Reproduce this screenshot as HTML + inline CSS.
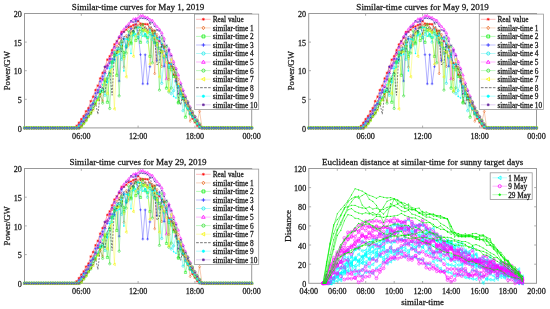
<!DOCTYPE html><html><head><meta charset="utf-8"><title>figure</title><style>html,body{margin:0;padding:0;background:#fff}svg{display:block}text{font-family:'Liberation Serif', 'Times New Roman', serif;fill:#1a1a1a;stroke:#1a1a1a;stroke-width:0.26px}</style></head><body>
<svg width="550" height="309" viewBox="0 0 550 309" font-size="8.1">
<rect width="550" height="309" fill="#fff"/>
<rect x="24.5" y="13.5" width="227.2" height="114.4" fill="none" stroke="#999" stroke-width="1"/>
<path d="M81.3 127.9v-2.3M81.3 13.5v2.3M138.1 127.9v-2.3M138.1 13.5v2.3M194.9 127.9v-2.3M194.9 13.5v2.3M24.5 99.3h2.3M251.7 99.3h-2.3M24.5 70.7h2.3M251.7 70.7h-2.3M24.5 42.1h2.3M251.7 42.1h-2.3" stroke="#999" stroke-width="0.8" fill="none"/>
<path d="M24.5 127.9 26.9 127.9 29.2 127.9 31.6 127.9 34 127.9 36.3 127.9 38.7 127.9 41.1 127.9 43.4 127.9 45.8 127.9 48.2 127.9 50.5 127.9 52.9 127.9 55.3 127.9 57.6 127.9 60 127.9 62.4 127.9 64.7 127.9 67.1 127.9 69.5 127.9 71.8 127.9 74.2 127.9 76.6 126 78.9 122.8 81.3 119.2 83.7 116.1 86 111.3 88.4 108.2 90.8 101.2 93.1 96.8 95.5 90.1 97.9 85.6 100.2 78.4 102.6 72.9 105 67 107.3 59.7 109.7 56.3 112.1 50.2 114.4 44.4 116.8 41.3 119.2 37.9 121.5 31.9 123.9 31.6 126.3 29.7 128.6 27.2 131 26.5 133.4 25.1 135.7 24.4 138.1 21.1 140.5 23.6 142.8 24 145.2 24.2 147.6 24.3 149.9 28.5 152.3 31.3 154.7 30.7 157 38.1 159.4 41 161.8 44 164.1 47 166.5 56.1 168.9 63.2 171.2 66.5 173.6 74.7 176 81.3 178.3 87 180.7 93.9 183.1 99.4 185.4 105.2 187.8 109.4 190.2 113.8 192.5 118.6 194.9 122.3 197.3 125.7 199.6 127.9 202 127.9 204.4 127.9 206.7 127.9 209.1 127.9 211.5 127.9 213.8 127.9 216.2 127.9 218.6 127.9 220.9 127.9 223.3 127.9 225.7 127.9 228 127.9 230.4 127.9 232.8 127.9 235.1 127.9 237.5 127.9 239.9 127.9 242.2 127.9 244.6 127.9 247 127.9 249.3 127.9 251.7 127.9" fill="none" stroke="#ff0000" stroke-width="0.35"/>
<path d="M23.1 127.9h2.7M24.5 126.6v2.7M23.6 127l1.9 1.9M23.6 128.8l1.9 -1.9M25.5 127.9h2.7M26.9 126.6v2.7M25.9 127l1.9 1.9M25.9 128.8l1.9 -1.9M27.9 127.9h2.7M29.2 126.6v2.7M28.3 127l1.9 1.9M28.3 128.8l1.9 -1.9M30.2 127.9h2.7M31.6 126.6v2.7M30.7 127l1.9 1.9M30.7 128.8l1.9 -1.9M32.6 127.9h2.7M34 126.6v2.7M33 127l1.9 1.9M33 128.8l1.9 -1.9M35 127.9h2.7M36.3 126.6v2.7M35.4 127l1.9 1.9M35.4 128.8l1.9 -1.9M37.4 127.9h2.7M38.7 126.6v2.7M37.8 127l1.9 1.9M37.8 128.8l1.9 -1.9M39.7 127.9h2.7M41.1 126.6v2.7M40.1 127l1.9 1.9M40.1 128.8l1.9 -1.9M42.1 127.9h2.7M43.4 126.6v2.7M42.5 127l1.9 1.9M42.5 128.8l1.9 -1.9M44.4 127.9h2.7M45.8 126.6v2.7M44.9 127l1.9 1.9M44.9 128.8l1.9 -1.9M46.8 127.9h2.7M48.2 126.6v2.7M47.2 127l1.9 1.9M47.2 128.8l1.9 -1.9M49.2 127.9h2.7M50.5 126.6v2.7M49.6 127l1.9 1.9M49.6 128.8l1.9 -1.9M51.5 127.9h2.7M52.9 126.6v2.7M52 127l1.9 1.9M52 128.8l1.9 -1.9M53.9 127.9h2.7M55.3 126.6v2.7M54.3 127l1.9 1.9M54.3 128.8l1.9 -1.9M56.3 127.9h2.7M57.6 126.6v2.7M56.7 127l1.9 1.9M56.7 128.8l1.9 -1.9M58.6 127.9h2.7M60 126.6v2.7M59.1 127l1.9 1.9M59.1 128.8l1.9 -1.9M61 127.9h2.7M62.4 126.6v2.7M61.4 127l1.9 1.9M61.4 128.8l1.9 -1.9M63.4 127.9h2.7M64.7 126.6v2.7M63.8 127l1.9 1.9M63.8 128.8l1.9 -1.9M65.8 127.9h2.7M67.1 126.6v2.7M66.2 127l1.9 1.9M66.2 128.8l1.9 -1.9M68.1 127.9h2.7M69.5 126.6v2.7M68.5 127l1.9 1.9M68.5 128.8l1.9 -1.9M70.5 127.9h2.7M71.8 126.6v2.7M70.9 127l1.9 1.9M70.9 128.8l1.9 -1.9M72.9 127.9h2.7M74.2 126.6v2.7M73.3 127l1.9 1.9M73.3 128.8l1.9 -1.9M75.2 126h2.7M76.6 124.6v2.7M75.6 125l1.9 1.9M75.6 126.9l1.9 -1.9M77.6 122.8h2.7M78.9 121.4v2.7M78 121.8l1.9 1.9M78 123.7l1.9 -1.9M80 119.2h2.7M81.3 117.8v2.7M80.4 118.2l1.9 1.9M80.4 120.1l1.9 -1.9M82.3 116.1h2.7M83.7 114.7v2.7M82.7 115.1l1.9 1.9M82.7 117l1.9 -1.9M84.7 111.3h2.7M86 110v2.7M85.1 110.4l1.9 1.9M85.1 112.3l1.9 -1.9M87.1 108.2h2.7M88.4 106.8v2.7M87.5 107.2l1.9 1.9M87.5 109.1l1.9 -1.9M89.4 101.2h2.7M90.8 99.9v2.7M89.8 100.3l1.9 1.9M89.8 102.2l1.9 -1.9M91.8 96.8h2.7M93.1 95.4v2.7M92.2 95.8l1.9 1.9M92.2 97.7l1.9 -1.9M94.2 90.1h2.7M95.5 88.7v2.7M94.6 89.1l1.9 1.9M94.6 91l1.9 -1.9M96.5 85.6h2.7M97.9 84.3v2.7M96.9 84.7l1.9 1.9M96.9 86.6l1.9 -1.9M98.9 78.4h2.7M100.2 77.1v2.7M99.3 77.5l1.9 1.9M99.3 79.4l1.9 -1.9M101.2 72.9h2.7M102.6 71.5v2.7M101.7 71.9l1.9 1.9M101.7 73.8l1.9 -1.9M103.6 67h2.7M105 65.6v2.7M104 66l1.9 1.9M104 67.9l1.9 -1.9M106 59.7h2.7M107.3 58.4v2.7M106.4 58.8l1.9 1.9M106.4 60.7l1.9 -1.9M108.4 56.3h2.7M109.7 54.9v2.7M108.8 55.3l1.9 1.9M108.8 57.2l1.9 -1.9M110.7 50.2h2.7M112.1 48.9v2.7M111.1 49.3l1.9 1.9M111.1 51.2l1.9 -1.9M113.1 44.4h2.7M114.4 43.1v2.7M113.5 43.5l1.9 1.9M113.5 45.4l1.9 -1.9M115.5 41.3h2.7M116.8 39.9v2.7M115.9 40.3l1.9 1.9M115.9 42.2l1.9 -1.9M117.8 37.9h2.7M119.2 36.6v2.7M118.2 37l1.9 1.9M118.2 38.9l1.9 -1.9M120.2 31.9h2.7M121.5 30.6v2.7M120.6 31l1.9 1.9M120.6 32.8l1.9 -1.9M122.6 31.6h2.7M123.9 30.3v2.7M123 30.7l1.9 1.9M123 32.6l1.9 -1.9M124.9 29.7h2.7M126.3 28.3v2.7M125.3 28.7l1.9 1.9M125.3 30.6l1.9 -1.9M127.3 27.2h2.7M128.6 25.9v2.7M127.7 26.3l1.9 1.9M127.7 28.2l1.9 -1.9M129.7 26.5h2.7M131 25.1v2.7M130.1 25.5l1.9 1.9M130.1 27.4l1.9 -1.9M132 25.1h2.7M133.4 23.7v2.7M132.4 24.1l1.9 1.9M132.4 26l1.9 -1.9M134.4 24.4h2.7M135.7 23.1v2.7M134.8 23.5l1.9 1.9M134.8 25.4l1.9 -1.9M136.8 21.1h2.7M138.1 19.8v2.7M137.2 20.2l1.9 1.9M137.2 22.1l1.9 -1.9M139.1 23.6h2.7M140.5 22.2v2.7M139.5 22.6l1.9 1.9M139.5 24.5l1.9 -1.9M141.5 24h2.7M142.8 22.7v2.7M141.9 23.1l1.9 1.9M141.9 25l1.9 -1.9M143.8 24.2h2.7M145.2 22.8v2.7M144.3 23.2l1.9 1.9M144.3 25.1l1.9 -1.9M146.2 24.3h2.7M147.6 22.9v2.7M146.6 23.3l1.9 1.9M146.6 25.2l1.9 -1.9M148.6 28.5h2.7M149.9 27.2v2.7M149 27.6l1.9 1.9M149 29.5l1.9 -1.9M151 31.3h2.7M152.3 30v2.7M151.4 30.4l1.9 1.9M151.4 32.3l1.9 -1.9M153.3 30.7h2.7M154.7 29.3v2.7M153.7 29.7l1.9 1.9M153.7 31.6l1.9 -1.9M155.7 38.1h2.7M157 36.8v2.7M156.1 37.2l1.9 1.9M156.1 39.1l1.9 -1.9M158.1 41h2.7M159.4 39.7v2.7M158.5 40.1l1.9 1.9M158.5 42l1.9 -1.9M160.4 44h2.7M161.8 42.7v2.7M160.8 43.1l1.9 1.9M160.8 45l1.9 -1.9M162.8 47h2.7M164.1 45.6v2.7M163.2 46l1.9 1.9M163.2 47.9l1.9 -1.9M165.2 56.1h2.7M166.5 54.7v2.7M165.6 55.1l1.9 1.9M165.6 57l1.9 -1.9M167.5 63.2h2.7M168.9 61.8v2.7M167.9 62.2l1.9 1.9M167.9 64.1l1.9 -1.9M169.9 66.5h2.7M171.2 65.1v2.7M170.3 65.5l1.9 1.9M170.3 67.4l1.9 -1.9M172.2 74.7h2.7M173.6 73.3v2.7M172.7 73.7l1.9 1.9M172.7 75.6l1.9 -1.9M174.6 81.3h2.7M176 79.9v2.7M175 80.3l1.9 1.9M175 82.2l1.9 -1.9M177 87h2.7M178.3 85.7v2.7M177.4 86.1l1.9 1.9M177.4 88l1.9 -1.9M179.3 93.9h2.7M180.7 92.6v2.7M179.8 93l1.9 1.9M179.8 94.9l1.9 -1.9M181.7 99.4h2.7M183.1 98v2.7M182.1 98.4l1.9 1.9M182.1 100.3l1.9 -1.9M184.1 105.2h2.7M185.4 103.9v2.7M184.5 104.3l1.9 1.9M184.5 106.2l1.9 -1.9M186.5 109.4h2.7M187.8 108v2.7M186.9 108.4l1.9 1.9M186.9 110.3l1.9 -1.9M188.8 113.8h2.7M190.2 112.4v2.7M189.2 112.8l1.9 1.9M189.2 114.7l1.9 -1.9M191.2 118.6h2.7M192.5 117.3v2.7M191.6 117.7l1.9 1.9M191.6 119.6l1.9 -1.9M193.6 122.3h2.7M194.9 121v2.7M194 121.4l1.9 1.9M194 123.3l1.9 -1.9M195.9 125.7h2.7M197.3 124.4v2.7M196.3 124.8l1.9 1.9M196.3 126.7l1.9 -1.9M198.3 127.9h2.7M199.6 126.6v2.7M198.7 127l1.9 1.9M198.7 128.8l1.9 -1.9M200.7 127.9h2.7M202 126.6v2.7M201.1 127l1.9 1.9M201.1 128.8l1.9 -1.9M203 127.9h2.7M204.4 126.6v2.7M203.4 127l1.9 1.9M203.4 128.8l1.9 -1.9M205.4 127.9h2.7M206.7 126.6v2.7M205.8 127l1.9 1.9M205.8 128.8l1.9 -1.9M207.8 127.9h2.7M209.1 126.6v2.7M208.2 127l1.9 1.9M208.2 128.8l1.9 -1.9M210.1 127.9h2.7M211.5 126.6v2.7M210.5 127l1.9 1.9M210.5 128.8l1.9 -1.9M212.5 127.9h2.7M213.8 126.6v2.7M212.9 127l1.9 1.9M212.9 128.8l1.9 -1.9M214.8 127.9h2.7M216.2 126.6v2.7M215.3 127l1.9 1.9M215.3 128.8l1.9 -1.9M217.2 127.9h2.7M218.6 126.6v2.7M217.6 127l1.9 1.9M217.6 128.8l1.9 -1.9M219.6 127.9h2.7M220.9 126.6v2.7M220 127l1.9 1.9M220 128.8l1.9 -1.9M222 127.9h2.7M223.3 126.6v2.7M222.4 127l1.9 1.9M222.4 128.8l1.9 -1.9M224.3 127.9h2.7M225.7 126.6v2.7M224.7 127l1.9 1.9M224.7 128.8l1.9 -1.9M226.7 127.9h2.7M228 126.6v2.7M227.1 127l1.9 1.9M227.1 128.8l1.9 -1.9M229.1 127.9h2.7M230.4 126.6v2.7M229.5 127l1.9 1.9M229.5 128.8l1.9 -1.9M231.4 127.9h2.7M232.8 126.6v2.7M231.8 127l1.9 1.9M231.8 128.8l1.9 -1.9M233.8 127.9h2.7M235.1 126.6v2.7M234.2 127l1.9 1.9M234.2 128.8l1.9 -1.9M236.2 127.9h2.7M237.5 126.6v2.7M236.6 127l1.9 1.9M236.6 128.8l1.9 -1.9M238.5 127.9h2.7M239.9 126.6v2.7M238.9 127l1.9 1.9M238.9 128.8l1.9 -1.9M240.9 127.9h2.7M242.2 126.6v2.7M241.3 127l1.9 1.9M241.3 128.8l1.9 -1.9M243.2 127.9h2.7M244.6 126.6v2.7M243.7 127l1.9 1.9M243.7 128.8l1.9 -1.9M245.6 127.9h2.7M247 126.6v2.7M246 127l1.9 1.9M246 128.8l1.9 -1.9M248 127.9h2.7M249.3 126.6v2.7M248.4 127l1.9 1.9M248.4 128.8l1.9 -1.9M250.3 127.9h2.7M251.7 126.6v2.7M250.8 127l1.9 1.9M250.8 128.8l1.9 -1.9" fill="none" stroke="#ff0000" stroke-width="0.5"/>
<path d="M24.5 127.9 26.9 127.9 29.2 127.9 31.6 127.9 34 127.9 36.3 127.9 38.7 127.9 41.1 127.9 43.4 127.9 45.8 127.9 48.2 127.9 50.5 127.9 52.9 127.9 55.3 127.9 57.6 127.9 60 127.9 62.4 127.9 64.7 127.9 67.1 127.9 69.5 127.9 71.8 127.9 74.2 127.9 76.6 127.9 78.9 125.3 81.3 122.3 83.7 119 86 114.4 88.4 110.9 90.8 106.8 93.1 101.5 95.5 96.8 97.9 91.1 100.2 95.3 102.6 100.9 105 71.3 107.3 65.6 109.7 60.8 112.1 54.4 114.4 51.1 116.8 46.2 119.2 43.2 121.5 38.5 123.9 67.1 126.3 35.6 128.6 45 131 30.2 133.4 27.9 135.7 26.7 138.1 24.9 140.5 24.5 142.8 24.9 145.2 27.7 147.6 31.1 149.9 28 152.3 29.5 154.7 73.6 157 34.5 159.4 52.5 161.8 66.4 164.1 45.7 166.5 51.5 168.9 79.4 171.2 63.3 173.6 67.6 176 76 178.3 79.3 180.7 90.9 183.1 94.8 185.4 101 187.8 105.5 190.2 121 192.5 114.3 194.9 118.6 197.3 121.9 199.6 111.3 202 127.9 204.4 127.9 206.7 127.9 209.1 127.9 211.5 127.9 213.8 127.9 216.2 127.9 218.6 127.9 220.9 127.9 223.3 127.9 225.7 127.9 228 127.9 230.4 127.9 232.8 127.9 235.1 127.9 237.5 127.9 239.9 127.9 242.2 127.9 244.6 127.9 247 127.9 249.3 127.9 251.7 127.9" fill="none" stroke="#e8641e" stroke-width="0.35"/>
<path d="M24.5 126.6l1 1.4l-1 1.4l-1 -1.4zM26.9 126.6l1 1.4l-1 1.4l-1 -1.4zM29.2 126.6l1 1.4l-1 1.4l-1 -1.4zM31.6 126.6l1 1.4l-1 1.4l-1 -1.4zM34 126.6l1 1.4l-1 1.4l-1 -1.4zM36.3 126.6l1 1.4l-1 1.4l-1 -1.4zM38.7 126.6l1 1.4l-1 1.4l-1 -1.4zM41.1 126.6l1 1.4l-1 1.4l-1 -1.4zM43.4 126.6l1 1.4l-1 1.4l-1 -1.4zM45.8 126.6l1 1.4l-1 1.4l-1 -1.4zM48.2 126.6l1 1.4l-1 1.4l-1 -1.4zM50.5 126.6l1 1.4l-1 1.4l-1 -1.4zM52.9 126.6l1 1.4l-1 1.4l-1 -1.4zM55.3 126.6l1 1.4l-1 1.4l-1 -1.4zM57.6 126.6l1 1.4l-1 1.4l-1 -1.4zM60 126.6l1 1.4l-1 1.4l-1 -1.4zM62.4 126.6l1 1.4l-1 1.4l-1 -1.4zM64.7 126.6l1 1.4l-1 1.4l-1 -1.4zM67.1 126.6l1 1.4l-1 1.4l-1 -1.4zM69.5 126.6l1 1.4l-1 1.4l-1 -1.4zM71.8 126.6l1 1.4l-1 1.4l-1 -1.4zM74.2 126.6l1 1.4l-1 1.4l-1 -1.4zM76.6 126.6l1 1.4l-1 1.4l-1 -1.4zM78.9 123.9l1 1.4l-1 1.4l-1 -1.4zM81.3 120.9l1 1.4l-1 1.4l-1 -1.4zM83.7 117.6l1 1.4l-1 1.4l-1 -1.4zM86 113.1l1 1.4l-1 1.4l-1 -1.4zM88.4 109.6l1 1.4l-1 1.4l-1 -1.4zM90.8 105.4l1 1.4l-1 1.4l-1 -1.4zM93.1 100.1l1 1.4l-1 1.4l-1 -1.4zM95.5 95.4l1 1.4l-1 1.4l-1 -1.4zM97.9 89.7l1 1.4l-1 1.4l-1 -1.4zM100.2 93.9l1 1.4l-1 1.4l-1 -1.4zM102.6 99.6l1 1.4l-1 1.4l-1 -1.4zM105 70l1 1.4l-1 1.4l-1 -1.4zM107.3 64.2l1 1.4l-1 1.4l-1 -1.4zM109.7 59.4l1 1.4l-1 1.4l-1 -1.4zM112.1 53l1 1.4l-1 1.4l-1 -1.4zM114.4 49.8l1 1.4l-1 1.4l-1 -1.4zM116.8 44.8l1 1.4l-1 1.4l-1 -1.4zM119.2 41.8l1 1.4l-1 1.4l-1 -1.4zM121.5 37.1l1 1.4l-1 1.4l-1 -1.4zM123.9 65.7l1 1.4l-1 1.4l-1 -1.4zM126.3 34.3l1 1.4l-1 1.4l-1 -1.4zM128.6 43.6l1 1.4l-1 1.4l-1 -1.4zM131 28.9l1 1.4l-1 1.4l-1 -1.4zM133.4 26.5l1 1.4l-1 1.4l-1 -1.4zM135.7 25.3l1 1.4l-1 1.4l-1 -1.4zM138.1 23.6l1 1.4l-1 1.4l-1 -1.4zM140.5 23.1l1 1.4l-1 1.4l-1 -1.4zM142.8 23.6l1 1.4l-1 1.4l-1 -1.4zM145.2 26.4l1 1.4l-1 1.4l-1 -1.4zM147.6 29.8l1 1.4l-1 1.4l-1 -1.4zM149.9 26.7l1 1.4l-1 1.4l-1 -1.4zM152.3 28.2l1 1.4l-1 1.4l-1 -1.4zM154.7 72.2l1 1.4l-1 1.4l-1 -1.4zM157 33.1l1 1.4l-1 1.4l-1 -1.4zM159.4 51.1l1 1.4l-1 1.4l-1 -1.4zM161.8 65.1l1 1.4l-1 1.4l-1 -1.4zM164.1 44.4l1 1.4l-1 1.4l-1 -1.4zM166.5 50.2l1 1.4l-1 1.4l-1 -1.4zM168.9 78l1 1.4l-1 1.4l-1 -1.4zM171.2 62l1 1.4l-1 1.4l-1 -1.4zM173.6 66.2l1 1.4l-1 1.4l-1 -1.4zM176 74.6l1 1.4l-1 1.4l-1 -1.4zM178.3 77.9l1 1.4l-1 1.4l-1 -1.4zM180.7 89.5l1 1.4l-1 1.4l-1 -1.4zM183.1 93.5l1 1.4l-1 1.4l-1 -1.4zM185.4 99.7l1 1.4l-1 1.4l-1 -1.4zM187.8 104.2l1 1.4l-1 1.4l-1 -1.4zM190.2 119.7l1 1.4l-1 1.4l-1 -1.4zM192.5 112.9l1 1.4l-1 1.4l-1 -1.4zM194.9 117.2l1 1.4l-1 1.4l-1 -1.4zM197.3 120.6l1 1.4l-1 1.4l-1 -1.4zM199.6 110l1 1.4l-1 1.4l-1 -1.4zM202 126.6l1 1.4l-1 1.4l-1 -1.4zM204.4 126.6l1 1.4l-1 1.4l-1 -1.4zM206.7 126.6l1 1.4l-1 1.4l-1 -1.4zM209.1 126.6l1 1.4l-1 1.4l-1 -1.4zM211.5 126.6l1 1.4l-1 1.4l-1 -1.4zM213.8 126.6l1 1.4l-1 1.4l-1 -1.4zM216.2 126.6l1 1.4l-1 1.4l-1 -1.4zM218.6 126.6l1 1.4l-1 1.4l-1 -1.4zM220.9 126.6l1 1.4l-1 1.4l-1 -1.4zM223.3 126.6l1 1.4l-1 1.4l-1 -1.4zM225.7 126.6l1 1.4l-1 1.4l-1 -1.4zM228 126.6l1 1.4l-1 1.4l-1 -1.4zM230.4 126.6l1 1.4l-1 1.4l-1 -1.4zM232.8 126.6l1 1.4l-1 1.4l-1 -1.4zM235.1 126.6l1 1.4l-1 1.4l-1 -1.4zM237.5 126.6l1 1.4l-1 1.4l-1 -1.4zM239.9 126.6l1 1.4l-1 1.4l-1 -1.4zM242.2 126.6l1 1.4l-1 1.4l-1 -1.4zM244.6 126.6l1 1.4l-1 1.4l-1 -1.4zM247 126.6l1 1.4l-1 1.4l-1 -1.4zM249.3 126.6l1 1.4l-1 1.4l-1 -1.4zM251.7 126.6l1 1.4l-1 1.4l-1 -1.4z" fill="none" stroke="#e8641e" stroke-width="0.5"/>
<path d="M24.5 127.9 26.9 127.9 29.2 127.9 31.6 127.9 34 127.9 36.3 127.9 38.7 127.9 41.1 127.9 43.4 127.9 45.8 127.9 48.2 127.9 50.5 127.9 52.9 127.9 55.3 127.9 57.6 127.9 60 127.9 62.4 127.9 64.7 127.9 67.1 127.9 69.5 127.9 71.8 127.9 74.2 127.9 76.6 127.9 78.9 127.9 81.3 125.6 83.7 122.7 86 119.3 88.4 115 90.8 111.8 93.1 104.4 95.5 101.2 97.9 99.3 100.2 90.8 102.6 91.4 105 80 107.3 102.2 109.7 74.1 112.1 62.7 114.4 53.8 116.8 75.2 119.2 50.4 121.5 41.6 123.9 56.4 126.3 46.2 128.6 39.2 131 43.7 133.4 32 135.7 40.5 138.1 37.7 140.5 42.3 142.8 30 145.2 35.7 147.6 37.4 149.9 56.4 152.3 34.7 154.7 42.2 157 43.6 159.4 48.3 161.8 51.8 164.1 56.8 166.5 88.1 168.9 67.3 171.2 69.7 173.6 76.4 176 76.9 178.3 102.9 180.7 93.4 183.1 97.2 185.4 117 187.8 107.8 190.2 113.6 192.5 115.6 194.9 120.6 197.3 123.6 199.6 126.6 202 127.9 204.4 127.9 206.7 127.9 209.1 127.9 211.5 127.9 213.8 127.9 216.2 127.9 218.6 127.9 220.9 127.9 223.3 127.9 225.7 127.9 228 127.9 230.4 127.9 232.8 127.9 235.1 127.9 237.5 127.9 239.9 127.9 242.2 127.9 244.6 127.9 247 127.9 249.3 127.9 251.7 127.9" fill="none" stroke="#00ee00" stroke-width="0.35"/>
<path d="M23.4 126.8h2.2v2.2h-2.2zM25.8 126.8h2.2v2.2h-2.2zM28.2 126.8h2.2v2.2h-2.2zM30.5 126.8h2.2v2.2h-2.2zM32.9 126.8h2.2v2.2h-2.2zM35.3 126.8h2.2v2.2h-2.2zM37.6 126.8h2.2v2.2h-2.2zM40 126.8h2.2v2.2h-2.2zM42.4 126.8h2.2v2.2h-2.2zM44.7 126.8h2.2v2.2h-2.2zM47.1 126.8h2.2v2.2h-2.2zM49.5 126.8h2.2v2.2h-2.2zM51.8 126.8h2.2v2.2h-2.2zM54.2 126.8h2.2v2.2h-2.2zM56.6 126.8h2.2v2.2h-2.2zM58.9 126.8h2.2v2.2h-2.2zM61.3 126.8h2.2v2.2h-2.2zM63.7 126.8h2.2v2.2h-2.2zM66 126.8h2.2v2.2h-2.2zM68.4 126.8h2.2v2.2h-2.2zM70.8 126.8h2.2v2.2h-2.2zM73.1 126.8h2.2v2.2h-2.2zM75.5 126.8h2.2v2.2h-2.2zM77.9 126.8h2.2v2.2h-2.2zM80.2 124.5h2.2v2.2h-2.2zM82.6 121.6h2.2v2.2h-2.2zM85 118.2h2.2v2.2h-2.2zM87.3 113.9h2.2v2.2h-2.2zM89.7 110.7h2.2v2.2h-2.2zM92.1 103.4h2.2v2.2h-2.2zM94.4 100.1h2.2v2.2h-2.2zM96.8 98.2h2.2v2.2h-2.2zM99.2 89.8h2.2v2.2h-2.2zM101.5 90.3h2.2v2.2h-2.2zM103.9 78.9h2.2v2.2h-2.2zM106.3 101.1h2.2v2.2h-2.2zM108.6 73h2.2v2.2h-2.2zM111 61.6h2.2v2.2h-2.2zM113.4 52.8h2.2v2.2h-2.2zM115.7 74.1h2.2v2.2h-2.2zM118.1 49.3h2.2v2.2h-2.2zM120.5 40.6h2.2v2.2h-2.2zM122.8 55.3h2.2v2.2h-2.2zM125.2 45.1h2.2v2.2h-2.2zM127.6 38.1h2.2v2.2h-2.2zM129.9 42.6h2.2v2.2h-2.2zM132.3 30.9h2.2v2.2h-2.2zM134.7 39.4h2.2v2.2h-2.2zM137 36.6h2.2v2.2h-2.2zM139.4 41.2h2.2v2.2h-2.2zM141.8 28.9h2.2v2.2h-2.2zM144.1 34.6h2.2v2.2h-2.2zM146.5 36.3h2.2v2.2h-2.2zM148.9 55.3h2.2v2.2h-2.2zM151.2 33.7h2.2v2.2h-2.2zM153.6 41.1h2.2v2.2h-2.2zM156 42.5h2.2v2.2h-2.2zM158.3 47.2h2.2v2.2h-2.2zM160.7 50.7h2.2v2.2h-2.2zM163.1 55.7h2.2v2.2h-2.2zM165.4 87h2.2v2.2h-2.2zM167.8 66.2h2.2v2.2h-2.2zM170.2 68.6h2.2v2.2h-2.2zM172.5 75.3h2.2v2.2h-2.2zM174.9 75.8h2.2v2.2h-2.2zM177.3 101.8h2.2v2.2h-2.2zM179.6 92.3h2.2v2.2h-2.2zM182 96.1h2.2v2.2h-2.2zM184.4 116h2.2v2.2h-2.2zM186.7 106.8h2.2v2.2h-2.2zM189.1 112.6h2.2v2.2h-2.2zM191.5 114.5h2.2v2.2h-2.2zM193.8 119.5h2.2v2.2h-2.2zM196.2 122.5h2.2v2.2h-2.2zM198.6 125.5h2.2v2.2h-2.2zM200.9 126.8h2.2v2.2h-2.2zM203.3 126.8h2.2v2.2h-2.2zM205.7 126.8h2.2v2.2h-2.2zM208 126.8h2.2v2.2h-2.2zM210.4 126.8h2.2v2.2h-2.2zM212.8 126.8h2.2v2.2h-2.2zM215.1 126.8h2.2v2.2h-2.2zM217.5 126.8h2.2v2.2h-2.2zM219.9 126.8h2.2v2.2h-2.2zM222.2 126.8h2.2v2.2h-2.2zM224.6 126.8h2.2v2.2h-2.2zM227 126.8h2.2v2.2h-2.2zM229.3 126.8h2.2v2.2h-2.2zM231.7 126.8h2.2v2.2h-2.2zM234.1 126.8h2.2v2.2h-2.2zM236.4 126.8h2.2v2.2h-2.2zM238.8 126.8h2.2v2.2h-2.2zM241.2 126.8h2.2v2.2h-2.2zM243.5 126.8h2.2v2.2h-2.2zM245.9 126.8h2.2v2.2h-2.2zM248.3 126.8h2.2v2.2h-2.2zM250.6 126.8h2.2v2.2h-2.2z" fill="none" stroke="#00ee00" stroke-width="0.5"/>
<path d="M24.5 127.9 26.9 127.9 29.2 127.9 31.6 127.9 34 127.9 36.3 127.9 38.7 127.9 41.1 127.9 43.4 127.9 45.8 127.9 48.2 127.9 50.5 127.9 52.9 127.9 55.3 127.9 57.6 127.9 60 127.9 62.4 127.9 64.7 127.9 67.1 127.9 69.5 127.9 71.8 127.9 74.2 127.9 76.6 127.9 78.9 124.8 81.3 121.9 83.7 117.9 86 114.8 88.4 110.1 90.8 105.3 93.1 103 95.5 93.3 97.9 89.8 100.2 81.4 102.6 76.4 105 66.6 107.3 68.3 109.7 63.1 112.1 58.8 114.4 59.4 116.8 50.7 119.2 81.1 121.5 34.1 123.9 38.7 126.3 47.8 128.6 35 131 28.4 133.4 31.8 135.7 19.6 138.1 34.3 140.5 54.7 142.8 83.9 145.2 54.7 147.6 83.9 149.9 66.7 152.3 35 154.7 33.4 157 60.4 159.4 37 161.8 46.4 164.1 66.3 166.5 54.8 168.9 50.9 171.2 64.5 173.6 68.9 176 80.5 178.3 86.3 180.7 90.4 183.1 97.7 185.4 102.5 187.8 105.1 190.2 112 192.5 115 194.9 120.4 197.3 123.2 199.6 126.6 202 127.9 204.4 127.9 206.7 127.9 209.1 127.9 211.5 127.9 213.8 127.9 216.2 127.9 218.6 127.9 220.9 127.9 223.3 127.9 225.7 127.9 228 127.9 230.4 127.9 232.8 127.9 235.1 127.9 237.5 127.9 239.9 127.9 242.2 127.9 244.6 127.9 247 127.9 249.3 127.9 251.7 127.9" fill="none" stroke="#2222ff" stroke-width="0.35"/>
<path d="M23.1 127.9h2.7M24.5 126.6v2.7M25.5 127.9h2.7M26.9 126.6v2.7M27.9 127.9h2.7M29.2 126.6v2.7M30.2 127.9h2.7M31.6 126.6v2.7M32.6 127.9h2.7M34 126.6v2.7M35 127.9h2.7M36.3 126.6v2.7M37.4 127.9h2.7M38.7 126.6v2.7M39.7 127.9h2.7M41.1 126.6v2.7M42.1 127.9h2.7M43.4 126.6v2.7M44.4 127.9h2.7M45.8 126.6v2.7M46.8 127.9h2.7M48.2 126.6v2.7M49.2 127.9h2.7M50.5 126.6v2.7M51.5 127.9h2.7M52.9 126.6v2.7M53.9 127.9h2.7M55.3 126.6v2.7M56.3 127.9h2.7M57.6 126.6v2.7M58.6 127.9h2.7M60 126.6v2.7M61 127.9h2.7M62.4 126.6v2.7M63.4 127.9h2.7M64.7 126.6v2.7M65.8 127.9h2.7M67.1 126.6v2.7M68.1 127.9h2.7M69.5 126.6v2.7M70.5 127.9h2.7M71.8 126.6v2.7M72.9 127.9h2.7M74.2 126.6v2.7M75.2 127.9h2.7M76.6 126.6v2.7M77.6 124.8h2.7M78.9 123.4v2.7M80 121.9h2.7M81.3 120.6v2.7M82.3 117.9h2.7M83.7 116.6v2.7M84.7 114.8h2.7M86 113.4v2.7M87.1 110.1h2.7M88.4 108.8v2.7M89.4 105.3h2.7M90.8 104v2.7M91.8 103h2.7M93.1 101.6v2.7M94.2 93.3h2.7M95.5 91.9v2.7M96.5 89.8h2.7M97.9 88.5v2.7M98.9 81.4h2.7M100.2 80.1v2.7M101.2 76.4h2.7M102.6 75.1v2.7M103.6 66.6h2.7M105 65.3v2.7M106 68.3h2.7M107.3 66.9v2.7M108.4 63.1h2.7M109.7 61.8v2.7M110.7 58.8h2.7M112.1 57.5v2.7M113.1 59.4h2.7M114.4 58v2.7M115.5 50.7h2.7M116.8 49.4v2.7M117.8 81.1h2.7M119.2 79.7v2.7M120.2 34.1h2.7M121.5 32.8v2.7M122.6 38.7h2.7M123.9 37.4v2.7M124.9 47.8h2.7M126.3 46.5v2.7M127.3 35h2.7M128.6 33.7v2.7M129.7 28.4h2.7M131 27v2.7M132 31.8h2.7M133.4 30.5v2.7M134.4 19.6h2.7M135.7 18.2v2.7M136.8 34.3h2.7M138.1 32.9v2.7M139.1 54.7h2.7M140.5 53.3v2.7M141.5 83.9h2.7M142.8 82.5v2.7M143.8 54.7h2.7M145.2 53.3v2.7M146.2 83.9h2.7M147.6 82.5v2.7M148.6 66.7h2.7M149.9 65.3v2.7M151 35h2.7M152.3 33.6v2.7M153.3 33.4h2.7M154.7 32v2.7M155.7 60.4h2.7M157 59.1v2.7M158.1 37h2.7M159.4 35.6v2.7M160.4 46.4h2.7M161.8 45v2.7M162.8 66.3h2.7M164.1 64.9v2.7M165.2 54.8h2.7M166.5 53.5v2.7M167.5 50.9h2.7M168.9 49.5v2.7M169.9 64.5h2.7M171.2 63.2v2.7M172.2 68.9h2.7M173.6 67.5v2.7M174.6 80.5h2.7M176 79.1v2.7M177 86.3h2.7M178.3 84.9v2.7M179.3 90.4h2.7M180.7 89v2.7M181.7 97.7h2.7M183.1 96.3v2.7M184.1 102.5h2.7M185.4 101.1v2.7M186.5 105.1h2.7M187.8 103.7v2.7M188.8 112h2.7M190.2 110.6v2.7M191.2 115h2.7M192.5 113.6v2.7M193.6 120.4h2.7M194.9 119.1v2.7M195.9 123.2h2.7M197.3 121.9v2.7M198.3 126.6h2.7M199.6 125.3v2.7M200.7 127.9h2.7M202 126.6v2.7M203 127.9h2.7M204.4 126.6v2.7M205.4 127.9h2.7M206.7 126.6v2.7M207.8 127.9h2.7M209.1 126.6v2.7M210.1 127.9h2.7M211.5 126.6v2.7M212.5 127.9h2.7M213.8 126.6v2.7M214.8 127.9h2.7M216.2 126.6v2.7M217.2 127.9h2.7M218.6 126.6v2.7M219.6 127.9h2.7M220.9 126.6v2.7M222 127.9h2.7M223.3 126.6v2.7M224.3 127.9h2.7M225.7 126.6v2.7M226.7 127.9h2.7M228 126.6v2.7M229.1 127.9h2.7M230.4 126.6v2.7M231.4 127.9h2.7M232.8 126.6v2.7M233.8 127.9h2.7M235.1 126.6v2.7M236.2 127.9h2.7M237.5 126.6v2.7M238.5 127.9h2.7M239.9 126.6v2.7M240.9 127.9h2.7M242.2 126.6v2.7M243.2 127.9h2.7M244.6 126.6v2.7M245.6 127.9h2.7M247 126.6v2.7M248 127.9h2.7M249.3 126.6v2.7M250.3 127.9h2.7M251.7 126.6v2.7" fill="none" stroke="#2222ff" stroke-width="0.5"/>
<path d="M24.5 127.9 26.9 127.9 29.2 127.9 31.6 127.9 34 127.9 36.3 127.9 38.7 127.9 41.1 127.9 43.4 127.9 45.8 127.9 48.2 127.9 50.5 127.9 52.9 127.9 55.3 127.9 57.6 127.9 60 127.9 62.4 127.9 64.7 127.9 67.1 127.9 69.5 127.9 71.8 127.9 74.2 127.9 76.6 127.9 78.9 127.9 81.3 124.6 83.7 121.9 86 118.6 88.4 114.8 90.8 109.6 93.1 103.7 95.5 104 97.9 97.5 100.2 91.5 102.6 89.4 105 95.3 107.3 81.5 109.7 67.3 112.1 62.1 114.4 60.7 116.8 48.7 119.2 48.5 121.5 59.3 123.9 39 126.3 46.6 128.6 39.5 131 36 133.4 33.5 135.7 35.8 138.1 37 140.5 34.4 142.8 29.5 145.2 35 147.6 42.2 149.9 33.4 152.3 39.4 154.7 43.1 157 46.4 159.4 53.6 161.8 83.3 164.1 57.8 166.5 53.1 168.9 67 171.2 93.7 173.6 90.7 176 81.8 178.3 87.5 180.7 95.4 183.1 110.7 185.4 105.9 187.8 108.3 190.2 113.9 192.5 116.3 194.9 120.8 197.3 123.9 199.6 127.2 202 127.9 204.4 127.9 206.7 127.9 209.1 127.9 211.5 127.9 213.8 127.9 216.2 127.9 218.6 127.9 220.9 127.9 223.3 127.9 225.7 127.9 228 127.9 230.4 127.9 232.8 127.9 235.1 127.9 237.5 127.9 239.9 127.9 242.2 127.9 244.6 127.9 247 127.9 249.3 127.9 251.7 127.9" fill="none" stroke="#00e5e5" stroke-width="0.35"/>
<path d="M23.4 127.9a1.1 1.1 0 1 0 2.3 0a1.1 1.1 0 1 0 -2.3 0M25.7 127.9a1.1 1.1 0 1 0 2.3 0a1.1 1.1 0 1 0 -2.3 0M28.1 127.9a1.1 1.1 0 1 0 2.3 0a1.1 1.1 0 1 0 -2.3 0M30.5 127.9a1.1 1.1 0 1 0 2.3 0a1.1 1.1 0 1 0 -2.3 0M32.8 127.9a1.1 1.1 0 1 0 2.3 0a1.1 1.1 0 1 0 -2.3 0M35.2 127.9a1.1 1.1 0 1 0 2.3 0a1.1 1.1 0 1 0 -2.3 0M37.6 127.9a1.1 1.1 0 1 0 2.3 0a1.1 1.1 0 1 0 -2.3 0M39.9 127.9a1.1 1.1 0 1 0 2.3 0a1.1 1.1 0 1 0 -2.3 0M42.3 127.9a1.1 1.1 0 1 0 2.3 0a1.1 1.1 0 1 0 -2.3 0M44.7 127.9a1.1 1.1 0 1 0 2.3 0a1.1 1.1 0 1 0 -2.3 0M47 127.9a1.1 1.1 0 1 0 2.3 0a1.1 1.1 0 1 0 -2.3 0M49.4 127.9a1.1 1.1 0 1 0 2.3 0a1.1 1.1 0 1 0 -2.3 0M51.8 127.9a1.1 1.1 0 1 0 2.3 0a1.1 1.1 0 1 0 -2.3 0M54.1 127.9a1.1 1.1 0 1 0 2.3 0a1.1 1.1 0 1 0 -2.3 0M56.5 127.9a1.1 1.1 0 1 0 2.3 0a1.1 1.1 0 1 0 -2.3 0M58.9 127.9a1.1 1.1 0 1 0 2.3 0a1.1 1.1 0 1 0 -2.3 0M61.2 127.9a1.1 1.1 0 1 0 2.3 0a1.1 1.1 0 1 0 -2.3 0M63.6 127.9a1.1 1.1 0 1 0 2.3 0a1.1 1.1 0 1 0 -2.3 0M66 127.9a1.1 1.1 0 1 0 2.3 0a1.1 1.1 0 1 0 -2.3 0M68.3 127.9a1.1 1.1 0 1 0 2.3 0a1.1 1.1 0 1 0 -2.3 0M70.7 127.9a1.1 1.1 0 1 0 2.3 0a1.1 1.1 0 1 0 -2.3 0M73.1 127.9a1.1 1.1 0 1 0 2.3 0a1.1 1.1 0 1 0 -2.3 0M75.4 127.9a1.1 1.1 0 1 0 2.3 0a1.1 1.1 0 1 0 -2.3 0M77.8 127.9a1.1 1.1 0 1 0 2.3 0a1.1 1.1 0 1 0 -2.3 0M80.2 124.6a1.1 1.1 0 1 0 2.3 0a1.1 1.1 0 1 0 -2.3 0M82.5 121.9a1.1 1.1 0 1 0 2.3 0a1.1 1.1 0 1 0 -2.3 0M84.9 118.6a1.1 1.1 0 1 0 2.3 0a1.1 1.1 0 1 0 -2.3 0M87.3 114.8a1.1 1.1 0 1 0 2.3 0a1.1 1.1 0 1 0 -2.3 0M89.6 109.6a1.1 1.1 0 1 0 2.3 0a1.1 1.1 0 1 0 -2.3 0M92 103.7a1.1 1.1 0 1 0 2.3 0a1.1 1.1 0 1 0 -2.3 0M94.4 104a1.1 1.1 0 1 0 2.3 0a1.1 1.1 0 1 0 -2.3 0M96.7 97.5a1.1 1.1 0 1 0 2.3 0a1.1 1.1 0 1 0 -2.3 0M99.1 91.5a1.1 1.1 0 1 0 2.3 0a1.1 1.1 0 1 0 -2.3 0M101.5 89.4a1.1 1.1 0 1 0 2.3 0a1.1 1.1 0 1 0 -2.3 0M103.8 95.3a1.1 1.1 0 1 0 2.3 0a1.1 1.1 0 1 0 -2.3 0M106.2 81.5a1.1 1.1 0 1 0 2.3 0a1.1 1.1 0 1 0 -2.3 0M108.6 67.3a1.1 1.1 0 1 0 2.3 0a1.1 1.1 0 1 0 -2.3 0M110.9 62.1a1.1 1.1 0 1 0 2.3 0a1.1 1.1 0 1 0 -2.3 0M113.3 60.7a1.1 1.1 0 1 0 2.3 0a1.1 1.1 0 1 0 -2.3 0M115.7 48.7a1.1 1.1 0 1 0 2.3 0a1.1 1.1 0 1 0 -2.3 0M118 48.5a1.1 1.1 0 1 0 2.3 0a1.1 1.1 0 1 0 -2.3 0M120.4 59.3a1.1 1.1 0 1 0 2.3 0a1.1 1.1 0 1 0 -2.3 0M122.8 39a1.1 1.1 0 1 0 2.3 0a1.1 1.1 0 1 0 -2.3 0M125.1 46.6a1.1 1.1 0 1 0 2.3 0a1.1 1.1 0 1 0 -2.3 0M127.5 39.5a1.1 1.1 0 1 0 2.3 0a1.1 1.1 0 1 0 -2.3 0M129.9 36a1.1 1.1 0 1 0 2.3 0a1.1 1.1 0 1 0 -2.3 0M132.2 33.5a1.1 1.1 0 1 0 2.3 0a1.1 1.1 0 1 0 -2.3 0M134.6 35.8a1.1 1.1 0 1 0 2.3 0a1.1 1.1 0 1 0 -2.3 0M137 37a1.1 1.1 0 1 0 2.3 0a1.1 1.1 0 1 0 -2.3 0M139.3 34.4a1.1 1.1 0 1 0 2.3 0a1.1 1.1 0 1 0 -2.3 0M141.7 29.5a1.1 1.1 0 1 0 2.3 0a1.1 1.1 0 1 0 -2.3 0M144.1 35a1.1 1.1 0 1 0 2.3 0a1.1 1.1 0 1 0 -2.3 0M146.4 42.2a1.1 1.1 0 1 0 2.3 0a1.1 1.1 0 1 0 -2.3 0M148.8 33.4a1.1 1.1 0 1 0 2.3 0a1.1 1.1 0 1 0 -2.3 0M151.2 39.4a1.1 1.1 0 1 0 2.3 0a1.1 1.1 0 1 0 -2.3 0M153.5 43.1a1.1 1.1 0 1 0 2.3 0a1.1 1.1 0 1 0 -2.3 0M155.9 46.4a1.1 1.1 0 1 0 2.3 0a1.1 1.1 0 1 0 -2.3 0M158.3 53.6a1.1 1.1 0 1 0 2.3 0a1.1 1.1 0 1 0 -2.3 0M160.6 83.3a1.1 1.1 0 1 0 2.3 0a1.1 1.1 0 1 0 -2.3 0M163 57.8a1.1 1.1 0 1 0 2.3 0a1.1 1.1 0 1 0 -2.3 0M165.4 53.1a1.1 1.1 0 1 0 2.3 0a1.1 1.1 0 1 0 -2.3 0M167.7 67a1.1 1.1 0 1 0 2.3 0a1.1 1.1 0 1 0 -2.3 0M170.1 93.7a1.1 1.1 0 1 0 2.3 0a1.1 1.1 0 1 0 -2.3 0M172.5 90.7a1.1 1.1 0 1 0 2.3 0a1.1 1.1 0 1 0 -2.3 0M174.8 81.8a1.1 1.1 0 1 0 2.3 0a1.1 1.1 0 1 0 -2.3 0M177.2 87.5a1.1 1.1 0 1 0 2.3 0a1.1 1.1 0 1 0 -2.3 0M179.6 95.4a1.1 1.1 0 1 0 2.3 0a1.1 1.1 0 1 0 -2.3 0M181.9 110.7a1.1 1.1 0 1 0 2.3 0a1.1 1.1 0 1 0 -2.3 0M184.3 105.9a1.1 1.1 0 1 0 2.3 0a1.1 1.1 0 1 0 -2.3 0M186.7 108.3a1.1 1.1 0 1 0 2.3 0a1.1 1.1 0 1 0 -2.3 0M189 113.9a1.1 1.1 0 1 0 2.3 0a1.1 1.1 0 1 0 -2.3 0M191.4 116.3a1.1 1.1 0 1 0 2.3 0a1.1 1.1 0 1 0 -2.3 0M193.8 120.8a1.1 1.1 0 1 0 2.3 0a1.1 1.1 0 1 0 -2.3 0M196.1 123.9a1.1 1.1 0 1 0 2.3 0a1.1 1.1 0 1 0 -2.3 0M198.5 127.2a1.1 1.1 0 1 0 2.3 0a1.1 1.1 0 1 0 -2.3 0M200.9 127.9a1.1 1.1 0 1 0 2.3 0a1.1 1.1 0 1 0 -2.3 0M203.2 127.9a1.1 1.1 0 1 0 2.3 0a1.1 1.1 0 1 0 -2.3 0M205.6 127.9a1.1 1.1 0 1 0 2.3 0a1.1 1.1 0 1 0 -2.3 0M208 127.9a1.1 1.1 0 1 0 2.3 0a1.1 1.1 0 1 0 -2.3 0M210.3 127.9a1.1 1.1 0 1 0 2.3 0a1.1 1.1 0 1 0 -2.3 0M212.7 127.9a1.1 1.1 0 1 0 2.3 0a1.1 1.1 0 1 0 -2.3 0M215.1 127.9a1.1 1.1 0 1 0 2.3 0a1.1 1.1 0 1 0 -2.3 0M217.4 127.9a1.1 1.1 0 1 0 2.3 0a1.1 1.1 0 1 0 -2.3 0M219.8 127.9a1.1 1.1 0 1 0 2.3 0a1.1 1.1 0 1 0 -2.3 0M222.2 127.9a1.1 1.1 0 1 0 2.3 0a1.1 1.1 0 1 0 -2.3 0M224.5 127.9a1.1 1.1 0 1 0 2.3 0a1.1 1.1 0 1 0 -2.3 0M226.9 127.9a1.1 1.1 0 1 0 2.3 0a1.1 1.1 0 1 0 -2.3 0M229.3 127.9a1.1 1.1 0 1 0 2.3 0a1.1 1.1 0 1 0 -2.3 0M231.6 127.9a1.1 1.1 0 1 0 2.3 0a1.1 1.1 0 1 0 -2.3 0M234 127.9a1.1 1.1 0 1 0 2.3 0a1.1 1.1 0 1 0 -2.3 0M236.4 127.9a1.1 1.1 0 1 0 2.3 0a1.1 1.1 0 1 0 -2.3 0M238.7 127.9a1.1 1.1 0 1 0 2.3 0a1.1 1.1 0 1 0 -2.3 0M241.1 127.9a1.1 1.1 0 1 0 2.3 0a1.1 1.1 0 1 0 -2.3 0M243.5 127.9a1.1 1.1 0 1 0 2.3 0a1.1 1.1 0 1 0 -2.3 0M245.8 127.9a1.1 1.1 0 1 0 2.3 0a1.1 1.1 0 1 0 -2.3 0M248.2 127.9a1.1 1.1 0 1 0 2.3 0a1.1 1.1 0 1 0 -2.3 0M250.6 127.9a1.1 1.1 0 1 0 2.3 0a1.1 1.1 0 1 0 -2.3 0" fill="none" stroke="#00e5e5" stroke-width="0.5"/>
<path d="M24.5 127.9 26.9 127.9 29.2 127.9 31.6 127.9 34 127.9 36.3 127.9 38.7 127.9 41.1 127.9 43.4 127.9 45.8 127.9 48.2 127.9 50.5 127.9 52.9 127.9 55.3 127.9 57.6 127.9 60 127.9 62.4 127.9 64.7 127.9 67.1 127.9 69.5 127.9 71.8 127.9 74.2 127.9 76.6 127.9 78.9 127.9 81.3 125.1 83.7 121.4 86 117.9 88.4 113.4 90.8 108.9 93.1 103.4 95.5 98.4 97.9 92 100.2 86.6 102.6 79.5 105 72.6 107.3 65.1 109.7 58.8 112.1 53.1 114.4 47.4 116.8 42.7 119.2 36.5 121.5 32.7 123.9 29.1 126.3 26.2 128.6 23.9 131 21.6 133.4 19.1 135.7 18.6 138.1 17.9 140.5 15.6 142.8 15.5 145.2 17.1 147.6 17.6 149.9 19.4 152.3 20.3 154.7 23.8 157 26.5 159.4 29.3 161.8 32.7 164.1 38.3 166.5 78.7 168.9 48.9 171.2 54.7 173.6 61.5 176 68.2 178.3 74.9 180.7 83 183.1 89.9 185.4 95.9 187.8 101.3 190.2 106.9 192.5 112 194.9 116.2 197.3 120.5 199.6 124.1 202 127.9 204.4 127.9 206.7 127.9 209.1 127.9 211.5 127.9 213.8 127.9 216.2 127.9 218.6 127.9 220.9 127.9 223.3 127.9 225.7 127.9 228 127.9 230.4 127.9 232.8 127.9 235.1 127.9 237.5 127.9 239.9 127.9 242.2 127.9 244.6 127.9 247 127.9 249.3 127.9 251.7 127.9" fill="none" stroke="#ff00ff" stroke-width="0.35"/>
<path d="M24.5 126.6l1.4 2.3h-2.7zM26.9 126.6l1.4 2.3h-2.7zM29.2 126.6l1.4 2.3h-2.7zM31.6 126.6l1.4 2.3h-2.7zM34 126.6l1.4 2.3h-2.7zM36.3 126.6l1.4 2.3h-2.7zM38.7 126.6l1.4 2.3h-2.7zM41.1 126.6l1.4 2.3h-2.7zM43.4 126.6l1.4 2.3h-2.7zM45.8 126.6l1.4 2.3h-2.7zM48.2 126.6l1.4 2.3h-2.7zM50.5 126.6l1.4 2.3h-2.7zM52.9 126.6l1.4 2.3h-2.7zM55.3 126.6l1.4 2.3h-2.7zM57.6 126.6l1.4 2.3h-2.7zM60 126.6l1.4 2.3h-2.7zM62.4 126.6l1.4 2.3h-2.7zM64.7 126.6l1.4 2.3h-2.7zM67.1 126.6l1.4 2.3h-2.7zM69.5 126.6l1.4 2.3h-2.7zM71.8 126.6l1.4 2.3h-2.7zM74.2 126.6l1.4 2.3h-2.7zM76.6 126.6l1.4 2.3h-2.7zM78.9 126.6l1.4 2.3h-2.7zM81.3 123.8l1.4 2.3h-2.7zM83.7 120.1l1.4 2.3h-2.7zM86 116.6l1.4 2.3h-2.7zM88.4 112l1.4 2.3h-2.7zM90.8 107.5l1.4 2.3h-2.7zM93.1 102l1.4 2.3h-2.7zM95.5 97l1.4 2.3h-2.7zM97.9 90.6l1.4 2.3h-2.7zM100.2 85.2l1.4 2.3h-2.7zM102.6 78.2l1.4 2.3h-2.7zM105 71.3l1.4 2.3h-2.7zM107.3 63.7l1.4 2.3h-2.7zM109.7 57.4l1.4 2.3h-2.7zM112.1 51.7l1.4 2.3h-2.7zM114.4 46l1.4 2.3h-2.7zM116.8 41.3l1.4 2.3h-2.7zM119.2 35.2l1.4 2.3h-2.7zM121.5 31.3l1.4 2.3h-2.7zM123.9 27.7l1.4 2.3h-2.7zM126.3 24.9l1.4 2.3h-2.7zM128.6 22.5l1.4 2.3h-2.7zM131 20.3l1.4 2.3h-2.7zM133.4 17.7l1.4 2.3h-2.7zM135.7 17.2l1.4 2.3h-2.7zM138.1 16.6l1.4 2.3h-2.7zM140.5 14.3l1.4 2.3h-2.7zM142.8 14.2l1.4 2.3h-2.7zM145.2 15.7l1.4 2.3h-2.7zM147.6 16.2l1.4 2.3h-2.7zM149.9 18.1l1.4 2.3h-2.7zM152.3 19l1.4 2.3h-2.7zM154.7 22.4l1.4 2.3h-2.7zM157 25.1l1.4 2.3h-2.7zM159.4 27.9l1.4 2.3h-2.7zM161.8 31.4l1.4 2.3h-2.7zM164.1 36.9l1.4 2.3h-2.7zM166.5 77.4l1.4 2.3h-2.7zM168.9 47.5l1.4 2.3h-2.7zM171.2 53.3l1.4 2.3h-2.7zM173.6 60.1l1.4 2.3h-2.7zM176 66.9l1.4 2.3h-2.7zM178.3 73.5l1.4 2.3h-2.7zM180.7 81.6l1.4 2.3h-2.7zM183.1 88.5l1.4 2.3h-2.7zM185.4 94.6l1.4 2.3h-2.7zM187.8 100l1.4 2.3h-2.7zM190.2 105.5l1.4 2.3h-2.7zM192.5 110.6l1.4 2.3h-2.7zM194.9 114.9l1.4 2.3h-2.7zM197.3 119.2l1.4 2.3h-2.7zM199.6 122.8l1.4 2.3h-2.7zM202 126.6l1.4 2.3h-2.7zM204.4 126.6l1.4 2.3h-2.7zM206.7 126.6l1.4 2.3h-2.7zM209.1 126.6l1.4 2.3h-2.7zM211.5 126.6l1.4 2.3h-2.7zM213.8 126.6l1.4 2.3h-2.7zM216.2 126.6l1.4 2.3h-2.7zM218.6 126.6l1.4 2.3h-2.7zM220.9 126.6l1.4 2.3h-2.7zM223.3 126.6l1.4 2.3h-2.7zM225.7 126.6l1.4 2.3h-2.7zM228 126.6l1.4 2.3h-2.7zM230.4 126.6l1.4 2.3h-2.7zM232.8 126.6l1.4 2.3h-2.7zM235.1 126.6l1.4 2.3h-2.7zM237.5 126.6l1.4 2.3h-2.7zM239.9 126.6l1.4 2.3h-2.7zM242.2 126.6l1.4 2.3h-2.7zM244.6 126.6l1.4 2.3h-2.7zM247 126.6l1.4 2.3h-2.7zM249.3 126.6l1.4 2.3h-2.7zM251.7 126.6l1.4 2.3h-2.7z" fill="none" stroke="#ff00ff" stroke-width="0.5"/>
<path d="M24.5 127.9 26.9 127.9 29.2 127.9 31.6 127.9 34 127.9 36.3 127.9 38.7 127.9 41.1 127.9 43.4 127.9 45.8 127.9 48.2 127.9 50.5 127.9 52.9 127.9 55.3 127.9 57.6 127.9 60 127.9 62.4 127.9 64.7 127.9 67.1 127.9 69.5 127.9 71.8 127.9 74.2 127.9 76.6 127.9 78.9 127.9 81.3 126.7 83.7 123.8 86 120.7 88.4 116.6 90.8 113.8 93.1 108.3 95.5 103.5 97.9 98.8 100.2 92.9 102.6 103.1 105 80.9 107.3 78.2 109.7 108.5 112.1 61.7 114.4 55.8 116.8 52.3 119.2 95.9 121.5 46.4 123.9 52.5 126.3 53 128.6 30.9 131 42.7 133.4 31.6 135.7 27.8 138.1 27.2 140.5 31.4 142.8 24.5 145.2 30.4 147.6 32.7 149.9 31.5 152.3 62.8 154.7 31.6 157 38.1 159.4 90.1 161.8 38.1 164.1 47.1 166.5 46.2 168.9 91.9 171.2 87.9 173.6 67.9 176 72.9 178.3 102.2 180.7 86.5 183.1 98.6 185.4 98 187.8 102 190.2 108 192.5 111.6 194.9 116.5 197.3 120.2 199.6 123.8 202 127.3 204.4 127.9 206.7 127.9 209.1 127.9 211.5 127.9 213.8 127.9 216.2 127.9 218.6 127.9 220.9 127.9 223.3 127.9 225.7 127.9 228 127.9 230.4 127.9 232.8 127.9 235.1 127.9 237.5 127.9 239.9 127.9 242.2 127.9 244.6 127.9 247 127.9 249.3 127.9 251.7 127.9" fill="none" stroke="#22dd22" stroke-width="0.35"/>
<path d="M23.4 127.9a1.1 1.1 0 1 0 2.3 0a1.1 1.1 0 1 0 -2.3 0M25.7 127.9a1.1 1.1 0 1 0 2.3 0a1.1 1.1 0 1 0 -2.3 0M28.1 127.9a1.1 1.1 0 1 0 2.3 0a1.1 1.1 0 1 0 -2.3 0M30.5 127.9a1.1 1.1 0 1 0 2.3 0a1.1 1.1 0 1 0 -2.3 0M32.8 127.9a1.1 1.1 0 1 0 2.3 0a1.1 1.1 0 1 0 -2.3 0M35.2 127.9a1.1 1.1 0 1 0 2.3 0a1.1 1.1 0 1 0 -2.3 0M37.6 127.9a1.1 1.1 0 1 0 2.3 0a1.1 1.1 0 1 0 -2.3 0M39.9 127.9a1.1 1.1 0 1 0 2.3 0a1.1 1.1 0 1 0 -2.3 0M42.3 127.9a1.1 1.1 0 1 0 2.3 0a1.1 1.1 0 1 0 -2.3 0M44.7 127.9a1.1 1.1 0 1 0 2.3 0a1.1 1.1 0 1 0 -2.3 0M47 127.9a1.1 1.1 0 1 0 2.3 0a1.1 1.1 0 1 0 -2.3 0M49.4 127.9a1.1 1.1 0 1 0 2.3 0a1.1 1.1 0 1 0 -2.3 0M51.8 127.9a1.1 1.1 0 1 0 2.3 0a1.1 1.1 0 1 0 -2.3 0M54.1 127.9a1.1 1.1 0 1 0 2.3 0a1.1 1.1 0 1 0 -2.3 0M56.5 127.9a1.1 1.1 0 1 0 2.3 0a1.1 1.1 0 1 0 -2.3 0M58.9 127.9a1.1 1.1 0 1 0 2.3 0a1.1 1.1 0 1 0 -2.3 0M61.2 127.9a1.1 1.1 0 1 0 2.3 0a1.1 1.1 0 1 0 -2.3 0M63.6 127.9a1.1 1.1 0 1 0 2.3 0a1.1 1.1 0 1 0 -2.3 0M66 127.9a1.1 1.1 0 1 0 2.3 0a1.1 1.1 0 1 0 -2.3 0M68.3 127.9a1.1 1.1 0 1 0 2.3 0a1.1 1.1 0 1 0 -2.3 0M70.7 127.9a1.1 1.1 0 1 0 2.3 0a1.1 1.1 0 1 0 -2.3 0M73.1 127.9a1.1 1.1 0 1 0 2.3 0a1.1 1.1 0 1 0 -2.3 0M75.4 127.9a1.1 1.1 0 1 0 2.3 0a1.1 1.1 0 1 0 -2.3 0M77.8 127.9a1.1 1.1 0 1 0 2.3 0a1.1 1.1 0 1 0 -2.3 0M80.2 126.7a1.1 1.1 0 1 0 2.3 0a1.1 1.1 0 1 0 -2.3 0M82.5 123.8a1.1 1.1 0 1 0 2.3 0a1.1 1.1 0 1 0 -2.3 0M84.9 120.7a1.1 1.1 0 1 0 2.3 0a1.1 1.1 0 1 0 -2.3 0M87.3 116.6a1.1 1.1 0 1 0 2.3 0a1.1 1.1 0 1 0 -2.3 0M89.6 113.8a1.1 1.1 0 1 0 2.3 0a1.1 1.1 0 1 0 -2.3 0M92 108.3a1.1 1.1 0 1 0 2.3 0a1.1 1.1 0 1 0 -2.3 0M94.4 103.5a1.1 1.1 0 1 0 2.3 0a1.1 1.1 0 1 0 -2.3 0M96.7 98.8a1.1 1.1 0 1 0 2.3 0a1.1 1.1 0 1 0 -2.3 0M99.1 92.9a1.1 1.1 0 1 0 2.3 0a1.1 1.1 0 1 0 -2.3 0M101.5 103.1a1.1 1.1 0 1 0 2.3 0a1.1 1.1 0 1 0 -2.3 0M103.8 80.9a1.1 1.1 0 1 0 2.3 0a1.1 1.1 0 1 0 -2.3 0M106.2 78.2a1.1 1.1 0 1 0 2.3 0a1.1 1.1 0 1 0 -2.3 0M108.6 108.5a1.1 1.1 0 1 0 2.3 0a1.1 1.1 0 1 0 -2.3 0M110.9 61.7a1.1 1.1 0 1 0 2.3 0a1.1 1.1 0 1 0 -2.3 0M113.3 55.8a1.1 1.1 0 1 0 2.3 0a1.1 1.1 0 1 0 -2.3 0M115.7 52.3a1.1 1.1 0 1 0 2.3 0a1.1 1.1 0 1 0 -2.3 0M118 95.9a1.1 1.1 0 1 0 2.3 0a1.1 1.1 0 1 0 -2.3 0M120.4 46.4a1.1 1.1 0 1 0 2.3 0a1.1 1.1 0 1 0 -2.3 0M122.8 52.5a1.1 1.1 0 1 0 2.3 0a1.1 1.1 0 1 0 -2.3 0M125.1 53a1.1 1.1 0 1 0 2.3 0a1.1 1.1 0 1 0 -2.3 0M127.5 30.9a1.1 1.1 0 1 0 2.3 0a1.1 1.1 0 1 0 -2.3 0M129.9 42.7a1.1 1.1 0 1 0 2.3 0a1.1 1.1 0 1 0 -2.3 0M132.2 31.6a1.1 1.1 0 1 0 2.3 0a1.1 1.1 0 1 0 -2.3 0M134.6 27.8a1.1 1.1 0 1 0 2.3 0a1.1 1.1 0 1 0 -2.3 0M137 27.2a1.1 1.1 0 1 0 2.3 0a1.1 1.1 0 1 0 -2.3 0M139.3 31.4a1.1 1.1 0 1 0 2.3 0a1.1 1.1 0 1 0 -2.3 0M141.7 24.5a1.1 1.1 0 1 0 2.3 0a1.1 1.1 0 1 0 -2.3 0M144.1 30.4a1.1 1.1 0 1 0 2.3 0a1.1 1.1 0 1 0 -2.3 0M146.4 32.7a1.1 1.1 0 1 0 2.3 0a1.1 1.1 0 1 0 -2.3 0M148.8 31.5a1.1 1.1 0 1 0 2.3 0a1.1 1.1 0 1 0 -2.3 0M151.2 62.8a1.1 1.1 0 1 0 2.3 0a1.1 1.1 0 1 0 -2.3 0M153.5 31.6a1.1 1.1 0 1 0 2.3 0a1.1 1.1 0 1 0 -2.3 0M155.9 38.1a1.1 1.1 0 1 0 2.3 0a1.1 1.1 0 1 0 -2.3 0M158.3 90.1a1.1 1.1 0 1 0 2.3 0a1.1 1.1 0 1 0 -2.3 0M160.6 38.1a1.1 1.1 0 1 0 2.3 0a1.1 1.1 0 1 0 -2.3 0M163 47.1a1.1 1.1 0 1 0 2.3 0a1.1 1.1 0 1 0 -2.3 0M165.4 46.2a1.1 1.1 0 1 0 2.3 0a1.1 1.1 0 1 0 -2.3 0M167.7 91.9a1.1 1.1 0 1 0 2.3 0a1.1 1.1 0 1 0 -2.3 0M170.1 87.9a1.1 1.1 0 1 0 2.3 0a1.1 1.1 0 1 0 -2.3 0M172.5 67.9a1.1 1.1 0 1 0 2.3 0a1.1 1.1 0 1 0 -2.3 0M174.8 72.9a1.1 1.1 0 1 0 2.3 0a1.1 1.1 0 1 0 -2.3 0M177.2 102.2a1.1 1.1 0 1 0 2.3 0a1.1 1.1 0 1 0 -2.3 0M179.6 86.5a1.1 1.1 0 1 0 2.3 0a1.1 1.1 0 1 0 -2.3 0M181.9 98.6a1.1 1.1 0 1 0 2.3 0a1.1 1.1 0 1 0 -2.3 0M184.3 98a1.1 1.1 0 1 0 2.3 0a1.1 1.1 0 1 0 -2.3 0M186.7 102a1.1 1.1 0 1 0 2.3 0a1.1 1.1 0 1 0 -2.3 0M189 108a1.1 1.1 0 1 0 2.3 0a1.1 1.1 0 1 0 -2.3 0M191.4 111.6a1.1 1.1 0 1 0 2.3 0a1.1 1.1 0 1 0 -2.3 0M193.8 116.5a1.1 1.1 0 1 0 2.3 0a1.1 1.1 0 1 0 -2.3 0M196.1 120.2a1.1 1.1 0 1 0 2.3 0a1.1 1.1 0 1 0 -2.3 0M198.5 123.8a1.1 1.1 0 1 0 2.3 0a1.1 1.1 0 1 0 -2.3 0M200.9 127.3a1.1 1.1 0 1 0 2.3 0a1.1 1.1 0 1 0 -2.3 0M203.2 127.9a1.1 1.1 0 1 0 2.3 0a1.1 1.1 0 1 0 -2.3 0M205.6 127.9a1.1 1.1 0 1 0 2.3 0a1.1 1.1 0 1 0 -2.3 0M208 127.9a1.1 1.1 0 1 0 2.3 0a1.1 1.1 0 1 0 -2.3 0M210.3 127.9a1.1 1.1 0 1 0 2.3 0a1.1 1.1 0 1 0 -2.3 0M212.7 127.9a1.1 1.1 0 1 0 2.3 0a1.1 1.1 0 1 0 -2.3 0M215.1 127.9a1.1 1.1 0 1 0 2.3 0a1.1 1.1 0 1 0 -2.3 0M217.4 127.9a1.1 1.1 0 1 0 2.3 0a1.1 1.1 0 1 0 -2.3 0M219.8 127.9a1.1 1.1 0 1 0 2.3 0a1.1 1.1 0 1 0 -2.3 0M222.2 127.9a1.1 1.1 0 1 0 2.3 0a1.1 1.1 0 1 0 -2.3 0M224.5 127.9a1.1 1.1 0 1 0 2.3 0a1.1 1.1 0 1 0 -2.3 0M226.9 127.9a1.1 1.1 0 1 0 2.3 0a1.1 1.1 0 1 0 -2.3 0M229.3 127.9a1.1 1.1 0 1 0 2.3 0a1.1 1.1 0 1 0 -2.3 0M231.6 127.9a1.1 1.1 0 1 0 2.3 0a1.1 1.1 0 1 0 -2.3 0M234 127.9a1.1 1.1 0 1 0 2.3 0a1.1 1.1 0 1 0 -2.3 0M236.4 127.9a1.1 1.1 0 1 0 2.3 0a1.1 1.1 0 1 0 -2.3 0M238.7 127.9a1.1 1.1 0 1 0 2.3 0a1.1 1.1 0 1 0 -2.3 0M241.1 127.9a1.1 1.1 0 1 0 2.3 0a1.1 1.1 0 1 0 -2.3 0M243.5 127.9a1.1 1.1 0 1 0 2.3 0a1.1 1.1 0 1 0 -2.3 0M245.8 127.9a1.1 1.1 0 1 0 2.3 0a1.1 1.1 0 1 0 -2.3 0M248.2 127.9a1.1 1.1 0 1 0 2.3 0a1.1 1.1 0 1 0 -2.3 0M250.6 127.9a1.1 1.1 0 1 0 2.3 0a1.1 1.1 0 1 0 -2.3 0" fill="none" stroke="#22dd22" stroke-width="0.5"/>
<path d="M24.5 127.9 26.9 127.9 29.2 127.9 31.6 127.9 34 127.9 36.3 127.9 38.7 127.9 41.1 127.9 43.4 127.9 45.8 127.9 48.2 127.9 50.5 127.9 52.9 127.9 55.3 127.9 57.6 127.9 60 127.9 62.4 127.9 64.7 127.9 67.1 127.9 69.5 127.9 71.8 127.9 74.2 127.9 76.6 127.9 78.9 127.9 81.3 126.6 83.7 123.4 86 120.3 88.4 116.1 90.8 112.9 93.1 110.1 95.5 104 97.9 100 100.2 93.8 102.6 84.8 105 79.1 107.3 93.6 109.7 71.4 112.1 67 114.4 109 116.8 51.9 119.2 52 121.5 46.5 123.9 58.5 126.3 76.9 128.6 40.8 131 33.1 133.4 56.4 135.7 35.5 138.1 33.9 140.5 27.2 142.8 30 145.2 30.4 147.6 32.5 149.9 64.2 152.3 32.9 154.7 38.1 157 45.2 159.4 77 161.8 51.8 164.1 55.9 166.5 62.5 168.9 90.7 171.2 59.2 173.6 69.7 176 77.1 178.3 84.5 180.7 89.4 183.1 95.8 185.4 101.5 187.8 105.6 190.2 110.4 192.5 113.8 194.9 120.5 197.3 122.9 199.6 126 202 127.9 204.4 127.9 206.7 127.9 209.1 127.9 211.5 127.9 213.8 127.9 216.2 127.9 218.6 127.9 220.9 127.9 223.3 127.9 225.7 127.9 228 127.9 230.4 127.9 232.8 127.9 235.1 127.9 237.5 127.9 239.9 127.9 242.2 127.9 244.6 127.9 247 127.9 249.3 127.9 251.7 127.9" fill="none" stroke="#f5f500" stroke-width="0.35"/>
<path d="M23.1 127.9l2.3 -1.4v2.7zM25.5 127.9l2.3 -1.4v2.7zM27.9 127.9l2.3 -1.4v2.7zM30.2 127.9l2.3 -1.4v2.7zM32.6 127.9l2.3 -1.4v2.7zM35 127.9l2.3 -1.4v2.7zM37.4 127.9l2.3 -1.4v2.7zM39.7 127.9l2.3 -1.4v2.7zM42.1 127.9l2.3 -1.4v2.7zM44.4 127.9l2.3 -1.4v2.7zM46.8 127.9l2.3 -1.4v2.7zM49.2 127.9l2.3 -1.4v2.7zM51.5 127.9l2.3 -1.4v2.7zM53.9 127.9l2.3 -1.4v2.7zM56.3 127.9l2.3 -1.4v2.7zM58.6 127.9l2.3 -1.4v2.7zM61 127.9l2.3 -1.4v2.7zM63.4 127.9l2.3 -1.4v2.7zM65.8 127.9l2.3 -1.4v2.7zM68.1 127.9l2.3 -1.4v2.7zM70.5 127.9l2.3 -1.4v2.7zM72.9 127.9l2.3 -1.4v2.7zM75.2 127.9l2.3 -1.4v2.7zM77.6 127.9l2.3 -1.4v2.7zM80 126.6l2.3 -1.4v2.7zM82.3 123.4l2.3 -1.4v2.7zM84.7 120.3l2.3 -1.4v2.7zM87.1 116.1l2.3 -1.4v2.7zM89.4 112.9l2.3 -1.4v2.7zM91.8 110.1l2.3 -1.4v2.7zM94.2 104l2.3 -1.4v2.7zM96.5 100l2.3 -1.4v2.7zM98.9 93.8l2.3 -1.4v2.7zM101.2 84.8l2.3 -1.4v2.7zM103.6 79.1l2.3 -1.4v2.7zM106 93.6l2.3 -1.4v2.7zM108.4 71.4l2.3 -1.4v2.7zM110.7 67l2.3 -1.4v2.7zM113.1 109l2.3 -1.4v2.7zM115.5 51.9l2.3 -1.4v2.7zM117.8 52l2.3 -1.4v2.7zM120.2 46.5l2.3 -1.4v2.7zM122.6 58.5l2.3 -1.4v2.7zM124.9 76.9l2.3 -1.4v2.7zM127.3 40.8l2.3 -1.4v2.7zM129.7 33.1l2.3 -1.4v2.7zM132 56.4l2.3 -1.4v2.7zM134.4 35.5l2.3 -1.4v2.7zM136.8 33.9l2.3 -1.4v2.7zM139.1 27.2l2.3 -1.4v2.7zM141.5 30l2.3 -1.4v2.7zM143.8 30.4l2.3 -1.4v2.7zM146.2 32.5l2.3 -1.4v2.7zM148.6 64.2l2.3 -1.4v2.7zM151 32.9l2.3 -1.4v2.7zM153.3 38.1l2.3 -1.4v2.7zM155.7 45.2l2.3 -1.4v2.7zM158.1 77l2.3 -1.4v2.7zM160.4 51.8l2.3 -1.4v2.7zM162.8 55.9l2.3 -1.4v2.7zM165.2 62.5l2.3 -1.4v2.7zM167.5 90.7l2.3 -1.4v2.7zM169.9 59.2l2.3 -1.4v2.7zM172.2 69.7l2.3 -1.4v2.7zM174.6 77.1l2.3 -1.4v2.7zM177 84.5l2.3 -1.4v2.7zM179.3 89.4l2.3 -1.4v2.7zM181.7 95.8l2.3 -1.4v2.7zM184.1 101.5l2.3 -1.4v2.7zM186.5 105.6l2.3 -1.4v2.7zM188.8 110.4l2.3 -1.4v2.7zM191.2 113.8l2.3 -1.4v2.7zM193.6 120.5l2.3 -1.4v2.7zM195.9 122.9l2.3 -1.4v2.7zM198.3 126l2.3 -1.4v2.7zM200.7 127.9l2.3 -1.4v2.7zM203 127.9l2.3 -1.4v2.7zM205.4 127.9l2.3 -1.4v2.7zM207.8 127.9l2.3 -1.4v2.7zM210.1 127.9l2.3 -1.4v2.7zM212.5 127.9l2.3 -1.4v2.7zM214.8 127.9l2.3 -1.4v2.7zM217.2 127.9l2.3 -1.4v2.7zM219.6 127.9l2.3 -1.4v2.7zM222 127.9l2.3 -1.4v2.7zM224.3 127.9l2.3 -1.4v2.7zM226.7 127.9l2.3 -1.4v2.7zM229.1 127.9l2.3 -1.4v2.7zM231.4 127.9l2.3 -1.4v2.7zM233.8 127.9l2.3 -1.4v2.7zM236.2 127.9l2.3 -1.4v2.7zM238.5 127.9l2.3 -1.4v2.7zM240.9 127.9l2.3 -1.4v2.7zM243.2 127.9l2.3 -1.4v2.7zM245.6 127.9l2.3 -1.4v2.7zM248 127.9l2.3 -1.4v2.7zM250.3 127.9l2.3 -1.4v2.7z" fill="none" stroke="#f5f500" stroke-width="0.5"/>
<path d="M24.5 127.9 26.9 127.9 29.2 127.9 31.6 127.9 34 127.9 36.3 127.9 38.7 127.9 41.1 127.9 43.4 127.9 45.8 127.9 48.2 127.9 50.5 127.9 52.9 127.9 55.3 127.9 57.6 127.9 60 127.9 62.4 127.9 64.7 127.9 67.1 127.9 69.5 127.9 71.8 127.9 74.2 127.9 76.6 127.9 78.9 127.9 81.3 126.7 83.7 123.2 86 120.2 88.4 116.2 90.8 114.2 93.1 109.5 95.5 103.3 97.9 114.2 100.2 94.2 102.6 86.9 105 93.1 107.3 76.4 109.7 71.4 112.1 95.3 114.4 53.2 116.8 53.8 119.2 43.2 121.5 51.7 123.9 36.4 126.3 37.2 128.6 37.3 131 32 133.4 30.6 135.7 26.2 138.1 33.4 140.5 24.8 142.8 29 145.2 26.6 147.6 30.3 149.9 22.1 152.3 30.6 154.7 39.4 157 65 159.4 62.3 161.8 43 164.1 50.2 166.5 56.1 168.9 64.7 171.2 63.9 173.6 69.6 176 75.1 178.3 96.5 180.7 105 183.1 93.8 185.4 105.5 187.8 103.2 190.2 109.6 192.5 116.9 194.9 119.4 197.3 123.1 199.6 126.1 202 127.9 204.4 127.9 206.7 127.9 209.1 127.9 211.5 127.9 213.8 127.9 216.2 127.9 218.6 127.9 220.9 127.9 223.3 127.9 225.7 127.9 228 127.9 230.4 127.9 232.8 127.9 235.1 127.9 237.5 127.9 239.9 127.9 242.2 127.9 244.6 127.9 247 127.9 249.3 127.9 251.7 127.9" fill="none" stroke="#222222" stroke-width="0.55" stroke-dasharray="2,1.2"/>
<path d="M24.5 127.9 26.9 127.9 29.2 127.9 31.6 127.9 34 127.9 36.3 127.9 38.7 127.9 41.1 127.9 43.4 127.9 45.8 127.9 48.2 127.9 50.5 127.9 52.9 127.9 55.3 127.9 57.6 127.9 60 127.9 62.4 127.9 64.7 127.9 67.1 127.9 69.5 127.9 71.8 127.9 74.2 127.9 76.6 127.9 78.9 126.1 81.3 123.3 83.7 119.3 86 116.6 88.4 113.6 90.8 108.4 93.1 102.9 95.5 97.1 97.9 92.3 100.2 92.2 102.6 84.7 105 73.5 107.3 82.6 109.7 68.4 112.1 67.1 114.4 51.8 116.8 55.4 119.2 54.3 121.5 44.2 123.9 70.9 126.3 39.1 128.6 40 131 53.5 133.4 35.4 135.7 34.1 138.1 27.2 140.5 27.5 142.8 36.3 145.2 33.5 147.6 37.6 149.9 29 152.3 36.6 154.7 35.5 157 38.4 159.4 39.5 161.8 43.5 164.1 49.8 166.5 56.6 168.9 64.7 171.2 64 173.6 96.4 176 98 178.3 85.9 180.7 93 183.1 98.5 185.4 104.9 187.8 108.8 190.2 112.7 192.5 117.4 194.9 119.4 197.3 123.2 199.6 126.5 202 127.9 204.4 127.9 206.7 127.9 209.1 127.9 211.5 127.9 213.8 127.9 216.2 127.9 218.6 127.9 220.9 127.9 223.3 127.9 225.7 127.9 228 127.9 230.4 127.9 232.8 127.9 235.1 127.9 237.5 127.9 239.9 127.9 242.2 127.9 244.6 127.9 247 127.9 249.3 127.9 251.7 127.9" fill="none" stroke="#00ffff" stroke-width="0.35"/>
<path d="M23.7 127.9a0.8 0.8 0 1 0 1.6 0a0.8 0.8 0 1 0 -1.6 0M26.1 127.9a0.8 0.8 0 1 0 1.6 0a0.8 0.8 0 1 0 -1.6 0M28.4 127.9a0.8 0.8 0 1 0 1.6 0a0.8 0.8 0 1 0 -1.6 0M30.8 127.9a0.8 0.8 0 1 0 1.6 0a0.8 0.8 0 1 0 -1.6 0M33.2 127.9a0.8 0.8 0 1 0 1.6 0a0.8 0.8 0 1 0 -1.6 0M35.5 127.9a0.8 0.8 0 1 0 1.6 0a0.8 0.8 0 1 0 -1.6 0M37.9 127.9a0.8 0.8 0 1 0 1.6 0a0.8 0.8 0 1 0 -1.6 0M40.3 127.9a0.8 0.8 0 1 0 1.6 0a0.8 0.8 0 1 0 -1.6 0M42.6 127.9a0.8 0.8 0 1 0 1.6 0a0.8 0.8 0 1 0 -1.6 0M45 127.9a0.8 0.8 0 1 0 1.6 0a0.8 0.8 0 1 0 -1.6 0M47.4 127.9a0.8 0.8 0 1 0 1.6 0a0.8 0.8 0 1 0 -1.6 0M49.7 127.9a0.8 0.8 0 1 0 1.6 0a0.8 0.8 0 1 0 -1.6 0M52.1 127.9a0.8 0.8 0 1 0 1.6 0a0.8 0.8 0 1 0 -1.6 0M54.5 127.9a0.8 0.8 0 1 0 1.6 0a0.8 0.8 0 1 0 -1.6 0M56.8 127.9a0.8 0.8 0 1 0 1.6 0a0.8 0.8 0 1 0 -1.6 0M59.2 127.9a0.8 0.8 0 1 0 1.6 0a0.8 0.8 0 1 0 -1.6 0M61.6 127.9a0.8 0.8 0 1 0 1.6 0a0.8 0.8 0 1 0 -1.6 0M63.9 127.9a0.8 0.8 0 1 0 1.6 0a0.8 0.8 0 1 0 -1.6 0M66.3 127.9a0.8 0.8 0 1 0 1.6 0a0.8 0.8 0 1 0 -1.6 0M68.7 127.9a0.8 0.8 0 1 0 1.6 0a0.8 0.8 0 1 0 -1.6 0M71 127.9a0.8 0.8 0 1 0 1.6 0a0.8 0.8 0 1 0 -1.6 0M73.4 127.9a0.8 0.8 0 1 0 1.6 0a0.8 0.8 0 1 0 -1.6 0M75.8 127.9a0.8 0.8 0 1 0 1.6 0a0.8 0.8 0 1 0 -1.6 0M78.1 126.1a0.8 0.8 0 1 0 1.6 0a0.8 0.8 0 1 0 -1.6 0M80.5 123.3a0.8 0.8 0 1 0 1.6 0a0.8 0.8 0 1 0 -1.6 0M82.9 119.3a0.8 0.8 0 1 0 1.6 0a0.8 0.8 0 1 0 -1.6 0M85.2 116.6a0.8 0.8 0 1 0 1.6 0a0.8 0.8 0 1 0 -1.6 0M87.6 113.6a0.8 0.8 0 1 0 1.6 0a0.8 0.8 0 1 0 -1.6 0M90 108.4a0.8 0.8 0 1 0 1.6 0a0.8 0.8 0 1 0 -1.6 0M92.3 102.9a0.8 0.8 0 1 0 1.6 0a0.8 0.8 0 1 0 -1.6 0M94.7 97.1a0.8 0.8 0 1 0 1.6 0a0.8 0.8 0 1 0 -1.6 0M97.1 92.3a0.8 0.8 0 1 0 1.6 0a0.8 0.8 0 1 0 -1.6 0M99.4 92.2a0.8 0.8 0 1 0 1.6 0a0.8 0.8 0 1 0 -1.6 0M101.8 84.7a0.8 0.8 0 1 0 1.6 0a0.8 0.8 0 1 0 -1.6 0M104.2 73.5a0.8 0.8 0 1 0 1.6 0a0.8 0.8 0 1 0 -1.6 0M106.5 82.6a0.8 0.8 0 1 0 1.6 0a0.8 0.8 0 1 0 -1.6 0M108.9 68.4a0.8 0.8 0 1 0 1.6 0a0.8 0.8 0 1 0 -1.6 0M111.3 67.1a0.8 0.8 0 1 0 1.6 0a0.8 0.8 0 1 0 -1.6 0M113.6 51.8a0.8 0.8 0 1 0 1.6 0a0.8 0.8 0 1 0 -1.6 0M116 55.4a0.8 0.8 0 1 0 1.6 0a0.8 0.8 0 1 0 -1.6 0M118.4 54.3a0.8 0.8 0 1 0 1.6 0a0.8 0.8 0 1 0 -1.6 0M120.7 44.2a0.8 0.8 0 1 0 1.6 0a0.8 0.8 0 1 0 -1.6 0M123.1 70.9a0.8 0.8 0 1 0 1.6 0a0.8 0.8 0 1 0 -1.6 0M125.5 39.1a0.8 0.8 0 1 0 1.6 0a0.8 0.8 0 1 0 -1.6 0M127.8 40a0.8 0.8 0 1 0 1.6 0a0.8 0.8 0 1 0 -1.6 0M130.2 53.5a0.8 0.8 0 1 0 1.6 0a0.8 0.8 0 1 0 -1.6 0M132.6 35.4a0.8 0.8 0 1 0 1.6 0a0.8 0.8 0 1 0 -1.6 0M134.9 34.1a0.8 0.8 0 1 0 1.6 0a0.8 0.8 0 1 0 -1.6 0M137.3 27.2a0.8 0.8 0 1 0 1.6 0a0.8 0.8 0 1 0 -1.6 0M139.7 27.5a0.8 0.8 0 1 0 1.6 0a0.8 0.8 0 1 0 -1.6 0M142 36.3a0.8 0.8 0 1 0 1.6 0a0.8 0.8 0 1 0 -1.6 0M144.4 33.5a0.8 0.8 0 1 0 1.6 0a0.8 0.8 0 1 0 -1.6 0M146.8 37.6a0.8 0.8 0 1 0 1.6 0a0.8 0.8 0 1 0 -1.6 0M149.1 29a0.8 0.8 0 1 0 1.6 0a0.8 0.8 0 1 0 -1.6 0M151.5 36.6a0.8 0.8 0 1 0 1.6 0a0.8 0.8 0 1 0 -1.6 0M153.9 35.5a0.8 0.8 0 1 0 1.6 0a0.8 0.8 0 1 0 -1.6 0M156.2 38.4a0.8 0.8 0 1 0 1.6 0a0.8 0.8 0 1 0 -1.6 0M158.6 39.5a0.8 0.8 0 1 0 1.6 0a0.8 0.8 0 1 0 -1.6 0M161 43.5a0.8 0.8 0 1 0 1.6 0a0.8 0.8 0 1 0 -1.6 0M163.3 49.8a0.8 0.8 0 1 0 1.6 0a0.8 0.8 0 1 0 -1.6 0M165.7 56.6a0.8 0.8 0 1 0 1.6 0a0.8 0.8 0 1 0 -1.6 0M168.1 64.7a0.8 0.8 0 1 0 1.6 0a0.8 0.8 0 1 0 -1.6 0M170.4 64a0.8 0.8 0 1 0 1.6 0a0.8 0.8 0 1 0 -1.6 0M172.8 96.4a0.8 0.8 0 1 0 1.6 0a0.8 0.8 0 1 0 -1.6 0M175.2 98a0.8 0.8 0 1 0 1.6 0a0.8 0.8 0 1 0 -1.6 0M177.5 85.9a0.8 0.8 0 1 0 1.6 0a0.8 0.8 0 1 0 -1.6 0M179.9 93a0.8 0.8 0 1 0 1.6 0a0.8 0.8 0 1 0 -1.6 0M182.3 98.5a0.8 0.8 0 1 0 1.6 0a0.8 0.8 0 1 0 -1.6 0M184.6 104.9a0.8 0.8 0 1 0 1.6 0a0.8 0.8 0 1 0 -1.6 0M187 108.8a0.8 0.8 0 1 0 1.6 0a0.8 0.8 0 1 0 -1.6 0M189.4 112.7a0.8 0.8 0 1 0 1.6 0a0.8 0.8 0 1 0 -1.6 0M191.7 117.4a0.8 0.8 0 1 0 1.6 0a0.8 0.8 0 1 0 -1.6 0M194.1 119.4a0.8 0.8 0 1 0 1.6 0a0.8 0.8 0 1 0 -1.6 0M196.5 123.2a0.8 0.8 0 1 0 1.6 0a0.8 0.8 0 1 0 -1.6 0M198.8 126.5a0.8 0.8 0 1 0 1.6 0a0.8 0.8 0 1 0 -1.6 0M201.2 127.9a0.8 0.8 0 1 0 1.6 0a0.8 0.8 0 1 0 -1.6 0M203.6 127.9a0.8 0.8 0 1 0 1.6 0a0.8 0.8 0 1 0 -1.6 0M205.9 127.9a0.8 0.8 0 1 0 1.6 0a0.8 0.8 0 1 0 -1.6 0M208.3 127.9a0.8 0.8 0 1 0 1.6 0a0.8 0.8 0 1 0 -1.6 0M210.7 127.9a0.8 0.8 0 1 0 1.6 0a0.8 0.8 0 1 0 -1.6 0M213 127.9a0.8 0.8 0 1 0 1.6 0a0.8 0.8 0 1 0 -1.6 0M215.4 127.9a0.8 0.8 0 1 0 1.6 0a0.8 0.8 0 1 0 -1.6 0M217.8 127.9a0.8 0.8 0 1 0 1.6 0a0.8 0.8 0 1 0 -1.6 0M220.1 127.9a0.8 0.8 0 1 0 1.6 0a0.8 0.8 0 1 0 -1.6 0M222.5 127.9a0.8 0.8 0 1 0 1.6 0a0.8 0.8 0 1 0 -1.6 0M224.9 127.9a0.8 0.8 0 1 0 1.6 0a0.8 0.8 0 1 0 -1.6 0M227.2 127.9a0.8 0.8 0 1 0 1.6 0a0.8 0.8 0 1 0 -1.6 0M229.6 127.9a0.8 0.8 0 1 0 1.6 0a0.8 0.8 0 1 0 -1.6 0M232 127.9a0.8 0.8 0 1 0 1.6 0a0.8 0.8 0 1 0 -1.6 0M234.3 127.9a0.8 0.8 0 1 0 1.6 0a0.8 0.8 0 1 0 -1.6 0M236.7 127.9a0.8 0.8 0 1 0 1.6 0a0.8 0.8 0 1 0 -1.6 0M239.1 127.9a0.8 0.8 0 1 0 1.6 0a0.8 0.8 0 1 0 -1.6 0M241.4 127.9a0.8 0.8 0 1 0 1.6 0a0.8 0.8 0 1 0 -1.6 0M243.8 127.9a0.8 0.8 0 1 0 1.6 0a0.8 0.8 0 1 0 -1.6 0M246.2 127.9a0.8 0.8 0 1 0 1.6 0a0.8 0.8 0 1 0 -1.6 0M248.5 127.9a0.8 0.8 0 1 0 1.6 0a0.8 0.8 0 1 0 -1.6 0M250.9 127.9a0.8 0.8 0 1 0 1.6 0a0.8 0.8 0 1 0 -1.6 0" fill="#00ffff"/>
<path d="M24.5 127.9 26.9 127.9 29.2 127.9 31.6 127.9 34 127.9 36.3 127.9 38.7 127.9 41.1 127.9 43.4 127.9 45.8 127.9 48.2 127.9 50.5 127.9 52.9 127.9 55.3 127.9 57.6 127.9 60 127.9 62.4 127.9 64.7 127.9 67.1 127.9 69.5 127.9 71.8 127.9 74.2 127.9 76.6 127.9 78.9 127.9 81.3 121 83.7 121.6 86 117.4 88.4 113.8 90.8 109.6 93.1 103.9 95.5 97.7 97.9 92.7 100.2 87.2 102.6 79.3 105 72.6 107.3 65.8 109.7 58.8 112.1 52.6 114.4 46.8 116.8 41.3 119.2 37.4 121.5 34.2 123.9 32 126.3 27.1 128.6 25.9 131 20.8 133.4 22 135.7 21.2 138.1 20.5 140.5 18 142.8 18.2 145.2 18.6 147.6 19.6 149.9 22.2 152.3 22.6 154.7 26.3 157 30 159.4 31 161.8 35.6 164.1 41.2 166.5 45.5 168.9 50 171.2 55.7 173.6 64.4 176 69.7 178.3 93.6 180.7 84.5 183.1 91.3 185.4 97.4 187.8 102.9 190.2 108.9 192.5 112.9 194.9 117.3 197.3 121.4 199.6 125 202 127.9 204.4 127.9 206.7 127.9 209.1 127.9 211.5 127.9 213.8 127.9 216.2 127.9 218.6 127.9 220.9 127.9 223.3 127.9 225.7 127.9 228 127.9 230.4 127.9 232.8 127.9 235.1 127.9 237.5 127.9 239.9 127.9 242.2 127.9 244.6 127.9 247 127.9 249.3 127.9 251.7 127.9" fill="none" stroke="#9050d0" stroke-width="0.35"/>
<path d="M23.8 127.2l1.5 1.5M23.8 128.6l1.5 -1.5M26.1 127.2l1.5 1.5M26.1 128.6l1.5 -1.5M28.5 127.2l1.5 1.5M28.5 128.6l1.5 -1.5M30.9 127.2l1.5 1.5M30.9 128.6l1.5 -1.5M33.2 127.2l1.5 1.5M33.2 128.6l1.5 -1.5M35.6 127.2l1.5 1.5M35.6 128.6l1.5 -1.5M38 127.2l1.5 1.5M38 128.6l1.5 -1.5M40.3 127.2l1.5 1.5M40.3 128.6l1.5 -1.5M42.7 127.2l1.5 1.5M42.7 128.6l1.5 -1.5M45.1 127.2l1.5 1.5M45.1 128.6l1.5 -1.5M47.4 127.2l1.5 1.5M47.4 128.6l1.5 -1.5M49.8 127.2l1.5 1.5M49.8 128.6l1.5 -1.5M52.2 127.2l1.5 1.5M52.2 128.6l1.5 -1.5M54.5 127.2l1.5 1.5M54.5 128.6l1.5 -1.5M56.9 127.2l1.5 1.5M56.9 128.6l1.5 -1.5M59.3 127.2l1.5 1.5M59.3 128.6l1.5 -1.5M61.6 127.2l1.5 1.5M61.6 128.6l1.5 -1.5M64 127.2l1.5 1.5M64 128.6l1.5 -1.5M66.4 127.2l1.5 1.5M66.4 128.6l1.5 -1.5M68.7 127.2l1.5 1.5M68.7 128.6l1.5 -1.5M71.1 127.2l1.5 1.5M71.1 128.6l1.5 -1.5M73.5 127.2l1.5 1.5M73.5 128.6l1.5 -1.5M75.8 127.2l1.5 1.5M75.8 128.6l1.5 -1.5M78.2 127.2l1.5 1.5M78.2 128.6l1.5 -1.5M80.6 120.3l1.5 1.5M80.6 121.8l1.5 -1.5M82.9 120.8l1.5 1.5M82.9 122.3l1.5 -1.5M85.3 116.7l1.5 1.5M85.3 118.2l1.5 -1.5M87.7 113l1.5 1.5M87.7 114.5l1.5 -1.5M90 108.9l1.5 1.5M90 110.4l1.5 -1.5M92.4 103.1l1.5 1.5M92.4 104.6l1.5 -1.5M94.8 96.9l1.5 1.5M94.8 98.4l1.5 -1.5M97.1 91.9l1.5 1.5M97.1 93.4l1.5 -1.5M99.5 86.5l1.5 1.5M99.5 87.9l1.5 -1.5M101.9 78.5l1.5 1.5M101.9 80l1.5 -1.5M104.2 71.9l1.5 1.5M104.2 73.4l1.5 -1.5M106.6 65.1l1.5 1.5M106.6 66.6l1.5 -1.5M109 58.1l1.5 1.5M109 59.6l1.5 -1.5M111.3 51.8l1.5 1.5M111.3 53.3l1.5 -1.5M113.7 46.1l1.5 1.5M113.7 47.6l1.5 -1.5M116.1 40.6l1.5 1.5M116.1 42.1l1.5 -1.5M118.4 36.6l1.5 1.5M118.4 38.1l1.5 -1.5M120.8 33.5l1.5 1.5M120.8 34.9l1.5 -1.5M123.2 31.3l1.5 1.5M123.2 32.8l1.5 -1.5M125.5 26.3l1.5 1.5M125.5 27.8l1.5 -1.5M127.9 25.1l1.5 1.5M127.9 26.6l1.5 -1.5M130.3 20.1l1.5 1.5M130.3 21.5l1.5 -1.5M132.6 21.3l1.5 1.5M132.6 22.8l1.5 -1.5M135 20.4l1.5 1.5M135 21.9l1.5 -1.5M137.4 19.8l1.5 1.5M137.4 21.3l1.5 -1.5M139.7 17.3l1.5 1.5M139.7 18.8l1.5 -1.5M142.1 17.5l1.5 1.5M142.1 19l1.5 -1.5M144.5 17.8l1.5 1.5M144.5 19.3l1.5 -1.5M146.8 18.9l1.5 1.5M146.8 20.3l1.5 -1.5M149.2 21.5l1.5 1.5M149.2 23l1.5 -1.5M151.6 21.9l1.5 1.5M151.6 23.4l1.5 -1.5M153.9 25.5l1.5 1.5M153.9 27l1.5 -1.5M156.3 29.3l1.5 1.5M156.3 30.7l1.5 -1.5M158.7 30.2l1.5 1.5M158.7 31.7l1.5 -1.5M161 34.9l1.5 1.5M161 36.3l1.5 -1.5M163.4 40.4l1.5 1.5M163.4 41.9l1.5 -1.5M165.8 44.7l1.5 1.5M165.8 46.2l1.5 -1.5M168.1 49.3l1.5 1.5M168.1 50.8l1.5 -1.5M170.5 55l1.5 1.5M170.5 56.5l1.5 -1.5M172.9 63.7l1.5 1.5M172.9 65.1l1.5 -1.5M175.2 69l1.5 1.5M175.2 70.4l1.5 -1.5M177.6 92.8l1.5 1.5M177.6 94.3l1.5 -1.5M180 83.8l1.5 1.5M180 85.3l1.5 -1.5M182.3 90.5l1.5 1.5M182.3 92l1.5 -1.5M184.7 96.7l1.5 1.5M184.7 98.2l1.5 -1.5M187.1 102.2l1.5 1.5M187.1 103.7l1.5 -1.5M189.4 108.1l1.5 1.5M189.4 109.6l1.5 -1.5M191.8 112.1l1.5 1.5M191.8 113.6l1.5 -1.5M194.2 116.5l1.5 1.5M194.2 118l1.5 -1.5M196.5 120.7l1.5 1.5M196.5 122.1l1.5 -1.5M198.9 124.2l1.5 1.5M198.9 125.7l1.5 -1.5M201.3 127.2l1.5 1.5M201.3 128.6l1.5 -1.5M203.6 127.2l1.5 1.5M203.6 128.6l1.5 -1.5M206 127.2l1.5 1.5M206 128.6l1.5 -1.5M208.4 127.2l1.5 1.5M208.4 128.6l1.5 -1.5M210.7 127.2l1.5 1.5M210.7 128.6l1.5 -1.5M213.1 127.2l1.5 1.5M213.1 128.6l1.5 -1.5M215.5 127.2l1.5 1.5M215.5 128.6l1.5 -1.5M217.8 127.2l1.5 1.5M217.8 128.6l1.5 -1.5M220.2 127.2l1.5 1.5M220.2 128.6l1.5 -1.5M222.6 127.2l1.5 1.5M222.6 128.6l1.5 -1.5M224.9 127.2l1.5 1.5M224.9 128.6l1.5 -1.5M227.3 127.2l1.5 1.5M227.3 128.6l1.5 -1.5M229.7 127.2l1.5 1.5M229.7 128.6l1.5 -1.5M232 127.2l1.5 1.5M232 128.6l1.5 -1.5M234.4 127.2l1.5 1.5M234.4 128.6l1.5 -1.5M236.8 127.2l1.5 1.5M236.8 128.6l1.5 -1.5M239.1 127.2l1.5 1.5M239.1 128.6l1.5 -1.5M241.5 127.2l1.5 1.5M241.5 128.6l1.5 -1.5M243.9 127.2l1.5 1.5M243.9 128.6l1.5 -1.5M246.2 127.2l1.5 1.5M246.2 128.6l1.5 -1.5M248.6 127.2l1.5 1.5M248.6 128.6l1.5 -1.5M251 127.2l1.5 1.5M251 128.6l1.5 -1.5" fill="none" stroke="#5a30b0" stroke-width="0.75"/>
<text x="81.3" y="138.9" text-anchor="middle">06:00</text>
<text x="138.1" y="138.9" text-anchor="middle">12:00</text>
<text x="194.9" y="138.9" text-anchor="middle">18:00</text>
<text x="251.7" y="138.9" text-anchor="middle">00:00</text>
<text x="21.9" y="131.5" text-anchor="end">0</text>
<text x="21.9" y="102.9" text-anchor="end">5</text>
<text x="21.9" y="74.3" text-anchor="end">10</text>
<text x="21.9" y="45.7" text-anchor="end">15</text>
<text x="21.9" y="17.1" text-anchor="end">20</text>
<text x="138.1" y="10.2" text-anchor="middle" font-size="9.05">Similar-time curves for May 1, 2019</text>
<text transform="translate(10 70.7) rotate(-90)" text-anchor="middle" font-size="8.7">Power/GW</text>
<rect x="194.5" y="14.1" width="64.2" height="95.4" fill="#fff" stroke="#999" stroke-width="0.8"/>
<line x1="196.1" y1="19.3" x2="210.7" y2="19.3" stroke="#ff0000" stroke-width="0.4" stroke-opacity="0.7"/>
<path d="M201.9 19.3h3M203.4 17.8v3M202.3 18.2l2.1 2.1M202.3 20.4l2.1 -2.1" fill="#ff0000" stroke="#ff0000" stroke-width="0.6"/>
<text x="212.7" y="22.2" font-size="7.3">Real value</text>
<line x1="196.1" y1="27.9" x2="210.7" y2="27.9" stroke="#e8641e" stroke-width="0.4" stroke-opacity="0.7"/>
<path d="M203.4 26.1l1.4 1.8l-1.4 1.8l-1.4 -1.8z" fill="none" stroke="#e8641e" stroke-width="0.75"/>
<text x="212.7" y="30.7" font-size="7.3">similar-time 1</text>
<line x1="196.1" y1="36.4" x2="210.7" y2="36.4" stroke="#00ee00" stroke-width="0.4" stroke-opacity="0.7"/>
<path d="M202 35h2.9v2.9h-2.9z" fill="none" stroke="#00ee00" stroke-width="0.75"/>
<text x="212.7" y="39.3" font-size="7.3">similar-time 2</text>
<line x1="196.1" y1="45" x2="210.7" y2="45" stroke="#2222ff" stroke-width="0.4" stroke-opacity="0.7"/>
<path d="M201.6 45h3.6M203.4 43.2v3.6" fill="none" stroke="#2222ff" stroke-width="0.75"/>
<text x="212.7" y="47.8" font-size="7.3">similar-time 3</text>
<line x1="196.1" y1="53.5" x2="210.7" y2="53.5" stroke="#00e5e5" stroke-width="0.4" stroke-opacity="0.7"/>
<path d="M201.9 53.5a1.5 1.5 0 1 0 3.1 0a1.5 1.5 0 1 0 -3.1 0" fill="none" stroke="#00e5e5" stroke-width="0.75"/>
<text x="212.7" y="56.4" font-size="7.3">similar-time 4</text>
<line x1="196.1" y1="62" x2="210.7" y2="62" stroke="#ff00ff" stroke-width="0.4" stroke-opacity="0.7"/>
<path d="M203.4 60.2l1.8 3.1h-3.6z" fill="none" stroke="#ff00ff" stroke-width="0.75"/>
<text x="212.7" y="64.9" font-size="7.3">similar-time 5</text>
<line x1="196.1" y1="70.6" x2="210.7" y2="70.6" stroke="#22dd22" stroke-width="0.4" stroke-opacity="0.7"/>
<path d="M201.9 70.6a1.5 1.5 0 1 0 3.1 0a1.5 1.5 0 1 0 -3.1 0" fill="none" stroke="#22dd22" stroke-width="0.75"/>
<text x="212.7" y="73.5" font-size="7.3">similar-time 6</text>
<line x1="196.1" y1="79.2" x2="210.7" y2="79.2" stroke="#f5f500" stroke-width="0.4" stroke-opacity="0.7"/>
<path d="M201.6 79.2l3.1 -1.8v3.6z" fill="none" stroke="#f5f500" stroke-width="0.75"/>
<text x="212.7" y="82" font-size="7.3">similar-time 7</text>
<line x1="196.1" y1="87.7" x2="210.7" y2="87.7" stroke="#666" stroke-width="0.9" stroke-dasharray="2.7,1.3"/>
<text x="212.7" y="90.5" font-size="7.3">similar-time 8</text>
<line x1="196.1" y1="96.2" x2="210.7" y2="96.2" stroke="#00ffff" stroke-width="0.4" stroke-opacity="0.7"/>
<path d="M202.2 96.2a1.2 1.2 0 1 0 2.4 0a1.2 1.2 0 1 0 -2.4 0" fill="#00ffff" stroke="#00ffff" stroke-width="0.6"/>
<text x="212.7" y="99.1" font-size="7.3">similar-time 9</text>
<line x1="196.1" y1="104.8" x2="210.7" y2="104.8" stroke="#9050d0" stroke-width="0.4" stroke-opacity="0.7"/>
<path d="M202.5 103.9h1.8v1.8h-1.8z" fill="#6a2ca0" stroke="#6a2ca0" stroke-width="0.6"/>
<text x="212.7" y="107.6" font-size="7.3">similar-time 10</text>
<rect x="308.7" y="13.5" width="227.8" height="114.4" fill="none" stroke="#999" stroke-width="1"/>
<path d="M365.6 127.9v-2.3M365.6 13.5v2.3M422.6 127.9v-2.3M422.6 13.5v2.3M479.6 127.9v-2.3M479.6 13.5v2.3M308.7 99.3h2.3M536.5 99.3h-2.3M308.7 70.7h2.3M536.5 70.7h-2.3M308.7 42.1h2.3M536.5 42.1h-2.3" stroke="#999" stroke-width="0.8" fill="none"/>
<path d="M308.7 127.9 311.1 127.9 313.4 127.9 315.8 127.9 318.2 127.9 320.6 127.9 322.9 127.9 325.3 127.9 327.7 127.9 330.1 127.9 332.4 127.9 334.8 127.9 337.2 127.9 339.5 127.9 341.9 127.9 344.3 127.9 346.7 127.9 349 127.9 351.4 127.9 353.8 127.9 356.2 127.9 358.5 127.9 360.9 126 363.3 122.8 365.6 119.2 368 116.1 370.4 111.3 372.8 108.2 375.1 101.2 377.5 96.8 379.9 90.1 382.3 85.6 384.6 78.4 387 72.9 389.4 67 391.8 59.7 394.1 56.3 396.5 50.2 398.9 44.4 401.2 41.3 403.6 37.9 406 31.9 408.4 31.6 410.7 29.7 413.1 27.2 415.5 26.5 417.9 25.1 420.2 24.4 422.6 21.1 425 23.6 427.3 24 429.7 24.2 432.1 24.3 434.5 28.5 436.8 31.3 439.2 30.7 441.6 38.1 444 41 446.3 44 448.7 47 451.1 56.1 453.4 63.2 455.8 66.5 458.2 74.7 460.6 81.3 462.9 87 465.3 93.9 467.7 99.4 470.1 105.2 472.4 109.4 474.8 113.8 477.2 118.6 479.6 122.3 481.9 125.7 484.3 127.9 486.7 127.9 489 127.9 491.4 127.9 493.8 127.9 496.2 127.9 498.5 127.9 500.9 127.9 503.3 127.9 505.7 127.9 508 127.9 510.4 127.9 512.8 127.9 515.1 127.9 517.5 127.9 519.9 127.9 522.3 127.9 524.6 127.9 527 127.9 529.4 127.9 531.8 127.9 534.1 127.9 536.5 127.9" fill="none" stroke="#ff0000" stroke-width="0.35"/>
<path d="M307.3 127.9h2.7M308.7 126.6v2.7M307.8 127l1.9 1.9M307.8 128.8l1.9 -1.9M309.7 127.9h2.7M311.1 126.6v2.7M310.1 127l1.9 1.9M310.1 128.8l1.9 -1.9M312.1 127.9h2.7M313.4 126.6v2.7M312.5 127l1.9 1.9M312.5 128.8l1.9 -1.9M314.5 127.9h2.7M315.8 126.6v2.7M314.9 127l1.9 1.9M314.9 128.8l1.9 -1.9M316.8 127.9h2.7M318.2 126.6v2.7M317.2 127l1.9 1.9M317.2 128.8l1.9 -1.9M319.2 127.9h2.7M320.6 126.6v2.7M319.6 127l1.9 1.9M319.6 128.8l1.9 -1.9M321.6 127.9h2.7M322.9 126.6v2.7M322 127l1.9 1.9M322 128.8l1.9 -1.9M324 127.9h2.7M325.3 126.6v2.7M324.4 127l1.9 1.9M324.4 128.8l1.9 -1.9M326.3 127.9h2.7M327.7 126.6v2.7M326.7 127l1.9 1.9M326.7 128.8l1.9 -1.9M328.7 127.9h2.7M330.1 126.6v2.7M329.1 127l1.9 1.9M329.1 128.8l1.9 -1.9M331.1 127.9h2.7M332.4 126.6v2.7M331.5 127l1.9 1.9M331.5 128.8l1.9 -1.9M333.5 127.9h2.7M334.8 126.6v2.7M333.9 127l1.9 1.9M333.9 128.8l1.9 -1.9M335.8 127.9h2.7M337.2 126.6v2.7M336.2 127l1.9 1.9M336.2 128.8l1.9 -1.9M338.2 127.9h2.7M339.5 126.6v2.7M338.6 127l1.9 1.9M338.6 128.8l1.9 -1.9M340.6 127.9h2.7M341.9 126.6v2.7M341 127l1.9 1.9M341 128.8l1.9 -1.9M342.9 127.9h2.7M344.3 126.6v2.7M343.3 127l1.9 1.9M343.3 128.8l1.9 -1.9M345.3 127.9h2.7M346.7 126.6v2.7M345.7 127l1.9 1.9M345.7 128.8l1.9 -1.9M347.7 127.9h2.7M349 126.6v2.7M348.1 127l1.9 1.9M348.1 128.8l1.9 -1.9M350.1 127.9h2.7M351.4 126.6v2.7M350.5 127l1.9 1.9M350.5 128.8l1.9 -1.9M352.4 127.9h2.7M353.8 126.6v2.7M352.8 127l1.9 1.9M352.8 128.8l1.9 -1.9M354.8 127.9h2.7M356.2 126.6v2.7M355.2 127l1.9 1.9M355.2 128.8l1.9 -1.9M357.2 127.9h2.7M358.5 126.6v2.7M357.6 127l1.9 1.9M357.6 128.8l1.9 -1.9M359.6 126h2.7M360.9 124.6v2.7M360 125l1.9 1.9M360 126.9l1.9 -1.9M361.9 122.8h2.7M363.3 121.4v2.7M362.3 121.8l1.9 1.9M362.3 123.7l1.9 -1.9M364.3 119.2h2.7M365.6 117.8v2.7M364.7 118.2l1.9 1.9M364.7 120.1l1.9 -1.9M366.7 116.1h2.7M368 114.7v2.7M367.1 115.1l1.9 1.9M367.1 117l1.9 -1.9M369 111.3h2.7M370.4 110v2.7M369.5 110.4l1.9 1.9M369.5 112.3l1.9 -1.9M371.4 108.2h2.7M372.8 106.8v2.7M371.8 107.2l1.9 1.9M371.8 109.1l1.9 -1.9M373.8 101.2h2.7M375.1 99.9v2.7M374.2 100.3l1.9 1.9M374.2 102.2l1.9 -1.9M376.2 96.8h2.7M377.5 95.4v2.7M376.6 95.8l1.9 1.9M376.6 97.7l1.9 -1.9M378.5 90.1h2.7M379.9 88.7v2.7M378.9 89.1l1.9 1.9M378.9 91l1.9 -1.9M380.9 85.6h2.7M382.3 84.3v2.7M381.3 84.7l1.9 1.9M381.3 86.6l1.9 -1.9M383.3 78.4h2.7M384.6 77.1v2.7M383.7 77.5l1.9 1.9M383.7 79.4l1.9 -1.9M385.7 72.9h2.7M387 71.5v2.7M386.1 71.9l1.9 1.9M386.1 73.8l1.9 -1.9M388 67h2.7M389.4 65.6v2.7M388.4 66l1.9 1.9M388.4 67.9l1.9 -1.9M390.4 59.7h2.7M391.8 58.4v2.7M390.8 58.8l1.9 1.9M390.8 60.7l1.9 -1.9M392.8 56.3h2.7M394.1 54.9v2.7M393.2 55.3l1.9 1.9M393.2 57.2l1.9 -1.9M395.1 50.2h2.7M396.5 48.9v2.7M395.6 49.3l1.9 1.9M395.6 51.2l1.9 -1.9M397.5 44.4h2.7M398.9 43.1v2.7M397.9 43.5l1.9 1.9M397.9 45.4l1.9 -1.9M399.9 41.3h2.7M401.2 39.9v2.7M400.3 40.3l1.9 1.9M400.3 42.2l1.9 -1.9M402.3 37.9h2.7M403.6 36.6v2.7M402.7 37l1.9 1.9M402.7 38.9l1.9 -1.9M404.6 31.9h2.7M406 30.6v2.7M405 31l1.9 1.9M405 32.8l1.9 -1.9M407 31.6h2.7M408.4 30.3v2.7M407.4 30.7l1.9 1.9M407.4 32.6l1.9 -1.9M409.4 29.7h2.7M410.7 28.3v2.7M409.8 28.7l1.9 1.9M409.8 30.6l1.9 -1.9M411.8 27.2h2.7M413.1 25.9v2.7M412.2 26.3l1.9 1.9M412.2 28.2l1.9 -1.9M414.1 26.5h2.7M415.5 25.1v2.7M414.5 25.5l1.9 1.9M414.5 27.4l1.9 -1.9M416.5 25.1h2.7M417.9 23.7v2.7M416.9 24.1l1.9 1.9M416.9 26l1.9 -1.9M418.9 24.4h2.7M420.2 23.1v2.7M419.3 23.5l1.9 1.9M419.3 25.4l1.9 -1.9M421.2 21.1h2.7M422.6 19.8v2.7M421.7 20.2l1.9 1.9M421.7 22.1l1.9 -1.9M423.6 23.6h2.7M425 22.2v2.7M424 22.6l1.9 1.9M424 24.5l1.9 -1.9M426 24h2.7M427.3 22.7v2.7M426.4 23.1l1.9 1.9M426.4 25l1.9 -1.9M428.4 24.2h2.7M429.7 22.8v2.7M428.8 23.2l1.9 1.9M428.8 25.1l1.9 -1.9M430.7 24.3h2.7M432.1 22.9v2.7M431.1 23.3l1.9 1.9M431.1 25.2l1.9 -1.9M433.1 28.5h2.7M434.5 27.2v2.7M433.5 27.6l1.9 1.9M433.5 29.5l1.9 -1.9M435.5 31.3h2.7M436.8 30v2.7M435.9 30.4l1.9 1.9M435.9 32.3l1.9 -1.9M437.9 30.7h2.7M439.2 29.3v2.7M438.3 29.7l1.9 1.9M438.3 31.6l1.9 -1.9M440.2 38.1h2.7M441.6 36.8v2.7M440.6 37.2l1.9 1.9M440.6 39.1l1.9 -1.9M442.6 41h2.7M444 39.7v2.7M443 40.1l1.9 1.9M443 42l1.9 -1.9M445 44h2.7M446.3 42.7v2.7M445.4 43.1l1.9 1.9M445.4 45l1.9 -1.9M447.4 47h2.7M448.7 45.6v2.7M447.8 46l1.9 1.9M447.8 47.9l1.9 -1.9M449.7 56.1h2.7M451.1 54.7v2.7M450.1 55.1l1.9 1.9M450.1 57l1.9 -1.9M452.1 63.2h2.7M453.4 61.8v2.7M452.5 62.2l1.9 1.9M452.5 64.1l1.9 -1.9M454.5 66.5h2.7M455.8 65.1v2.7M454.9 65.5l1.9 1.9M454.9 67.4l1.9 -1.9M456.8 74.7h2.7M458.2 73.3v2.7M457.2 73.7l1.9 1.9M457.2 75.6l1.9 -1.9M459.2 81.3h2.7M460.6 79.9v2.7M459.6 80.3l1.9 1.9M459.6 82.2l1.9 -1.9M461.6 87h2.7M462.9 85.7v2.7M462 86.1l1.9 1.9M462 88l1.9 -1.9M464 93.9h2.7M465.3 92.6v2.7M464.4 93l1.9 1.9M464.4 94.9l1.9 -1.9M466.3 99.4h2.7M467.7 98v2.7M466.7 98.4l1.9 1.9M466.7 100.3l1.9 -1.9M468.7 105.2h2.7M470.1 103.9v2.7M469.1 104.3l1.9 1.9M469.1 106.2l1.9 -1.9M471.1 109.4h2.7M472.4 108v2.7M471.5 108.4l1.9 1.9M471.5 110.3l1.9 -1.9M473.5 113.8h2.7M474.8 112.4v2.7M473.9 112.8l1.9 1.9M473.9 114.7l1.9 -1.9M475.8 118.6h2.7M477.2 117.3v2.7M476.2 117.7l1.9 1.9M476.2 119.6l1.9 -1.9M478.2 122.3h2.7M479.6 121v2.7M478.6 121.4l1.9 1.9M478.6 123.3l1.9 -1.9M480.6 125.7h2.7M481.9 124.4v2.7M481 124.8l1.9 1.9M481 126.7l1.9 -1.9M482.9 127.9h2.7M484.3 126.6v2.7M483.4 127l1.9 1.9M483.4 128.8l1.9 -1.9M485.3 127.9h2.7M486.7 126.6v2.7M485.7 127l1.9 1.9M485.7 128.8l1.9 -1.9M487.7 127.9h2.7M489 126.6v2.7M488.1 127l1.9 1.9M488.1 128.8l1.9 -1.9M490.1 127.9h2.7M491.4 126.6v2.7M490.5 127l1.9 1.9M490.5 128.8l1.9 -1.9M492.4 127.9h2.7M493.8 126.6v2.7M492.8 127l1.9 1.9M492.8 128.8l1.9 -1.9M494.8 127.9h2.7M496.2 126.6v2.7M495.2 127l1.9 1.9M495.2 128.8l1.9 -1.9M497.2 127.9h2.7M498.5 126.6v2.7M497.6 127l1.9 1.9M497.6 128.8l1.9 -1.9M499.6 127.9h2.7M500.9 126.6v2.7M500 127l1.9 1.9M500 128.8l1.9 -1.9M501.9 127.9h2.7M503.3 126.6v2.7M502.3 127l1.9 1.9M502.3 128.8l1.9 -1.9M504.3 127.9h2.7M505.7 126.6v2.7M504.7 127l1.9 1.9M504.7 128.8l1.9 -1.9M506.7 127.9h2.7M508 126.6v2.7M507.1 127l1.9 1.9M507.1 128.8l1.9 -1.9M509 127.9h2.7M510.4 126.6v2.7M509.5 127l1.9 1.9M509.5 128.8l1.9 -1.9M511.4 127.9h2.7M512.8 126.6v2.7M511.8 127l1.9 1.9M511.8 128.8l1.9 -1.9M513.8 127.9h2.7M515.1 126.6v2.7M514.2 127l1.9 1.9M514.2 128.8l1.9 -1.9M516.2 127.9h2.7M517.5 126.6v2.7M516.6 127l1.9 1.9M516.6 128.8l1.9 -1.9M518.5 127.9h2.7M519.9 126.6v2.7M518.9 127l1.9 1.9M518.9 128.8l1.9 -1.9M520.9 127.9h2.7M522.3 126.6v2.7M521.3 127l1.9 1.9M521.3 128.8l1.9 -1.9M523.3 127.9h2.7M524.6 126.6v2.7M523.7 127l1.9 1.9M523.7 128.8l1.9 -1.9M525.7 127.9h2.7M527 126.6v2.7M526.1 127l1.9 1.9M526.1 128.8l1.9 -1.9M528 127.9h2.7M529.4 126.6v2.7M528.4 127l1.9 1.9M528.4 128.8l1.9 -1.9M530.4 127.9h2.7M531.8 126.6v2.7M530.8 127l1.9 1.9M530.8 128.8l1.9 -1.9M532.8 127.9h2.7M534.1 126.6v2.7M533.2 127l1.9 1.9M533.2 128.8l1.9 -1.9M535.1 127.9h2.7M536.5 126.6v2.7M535.6 127l1.9 1.9M535.6 128.8l1.9 -1.9" fill="none" stroke="#ff0000" stroke-width="0.5"/>
<path d="M308.7 127.9 311.1 127.9 313.4 127.9 315.8 127.9 318.2 127.9 320.6 127.9 322.9 127.9 325.3 127.9 327.7 127.9 330.1 127.9 332.4 127.9 334.8 127.9 337.2 127.9 339.5 127.9 341.9 127.9 344.3 127.9 346.7 127.9 349 127.9 351.4 127.9 353.8 127.9 356.2 127.9 358.5 127.9 360.9 127.9 363.3 125.3 365.6 122.3 368 119 370.4 114.4 372.8 110.9 375.1 106.8 377.5 101.5 379.9 96.8 382.3 91.1 384.6 95.3 387 100.9 389.4 71.3 391.8 65.6 394.1 60.8 396.5 54.4 398.9 51.1 401.2 46.2 403.6 43.2 406 38.5 408.4 67.1 410.7 35.6 413.1 45 415.5 30.2 417.9 27.9 420.2 26.7 422.6 24.9 425 24.5 427.3 24.9 429.7 27.7 432.1 31.1 434.5 28 436.8 29.5 439.2 73.6 441.6 34.5 444 52.5 446.3 66.4 448.7 45.7 451.1 51.5 453.4 79.4 455.8 63.3 458.2 67.6 460.6 76 462.9 79.3 465.3 90.9 467.7 94.8 470.1 101 472.4 105.5 474.8 121 477.2 114.3 479.6 118.6 481.9 121.9 484.3 111.3 486.7 127.9 489 127.9 491.4 127.9 493.8 127.9 496.2 127.9 498.5 127.9 500.9 127.9 503.3 127.9 505.7 127.9 508 127.9 510.4 127.9 512.8 127.9 515.1 127.9 517.5 127.9 519.9 127.9 522.3 127.9 524.6 127.9 527 127.9 529.4 127.9 531.8 127.9 534.1 127.9 536.5 127.9" fill="none" stroke="#e8641e" stroke-width="0.35"/>
<path d="M308.7 126.6l1 1.4l-1 1.4l-1 -1.4zM311.1 126.6l1 1.4l-1 1.4l-1 -1.4zM313.4 126.6l1 1.4l-1 1.4l-1 -1.4zM315.8 126.6l1 1.4l-1 1.4l-1 -1.4zM318.2 126.6l1 1.4l-1 1.4l-1 -1.4zM320.6 126.6l1 1.4l-1 1.4l-1 -1.4zM322.9 126.6l1 1.4l-1 1.4l-1 -1.4zM325.3 126.6l1 1.4l-1 1.4l-1 -1.4zM327.7 126.6l1 1.4l-1 1.4l-1 -1.4zM330.1 126.6l1 1.4l-1 1.4l-1 -1.4zM332.4 126.6l1 1.4l-1 1.4l-1 -1.4zM334.8 126.6l1 1.4l-1 1.4l-1 -1.4zM337.2 126.6l1 1.4l-1 1.4l-1 -1.4zM339.5 126.6l1 1.4l-1 1.4l-1 -1.4zM341.9 126.6l1 1.4l-1 1.4l-1 -1.4zM344.3 126.6l1 1.4l-1 1.4l-1 -1.4zM346.7 126.6l1 1.4l-1 1.4l-1 -1.4zM349 126.6l1 1.4l-1 1.4l-1 -1.4zM351.4 126.6l1 1.4l-1 1.4l-1 -1.4zM353.8 126.6l1 1.4l-1 1.4l-1 -1.4zM356.2 126.6l1 1.4l-1 1.4l-1 -1.4zM358.5 126.6l1 1.4l-1 1.4l-1 -1.4zM360.9 126.6l1 1.4l-1 1.4l-1 -1.4zM363.3 123.9l1 1.4l-1 1.4l-1 -1.4zM365.6 120.9l1 1.4l-1 1.4l-1 -1.4zM368 117.6l1 1.4l-1 1.4l-1 -1.4zM370.4 113.1l1 1.4l-1 1.4l-1 -1.4zM372.8 109.6l1 1.4l-1 1.4l-1 -1.4zM375.1 105.4l1 1.4l-1 1.4l-1 -1.4zM377.5 100.1l1 1.4l-1 1.4l-1 -1.4zM379.9 95.4l1 1.4l-1 1.4l-1 -1.4zM382.3 89.7l1 1.4l-1 1.4l-1 -1.4zM384.6 93.9l1 1.4l-1 1.4l-1 -1.4zM387 99.6l1 1.4l-1 1.4l-1 -1.4zM389.4 70l1 1.4l-1 1.4l-1 -1.4zM391.8 64.2l1 1.4l-1 1.4l-1 -1.4zM394.1 59.4l1 1.4l-1 1.4l-1 -1.4zM396.5 53l1 1.4l-1 1.4l-1 -1.4zM398.9 49.8l1 1.4l-1 1.4l-1 -1.4zM401.2 44.8l1 1.4l-1 1.4l-1 -1.4zM403.6 41.8l1 1.4l-1 1.4l-1 -1.4zM406 37.1l1 1.4l-1 1.4l-1 -1.4zM408.4 65.7l1 1.4l-1 1.4l-1 -1.4zM410.7 34.3l1 1.4l-1 1.4l-1 -1.4zM413.1 43.6l1 1.4l-1 1.4l-1 -1.4zM415.5 28.9l1 1.4l-1 1.4l-1 -1.4zM417.9 26.5l1 1.4l-1 1.4l-1 -1.4zM420.2 25.3l1 1.4l-1 1.4l-1 -1.4zM422.6 23.6l1 1.4l-1 1.4l-1 -1.4zM425 23.1l1 1.4l-1 1.4l-1 -1.4zM427.3 23.6l1 1.4l-1 1.4l-1 -1.4zM429.7 26.4l1 1.4l-1 1.4l-1 -1.4zM432.1 29.8l1 1.4l-1 1.4l-1 -1.4zM434.5 26.7l1 1.4l-1 1.4l-1 -1.4zM436.8 28.2l1 1.4l-1 1.4l-1 -1.4zM439.2 72.2l1 1.4l-1 1.4l-1 -1.4zM441.6 33.1l1 1.4l-1 1.4l-1 -1.4zM444 51.1l1 1.4l-1 1.4l-1 -1.4zM446.3 65.1l1 1.4l-1 1.4l-1 -1.4zM448.7 44.4l1 1.4l-1 1.4l-1 -1.4zM451.1 50.2l1 1.4l-1 1.4l-1 -1.4zM453.4 78l1 1.4l-1 1.4l-1 -1.4zM455.8 62l1 1.4l-1 1.4l-1 -1.4zM458.2 66.2l1 1.4l-1 1.4l-1 -1.4zM460.6 74.6l1 1.4l-1 1.4l-1 -1.4zM462.9 77.9l1 1.4l-1 1.4l-1 -1.4zM465.3 89.5l1 1.4l-1 1.4l-1 -1.4zM467.7 93.5l1 1.4l-1 1.4l-1 -1.4zM470.1 99.7l1 1.4l-1 1.4l-1 -1.4zM472.4 104.2l1 1.4l-1 1.4l-1 -1.4zM474.8 119.7l1 1.4l-1 1.4l-1 -1.4zM477.2 112.9l1 1.4l-1 1.4l-1 -1.4zM479.6 117.2l1 1.4l-1 1.4l-1 -1.4zM481.9 120.6l1 1.4l-1 1.4l-1 -1.4zM484.3 110l1 1.4l-1 1.4l-1 -1.4zM486.7 126.6l1 1.4l-1 1.4l-1 -1.4zM489 126.6l1 1.4l-1 1.4l-1 -1.4zM491.4 126.6l1 1.4l-1 1.4l-1 -1.4zM493.8 126.6l1 1.4l-1 1.4l-1 -1.4zM496.2 126.6l1 1.4l-1 1.4l-1 -1.4zM498.5 126.6l1 1.4l-1 1.4l-1 -1.4zM500.9 126.6l1 1.4l-1 1.4l-1 -1.4zM503.3 126.6l1 1.4l-1 1.4l-1 -1.4zM505.7 126.6l1 1.4l-1 1.4l-1 -1.4zM508 126.6l1 1.4l-1 1.4l-1 -1.4zM510.4 126.6l1 1.4l-1 1.4l-1 -1.4zM512.8 126.6l1 1.4l-1 1.4l-1 -1.4zM515.1 126.6l1 1.4l-1 1.4l-1 -1.4zM517.5 126.6l1 1.4l-1 1.4l-1 -1.4zM519.9 126.6l1 1.4l-1 1.4l-1 -1.4zM522.3 126.6l1 1.4l-1 1.4l-1 -1.4zM524.6 126.6l1 1.4l-1 1.4l-1 -1.4zM527 126.6l1 1.4l-1 1.4l-1 -1.4zM529.4 126.6l1 1.4l-1 1.4l-1 -1.4zM531.8 126.6l1 1.4l-1 1.4l-1 -1.4zM534.1 126.6l1 1.4l-1 1.4l-1 -1.4zM536.5 126.6l1 1.4l-1 1.4l-1 -1.4z" fill="none" stroke="#e8641e" stroke-width="0.5"/>
<path d="M308.7 127.9 311.1 127.9 313.4 127.9 315.8 127.9 318.2 127.9 320.6 127.9 322.9 127.9 325.3 127.9 327.7 127.9 330.1 127.9 332.4 127.9 334.8 127.9 337.2 127.9 339.5 127.9 341.9 127.9 344.3 127.9 346.7 127.9 349 127.9 351.4 127.9 353.8 127.9 356.2 127.9 358.5 127.9 360.9 127.9 363.3 127.9 365.6 125.6 368 122.7 370.4 119.3 372.8 115 375.1 111.8 377.5 104.4 379.9 101.2 382.3 99.3 384.6 90.8 387 91.4 389.4 80 391.8 102.2 394.1 74.1 396.5 62.7 398.9 53.8 401.2 75.2 403.6 50.4 406 41.6 408.4 56.4 410.7 46.2 413.1 39.2 415.5 43.7 417.9 32 420.2 40.5 422.6 37.7 425 42.3 427.3 30 429.7 35.7 432.1 37.4 434.5 56.4 436.8 34.7 439.2 42.2 441.6 43.6 444 48.3 446.3 51.8 448.7 56.8 451.1 88.1 453.4 67.3 455.8 69.7 458.2 76.4 460.6 76.9 462.9 102.9 465.3 93.4 467.7 97.2 470.1 117 472.4 107.8 474.8 113.6 477.2 115.6 479.6 120.6 481.9 123.6 484.3 126.6 486.7 127.9 489 127.9 491.4 127.9 493.8 127.9 496.2 127.9 498.5 127.9 500.9 127.9 503.3 127.9 505.7 127.9 508 127.9 510.4 127.9 512.8 127.9 515.1 127.9 517.5 127.9 519.9 127.9 522.3 127.9 524.6 127.9 527 127.9 529.4 127.9 531.8 127.9 534.1 127.9 536.5 127.9" fill="none" stroke="#00ee00" stroke-width="0.35"/>
<path d="M307.6 126.8h2.2v2.2h-2.2zM310 126.8h2.2v2.2h-2.2zM312.4 126.8h2.2v2.2h-2.2zM314.7 126.8h2.2v2.2h-2.2zM317.1 126.8h2.2v2.2h-2.2zM319.5 126.8h2.2v2.2h-2.2zM321.9 126.8h2.2v2.2h-2.2zM324.2 126.8h2.2v2.2h-2.2zM326.6 126.8h2.2v2.2h-2.2zM329 126.8h2.2v2.2h-2.2zM331.3 126.8h2.2v2.2h-2.2zM333.7 126.8h2.2v2.2h-2.2zM336.1 126.8h2.2v2.2h-2.2zM338.5 126.8h2.2v2.2h-2.2zM340.8 126.8h2.2v2.2h-2.2zM343.2 126.8h2.2v2.2h-2.2zM345.6 126.8h2.2v2.2h-2.2zM348 126.8h2.2v2.2h-2.2zM350.3 126.8h2.2v2.2h-2.2zM352.7 126.8h2.2v2.2h-2.2zM355.1 126.8h2.2v2.2h-2.2zM357.5 126.8h2.2v2.2h-2.2zM359.8 126.8h2.2v2.2h-2.2zM362.2 126.8h2.2v2.2h-2.2zM364.6 124.5h2.2v2.2h-2.2zM366.9 121.6h2.2v2.2h-2.2zM369.3 118.2h2.2v2.2h-2.2zM371.7 113.9h2.2v2.2h-2.2zM374.1 110.7h2.2v2.2h-2.2zM376.4 103.4h2.2v2.2h-2.2zM378.8 100.1h2.2v2.2h-2.2zM381.2 98.2h2.2v2.2h-2.2zM383.6 89.8h2.2v2.2h-2.2zM385.9 90.3h2.2v2.2h-2.2zM388.3 78.9h2.2v2.2h-2.2zM390.7 101.1h2.2v2.2h-2.2zM393 73h2.2v2.2h-2.2zM395.4 61.6h2.2v2.2h-2.2zM397.8 52.8h2.2v2.2h-2.2zM400.2 74.1h2.2v2.2h-2.2zM402.5 49.3h2.2v2.2h-2.2zM404.9 40.6h2.2v2.2h-2.2zM407.3 55.3h2.2v2.2h-2.2zM409.7 45.1h2.2v2.2h-2.2zM412 38.1h2.2v2.2h-2.2zM414.4 42.6h2.2v2.2h-2.2zM416.8 30.9h2.2v2.2h-2.2zM419.1 39.4h2.2v2.2h-2.2zM421.5 36.6h2.2v2.2h-2.2zM423.9 41.2h2.2v2.2h-2.2zM426.3 28.9h2.2v2.2h-2.2zM428.6 34.6h2.2v2.2h-2.2zM431 36.3h2.2v2.2h-2.2zM433.4 55.3h2.2v2.2h-2.2zM435.8 33.7h2.2v2.2h-2.2zM438.1 41.1h2.2v2.2h-2.2zM440.5 42.5h2.2v2.2h-2.2zM442.9 47.2h2.2v2.2h-2.2zM445.2 50.7h2.2v2.2h-2.2zM447.6 55.7h2.2v2.2h-2.2zM450 87h2.2v2.2h-2.2zM452.4 66.2h2.2v2.2h-2.2zM454.7 68.6h2.2v2.2h-2.2zM457.1 75.3h2.2v2.2h-2.2zM459.5 75.8h2.2v2.2h-2.2zM461.9 101.8h2.2v2.2h-2.2zM464.2 92.3h2.2v2.2h-2.2zM466.6 96.1h2.2v2.2h-2.2zM469 116h2.2v2.2h-2.2zM471.4 106.8h2.2v2.2h-2.2zM473.7 112.6h2.2v2.2h-2.2zM476.1 114.5h2.2v2.2h-2.2zM478.5 119.5h2.2v2.2h-2.2zM480.8 122.5h2.2v2.2h-2.2zM483.2 125.5h2.2v2.2h-2.2zM485.6 126.8h2.2v2.2h-2.2zM488 126.8h2.2v2.2h-2.2zM490.3 126.8h2.2v2.2h-2.2zM492.7 126.8h2.2v2.2h-2.2zM495.1 126.8h2.2v2.2h-2.2zM497.5 126.8h2.2v2.2h-2.2zM499.8 126.8h2.2v2.2h-2.2zM502.2 126.8h2.2v2.2h-2.2zM504.6 126.8h2.2v2.2h-2.2zM506.9 126.8h2.2v2.2h-2.2zM509.3 126.8h2.2v2.2h-2.2zM511.7 126.8h2.2v2.2h-2.2zM514.1 126.8h2.2v2.2h-2.2zM516.4 126.8h2.2v2.2h-2.2zM518.8 126.8h2.2v2.2h-2.2zM521.2 126.8h2.2v2.2h-2.2zM523.6 126.8h2.2v2.2h-2.2zM525.9 126.8h2.2v2.2h-2.2zM528.3 126.8h2.2v2.2h-2.2zM530.7 126.8h2.2v2.2h-2.2zM533 126.8h2.2v2.2h-2.2zM535.4 126.8h2.2v2.2h-2.2z" fill="none" stroke="#00ee00" stroke-width="0.5"/>
<path d="M308.7 127.9 311.1 127.9 313.4 127.9 315.8 127.9 318.2 127.9 320.6 127.9 322.9 127.9 325.3 127.9 327.7 127.9 330.1 127.9 332.4 127.9 334.8 127.9 337.2 127.9 339.5 127.9 341.9 127.9 344.3 127.9 346.7 127.9 349 127.9 351.4 127.9 353.8 127.9 356.2 127.9 358.5 127.9 360.9 127.9 363.3 124.8 365.6 121.9 368 117.9 370.4 114.8 372.8 110.1 375.1 105.3 377.5 103 379.9 93.3 382.3 89.8 384.6 81.4 387 76.4 389.4 66.6 391.8 68.3 394.1 63.1 396.5 58.8 398.9 59.4 401.2 50.7 403.6 81.1 406 34.1 408.4 38.7 410.7 47.8 413.1 35 415.5 28.4 417.9 31.8 420.2 19.6 422.6 34.3 425 54.7 427.3 83.9 429.7 54.7 432.1 83.9 434.5 66.7 436.8 35 439.2 33.4 441.6 60.4 444 37 446.3 46.4 448.7 66.3 451.1 54.8 453.4 50.9 455.8 64.5 458.2 68.9 460.6 80.5 462.9 86.3 465.3 90.4 467.7 97.7 470.1 102.5 472.4 105.1 474.8 112 477.2 115 479.6 120.4 481.9 123.2 484.3 126.6 486.7 127.9 489 127.9 491.4 127.9 493.8 127.9 496.2 127.9 498.5 127.9 500.9 127.9 503.3 127.9 505.7 127.9 508 127.9 510.4 127.9 512.8 127.9 515.1 127.9 517.5 127.9 519.9 127.9 522.3 127.9 524.6 127.9 527 127.9 529.4 127.9 531.8 127.9 534.1 127.9 536.5 127.9" fill="none" stroke="#2222ff" stroke-width="0.35"/>
<path d="M307.3 127.9h2.7M308.7 126.6v2.7M309.7 127.9h2.7M311.1 126.6v2.7M312.1 127.9h2.7M313.4 126.6v2.7M314.5 127.9h2.7M315.8 126.6v2.7M316.8 127.9h2.7M318.2 126.6v2.7M319.2 127.9h2.7M320.6 126.6v2.7M321.6 127.9h2.7M322.9 126.6v2.7M324 127.9h2.7M325.3 126.6v2.7M326.3 127.9h2.7M327.7 126.6v2.7M328.7 127.9h2.7M330.1 126.6v2.7M331.1 127.9h2.7M332.4 126.6v2.7M333.5 127.9h2.7M334.8 126.6v2.7M335.8 127.9h2.7M337.2 126.6v2.7M338.2 127.9h2.7M339.5 126.6v2.7M340.6 127.9h2.7M341.9 126.6v2.7M342.9 127.9h2.7M344.3 126.6v2.7M345.3 127.9h2.7M346.7 126.6v2.7M347.7 127.9h2.7M349 126.6v2.7M350.1 127.9h2.7M351.4 126.6v2.7M352.4 127.9h2.7M353.8 126.6v2.7M354.8 127.9h2.7M356.2 126.6v2.7M357.2 127.9h2.7M358.5 126.6v2.7M359.6 127.9h2.7M360.9 126.6v2.7M361.9 124.8h2.7M363.3 123.4v2.7M364.3 121.9h2.7M365.6 120.6v2.7M366.7 117.9h2.7M368 116.6v2.7M369 114.8h2.7M370.4 113.4v2.7M371.4 110.1h2.7M372.8 108.8v2.7M373.8 105.3h2.7M375.1 104v2.7M376.2 103h2.7M377.5 101.6v2.7M378.5 93.3h2.7M379.9 91.9v2.7M380.9 89.8h2.7M382.3 88.5v2.7M383.3 81.4h2.7M384.6 80.1v2.7M385.7 76.4h2.7M387 75.1v2.7M388 66.6h2.7M389.4 65.3v2.7M390.4 68.3h2.7M391.8 66.9v2.7M392.8 63.1h2.7M394.1 61.8v2.7M395.1 58.8h2.7M396.5 57.5v2.7M397.5 59.4h2.7M398.9 58v2.7M399.9 50.7h2.7M401.2 49.4v2.7M402.3 81.1h2.7M403.6 79.7v2.7M404.6 34.1h2.7M406 32.8v2.7M407 38.7h2.7M408.4 37.4v2.7M409.4 47.8h2.7M410.7 46.5v2.7M411.8 35h2.7M413.1 33.7v2.7M414.1 28.4h2.7M415.5 27v2.7M416.5 31.8h2.7M417.9 30.5v2.7M418.9 19.6h2.7M420.2 18.2v2.7M421.2 34.3h2.7M422.6 32.9v2.7M423.6 54.7h2.7M425 53.3v2.7M426 83.9h2.7M427.3 82.5v2.7M428.4 54.7h2.7M429.7 53.3v2.7M430.7 83.9h2.7M432.1 82.5v2.7M433.1 66.7h2.7M434.5 65.3v2.7M435.5 35h2.7M436.8 33.6v2.7M437.9 33.4h2.7M439.2 32v2.7M440.2 60.4h2.7M441.6 59.1v2.7M442.6 37h2.7M444 35.6v2.7M445 46.4h2.7M446.3 45v2.7M447.4 66.3h2.7M448.7 64.9v2.7M449.7 54.8h2.7M451.1 53.5v2.7M452.1 50.9h2.7M453.4 49.5v2.7M454.5 64.5h2.7M455.8 63.2v2.7M456.8 68.9h2.7M458.2 67.5v2.7M459.2 80.5h2.7M460.6 79.1v2.7M461.6 86.3h2.7M462.9 84.9v2.7M464 90.4h2.7M465.3 89v2.7M466.3 97.7h2.7M467.7 96.3v2.7M468.7 102.5h2.7M470.1 101.1v2.7M471.1 105.1h2.7M472.4 103.7v2.7M473.5 112h2.7M474.8 110.6v2.7M475.8 115h2.7M477.2 113.6v2.7M478.2 120.4h2.7M479.6 119.1v2.7M480.6 123.2h2.7M481.9 121.9v2.7M482.9 126.6h2.7M484.3 125.3v2.7M485.3 127.9h2.7M486.7 126.6v2.7M487.7 127.9h2.7M489 126.6v2.7M490.1 127.9h2.7M491.4 126.6v2.7M492.4 127.9h2.7M493.8 126.6v2.7M494.8 127.9h2.7M496.2 126.6v2.7M497.2 127.9h2.7M498.5 126.6v2.7M499.6 127.9h2.7M500.9 126.6v2.7M501.9 127.9h2.7M503.3 126.6v2.7M504.3 127.9h2.7M505.7 126.6v2.7M506.7 127.9h2.7M508 126.6v2.7M509 127.9h2.7M510.4 126.6v2.7M511.4 127.9h2.7M512.8 126.6v2.7M513.8 127.9h2.7M515.1 126.6v2.7M516.2 127.9h2.7M517.5 126.6v2.7M518.5 127.9h2.7M519.9 126.6v2.7M520.9 127.9h2.7M522.3 126.6v2.7M523.3 127.9h2.7M524.6 126.6v2.7M525.7 127.9h2.7M527 126.6v2.7M528 127.9h2.7M529.4 126.6v2.7M530.4 127.9h2.7M531.8 126.6v2.7M532.8 127.9h2.7M534.1 126.6v2.7M535.1 127.9h2.7M536.5 126.6v2.7" fill="none" stroke="#2222ff" stroke-width="0.5"/>
<path d="M308.7 127.9 311.1 127.9 313.4 127.9 315.8 127.9 318.2 127.9 320.6 127.9 322.9 127.9 325.3 127.9 327.7 127.9 330.1 127.9 332.4 127.9 334.8 127.9 337.2 127.9 339.5 127.9 341.9 127.9 344.3 127.9 346.7 127.9 349 127.9 351.4 127.9 353.8 127.9 356.2 127.9 358.5 127.9 360.9 127.9 363.3 127.9 365.6 124.6 368 121.9 370.4 118.6 372.8 114.8 375.1 109.6 377.5 103.7 379.9 104 382.3 97.5 384.6 91.5 387 89.4 389.4 95.3 391.8 81.5 394.1 67.3 396.5 62.1 398.9 60.7 401.2 48.7 403.6 48.5 406 59.3 408.4 39 410.7 46.6 413.1 39.5 415.5 36 417.9 33.5 420.2 35.8 422.6 37 425 34.4 427.3 29.5 429.7 35 432.1 42.2 434.5 33.4 436.8 39.4 439.2 43.1 441.6 46.4 444 53.6 446.3 83.3 448.7 57.8 451.1 53.1 453.4 67 455.8 93.7 458.2 90.7 460.6 81.8 462.9 87.5 465.3 95.4 467.7 110.7 470.1 105.9 472.4 108.3 474.8 113.9 477.2 116.3 479.6 120.8 481.9 123.9 484.3 127.2 486.7 127.9 489 127.9 491.4 127.9 493.8 127.9 496.2 127.9 498.5 127.9 500.9 127.9 503.3 127.9 505.7 127.9 508 127.9 510.4 127.9 512.8 127.9 515.1 127.9 517.5 127.9 519.9 127.9 522.3 127.9 524.6 127.9 527 127.9 529.4 127.9 531.8 127.9 534.1 127.9 536.5 127.9" fill="none" stroke="#00e5e5" stroke-width="0.35"/>
<path d="M307.6 127.9a1.1 1.1 0 1 0 2.3 0a1.1 1.1 0 1 0 -2.3 0M309.9 127.9a1.1 1.1 0 1 0 2.3 0a1.1 1.1 0 1 0 -2.3 0M312.3 127.9a1.1 1.1 0 1 0 2.3 0a1.1 1.1 0 1 0 -2.3 0M314.7 127.9a1.1 1.1 0 1 0 2.3 0a1.1 1.1 0 1 0 -2.3 0M317 127.9a1.1 1.1 0 1 0 2.3 0a1.1 1.1 0 1 0 -2.3 0M319.4 127.9a1.1 1.1 0 1 0 2.3 0a1.1 1.1 0 1 0 -2.3 0M321.8 127.9a1.1 1.1 0 1 0 2.3 0a1.1 1.1 0 1 0 -2.3 0M324.2 127.9a1.1 1.1 0 1 0 2.3 0a1.1 1.1 0 1 0 -2.3 0M326.5 127.9a1.1 1.1 0 1 0 2.3 0a1.1 1.1 0 1 0 -2.3 0M328.9 127.9a1.1 1.1 0 1 0 2.3 0a1.1 1.1 0 1 0 -2.3 0M331.3 127.9a1.1 1.1 0 1 0 2.3 0a1.1 1.1 0 1 0 -2.3 0M333.7 127.9a1.1 1.1 0 1 0 2.3 0a1.1 1.1 0 1 0 -2.3 0M336 127.9a1.1 1.1 0 1 0 2.3 0a1.1 1.1 0 1 0 -2.3 0M338.4 127.9a1.1 1.1 0 1 0 2.3 0a1.1 1.1 0 1 0 -2.3 0M340.8 127.9a1.1 1.1 0 1 0 2.3 0a1.1 1.1 0 1 0 -2.3 0M343.1 127.9a1.1 1.1 0 1 0 2.3 0a1.1 1.1 0 1 0 -2.3 0M345.5 127.9a1.1 1.1 0 1 0 2.3 0a1.1 1.1 0 1 0 -2.3 0M347.9 127.9a1.1 1.1 0 1 0 2.3 0a1.1 1.1 0 1 0 -2.3 0M350.3 127.9a1.1 1.1 0 1 0 2.3 0a1.1 1.1 0 1 0 -2.3 0M352.6 127.9a1.1 1.1 0 1 0 2.3 0a1.1 1.1 0 1 0 -2.3 0M355 127.9a1.1 1.1 0 1 0 2.3 0a1.1 1.1 0 1 0 -2.3 0M357.4 127.9a1.1 1.1 0 1 0 2.3 0a1.1 1.1 0 1 0 -2.3 0M359.8 127.9a1.1 1.1 0 1 0 2.3 0a1.1 1.1 0 1 0 -2.3 0M362.1 127.9a1.1 1.1 0 1 0 2.3 0a1.1 1.1 0 1 0 -2.3 0M364.5 124.6a1.1 1.1 0 1 0 2.3 0a1.1 1.1 0 1 0 -2.3 0M366.9 121.9a1.1 1.1 0 1 0 2.3 0a1.1 1.1 0 1 0 -2.3 0M369.2 118.6a1.1 1.1 0 1 0 2.3 0a1.1 1.1 0 1 0 -2.3 0M371.6 114.8a1.1 1.1 0 1 0 2.3 0a1.1 1.1 0 1 0 -2.3 0M374 109.6a1.1 1.1 0 1 0 2.3 0a1.1 1.1 0 1 0 -2.3 0M376.4 103.7a1.1 1.1 0 1 0 2.3 0a1.1 1.1 0 1 0 -2.3 0M378.7 104a1.1 1.1 0 1 0 2.3 0a1.1 1.1 0 1 0 -2.3 0M381.1 97.5a1.1 1.1 0 1 0 2.3 0a1.1 1.1 0 1 0 -2.3 0M383.5 91.5a1.1 1.1 0 1 0 2.3 0a1.1 1.1 0 1 0 -2.3 0M385.9 89.4a1.1 1.1 0 1 0 2.3 0a1.1 1.1 0 1 0 -2.3 0M388.2 95.3a1.1 1.1 0 1 0 2.3 0a1.1 1.1 0 1 0 -2.3 0M390.6 81.5a1.1 1.1 0 1 0 2.3 0a1.1 1.1 0 1 0 -2.3 0M393 67.3a1.1 1.1 0 1 0 2.3 0a1.1 1.1 0 1 0 -2.3 0M395.4 62.1a1.1 1.1 0 1 0 2.3 0a1.1 1.1 0 1 0 -2.3 0M397.7 60.7a1.1 1.1 0 1 0 2.3 0a1.1 1.1 0 1 0 -2.3 0M400.1 48.7a1.1 1.1 0 1 0 2.3 0a1.1 1.1 0 1 0 -2.3 0M402.5 48.5a1.1 1.1 0 1 0 2.3 0a1.1 1.1 0 1 0 -2.3 0M404.8 59.3a1.1 1.1 0 1 0 2.3 0a1.1 1.1 0 1 0 -2.3 0M407.2 39a1.1 1.1 0 1 0 2.3 0a1.1 1.1 0 1 0 -2.3 0M409.6 46.6a1.1 1.1 0 1 0 2.3 0a1.1 1.1 0 1 0 -2.3 0M412 39.5a1.1 1.1 0 1 0 2.3 0a1.1 1.1 0 1 0 -2.3 0M414.3 36a1.1 1.1 0 1 0 2.3 0a1.1 1.1 0 1 0 -2.3 0M416.7 33.5a1.1 1.1 0 1 0 2.3 0a1.1 1.1 0 1 0 -2.3 0M419.1 35.8a1.1 1.1 0 1 0 2.3 0a1.1 1.1 0 1 0 -2.3 0M421.5 37a1.1 1.1 0 1 0 2.3 0a1.1 1.1 0 1 0 -2.3 0M423.8 34.4a1.1 1.1 0 1 0 2.3 0a1.1 1.1 0 1 0 -2.3 0M426.2 29.5a1.1 1.1 0 1 0 2.3 0a1.1 1.1 0 1 0 -2.3 0M428.6 35a1.1 1.1 0 1 0 2.3 0a1.1 1.1 0 1 0 -2.3 0M430.9 42.2a1.1 1.1 0 1 0 2.3 0a1.1 1.1 0 1 0 -2.3 0M433.3 33.4a1.1 1.1 0 1 0 2.3 0a1.1 1.1 0 1 0 -2.3 0M435.7 39.4a1.1 1.1 0 1 0 2.3 0a1.1 1.1 0 1 0 -2.3 0M438.1 43.1a1.1 1.1 0 1 0 2.3 0a1.1 1.1 0 1 0 -2.3 0M440.4 46.4a1.1 1.1 0 1 0 2.3 0a1.1 1.1 0 1 0 -2.3 0M442.8 53.6a1.1 1.1 0 1 0 2.3 0a1.1 1.1 0 1 0 -2.3 0M445.2 83.3a1.1 1.1 0 1 0 2.3 0a1.1 1.1 0 1 0 -2.3 0M447.6 57.8a1.1 1.1 0 1 0 2.3 0a1.1 1.1 0 1 0 -2.3 0M449.9 53.1a1.1 1.1 0 1 0 2.3 0a1.1 1.1 0 1 0 -2.3 0M452.3 67a1.1 1.1 0 1 0 2.3 0a1.1 1.1 0 1 0 -2.3 0M454.7 93.7a1.1 1.1 0 1 0 2.3 0a1.1 1.1 0 1 0 -2.3 0M457 90.7a1.1 1.1 0 1 0 2.3 0a1.1 1.1 0 1 0 -2.3 0M459.4 81.8a1.1 1.1 0 1 0 2.3 0a1.1 1.1 0 1 0 -2.3 0M461.8 87.5a1.1 1.1 0 1 0 2.3 0a1.1 1.1 0 1 0 -2.3 0M464.2 95.4a1.1 1.1 0 1 0 2.3 0a1.1 1.1 0 1 0 -2.3 0M466.5 110.7a1.1 1.1 0 1 0 2.3 0a1.1 1.1 0 1 0 -2.3 0M468.9 105.9a1.1 1.1 0 1 0 2.3 0a1.1 1.1 0 1 0 -2.3 0M471.3 108.3a1.1 1.1 0 1 0 2.3 0a1.1 1.1 0 1 0 -2.3 0M473.7 113.9a1.1 1.1 0 1 0 2.3 0a1.1 1.1 0 1 0 -2.3 0M476 116.3a1.1 1.1 0 1 0 2.3 0a1.1 1.1 0 1 0 -2.3 0M478.4 120.8a1.1 1.1 0 1 0 2.3 0a1.1 1.1 0 1 0 -2.3 0M480.8 123.9a1.1 1.1 0 1 0 2.3 0a1.1 1.1 0 1 0 -2.3 0M483.1 127.2a1.1 1.1 0 1 0 2.3 0a1.1 1.1 0 1 0 -2.3 0M485.5 127.9a1.1 1.1 0 1 0 2.3 0a1.1 1.1 0 1 0 -2.3 0M487.9 127.9a1.1 1.1 0 1 0 2.3 0a1.1 1.1 0 1 0 -2.3 0M490.3 127.9a1.1 1.1 0 1 0 2.3 0a1.1 1.1 0 1 0 -2.3 0M492.6 127.9a1.1 1.1 0 1 0 2.3 0a1.1 1.1 0 1 0 -2.3 0M495 127.9a1.1 1.1 0 1 0 2.3 0a1.1 1.1 0 1 0 -2.3 0M497.4 127.9a1.1 1.1 0 1 0 2.3 0a1.1 1.1 0 1 0 -2.3 0M499.8 127.9a1.1 1.1 0 1 0 2.3 0a1.1 1.1 0 1 0 -2.3 0M502.1 127.9a1.1 1.1 0 1 0 2.3 0a1.1 1.1 0 1 0 -2.3 0M504.5 127.9a1.1 1.1 0 1 0 2.3 0a1.1 1.1 0 1 0 -2.3 0M506.9 127.9a1.1 1.1 0 1 0 2.3 0a1.1 1.1 0 1 0 -2.3 0M509.3 127.9a1.1 1.1 0 1 0 2.3 0a1.1 1.1 0 1 0 -2.3 0M511.6 127.9a1.1 1.1 0 1 0 2.3 0a1.1 1.1 0 1 0 -2.3 0M514 127.9a1.1 1.1 0 1 0 2.3 0a1.1 1.1 0 1 0 -2.3 0M516.4 127.9a1.1 1.1 0 1 0 2.3 0a1.1 1.1 0 1 0 -2.3 0M518.7 127.9a1.1 1.1 0 1 0 2.3 0a1.1 1.1 0 1 0 -2.3 0M521.1 127.9a1.1 1.1 0 1 0 2.3 0a1.1 1.1 0 1 0 -2.3 0M523.5 127.9a1.1 1.1 0 1 0 2.3 0a1.1 1.1 0 1 0 -2.3 0M525.9 127.9a1.1 1.1 0 1 0 2.3 0a1.1 1.1 0 1 0 -2.3 0M528.2 127.9a1.1 1.1 0 1 0 2.3 0a1.1 1.1 0 1 0 -2.3 0M530.6 127.9a1.1 1.1 0 1 0 2.3 0a1.1 1.1 0 1 0 -2.3 0M533 127.9a1.1 1.1 0 1 0 2.3 0a1.1 1.1 0 1 0 -2.3 0M535.4 127.9a1.1 1.1 0 1 0 2.3 0a1.1 1.1 0 1 0 -2.3 0" fill="none" stroke="#00e5e5" stroke-width="0.5"/>
<path d="M308.7 127.9 311.1 127.9 313.4 127.9 315.8 127.9 318.2 127.9 320.6 127.9 322.9 127.9 325.3 127.9 327.7 127.9 330.1 127.9 332.4 127.9 334.8 127.9 337.2 127.9 339.5 127.9 341.9 127.9 344.3 127.9 346.7 127.9 349 127.9 351.4 127.9 353.8 127.9 356.2 127.9 358.5 127.9 360.9 127.9 363.3 127.9 365.6 125.1 368 121.4 370.4 117.9 372.8 113.4 375.1 108.9 377.5 103.4 379.9 98.4 382.3 92 384.6 86.6 387 79.5 389.4 72.6 391.8 65.1 394.1 58.8 396.5 53.1 398.9 47.4 401.2 42.7 403.6 36.5 406 32.7 408.4 29.1 410.7 26.2 413.1 23.9 415.5 21.6 417.9 19.1 420.2 18.6 422.6 17.9 425 15.6 427.3 15.5 429.7 17.1 432.1 17.6 434.5 19.4 436.8 20.3 439.2 23.8 441.6 26.5 444 29.3 446.3 32.7 448.7 38.3 451.1 78.7 453.4 48.9 455.8 54.7 458.2 61.5 460.6 68.2 462.9 74.9 465.3 83 467.7 89.9 470.1 95.9 472.4 101.3 474.8 106.9 477.2 112 479.6 116.2 481.9 120.5 484.3 124.1 486.7 127.9 489 127.9 491.4 127.9 493.8 127.9 496.2 127.9 498.5 127.9 500.9 127.9 503.3 127.9 505.7 127.9 508 127.9 510.4 127.9 512.8 127.9 515.1 127.9 517.5 127.9 519.9 127.9 522.3 127.9 524.6 127.9 527 127.9 529.4 127.9 531.8 127.9 534.1 127.9 536.5 127.9" fill="none" stroke="#ff00ff" stroke-width="0.35"/>
<path d="M308.7 126.6l1.4 2.3h-2.7zM311.1 126.6l1.4 2.3h-2.7zM313.4 126.6l1.4 2.3h-2.7zM315.8 126.6l1.4 2.3h-2.7zM318.2 126.6l1.4 2.3h-2.7zM320.6 126.6l1.4 2.3h-2.7zM322.9 126.6l1.4 2.3h-2.7zM325.3 126.6l1.4 2.3h-2.7zM327.7 126.6l1.4 2.3h-2.7zM330.1 126.6l1.4 2.3h-2.7zM332.4 126.6l1.4 2.3h-2.7zM334.8 126.6l1.4 2.3h-2.7zM337.2 126.6l1.4 2.3h-2.7zM339.5 126.6l1.4 2.3h-2.7zM341.9 126.6l1.4 2.3h-2.7zM344.3 126.6l1.4 2.3h-2.7zM346.7 126.6l1.4 2.3h-2.7zM349 126.6l1.4 2.3h-2.7zM351.4 126.6l1.4 2.3h-2.7zM353.8 126.6l1.4 2.3h-2.7zM356.2 126.6l1.4 2.3h-2.7zM358.5 126.6l1.4 2.3h-2.7zM360.9 126.6l1.4 2.3h-2.7zM363.3 126.6l1.4 2.3h-2.7zM365.6 123.8l1.4 2.3h-2.7zM368 120.1l1.4 2.3h-2.7zM370.4 116.6l1.4 2.3h-2.7zM372.8 112l1.4 2.3h-2.7zM375.1 107.5l1.4 2.3h-2.7zM377.5 102l1.4 2.3h-2.7zM379.9 97l1.4 2.3h-2.7zM382.3 90.6l1.4 2.3h-2.7zM384.6 85.2l1.4 2.3h-2.7zM387 78.2l1.4 2.3h-2.7zM389.4 71.3l1.4 2.3h-2.7zM391.8 63.7l1.4 2.3h-2.7zM394.1 57.4l1.4 2.3h-2.7zM396.5 51.7l1.4 2.3h-2.7zM398.9 46l1.4 2.3h-2.7zM401.2 41.3l1.4 2.3h-2.7zM403.6 35.2l1.4 2.3h-2.7zM406 31.3l1.4 2.3h-2.7zM408.4 27.7l1.4 2.3h-2.7zM410.7 24.9l1.4 2.3h-2.7zM413.1 22.5l1.4 2.3h-2.7zM415.5 20.3l1.4 2.3h-2.7zM417.9 17.7l1.4 2.3h-2.7zM420.2 17.2l1.4 2.3h-2.7zM422.6 16.6l1.4 2.3h-2.7zM425 14.3l1.4 2.3h-2.7zM427.3 14.2l1.4 2.3h-2.7zM429.7 15.7l1.4 2.3h-2.7zM432.1 16.2l1.4 2.3h-2.7zM434.5 18.1l1.4 2.3h-2.7zM436.8 19l1.4 2.3h-2.7zM439.2 22.4l1.4 2.3h-2.7zM441.6 25.1l1.4 2.3h-2.7zM444 27.9l1.4 2.3h-2.7zM446.3 31.4l1.4 2.3h-2.7zM448.7 36.9l1.4 2.3h-2.7zM451.1 77.4l1.4 2.3h-2.7zM453.4 47.5l1.4 2.3h-2.7zM455.8 53.3l1.4 2.3h-2.7zM458.2 60.1l1.4 2.3h-2.7zM460.6 66.9l1.4 2.3h-2.7zM462.9 73.5l1.4 2.3h-2.7zM465.3 81.6l1.4 2.3h-2.7zM467.7 88.5l1.4 2.3h-2.7zM470.1 94.6l1.4 2.3h-2.7zM472.4 100l1.4 2.3h-2.7zM474.8 105.5l1.4 2.3h-2.7zM477.2 110.6l1.4 2.3h-2.7zM479.6 114.9l1.4 2.3h-2.7zM481.9 119.2l1.4 2.3h-2.7zM484.3 122.8l1.4 2.3h-2.7zM486.7 126.6l1.4 2.3h-2.7zM489 126.6l1.4 2.3h-2.7zM491.4 126.6l1.4 2.3h-2.7zM493.8 126.6l1.4 2.3h-2.7zM496.2 126.6l1.4 2.3h-2.7zM498.5 126.6l1.4 2.3h-2.7zM500.9 126.6l1.4 2.3h-2.7zM503.3 126.6l1.4 2.3h-2.7zM505.7 126.6l1.4 2.3h-2.7zM508 126.6l1.4 2.3h-2.7zM510.4 126.6l1.4 2.3h-2.7zM512.8 126.6l1.4 2.3h-2.7zM515.1 126.6l1.4 2.3h-2.7zM517.5 126.6l1.4 2.3h-2.7zM519.9 126.6l1.4 2.3h-2.7zM522.3 126.6l1.4 2.3h-2.7zM524.6 126.6l1.4 2.3h-2.7zM527 126.6l1.4 2.3h-2.7zM529.4 126.6l1.4 2.3h-2.7zM531.8 126.6l1.4 2.3h-2.7zM534.1 126.6l1.4 2.3h-2.7zM536.5 126.6l1.4 2.3h-2.7z" fill="none" stroke="#ff00ff" stroke-width="0.5"/>
<path d="M308.7 127.9 311.1 127.9 313.4 127.9 315.8 127.9 318.2 127.9 320.6 127.9 322.9 127.9 325.3 127.9 327.7 127.9 330.1 127.9 332.4 127.9 334.8 127.9 337.2 127.9 339.5 127.9 341.9 127.9 344.3 127.9 346.7 127.9 349 127.9 351.4 127.9 353.8 127.9 356.2 127.9 358.5 127.9 360.9 127.9 363.3 127.9 365.6 126.7 368 123.8 370.4 120.7 372.8 116.6 375.1 113.8 377.5 108.3 379.9 103.5 382.3 98.8 384.6 92.9 387 103.1 389.4 80.9 391.8 78.2 394.1 108.5 396.5 61.7 398.9 55.8 401.2 52.3 403.6 95.9 406 46.4 408.4 52.5 410.7 53 413.1 30.9 415.5 42.7 417.9 31.6 420.2 27.8 422.6 27.2 425 31.4 427.3 24.5 429.7 30.4 432.1 32.7 434.5 31.5 436.8 62.8 439.2 31.6 441.6 38.1 444 90.1 446.3 38.1 448.7 47.1 451.1 46.2 453.4 91.9 455.8 87.9 458.2 67.9 460.6 72.9 462.9 102.2 465.3 86.5 467.7 98.6 470.1 98 472.4 102 474.8 108 477.2 111.6 479.6 116.5 481.9 120.2 484.3 123.8 486.7 127.3 489 127.9 491.4 127.9 493.8 127.9 496.2 127.9 498.5 127.9 500.9 127.9 503.3 127.9 505.7 127.9 508 127.9 510.4 127.9 512.8 127.9 515.1 127.9 517.5 127.9 519.9 127.9 522.3 127.9 524.6 127.9 527 127.9 529.4 127.9 531.8 127.9 534.1 127.9 536.5 127.9" fill="none" stroke="#22dd22" stroke-width="0.35"/>
<path d="M307.6 127.9a1.1 1.1 0 1 0 2.3 0a1.1 1.1 0 1 0 -2.3 0M309.9 127.9a1.1 1.1 0 1 0 2.3 0a1.1 1.1 0 1 0 -2.3 0M312.3 127.9a1.1 1.1 0 1 0 2.3 0a1.1 1.1 0 1 0 -2.3 0M314.7 127.9a1.1 1.1 0 1 0 2.3 0a1.1 1.1 0 1 0 -2.3 0M317 127.9a1.1 1.1 0 1 0 2.3 0a1.1 1.1 0 1 0 -2.3 0M319.4 127.9a1.1 1.1 0 1 0 2.3 0a1.1 1.1 0 1 0 -2.3 0M321.8 127.9a1.1 1.1 0 1 0 2.3 0a1.1 1.1 0 1 0 -2.3 0M324.2 127.9a1.1 1.1 0 1 0 2.3 0a1.1 1.1 0 1 0 -2.3 0M326.5 127.9a1.1 1.1 0 1 0 2.3 0a1.1 1.1 0 1 0 -2.3 0M328.9 127.9a1.1 1.1 0 1 0 2.3 0a1.1 1.1 0 1 0 -2.3 0M331.3 127.9a1.1 1.1 0 1 0 2.3 0a1.1 1.1 0 1 0 -2.3 0M333.7 127.9a1.1 1.1 0 1 0 2.3 0a1.1 1.1 0 1 0 -2.3 0M336 127.9a1.1 1.1 0 1 0 2.3 0a1.1 1.1 0 1 0 -2.3 0M338.4 127.9a1.1 1.1 0 1 0 2.3 0a1.1 1.1 0 1 0 -2.3 0M340.8 127.9a1.1 1.1 0 1 0 2.3 0a1.1 1.1 0 1 0 -2.3 0M343.1 127.9a1.1 1.1 0 1 0 2.3 0a1.1 1.1 0 1 0 -2.3 0M345.5 127.9a1.1 1.1 0 1 0 2.3 0a1.1 1.1 0 1 0 -2.3 0M347.9 127.9a1.1 1.1 0 1 0 2.3 0a1.1 1.1 0 1 0 -2.3 0M350.3 127.9a1.1 1.1 0 1 0 2.3 0a1.1 1.1 0 1 0 -2.3 0M352.6 127.9a1.1 1.1 0 1 0 2.3 0a1.1 1.1 0 1 0 -2.3 0M355 127.9a1.1 1.1 0 1 0 2.3 0a1.1 1.1 0 1 0 -2.3 0M357.4 127.9a1.1 1.1 0 1 0 2.3 0a1.1 1.1 0 1 0 -2.3 0M359.8 127.9a1.1 1.1 0 1 0 2.3 0a1.1 1.1 0 1 0 -2.3 0M362.1 127.9a1.1 1.1 0 1 0 2.3 0a1.1 1.1 0 1 0 -2.3 0M364.5 126.7a1.1 1.1 0 1 0 2.3 0a1.1 1.1 0 1 0 -2.3 0M366.9 123.8a1.1 1.1 0 1 0 2.3 0a1.1 1.1 0 1 0 -2.3 0M369.2 120.7a1.1 1.1 0 1 0 2.3 0a1.1 1.1 0 1 0 -2.3 0M371.6 116.6a1.1 1.1 0 1 0 2.3 0a1.1 1.1 0 1 0 -2.3 0M374 113.8a1.1 1.1 0 1 0 2.3 0a1.1 1.1 0 1 0 -2.3 0M376.4 108.3a1.1 1.1 0 1 0 2.3 0a1.1 1.1 0 1 0 -2.3 0M378.7 103.5a1.1 1.1 0 1 0 2.3 0a1.1 1.1 0 1 0 -2.3 0M381.1 98.8a1.1 1.1 0 1 0 2.3 0a1.1 1.1 0 1 0 -2.3 0M383.5 92.9a1.1 1.1 0 1 0 2.3 0a1.1 1.1 0 1 0 -2.3 0M385.9 103.1a1.1 1.1 0 1 0 2.3 0a1.1 1.1 0 1 0 -2.3 0M388.2 80.9a1.1 1.1 0 1 0 2.3 0a1.1 1.1 0 1 0 -2.3 0M390.6 78.2a1.1 1.1 0 1 0 2.3 0a1.1 1.1 0 1 0 -2.3 0M393 108.5a1.1 1.1 0 1 0 2.3 0a1.1 1.1 0 1 0 -2.3 0M395.4 61.7a1.1 1.1 0 1 0 2.3 0a1.1 1.1 0 1 0 -2.3 0M397.7 55.8a1.1 1.1 0 1 0 2.3 0a1.1 1.1 0 1 0 -2.3 0M400.1 52.3a1.1 1.1 0 1 0 2.3 0a1.1 1.1 0 1 0 -2.3 0M402.5 95.9a1.1 1.1 0 1 0 2.3 0a1.1 1.1 0 1 0 -2.3 0M404.8 46.4a1.1 1.1 0 1 0 2.3 0a1.1 1.1 0 1 0 -2.3 0M407.2 52.5a1.1 1.1 0 1 0 2.3 0a1.1 1.1 0 1 0 -2.3 0M409.6 53a1.1 1.1 0 1 0 2.3 0a1.1 1.1 0 1 0 -2.3 0M412 30.9a1.1 1.1 0 1 0 2.3 0a1.1 1.1 0 1 0 -2.3 0M414.3 42.7a1.1 1.1 0 1 0 2.3 0a1.1 1.1 0 1 0 -2.3 0M416.7 31.6a1.1 1.1 0 1 0 2.3 0a1.1 1.1 0 1 0 -2.3 0M419.1 27.8a1.1 1.1 0 1 0 2.3 0a1.1 1.1 0 1 0 -2.3 0M421.5 27.2a1.1 1.1 0 1 0 2.3 0a1.1 1.1 0 1 0 -2.3 0M423.8 31.4a1.1 1.1 0 1 0 2.3 0a1.1 1.1 0 1 0 -2.3 0M426.2 24.5a1.1 1.1 0 1 0 2.3 0a1.1 1.1 0 1 0 -2.3 0M428.6 30.4a1.1 1.1 0 1 0 2.3 0a1.1 1.1 0 1 0 -2.3 0M430.9 32.7a1.1 1.1 0 1 0 2.3 0a1.1 1.1 0 1 0 -2.3 0M433.3 31.5a1.1 1.1 0 1 0 2.3 0a1.1 1.1 0 1 0 -2.3 0M435.7 62.8a1.1 1.1 0 1 0 2.3 0a1.1 1.1 0 1 0 -2.3 0M438.1 31.6a1.1 1.1 0 1 0 2.3 0a1.1 1.1 0 1 0 -2.3 0M440.4 38.1a1.1 1.1 0 1 0 2.3 0a1.1 1.1 0 1 0 -2.3 0M442.8 90.1a1.1 1.1 0 1 0 2.3 0a1.1 1.1 0 1 0 -2.3 0M445.2 38.1a1.1 1.1 0 1 0 2.3 0a1.1 1.1 0 1 0 -2.3 0M447.6 47.1a1.1 1.1 0 1 0 2.3 0a1.1 1.1 0 1 0 -2.3 0M449.9 46.2a1.1 1.1 0 1 0 2.3 0a1.1 1.1 0 1 0 -2.3 0M452.3 91.9a1.1 1.1 0 1 0 2.3 0a1.1 1.1 0 1 0 -2.3 0M454.7 87.9a1.1 1.1 0 1 0 2.3 0a1.1 1.1 0 1 0 -2.3 0M457 67.9a1.1 1.1 0 1 0 2.3 0a1.1 1.1 0 1 0 -2.3 0M459.4 72.9a1.1 1.1 0 1 0 2.3 0a1.1 1.1 0 1 0 -2.3 0M461.8 102.2a1.1 1.1 0 1 0 2.3 0a1.1 1.1 0 1 0 -2.3 0M464.2 86.5a1.1 1.1 0 1 0 2.3 0a1.1 1.1 0 1 0 -2.3 0M466.5 98.6a1.1 1.1 0 1 0 2.3 0a1.1 1.1 0 1 0 -2.3 0M468.9 98a1.1 1.1 0 1 0 2.3 0a1.1 1.1 0 1 0 -2.3 0M471.3 102a1.1 1.1 0 1 0 2.3 0a1.1 1.1 0 1 0 -2.3 0M473.7 108a1.1 1.1 0 1 0 2.3 0a1.1 1.1 0 1 0 -2.3 0M476 111.6a1.1 1.1 0 1 0 2.3 0a1.1 1.1 0 1 0 -2.3 0M478.4 116.5a1.1 1.1 0 1 0 2.3 0a1.1 1.1 0 1 0 -2.3 0M480.8 120.2a1.1 1.1 0 1 0 2.3 0a1.1 1.1 0 1 0 -2.3 0M483.1 123.8a1.1 1.1 0 1 0 2.3 0a1.1 1.1 0 1 0 -2.3 0M485.5 127.3a1.1 1.1 0 1 0 2.3 0a1.1 1.1 0 1 0 -2.3 0M487.9 127.9a1.1 1.1 0 1 0 2.3 0a1.1 1.1 0 1 0 -2.3 0M490.3 127.9a1.1 1.1 0 1 0 2.3 0a1.1 1.1 0 1 0 -2.3 0M492.6 127.9a1.1 1.1 0 1 0 2.3 0a1.1 1.1 0 1 0 -2.3 0M495 127.9a1.1 1.1 0 1 0 2.3 0a1.1 1.1 0 1 0 -2.3 0M497.4 127.9a1.1 1.1 0 1 0 2.3 0a1.1 1.1 0 1 0 -2.3 0M499.8 127.9a1.1 1.1 0 1 0 2.3 0a1.1 1.1 0 1 0 -2.3 0M502.1 127.9a1.1 1.1 0 1 0 2.3 0a1.1 1.1 0 1 0 -2.3 0M504.5 127.9a1.1 1.1 0 1 0 2.3 0a1.1 1.1 0 1 0 -2.3 0M506.9 127.9a1.1 1.1 0 1 0 2.3 0a1.1 1.1 0 1 0 -2.3 0M509.3 127.9a1.1 1.1 0 1 0 2.3 0a1.1 1.1 0 1 0 -2.3 0M511.6 127.9a1.1 1.1 0 1 0 2.3 0a1.1 1.1 0 1 0 -2.3 0M514 127.9a1.1 1.1 0 1 0 2.3 0a1.1 1.1 0 1 0 -2.3 0M516.4 127.9a1.1 1.1 0 1 0 2.3 0a1.1 1.1 0 1 0 -2.3 0M518.7 127.9a1.1 1.1 0 1 0 2.3 0a1.1 1.1 0 1 0 -2.3 0M521.1 127.9a1.1 1.1 0 1 0 2.3 0a1.1 1.1 0 1 0 -2.3 0M523.5 127.9a1.1 1.1 0 1 0 2.3 0a1.1 1.1 0 1 0 -2.3 0M525.9 127.9a1.1 1.1 0 1 0 2.3 0a1.1 1.1 0 1 0 -2.3 0M528.2 127.9a1.1 1.1 0 1 0 2.3 0a1.1 1.1 0 1 0 -2.3 0M530.6 127.9a1.1 1.1 0 1 0 2.3 0a1.1 1.1 0 1 0 -2.3 0M533 127.9a1.1 1.1 0 1 0 2.3 0a1.1 1.1 0 1 0 -2.3 0M535.4 127.9a1.1 1.1 0 1 0 2.3 0a1.1 1.1 0 1 0 -2.3 0" fill="none" stroke="#22dd22" stroke-width="0.5"/>
<path d="M308.7 127.9 311.1 127.9 313.4 127.9 315.8 127.9 318.2 127.9 320.6 127.9 322.9 127.9 325.3 127.9 327.7 127.9 330.1 127.9 332.4 127.9 334.8 127.9 337.2 127.9 339.5 127.9 341.9 127.9 344.3 127.9 346.7 127.9 349 127.9 351.4 127.9 353.8 127.9 356.2 127.9 358.5 127.9 360.9 127.9 363.3 127.9 365.6 126.6 368 123.4 370.4 120.3 372.8 116.1 375.1 112.9 377.5 110.1 379.9 104 382.3 100 384.6 93.8 387 84.8 389.4 79.1 391.8 93.6 394.1 71.4 396.5 67 398.9 109 401.2 51.9 403.6 52 406 46.5 408.4 58.5 410.7 76.9 413.1 40.8 415.5 33.1 417.9 56.4 420.2 35.5 422.6 33.9 425 27.2 427.3 30 429.7 30.4 432.1 32.5 434.5 64.2 436.8 32.9 439.2 38.1 441.6 45.2 444 77 446.3 51.8 448.7 55.9 451.1 62.5 453.4 90.7 455.8 59.2 458.2 69.7 460.6 77.1 462.9 84.5 465.3 89.4 467.7 95.8 470.1 101.5 472.4 105.6 474.8 110.4 477.2 113.8 479.6 120.5 481.9 122.9 484.3 126 486.7 127.9 489 127.9 491.4 127.9 493.8 127.9 496.2 127.9 498.5 127.9 500.9 127.9 503.3 127.9 505.7 127.9 508 127.9 510.4 127.9 512.8 127.9 515.1 127.9 517.5 127.9 519.9 127.9 522.3 127.9 524.6 127.9 527 127.9 529.4 127.9 531.8 127.9 534.1 127.9 536.5 127.9" fill="none" stroke="#f5f500" stroke-width="0.35"/>
<path d="M307.3 127.9l2.3 -1.4v2.7zM309.7 127.9l2.3 -1.4v2.7zM312.1 127.9l2.3 -1.4v2.7zM314.5 127.9l2.3 -1.4v2.7zM316.8 127.9l2.3 -1.4v2.7zM319.2 127.9l2.3 -1.4v2.7zM321.6 127.9l2.3 -1.4v2.7zM324 127.9l2.3 -1.4v2.7zM326.3 127.9l2.3 -1.4v2.7zM328.7 127.9l2.3 -1.4v2.7zM331.1 127.9l2.3 -1.4v2.7zM333.5 127.9l2.3 -1.4v2.7zM335.8 127.9l2.3 -1.4v2.7zM338.2 127.9l2.3 -1.4v2.7zM340.6 127.9l2.3 -1.4v2.7zM342.9 127.9l2.3 -1.4v2.7zM345.3 127.9l2.3 -1.4v2.7zM347.7 127.9l2.3 -1.4v2.7zM350.1 127.9l2.3 -1.4v2.7zM352.4 127.9l2.3 -1.4v2.7zM354.8 127.9l2.3 -1.4v2.7zM357.2 127.9l2.3 -1.4v2.7zM359.6 127.9l2.3 -1.4v2.7zM361.9 127.9l2.3 -1.4v2.7zM364.3 126.6l2.3 -1.4v2.7zM366.7 123.4l2.3 -1.4v2.7zM369 120.3l2.3 -1.4v2.7zM371.4 116.1l2.3 -1.4v2.7zM373.8 112.9l2.3 -1.4v2.7zM376.2 110.1l2.3 -1.4v2.7zM378.5 104l2.3 -1.4v2.7zM380.9 100l2.3 -1.4v2.7zM383.3 93.8l2.3 -1.4v2.7zM385.7 84.8l2.3 -1.4v2.7zM388 79.1l2.3 -1.4v2.7zM390.4 93.6l2.3 -1.4v2.7zM392.8 71.4l2.3 -1.4v2.7zM395.1 67l2.3 -1.4v2.7zM397.5 109l2.3 -1.4v2.7zM399.9 51.9l2.3 -1.4v2.7zM402.3 52l2.3 -1.4v2.7zM404.6 46.5l2.3 -1.4v2.7zM407 58.5l2.3 -1.4v2.7zM409.4 76.9l2.3 -1.4v2.7zM411.8 40.8l2.3 -1.4v2.7zM414.1 33.1l2.3 -1.4v2.7zM416.5 56.4l2.3 -1.4v2.7zM418.9 35.5l2.3 -1.4v2.7zM421.2 33.9l2.3 -1.4v2.7zM423.6 27.2l2.3 -1.4v2.7zM426 30l2.3 -1.4v2.7zM428.4 30.4l2.3 -1.4v2.7zM430.7 32.5l2.3 -1.4v2.7zM433.1 64.2l2.3 -1.4v2.7zM435.5 32.9l2.3 -1.4v2.7zM437.9 38.1l2.3 -1.4v2.7zM440.2 45.2l2.3 -1.4v2.7zM442.6 77l2.3 -1.4v2.7zM445 51.8l2.3 -1.4v2.7zM447.4 55.9l2.3 -1.4v2.7zM449.7 62.5l2.3 -1.4v2.7zM452.1 90.7l2.3 -1.4v2.7zM454.5 59.2l2.3 -1.4v2.7zM456.8 69.7l2.3 -1.4v2.7zM459.2 77.1l2.3 -1.4v2.7zM461.6 84.5l2.3 -1.4v2.7zM464 89.4l2.3 -1.4v2.7zM466.3 95.8l2.3 -1.4v2.7zM468.7 101.5l2.3 -1.4v2.7zM471.1 105.6l2.3 -1.4v2.7zM473.5 110.4l2.3 -1.4v2.7zM475.8 113.8l2.3 -1.4v2.7zM478.2 120.5l2.3 -1.4v2.7zM480.6 122.9l2.3 -1.4v2.7zM482.9 126l2.3 -1.4v2.7zM485.3 127.9l2.3 -1.4v2.7zM487.7 127.9l2.3 -1.4v2.7zM490.1 127.9l2.3 -1.4v2.7zM492.4 127.9l2.3 -1.4v2.7zM494.8 127.9l2.3 -1.4v2.7zM497.2 127.9l2.3 -1.4v2.7zM499.6 127.9l2.3 -1.4v2.7zM501.9 127.9l2.3 -1.4v2.7zM504.3 127.9l2.3 -1.4v2.7zM506.7 127.9l2.3 -1.4v2.7zM509 127.9l2.3 -1.4v2.7zM511.4 127.9l2.3 -1.4v2.7zM513.8 127.9l2.3 -1.4v2.7zM516.2 127.9l2.3 -1.4v2.7zM518.5 127.9l2.3 -1.4v2.7zM520.9 127.9l2.3 -1.4v2.7zM523.3 127.9l2.3 -1.4v2.7zM525.7 127.9l2.3 -1.4v2.7zM528 127.9l2.3 -1.4v2.7zM530.4 127.9l2.3 -1.4v2.7zM532.8 127.9l2.3 -1.4v2.7zM535.1 127.9l2.3 -1.4v2.7z" fill="none" stroke="#f5f500" stroke-width="0.5"/>
<path d="M308.7 127.9 311.1 127.9 313.4 127.9 315.8 127.9 318.2 127.9 320.6 127.9 322.9 127.9 325.3 127.9 327.7 127.9 330.1 127.9 332.4 127.9 334.8 127.9 337.2 127.9 339.5 127.9 341.9 127.9 344.3 127.9 346.7 127.9 349 127.9 351.4 127.9 353.8 127.9 356.2 127.9 358.5 127.9 360.9 127.9 363.3 127.9 365.6 126.7 368 123.2 370.4 120.2 372.8 116.2 375.1 114.2 377.5 109.5 379.9 103.3 382.3 114.2 384.6 94.2 387 86.9 389.4 93.1 391.8 76.4 394.1 71.4 396.5 95.3 398.9 53.2 401.2 53.8 403.6 43.2 406 51.7 408.4 36.4 410.7 37.2 413.1 37.3 415.5 32 417.9 30.6 420.2 26.2 422.6 33.4 425 24.8 427.3 29 429.7 26.6 432.1 30.3 434.5 22.1 436.8 30.6 439.2 39.4 441.6 65 444 62.3 446.3 43 448.7 50.2 451.1 56.1 453.4 64.7 455.8 63.9 458.2 69.6 460.6 75.1 462.9 96.5 465.3 105 467.7 93.8 470.1 105.5 472.4 103.2 474.8 109.6 477.2 116.9 479.6 119.4 481.9 123.1 484.3 126.1 486.7 127.9 489 127.9 491.4 127.9 493.8 127.9 496.2 127.9 498.5 127.9 500.9 127.9 503.3 127.9 505.7 127.9 508 127.9 510.4 127.9 512.8 127.9 515.1 127.9 517.5 127.9 519.9 127.9 522.3 127.9 524.6 127.9 527 127.9 529.4 127.9 531.8 127.9 534.1 127.9 536.5 127.9" fill="none" stroke="#222222" stroke-width="0.55" stroke-dasharray="2,1.2"/>
<path d="M308.7 127.9 311.1 127.9 313.4 127.9 315.8 127.9 318.2 127.9 320.6 127.9 322.9 127.9 325.3 127.9 327.7 127.9 330.1 127.9 332.4 127.9 334.8 127.9 337.2 127.9 339.5 127.9 341.9 127.9 344.3 127.9 346.7 127.9 349 127.9 351.4 127.9 353.8 127.9 356.2 127.9 358.5 127.9 360.9 127.9 363.3 126.1 365.6 123.3 368 119.3 370.4 116.6 372.8 113.6 375.1 108.4 377.5 102.9 379.9 97.1 382.3 92.3 384.6 92.2 387 84.7 389.4 73.5 391.8 82.6 394.1 68.4 396.5 67.1 398.9 51.8 401.2 55.4 403.6 54.3 406 44.2 408.4 70.9 410.7 39.1 413.1 40 415.5 53.5 417.9 35.4 420.2 34.1 422.6 27.2 425 27.5 427.3 36.3 429.7 33.5 432.1 37.6 434.5 29 436.8 36.6 439.2 35.5 441.6 38.4 444 39.5 446.3 43.5 448.7 49.8 451.1 56.6 453.4 64.7 455.8 64 458.2 96.4 460.6 98 462.9 85.9 465.3 93 467.7 98.5 470.1 104.9 472.4 108.8 474.8 112.7 477.2 117.4 479.6 119.4 481.9 123.2 484.3 126.5 486.7 127.9 489 127.9 491.4 127.9 493.8 127.9 496.2 127.9 498.5 127.9 500.9 127.9 503.3 127.9 505.7 127.9 508 127.9 510.4 127.9 512.8 127.9 515.1 127.9 517.5 127.9 519.9 127.9 522.3 127.9 524.6 127.9 527 127.9 529.4 127.9 531.8 127.9 534.1 127.9 536.5 127.9" fill="none" stroke="#00ffff" stroke-width="0.35"/>
<path d="M307.9 127.9a0.8 0.8 0 1 0 1.6 0a0.8 0.8 0 1 0 -1.6 0M310.3 127.9a0.8 0.8 0 1 0 1.6 0a0.8 0.8 0 1 0 -1.6 0M312.6 127.9a0.8 0.8 0 1 0 1.6 0a0.8 0.8 0 1 0 -1.6 0M315 127.9a0.8 0.8 0 1 0 1.6 0a0.8 0.8 0 1 0 -1.6 0M317.4 127.9a0.8 0.8 0 1 0 1.6 0a0.8 0.8 0 1 0 -1.6 0M319.8 127.9a0.8 0.8 0 1 0 1.6 0a0.8 0.8 0 1 0 -1.6 0M322.1 127.9a0.8 0.8 0 1 0 1.6 0a0.8 0.8 0 1 0 -1.6 0M324.5 127.9a0.8 0.8 0 1 0 1.6 0a0.8 0.8 0 1 0 -1.6 0M326.9 127.9a0.8 0.8 0 1 0 1.6 0a0.8 0.8 0 1 0 -1.6 0M329.2 127.9a0.8 0.8 0 1 0 1.6 0a0.8 0.8 0 1 0 -1.6 0M331.6 127.9a0.8 0.8 0 1 0 1.6 0a0.8 0.8 0 1 0 -1.6 0M334 127.9a0.8 0.8 0 1 0 1.6 0a0.8 0.8 0 1 0 -1.6 0M336.4 127.9a0.8 0.8 0 1 0 1.6 0a0.8 0.8 0 1 0 -1.6 0M338.7 127.9a0.8 0.8 0 1 0 1.6 0a0.8 0.8 0 1 0 -1.6 0M341.1 127.9a0.8 0.8 0 1 0 1.6 0a0.8 0.8 0 1 0 -1.6 0M343.5 127.9a0.8 0.8 0 1 0 1.6 0a0.8 0.8 0 1 0 -1.6 0M345.9 127.9a0.8 0.8 0 1 0 1.6 0a0.8 0.8 0 1 0 -1.6 0M348.2 127.9a0.8 0.8 0 1 0 1.6 0a0.8 0.8 0 1 0 -1.6 0M350.6 127.9a0.8 0.8 0 1 0 1.6 0a0.8 0.8 0 1 0 -1.6 0M353 127.9a0.8 0.8 0 1 0 1.6 0a0.8 0.8 0 1 0 -1.6 0M355.3 127.9a0.8 0.8 0 1 0 1.6 0a0.8 0.8 0 1 0 -1.6 0M357.7 127.9a0.8 0.8 0 1 0 1.6 0a0.8 0.8 0 1 0 -1.6 0M360.1 127.9a0.8 0.8 0 1 0 1.6 0a0.8 0.8 0 1 0 -1.6 0M362.5 126.1a0.8 0.8 0 1 0 1.6 0a0.8 0.8 0 1 0 -1.6 0M364.8 123.3a0.8 0.8 0 1 0 1.6 0a0.8 0.8 0 1 0 -1.6 0M367.2 119.3a0.8 0.8 0 1 0 1.6 0a0.8 0.8 0 1 0 -1.6 0M369.6 116.6a0.8 0.8 0 1 0 1.6 0a0.8 0.8 0 1 0 -1.6 0M372 113.6a0.8 0.8 0 1 0 1.6 0a0.8 0.8 0 1 0 -1.6 0M374.3 108.4a0.8 0.8 0 1 0 1.6 0a0.8 0.8 0 1 0 -1.6 0M376.7 102.9a0.8 0.8 0 1 0 1.6 0a0.8 0.8 0 1 0 -1.6 0M379.1 97.1a0.8 0.8 0 1 0 1.6 0a0.8 0.8 0 1 0 -1.6 0M381.5 92.3a0.8 0.8 0 1 0 1.6 0a0.8 0.8 0 1 0 -1.6 0M383.8 92.2a0.8 0.8 0 1 0 1.6 0a0.8 0.8 0 1 0 -1.6 0M386.2 84.7a0.8 0.8 0 1 0 1.6 0a0.8 0.8 0 1 0 -1.6 0M388.6 73.5a0.8 0.8 0 1 0 1.6 0a0.8 0.8 0 1 0 -1.6 0M390.9 82.6a0.8 0.8 0 1 0 1.6 0a0.8 0.8 0 1 0 -1.6 0M393.3 68.4a0.8 0.8 0 1 0 1.6 0a0.8 0.8 0 1 0 -1.6 0M395.7 67.1a0.8 0.8 0 1 0 1.6 0a0.8 0.8 0 1 0 -1.6 0M398.1 51.8a0.8 0.8 0 1 0 1.6 0a0.8 0.8 0 1 0 -1.6 0M400.4 55.4a0.8 0.8 0 1 0 1.6 0a0.8 0.8 0 1 0 -1.6 0M402.8 54.3a0.8 0.8 0 1 0 1.6 0a0.8 0.8 0 1 0 -1.6 0M405.2 44.2a0.8 0.8 0 1 0 1.6 0a0.8 0.8 0 1 0 -1.6 0M407.6 70.9a0.8 0.8 0 1 0 1.6 0a0.8 0.8 0 1 0 -1.6 0M409.9 39.1a0.8 0.8 0 1 0 1.6 0a0.8 0.8 0 1 0 -1.6 0M412.3 40a0.8 0.8 0 1 0 1.6 0a0.8 0.8 0 1 0 -1.6 0M414.7 53.5a0.8 0.8 0 1 0 1.6 0a0.8 0.8 0 1 0 -1.6 0M417 35.4a0.8 0.8 0 1 0 1.6 0a0.8 0.8 0 1 0 -1.6 0M419.4 34.1a0.8 0.8 0 1 0 1.6 0a0.8 0.8 0 1 0 -1.6 0M421.8 27.2a0.8 0.8 0 1 0 1.6 0a0.8 0.8 0 1 0 -1.6 0M424.2 27.5a0.8 0.8 0 1 0 1.6 0a0.8 0.8 0 1 0 -1.6 0M426.5 36.3a0.8 0.8 0 1 0 1.6 0a0.8 0.8 0 1 0 -1.6 0M428.9 33.5a0.8 0.8 0 1 0 1.6 0a0.8 0.8 0 1 0 -1.6 0M431.3 37.6a0.8 0.8 0 1 0 1.6 0a0.8 0.8 0 1 0 -1.6 0M433.7 29a0.8 0.8 0 1 0 1.6 0a0.8 0.8 0 1 0 -1.6 0M436 36.6a0.8 0.8 0 1 0 1.6 0a0.8 0.8 0 1 0 -1.6 0M438.4 35.5a0.8 0.8 0 1 0 1.6 0a0.8 0.8 0 1 0 -1.6 0M440.8 38.4a0.8 0.8 0 1 0 1.6 0a0.8 0.8 0 1 0 -1.6 0M443.1 39.5a0.8 0.8 0 1 0 1.6 0a0.8 0.8 0 1 0 -1.6 0M445.5 43.5a0.8 0.8 0 1 0 1.6 0a0.8 0.8 0 1 0 -1.6 0M447.9 49.8a0.8 0.8 0 1 0 1.6 0a0.8 0.8 0 1 0 -1.6 0M450.3 56.6a0.8 0.8 0 1 0 1.6 0a0.8 0.8 0 1 0 -1.6 0M452.6 64.7a0.8 0.8 0 1 0 1.6 0a0.8 0.8 0 1 0 -1.6 0M455 64a0.8 0.8 0 1 0 1.6 0a0.8 0.8 0 1 0 -1.6 0M457.4 96.4a0.8 0.8 0 1 0 1.6 0a0.8 0.8 0 1 0 -1.6 0M459.8 98a0.8 0.8 0 1 0 1.6 0a0.8 0.8 0 1 0 -1.6 0M462.1 85.9a0.8 0.8 0 1 0 1.6 0a0.8 0.8 0 1 0 -1.6 0M464.5 93a0.8 0.8 0 1 0 1.6 0a0.8 0.8 0 1 0 -1.6 0M466.9 98.5a0.8 0.8 0 1 0 1.6 0a0.8 0.8 0 1 0 -1.6 0M469.2 104.9a0.8 0.8 0 1 0 1.6 0a0.8 0.8 0 1 0 -1.6 0M471.6 108.8a0.8 0.8 0 1 0 1.6 0a0.8 0.8 0 1 0 -1.6 0M474 112.7a0.8 0.8 0 1 0 1.6 0a0.8 0.8 0 1 0 -1.6 0M476.4 117.4a0.8 0.8 0 1 0 1.6 0a0.8 0.8 0 1 0 -1.6 0M478.7 119.4a0.8 0.8 0 1 0 1.6 0a0.8 0.8 0 1 0 -1.6 0M481.1 123.2a0.8 0.8 0 1 0 1.6 0a0.8 0.8 0 1 0 -1.6 0M483.5 126.5a0.8 0.8 0 1 0 1.6 0a0.8 0.8 0 1 0 -1.6 0M485.9 127.9a0.8 0.8 0 1 0 1.6 0a0.8 0.8 0 1 0 -1.6 0M488.2 127.9a0.8 0.8 0 1 0 1.6 0a0.8 0.8 0 1 0 -1.6 0M490.6 127.9a0.8 0.8 0 1 0 1.6 0a0.8 0.8 0 1 0 -1.6 0M493 127.9a0.8 0.8 0 1 0 1.6 0a0.8 0.8 0 1 0 -1.6 0M495.4 127.9a0.8 0.8 0 1 0 1.6 0a0.8 0.8 0 1 0 -1.6 0M497.7 127.9a0.8 0.8 0 1 0 1.6 0a0.8 0.8 0 1 0 -1.6 0M500.1 127.9a0.8 0.8 0 1 0 1.6 0a0.8 0.8 0 1 0 -1.6 0M502.5 127.9a0.8 0.8 0 1 0 1.6 0a0.8 0.8 0 1 0 -1.6 0M504.8 127.9a0.8 0.8 0 1 0 1.6 0a0.8 0.8 0 1 0 -1.6 0M507.2 127.9a0.8 0.8 0 1 0 1.6 0a0.8 0.8 0 1 0 -1.6 0M509.6 127.9a0.8 0.8 0 1 0 1.6 0a0.8 0.8 0 1 0 -1.6 0M512 127.9a0.8 0.8 0 1 0 1.6 0a0.8 0.8 0 1 0 -1.6 0M514.3 127.9a0.8 0.8 0 1 0 1.6 0a0.8 0.8 0 1 0 -1.6 0M516.7 127.9a0.8 0.8 0 1 0 1.6 0a0.8 0.8 0 1 0 -1.6 0M519.1 127.9a0.8 0.8 0 1 0 1.6 0a0.8 0.8 0 1 0 -1.6 0M521.5 127.9a0.8 0.8 0 1 0 1.6 0a0.8 0.8 0 1 0 -1.6 0M523.8 127.9a0.8 0.8 0 1 0 1.6 0a0.8 0.8 0 1 0 -1.6 0M526.2 127.9a0.8 0.8 0 1 0 1.6 0a0.8 0.8 0 1 0 -1.6 0M528.6 127.9a0.8 0.8 0 1 0 1.6 0a0.8 0.8 0 1 0 -1.6 0M530.9 127.9a0.8 0.8 0 1 0 1.6 0a0.8 0.8 0 1 0 -1.6 0M533.3 127.9a0.8 0.8 0 1 0 1.6 0a0.8 0.8 0 1 0 -1.6 0M535.7 127.9a0.8 0.8 0 1 0 1.6 0a0.8 0.8 0 1 0 -1.6 0" fill="#00ffff"/>
<path d="M308.7 127.9 311.1 127.9 313.4 127.9 315.8 127.9 318.2 127.9 320.6 127.9 322.9 127.9 325.3 127.9 327.7 127.9 330.1 127.9 332.4 127.9 334.8 127.9 337.2 127.9 339.5 127.9 341.9 127.9 344.3 127.9 346.7 127.9 349 127.9 351.4 127.9 353.8 127.9 356.2 127.9 358.5 127.9 360.9 127.9 363.3 127.9 365.6 121 368 121.6 370.4 117.4 372.8 113.8 375.1 109.6 377.5 103.9 379.9 97.7 382.3 92.7 384.6 87.2 387 79.3 389.4 72.6 391.8 65.8 394.1 58.8 396.5 52.6 398.9 46.8 401.2 41.3 403.6 37.4 406 34.2 408.4 32 410.7 27.1 413.1 25.9 415.5 20.8 417.9 22 420.2 21.2 422.6 20.5 425 18 427.3 18.2 429.7 18.6 432.1 19.6 434.5 22.2 436.8 22.6 439.2 26.3 441.6 30 444 31 446.3 35.6 448.7 41.2 451.1 45.5 453.4 50 455.8 55.7 458.2 64.4 460.6 69.7 462.9 93.6 465.3 84.5 467.7 91.3 470.1 97.4 472.4 102.9 474.8 108.9 477.2 112.9 479.6 117.3 481.9 121.4 484.3 125 486.7 127.9 489 127.9 491.4 127.9 493.8 127.9 496.2 127.9 498.5 127.9 500.9 127.9 503.3 127.9 505.7 127.9 508 127.9 510.4 127.9 512.8 127.9 515.1 127.9 517.5 127.9 519.9 127.9 522.3 127.9 524.6 127.9 527 127.9 529.4 127.9 531.8 127.9 534.1 127.9 536.5 127.9" fill="none" stroke="#9050d0" stroke-width="0.35"/>
<path d="M308 127.2l1.5 1.5M308 128.6l1.5 -1.5M310.3 127.2l1.5 1.5M310.3 128.6l1.5 -1.5M312.7 127.2l1.5 1.5M312.7 128.6l1.5 -1.5M315.1 127.2l1.5 1.5M315.1 128.6l1.5 -1.5M317.4 127.2l1.5 1.5M317.4 128.6l1.5 -1.5M319.8 127.2l1.5 1.5M319.8 128.6l1.5 -1.5M322.2 127.2l1.5 1.5M322.2 128.6l1.5 -1.5M324.6 127.2l1.5 1.5M324.6 128.6l1.5 -1.5M326.9 127.2l1.5 1.5M326.9 128.6l1.5 -1.5M329.3 127.2l1.5 1.5M329.3 128.6l1.5 -1.5M331.7 127.2l1.5 1.5M331.7 128.6l1.5 -1.5M334.1 127.2l1.5 1.5M334.1 128.6l1.5 -1.5M336.4 127.2l1.5 1.5M336.4 128.6l1.5 -1.5M338.8 127.2l1.5 1.5M338.8 128.6l1.5 -1.5M341.2 127.2l1.5 1.5M341.2 128.6l1.5 -1.5M343.6 127.2l1.5 1.5M343.6 128.6l1.5 -1.5M345.9 127.2l1.5 1.5M345.9 128.6l1.5 -1.5M348.3 127.2l1.5 1.5M348.3 128.6l1.5 -1.5M350.7 127.2l1.5 1.5M350.7 128.6l1.5 -1.5M353 127.2l1.5 1.5M353 128.6l1.5 -1.5M355.4 127.2l1.5 1.5M355.4 128.6l1.5 -1.5M357.8 127.2l1.5 1.5M357.8 128.6l1.5 -1.5M360.2 127.2l1.5 1.5M360.2 128.6l1.5 -1.5M362.5 127.2l1.5 1.5M362.5 128.6l1.5 -1.5M364.9 120.3l1.5 1.5M364.9 121.8l1.5 -1.5M367.3 120.8l1.5 1.5M367.3 122.3l1.5 -1.5M369.7 116.7l1.5 1.5M369.7 118.2l1.5 -1.5M372 113l1.5 1.5M372 114.5l1.5 -1.5M374.4 108.9l1.5 1.5M374.4 110.4l1.5 -1.5M376.8 103.1l1.5 1.5M376.8 104.6l1.5 -1.5M379.1 96.9l1.5 1.5M379.1 98.4l1.5 -1.5M381.5 91.9l1.5 1.5M381.5 93.4l1.5 -1.5M383.9 86.5l1.5 1.5M383.9 87.9l1.5 -1.5M386.3 78.5l1.5 1.5M386.3 80l1.5 -1.5M388.6 71.9l1.5 1.5M388.6 73.4l1.5 -1.5M391 65.1l1.5 1.5M391 66.6l1.5 -1.5M393.4 58.1l1.5 1.5M393.4 59.6l1.5 -1.5M395.8 51.8l1.5 1.5M395.8 53.3l1.5 -1.5M398.1 46.1l1.5 1.5M398.1 47.6l1.5 -1.5M400.5 40.6l1.5 1.5M400.5 42.1l1.5 -1.5M402.9 36.6l1.5 1.5M402.9 38.1l1.5 -1.5M405.2 33.5l1.5 1.5M405.2 34.9l1.5 -1.5M407.6 31.3l1.5 1.5M407.6 32.8l1.5 -1.5M410 26.3l1.5 1.5M410 27.8l1.5 -1.5M412.4 25.1l1.5 1.5M412.4 26.6l1.5 -1.5M414.7 20.1l1.5 1.5M414.7 21.5l1.5 -1.5M417.1 21.3l1.5 1.5M417.1 22.8l1.5 -1.5M419.5 20.4l1.5 1.5M419.5 21.9l1.5 -1.5M421.9 19.8l1.5 1.5M421.9 21.3l1.5 -1.5M424.2 17.3l1.5 1.5M424.2 18.8l1.5 -1.5M426.6 17.5l1.5 1.5M426.6 19l1.5 -1.5M429 17.8l1.5 1.5M429 19.3l1.5 -1.5M431.3 18.9l1.5 1.5M431.3 20.3l1.5 -1.5M433.7 21.5l1.5 1.5M433.7 23l1.5 -1.5M436.1 21.9l1.5 1.5M436.1 23.4l1.5 -1.5M438.5 25.5l1.5 1.5M438.5 27l1.5 -1.5M440.8 29.3l1.5 1.5M440.8 30.7l1.5 -1.5M443.2 30.2l1.5 1.5M443.2 31.7l1.5 -1.5M445.6 34.9l1.5 1.5M445.6 36.3l1.5 -1.5M448 40.4l1.5 1.5M448 41.9l1.5 -1.5M450.3 44.7l1.5 1.5M450.3 46.2l1.5 -1.5M452.7 49.3l1.5 1.5M452.7 50.8l1.5 -1.5M455.1 55l1.5 1.5M455.1 56.5l1.5 -1.5M457.5 63.7l1.5 1.5M457.5 65.1l1.5 -1.5M459.8 69l1.5 1.5M459.8 70.4l1.5 -1.5M462.2 92.8l1.5 1.5M462.2 94.3l1.5 -1.5M464.6 83.8l1.5 1.5M464.6 85.3l1.5 -1.5M466.9 90.5l1.5 1.5M466.9 92l1.5 -1.5M469.3 96.7l1.5 1.5M469.3 98.2l1.5 -1.5M471.7 102.2l1.5 1.5M471.7 103.7l1.5 -1.5M474.1 108.1l1.5 1.5M474.1 109.6l1.5 -1.5M476.4 112.1l1.5 1.5M476.4 113.6l1.5 -1.5M478.8 116.5l1.5 1.5M478.8 118l1.5 -1.5M481.2 120.7l1.5 1.5M481.2 122.1l1.5 -1.5M483.6 124.2l1.5 1.5M483.6 125.7l1.5 -1.5M485.9 127.2l1.5 1.5M485.9 128.6l1.5 -1.5M488.3 127.2l1.5 1.5M488.3 128.6l1.5 -1.5M490.7 127.2l1.5 1.5M490.7 128.6l1.5 -1.5M493 127.2l1.5 1.5M493 128.6l1.5 -1.5M495.4 127.2l1.5 1.5M495.4 128.6l1.5 -1.5M497.8 127.2l1.5 1.5M497.8 128.6l1.5 -1.5M500.2 127.2l1.5 1.5M500.2 128.6l1.5 -1.5M502.5 127.2l1.5 1.5M502.5 128.6l1.5 -1.5M504.9 127.2l1.5 1.5M504.9 128.6l1.5 -1.5M507.3 127.2l1.5 1.5M507.3 128.6l1.5 -1.5M509.7 127.2l1.5 1.5M509.7 128.6l1.5 -1.5M512 127.2l1.5 1.5M512 128.6l1.5 -1.5M514.4 127.2l1.5 1.5M514.4 128.6l1.5 -1.5M516.8 127.2l1.5 1.5M516.8 128.6l1.5 -1.5M519.1 127.2l1.5 1.5M519.1 128.6l1.5 -1.5M521.5 127.2l1.5 1.5M521.5 128.6l1.5 -1.5M523.9 127.2l1.5 1.5M523.9 128.6l1.5 -1.5M526.3 127.2l1.5 1.5M526.3 128.6l1.5 -1.5M528.6 127.2l1.5 1.5M528.6 128.6l1.5 -1.5M531 127.2l1.5 1.5M531 128.6l1.5 -1.5M533.4 127.2l1.5 1.5M533.4 128.6l1.5 -1.5M535.8 127.2l1.5 1.5M535.8 128.6l1.5 -1.5" fill="none" stroke="#5a30b0" stroke-width="0.75"/>
<text x="365.6" y="138.9" text-anchor="middle">06:00</text>
<text x="422.6" y="138.9" text-anchor="middle">12:00</text>
<text x="479.6" y="138.9" text-anchor="middle">18:00</text>
<text x="536.5" y="138.9" text-anchor="middle">00:00</text>
<text x="306.1" y="131.5" text-anchor="end">0</text>
<text x="306.1" y="102.9" text-anchor="end">5</text>
<text x="306.1" y="74.3" text-anchor="end">10</text>
<text x="306.1" y="45.7" text-anchor="end">15</text>
<text x="306.1" y="17.1" text-anchor="end">20</text>
<text x="422.6" y="10.2" text-anchor="middle" font-size="9.05">Similar-time curves for May 9, 2019</text>
<text transform="translate(294.2 70.7) rotate(-90)" text-anchor="middle" font-size="8.7">Power/GW</text>
<rect x="479.3" y="14.1" width="64.2" height="95.4" fill="#fff" stroke="#999" stroke-width="0.8"/>
<line x1="480.9" y1="19.3" x2="495.5" y2="19.3" stroke="#ff0000" stroke-width="0.4" stroke-opacity="0.7"/>
<path d="M486.7 19.3h3M488.2 17.8v3M487.1 18.2l2.1 2.1M487.1 20.4l2.1 -2.1" fill="#ff0000" stroke="#ff0000" stroke-width="0.6"/>
<text x="497.5" y="22.2" font-size="7.3">Real value</text>
<line x1="480.9" y1="27.9" x2="495.5" y2="27.9" stroke="#e8641e" stroke-width="0.4" stroke-opacity="0.7"/>
<path d="M488.2 26.1l1.4 1.8l-1.4 1.8l-1.4 -1.8z" fill="none" stroke="#e8641e" stroke-width="0.75"/>
<text x="497.5" y="30.7" font-size="7.3">similar-time 1</text>
<line x1="480.9" y1="36.4" x2="495.5" y2="36.4" stroke="#00ee00" stroke-width="0.4" stroke-opacity="0.7"/>
<path d="M486.8 35h2.9v2.9h-2.9z" fill="none" stroke="#00ee00" stroke-width="0.75"/>
<text x="497.5" y="39.3" font-size="7.3">similar-time 2</text>
<line x1="480.9" y1="45" x2="495.5" y2="45" stroke="#2222ff" stroke-width="0.4" stroke-opacity="0.7"/>
<path d="M486.4 45h3.6M488.2 43.2v3.6" fill="none" stroke="#2222ff" stroke-width="0.75"/>
<text x="497.5" y="47.8" font-size="7.3">similar-time 3</text>
<line x1="480.9" y1="53.5" x2="495.5" y2="53.5" stroke="#00e5e5" stroke-width="0.4" stroke-opacity="0.7"/>
<path d="M486.7 53.5a1.5 1.5 0 1 0 3.1 0a1.5 1.5 0 1 0 -3.1 0" fill="none" stroke="#00e5e5" stroke-width="0.75"/>
<text x="497.5" y="56.4" font-size="7.3">similar-time 4</text>
<line x1="480.9" y1="62" x2="495.5" y2="62" stroke="#ff00ff" stroke-width="0.4" stroke-opacity="0.7"/>
<path d="M488.2 60.2l1.8 3.1h-3.6z" fill="none" stroke="#ff00ff" stroke-width="0.75"/>
<text x="497.5" y="64.9" font-size="7.3">similar-time 5</text>
<line x1="480.9" y1="70.6" x2="495.5" y2="70.6" stroke="#22dd22" stroke-width="0.4" stroke-opacity="0.7"/>
<path d="M486.7 70.6a1.5 1.5 0 1 0 3.1 0a1.5 1.5 0 1 0 -3.1 0" fill="none" stroke="#22dd22" stroke-width="0.75"/>
<text x="497.5" y="73.5" font-size="7.3">similar-time 6</text>
<line x1="480.9" y1="79.2" x2="495.5" y2="79.2" stroke="#f5f500" stroke-width="0.4" stroke-opacity="0.7"/>
<path d="M486.4 79.2l3.1 -1.8v3.6z" fill="none" stroke="#f5f500" stroke-width="0.75"/>
<text x="497.5" y="82" font-size="7.3">similar-time 7</text>
<line x1="480.9" y1="87.7" x2="495.5" y2="87.7" stroke="#666" stroke-width="0.9" stroke-dasharray="2.7,1.3"/>
<text x="497.5" y="90.5" font-size="7.3">similar-time 8</text>
<line x1="480.9" y1="96.2" x2="495.5" y2="96.2" stroke="#00ffff" stroke-width="0.4" stroke-opacity="0.7"/>
<path d="M487 96.2a1.2 1.2 0 1 0 2.4 0a1.2 1.2 0 1 0 -2.4 0" fill="#00ffff" stroke="#00ffff" stroke-width="0.6"/>
<text x="497.5" y="99.1" font-size="7.3">similar-time 9</text>
<line x1="480.9" y1="104.8" x2="495.5" y2="104.8" stroke="#9050d0" stroke-width="0.4" stroke-opacity="0.7"/>
<path d="M487.3 103.9h1.8v1.8h-1.8z" fill="#6a2ca0" stroke="#6a2ca0" stroke-width="0.6"/>
<text x="497.5" y="107.6" font-size="7.3">similar-time 10</text>
<rect x="24.5" y="168.5" width="227.2" height="114.8" fill="none" stroke="#999" stroke-width="1"/>
<path d="M81.3 283.3v-2.3M81.3 168.5v2.3M138.1 283.3v-2.3M138.1 168.5v2.3M194.9 283.3v-2.3M194.9 168.5v2.3M24.5 254.6h2.3M251.7 254.6h-2.3M24.5 225.9h2.3M251.7 225.9h-2.3M24.5 197.2h2.3M251.7 197.2h-2.3" stroke="#999" stroke-width="0.8" fill="none"/>
<path d="M24.5 283.3 26.9 283.3 29.2 283.3 31.6 283.3 34 283.3 36.3 283.3 38.7 283.3 41.1 283.3 43.4 283.3 45.8 283.3 48.2 283.3 50.5 283.3 52.9 283.3 55.3 283.3 57.6 283.3 60 283.3 62.4 283.3 64.7 283.3 67.1 283.3 69.5 283.3 71.8 283.3 74.2 283.3 76.6 281.4 78.9 278.2 81.3 274.6 83.7 271.4 86 266.7 88.4 263.5 90.8 256.6 93.1 252.1 95.5 245.3 97.9 240.9 100.2 233.7 102.6 228.1 105 222.2 107.3 214.9 109.7 211.4 112.1 205.3 114.4 199.5 116.8 196.4 119.2 193 121.5 187 123.9 186.7 126.3 184.7 128.6 182.3 131 181.5 133.4 180.1 135.7 179.5 138.1 176.2 140.5 178.6 142.8 179.1 145.2 179.2 147.6 179.3 149.9 183.6 152.3 186.4 154.7 185.7 157 193.2 159.4 196.1 161.8 199.1 164.1 202.1 166.5 211.2 168.9 218.3 171.2 221.7 173.6 229.9 176 236.5 178.3 242.3 180.7 249.2 183.1 254.7 185.4 260.6 187.8 264.7 190.2 269.1 192.5 274 194.9 277.7 197.3 281.1 199.6 283.3 202 283.3 204.4 283.3 206.7 283.3 209.1 283.3 211.5 283.3 213.8 283.3 216.2 283.3 218.6 283.3 220.9 283.3 223.3 283.3 225.7 283.3 228 283.3 230.4 283.3 232.8 283.3 235.1 283.3 237.5 283.3 239.9 283.3 242.2 283.3 244.6 283.3 247 283.3 249.3 283.3 251.7 283.3" fill="none" stroke="#ff0000" stroke-width="0.35"/>
<path d="M23.1 283.3h2.7M24.5 281.9v2.7M23.6 282.4l1.9 1.9M23.6 284.2l1.9 -1.9M25.5 283.3h2.7M26.9 281.9v2.7M25.9 282.4l1.9 1.9M25.9 284.2l1.9 -1.9M27.9 283.3h2.7M29.2 281.9v2.7M28.3 282.4l1.9 1.9M28.3 284.2l1.9 -1.9M30.2 283.3h2.7M31.6 281.9v2.7M30.7 282.4l1.9 1.9M30.7 284.2l1.9 -1.9M32.6 283.3h2.7M34 281.9v2.7M33 282.4l1.9 1.9M33 284.2l1.9 -1.9M35 283.3h2.7M36.3 281.9v2.7M35.4 282.4l1.9 1.9M35.4 284.2l1.9 -1.9M37.4 283.3h2.7M38.7 281.9v2.7M37.8 282.4l1.9 1.9M37.8 284.2l1.9 -1.9M39.7 283.3h2.7M41.1 281.9v2.7M40.1 282.4l1.9 1.9M40.1 284.2l1.9 -1.9M42.1 283.3h2.7M43.4 281.9v2.7M42.5 282.4l1.9 1.9M42.5 284.2l1.9 -1.9M44.4 283.3h2.7M45.8 281.9v2.7M44.9 282.4l1.9 1.9M44.9 284.2l1.9 -1.9M46.8 283.3h2.7M48.2 281.9v2.7M47.2 282.4l1.9 1.9M47.2 284.2l1.9 -1.9M49.2 283.3h2.7M50.5 281.9v2.7M49.6 282.4l1.9 1.9M49.6 284.2l1.9 -1.9M51.5 283.3h2.7M52.9 281.9v2.7M52 282.4l1.9 1.9M52 284.2l1.9 -1.9M53.9 283.3h2.7M55.3 281.9v2.7M54.3 282.4l1.9 1.9M54.3 284.2l1.9 -1.9M56.3 283.3h2.7M57.6 281.9v2.7M56.7 282.4l1.9 1.9M56.7 284.2l1.9 -1.9M58.6 283.3h2.7M60 281.9v2.7M59.1 282.4l1.9 1.9M59.1 284.2l1.9 -1.9M61 283.3h2.7M62.4 281.9v2.7M61.4 282.4l1.9 1.9M61.4 284.2l1.9 -1.9M63.4 283.3h2.7M64.7 281.9v2.7M63.8 282.4l1.9 1.9M63.8 284.2l1.9 -1.9M65.8 283.3h2.7M67.1 281.9v2.7M66.2 282.4l1.9 1.9M66.2 284.2l1.9 -1.9M68.1 283.3h2.7M69.5 281.9v2.7M68.5 282.4l1.9 1.9M68.5 284.2l1.9 -1.9M70.5 283.3h2.7M71.8 281.9v2.7M70.9 282.4l1.9 1.9M70.9 284.2l1.9 -1.9M72.9 283.3h2.7M74.2 281.9v2.7M73.3 282.4l1.9 1.9M73.3 284.2l1.9 -1.9M75.2 281.4h2.7M76.6 280v2.7M75.6 280.4l1.9 1.9M75.6 282.3l1.9 -1.9M77.6 278.2h2.7M78.9 276.8v2.7M78 277.2l1.9 1.9M78 279.1l1.9 -1.9M80 274.6h2.7M81.3 273.2v2.7M80.4 273.6l1.9 1.9M80.4 275.5l1.9 -1.9M82.3 271.4h2.7M83.7 270.1v2.7M82.7 270.5l1.9 1.9M82.7 272.4l1.9 -1.9M84.7 266.7h2.7M86 265.3v2.7M85.1 265.7l1.9 1.9M85.1 267.6l1.9 -1.9M87.1 263.5h2.7M88.4 262.2v2.7M87.5 262.6l1.9 1.9M87.5 264.5l1.9 -1.9M89.4 256.6h2.7M90.8 255.2v2.7M89.8 255.6l1.9 1.9M89.8 257.5l1.9 -1.9M91.8 252.1h2.7M93.1 250.7v2.7M92.2 251.1l1.9 1.9M92.2 253l1.9 -1.9M94.2 245.3h2.7M95.5 244v2.7M94.6 244.4l1.9 1.9M94.6 246.3l1.9 -1.9M96.5 240.9h2.7M97.9 239.5v2.7M96.9 239.9l1.9 1.9M96.9 241.8l1.9 -1.9M98.9 233.7h2.7M100.2 232.3v2.7M99.3 232.7l1.9 1.9M99.3 234.6l1.9 -1.9M101.2 228.1h2.7M102.6 226.7v2.7M101.7 227.1l1.9 1.9M101.7 229l1.9 -1.9M103.6 222.2h2.7M105 220.8v2.7M104 221.2l1.9 1.9M104 223.1l1.9 -1.9M106 214.9h2.7M107.3 213.5v2.7M106.4 213.9l1.9 1.9M106.4 215.8l1.9 -1.9M108.4 211.4h2.7M109.7 210.1v2.7M108.8 210.5l1.9 1.9M108.8 212.4l1.9 -1.9M110.7 205.3h2.7M112.1 204v2.7M111.1 204.4l1.9 1.9M111.1 206.3l1.9 -1.9M113.1 199.5h2.7M114.4 198.2v2.7M113.5 198.6l1.9 1.9M113.5 200.5l1.9 -1.9M115.5 196.4h2.7M116.8 195v2.7M115.9 195.4l1.9 1.9M115.9 197.3l1.9 -1.9M117.8 193h2.7M119.2 191.7v2.7M118.2 192.1l1.9 1.9M118.2 194l1.9 -1.9M120.2 187h2.7M121.5 185.6v2.7M120.6 186l1.9 1.9M120.6 187.9l1.9 -1.9M122.6 186.7h2.7M123.9 185.3v2.7M123 185.7l1.9 1.9M123 187.6l1.9 -1.9M124.9 184.7h2.7M126.3 183.4v2.7M125.3 183.8l1.9 1.9M125.3 185.7l1.9 -1.9M127.3 182.3h2.7M128.6 180.9v2.7M127.7 181.4l1.9 1.9M127.7 183.2l1.9 -1.9M129.7 181.5h2.7M131 180.2v2.7M130.1 180.6l1.9 1.9M130.1 182.5l1.9 -1.9M132 180.1h2.7M133.4 178.8v2.7M132.4 179.2l1.9 1.9M132.4 181l1.9 -1.9M134.4 179.5h2.7M135.7 178.1v2.7M134.8 178.5l1.9 1.9M134.8 180.4l1.9 -1.9M136.8 176.2h2.7M138.1 174.8v2.7M137.2 175.2l1.9 1.9M137.2 177.1l1.9 -1.9M139.1 178.6h2.7M140.5 177.3v2.7M139.5 177.7l1.9 1.9M139.5 179.6l1.9 -1.9M141.5 179.1h2.7M142.8 177.7v2.7M141.9 178.1l1.9 1.9M141.9 180l1.9 -1.9M143.8 179.2h2.7M145.2 177.8v2.7M144.3 178.2l1.9 1.9M144.3 180.1l1.9 -1.9M146.2 179.3h2.7M147.6 178v2.7M146.6 178.4l1.9 1.9M146.6 180.3l1.9 -1.9M148.6 183.6h2.7M149.9 182.2v2.7M149 182.6l1.9 1.9M149 184.5l1.9 -1.9M151 186.4h2.7M152.3 185v2.7M151.4 185.4l1.9 1.9M151.4 187.3l1.9 -1.9M153.3 185.7h2.7M154.7 184.4v2.7M153.7 184.8l1.9 1.9M153.7 186.7l1.9 -1.9M155.7 193.2h2.7M157 191.9v2.7M156.1 192.3l1.9 1.9M156.1 194.2l1.9 -1.9M158.1 196.1h2.7M159.4 194.8v2.7M158.5 195.2l1.9 1.9M158.5 197.1l1.9 -1.9M160.4 199.1h2.7M161.8 197.8v2.7M160.8 198.2l1.9 1.9M160.8 200.1l1.9 -1.9M162.8 202.1h2.7M164.1 200.7v2.7M163.2 201.1l1.9 1.9M163.2 203l1.9 -1.9M165.2 211.2h2.7M166.5 209.9v2.7M165.6 210.3l1.9 1.9M165.6 212.2l1.9 -1.9M167.5 218.3h2.7M168.9 217v2.7M167.9 217.4l1.9 1.9M167.9 219.3l1.9 -1.9M169.9 221.7h2.7M171.2 220.3v2.7M170.3 220.7l1.9 1.9M170.3 222.6l1.9 -1.9M172.2 229.9h2.7M173.6 228.6v2.7M172.7 229l1.9 1.9M172.7 230.8l1.9 -1.9M174.6 236.5h2.7M176 235.2v2.7M175 235.6l1.9 1.9M175 237.5l1.9 -1.9M177 242.3h2.7M178.3 240.9v2.7M177.4 241.3l1.9 1.9M177.4 243.2l1.9 -1.9M179.3 249.2h2.7M180.7 247.9v2.7M179.8 248.3l1.9 1.9M179.8 250.2l1.9 -1.9M181.7 254.7h2.7M183.1 253.3v2.7M182.1 253.7l1.9 1.9M182.1 255.6l1.9 -1.9M184.1 260.6h2.7M185.4 259.2v2.7M184.5 259.6l1.9 1.9M184.5 261.5l1.9 -1.9M186.5 264.7h2.7M187.8 263.3v2.7M186.9 263.7l1.9 1.9M186.9 265.6l1.9 -1.9M188.8 269.1h2.7M190.2 267.8v2.7M189.2 268.2l1.9 1.9M189.2 270.1l1.9 -1.9M191.2 274h2.7M192.5 272.7v2.7M191.6 273.1l1.9 1.9M191.6 275l1.9 -1.9M193.6 277.7h2.7M194.9 276.3v2.7M194 276.8l1.9 1.9M194 278.6l1.9 -1.9M195.9 281.1h2.7M197.3 279.8v2.7M196.3 280.2l1.9 1.9M196.3 282.1l1.9 -1.9M198.3 283.3h2.7M199.6 281.9v2.7M198.7 282.4l1.9 1.9M198.7 284.2l1.9 -1.9M200.7 283.3h2.7M202 281.9v2.7M201.1 282.4l1.9 1.9M201.1 284.2l1.9 -1.9M203 283.3h2.7M204.4 281.9v2.7M203.4 282.4l1.9 1.9M203.4 284.2l1.9 -1.9M205.4 283.3h2.7M206.7 281.9v2.7M205.8 282.4l1.9 1.9M205.8 284.2l1.9 -1.9M207.8 283.3h2.7M209.1 281.9v2.7M208.2 282.4l1.9 1.9M208.2 284.2l1.9 -1.9M210.1 283.3h2.7M211.5 281.9v2.7M210.5 282.4l1.9 1.9M210.5 284.2l1.9 -1.9M212.5 283.3h2.7M213.8 281.9v2.7M212.9 282.4l1.9 1.9M212.9 284.2l1.9 -1.9M214.8 283.3h2.7M216.2 281.9v2.7M215.3 282.4l1.9 1.9M215.3 284.2l1.9 -1.9M217.2 283.3h2.7M218.6 281.9v2.7M217.6 282.4l1.9 1.9M217.6 284.2l1.9 -1.9M219.6 283.3h2.7M220.9 281.9v2.7M220 282.4l1.9 1.9M220 284.2l1.9 -1.9M222 283.3h2.7M223.3 281.9v2.7M222.4 282.4l1.9 1.9M222.4 284.2l1.9 -1.9M224.3 283.3h2.7M225.7 281.9v2.7M224.7 282.4l1.9 1.9M224.7 284.2l1.9 -1.9M226.7 283.3h2.7M228 281.9v2.7M227.1 282.4l1.9 1.9M227.1 284.2l1.9 -1.9M229.1 283.3h2.7M230.4 281.9v2.7M229.5 282.4l1.9 1.9M229.5 284.2l1.9 -1.9M231.4 283.3h2.7M232.8 281.9v2.7M231.8 282.4l1.9 1.9M231.8 284.2l1.9 -1.9M233.8 283.3h2.7M235.1 281.9v2.7M234.2 282.4l1.9 1.9M234.2 284.2l1.9 -1.9M236.2 283.3h2.7M237.5 281.9v2.7M236.6 282.4l1.9 1.9M236.6 284.2l1.9 -1.9M238.5 283.3h2.7M239.9 281.9v2.7M238.9 282.4l1.9 1.9M238.9 284.2l1.9 -1.9M240.9 283.3h2.7M242.2 281.9v2.7M241.3 282.4l1.9 1.9M241.3 284.2l1.9 -1.9M243.2 283.3h2.7M244.6 281.9v2.7M243.7 282.4l1.9 1.9M243.7 284.2l1.9 -1.9M245.6 283.3h2.7M247 281.9v2.7M246 282.4l1.9 1.9M246 284.2l1.9 -1.9M248 283.3h2.7M249.3 281.9v2.7M248.4 282.4l1.9 1.9M248.4 284.2l1.9 -1.9M250.3 283.3h2.7M251.7 281.9v2.7M250.8 282.4l1.9 1.9M250.8 284.2l1.9 -1.9" fill="none" stroke="#ff0000" stroke-width="0.5"/>
<path d="M24.5 283.3 26.9 283.3 29.2 283.3 31.6 283.3 34 283.3 36.3 283.3 38.7 283.3 41.1 283.3 43.4 283.3 45.8 283.3 48.2 283.3 50.5 283.3 52.9 283.3 55.3 283.3 57.6 283.3 60 283.3 62.4 283.3 64.7 283.3 67.1 283.3 69.5 283.3 71.8 283.3 74.2 283.3 76.6 283.3 78.9 280.7 81.3 277.7 83.7 274.3 86 269.8 88.4 266.3 90.8 262.1 93.1 256.8 95.5 252 97.9 246.4 100.2 250.6 102.6 256.2 105 226.5 107.3 220.8 109.7 215.9 112.1 209.5 114.4 206.3 116.8 201.3 119.2 198.3 121.5 193.6 123.9 222.3 126.3 190.7 128.6 200.1 131 185.3 133.4 182.9 135.7 181.7 138.1 180 140.5 179.5 142.8 180 145.2 182.8 147.6 186.2 149.9 183.1 152.3 184.6 154.7 228.8 157 189.6 159.4 207.6 161.8 221.6 164.1 200.9 166.5 206.6 168.9 234.6 171.2 218.5 173.6 222.8 176 231.2 178.3 234.5 180.7 246.1 183.1 250.1 185.4 256.3 187.8 260.9 190.2 276.4 192.5 269.6 194.9 274 197.3 277.3 199.6 266.7 202 283.3 204.4 283.3 206.7 283.3 209.1 283.3 211.5 283.3 213.8 283.3 216.2 283.3 218.6 283.3 220.9 283.3 223.3 283.3 225.7 283.3 228 283.3 230.4 283.3 232.8 283.3 235.1 283.3 237.5 283.3 239.9 283.3 242.2 283.3 244.6 283.3 247 283.3 249.3 283.3 251.7 283.3" fill="none" stroke="#e8641e" stroke-width="0.35"/>
<path d="M24.5 281.9l1 1.4l-1 1.4l-1 -1.4zM26.9 281.9l1 1.4l-1 1.4l-1 -1.4zM29.2 281.9l1 1.4l-1 1.4l-1 -1.4zM31.6 281.9l1 1.4l-1 1.4l-1 -1.4zM34 281.9l1 1.4l-1 1.4l-1 -1.4zM36.3 281.9l1 1.4l-1 1.4l-1 -1.4zM38.7 281.9l1 1.4l-1 1.4l-1 -1.4zM41.1 281.9l1 1.4l-1 1.4l-1 -1.4zM43.4 281.9l1 1.4l-1 1.4l-1 -1.4zM45.8 281.9l1 1.4l-1 1.4l-1 -1.4zM48.2 281.9l1 1.4l-1 1.4l-1 -1.4zM50.5 281.9l1 1.4l-1 1.4l-1 -1.4zM52.9 281.9l1 1.4l-1 1.4l-1 -1.4zM55.3 281.9l1 1.4l-1 1.4l-1 -1.4zM57.6 281.9l1 1.4l-1 1.4l-1 -1.4zM60 281.9l1 1.4l-1 1.4l-1 -1.4zM62.4 281.9l1 1.4l-1 1.4l-1 -1.4zM64.7 281.9l1 1.4l-1 1.4l-1 -1.4zM67.1 281.9l1 1.4l-1 1.4l-1 -1.4zM69.5 281.9l1 1.4l-1 1.4l-1 -1.4zM71.8 281.9l1 1.4l-1 1.4l-1 -1.4zM74.2 281.9l1 1.4l-1 1.4l-1 -1.4zM76.6 281.9l1 1.4l-1 1.4l-1 -1.4zM78.9 279.3l1 1.4l-1 1.4l-1 -1.4zM81.3 276.3l1 1.4l-1 1.4l-1 -1.4zM83.7 273l1 1.4l-1 1.4l-1 -1.4zM86 268.4l1 1.4l-1 1.4l-1 -1.4zM88.4 264.9l1 1.4l-1 1.4l-1 -1.4zM90.8 260.8l1 1.4l-1 1.4l-1 -1.4zM93.1 255.4l1 1.4l-1 1.4l-1 -1.4zM95.5 250.7l1 1.4l-1 1.4l-1 -1.4zM97.9 245l1 1.4l-1 1.4l-1 -1.4zM100.2 249.2l1 1.4l-1 1.4l-1 -1.4zM102.6 254.9l1 1.4l-1 1.4l-1 -1.4zM105 225.2l1 1.4l-1 1.4l-1 -1.4zM107.3 219.4l1 1.4l-1 1.4l-1 -1.4zM109.7 214.6l1 1.4l-1 1.4l-1 -1.4zM112.1 208.2l1 1.4l-1 1.4l-1 -1.4zM114.4 204.9l1 1.4l-1 1.4l-1 -1.4zM116.8 199.9l1 1.4l-1 1.4l-1 -1.4zM119.2 196.9l1 1.4l-1 1.4l-1 -1.4zM121.5 192.2l1 1.4l-1 1.4l-1 -1.4zM123.9 220.9l1 1.4l-1 1.4l-1 -1.4zM126.3 189.3l1 1.4l-1 1.4l-1 -1.4zM128.6 198.7l1 1.4l-1 1.4l-1 -1.4zM131 183.9l1 1.4l-1 1.4l-1 -1.4zM133.4 181.6l1 1.4l-1 1.4l-1 -1.4zM135.7 180.4l1 1.4l-1 1.4l-1 -1.4zM138.1 178.6l1 1.4l-1 1.4l-1 -1.4zM140.5 178.1l1 1.4l-1 1.4l-1 -1.4zM142.8 178.6l1 1.4l-1 1.4l-1 -1.4zM145.2 181.4l1 1.4l-1 1.4l-1 -1.4zM147.6 184.8l1 1.4l-1 1.4l-1 -1.4zM149.9 181.7l1 1.4l-1 1.4l-1 -1.4zM152.3 183.2l1 1.4l-1 1.4l-1 -1.4zM154.7 227.4l1 1.4l-1 1.4l-1 -1.4zM157 188.2l1 1.4l-1 1.4l-1 -1.4zM159.4 206.3l1 1.4l-1 1.4l-1 -1.4zM161.8 220.2l1 1.4l-1 1.4l-1 -1.4zM164.1 199.5l1 1.4l-1 1.4l-1 -1.4zM166.5 205.3l1 1.4l-1 1.4l-1 -1.4zM168.9 233.2l1 1.4l-1 1.4l-1 -1.4zM171.2 217.2l1 1.4l-1 1.4l-1 -1.4zM173.6 221.4l1 1.4l-1 1.4l-1 -1.4zM176 229.8l1 1.4l-1 1.4l-1 -1.4zM178.3 233.2l1 1.4l-1 1.4l-1 -1.4zM180.7 244.8l1 1.4l-1 1.4l-1 -1.4zM183.1 248.8l1 1.4l-1 1.4l-1 -1.4zM185.4 255l1 1.4l-1 1.4l-1 -1.4zM187.8 259.5l1 1.4l-1 1.4l-1 -1.4zM190.2 275.1l1 1.4l-1 1.4l-1 -1.4zM192.5 268.3l1 1.4l-1 1.4l-1 -1.4zM194.9 272.6l1 1.4l-1 1.4l-1 -1.4zM197.3 275.9l1 1.4l-1 1.4l-1 -1.4zM199.6 265.3l1 1.4l-1 1.4l-1 -1.4zM202 281.9l1 1.4l-1 1.4l-1 -1.4zM204.4 281.9l1 1.4l-1 1.4l-1 -1.4zM206.7 281.9l1 1.4l-1 1.4l-1 -1.4zM209.1 281.9l1 1.4l-1 1.4l-1 -1.4zM211.5 281.9l1 1.4l-1 1.4l-1 -1.4zM213.8 281.9l1 1.4l-1 1.4l-1 -1.4zM216.2 281.9l1 1.4l-1 1.4l-1 -1.4zM218.6 281.9l1 1.4l-1 1.4l-1 -1.4zM220.9 281.9l1 1.4l-1 1.4l-1 -1.4zM223.3 281.9l1 1.4l-1 1.4l-1 -1.4zM225.7 281.9l1 1.4l-1 1.4l-1 -1.4zM228 281.9l1 1.4l-1 1.4l-1 -1.4zM230.4 281.9l1 1.4l-1 1.4l-1 -1.4zM232.8 281.9l1 1.4l-1 1.4l-1 -1.4zM235.1 281.9l1 1.4l-1 1.4l-1 -1.4zM237.5 281.9l1 1.4l-1 1.4l-1 -1.4zM239.9 281.9l1 1.4l-1 1.4l-1 -1.4zM242.2 281.9l1 1.4l-1 1.4l-1 -1.4zM244.6 281.9l1 1.4l-1 1.4l-1 -1.4zM247 281.9l1 1.4l-1 1.4l-1 -1.4zM249.3 281.9l1 1.4l-1 1.4l-1 -1.4zM251.7 281.9l1 1.4l-1 1.4l-1 -1.4z" fill="none" stroke="#e8641e" stroke-width="0.5"/>
<path d="M24.5 283.3 26.9 283.3 29.2 283.3 31.6 283.3 34 283.3 36.3 283.3 38.7 283.3 41.1 283.3 43.4 283.3 45.8 283.3 48.2 283.3 50.5 283.3 52.9 283.3 55.3 283.3 57.6 283.3 60 283.3 62.4 283.3 64.7 283.3 67.1 283.3 69.5 283.3 71.8 283.3 74.2 283.3 76.6 283.3 78.9 283.3 81.3 281 83.7 278.1 86 274.6 88.4 270.3 90.8 267.1 93.1 259.8 95.5 256.5 97.9 254.6 100.2 246.1 102.6 246.6 105 235.2 107.3 257.5 109.7 229.3 112.1 217.9 114.4 209 116.8 230.4 119.2 205.6 121.5 196.7 123.9 211.6 126.3 201.3 128.6 194.3 131 198.8 133.4 187.1 135.7 195.6 138.1 192.8 140.5 197.4 142.8 185 145.2 190.7 147.6 192.5 149.9 211.6 152.3 189.8 154.7 197.3 157 198.7 159.4 203.4 161.8 206.9 164.1 212 166.5 243.3 168.9 222.5 171.2 224.9 173.6 231.6 176 232.1 178.3 258.2 180.7 248.6 183.1 252.5 185.4 272.4 187.8 263.2 190.2 269 192.5 271 194.9 276 197.3 279 199.6 282 202 283.3 204.4 283.3 206.7 283.3 209.1 283.3 211.5 283.3 213.8 283.3 216.2 283.3 218.6 283.3 220.9 283.3 223.3 283.3 225.7 283.3 228 283.3 230.4 283.3 232.8 283.3 235.1 283.3 237.5 283.3 239.9 283.3 242.2 283.3 244.6 283.3 247 283.3 249.3 283.3 251.7 283.3" fill="none" stroke="#00ee00" stroke-width="0.35"/>
<path d="M23.4 282.2h2.2v2.2h-2.2zM25.8 282.2h2.2v2.2h-2.2zM28.2 282.2h2.2v2.2h-2.2zM30.5 282.2h2.2v2.2h-2.2zM32.9 282.2h2.2v2.2h-2.2zM35.3 282.2h2.2v2.2h-2.2zM37.6 282.2h2.2v2.2h-2.2zM40 282.2h2.2v2.2h-2.2zM42.4 282.2h2.2v2.2h-2.2zM44.7 282.2h2.2v2.2h-2.2zM47.1 282.2h2.2v2.2h-2.2zM49.5 282.2h2.2v2.2h-2.2zM51.8 282.2h2.2v2.2h-2.2zM54.2 282.2h2.2v2.2h-2.2zM56.6 282.2h2.2v2.2h-2.2zM58.9 282.2h2.2v2.2h-2.2zM61.3 282.2h2.2v2.2h-2.2zM63.7 282.2h2.2v2.2h-2.2zM66 282.2h2.2v2.2h-2.2zM68.4 282.2h2.2v2.2h-2.2zM70.8 282.2h2.2v2.2h-2.2zM73.1 282.2h2.2v2.2h-2.2zM75.5 282.2h2.2v2.2h-2.2zM77.9 282.2h2.2v2.2h-2.2zM80.2 279.9h2.2v2.2h-2.2zM82.6 277h2.2v2.2h-2.2zM85 273.6h2.2v2.2h-2.2zM87.3 269.2h2.2v2.2h-2.2zM89.7 266.1h2.2v2.2h-2.2zM92.1 258.7h2.2v2.2h-2.2zM94.4 255.4h2.2v2.2h-2.2zM96.8 253.5h2.2v2.2h-2.2zM99.2 245h2.2v2.2h-2.2zM101.5 245.6h2.2v2.2h-2.2zM103.9 234.2h2.2v2.2h-2.2zM106.3 256.4h2.2v2.2h-2.2zM108.6 228.2h2.2v2.2h-2.2zM111 216.8h2.2v2.2h-2.2zM113.4 207.9h2.2v2.2h-2.2zM115.7 229.3h2.2v2.2h-2.2zM118.1 204.5h2.2v2.2h-2.2zM120.5 195.7h2.2v2.2h-2.2zM122.8 210.5h2.2v2.2h-2.2zM125.2 200.2h2.2v2.2h-2.2zM127.6 193.2h2.2v2.2h-2.2zM129.9 197.7h2.2v2.2h-2.2zM132.3 186h2.2v2.2h-2.2zM134.7 194.5h2.2v2.2h-2.2zM137 191.7h2.2v2.2h-2.2zM139.4 196.3h2.2v2.2h-2.2zM141.8 184h2.2v2.2h-2.2zM144.1 189.6h2.2v2.2h-2.2zM146.5 191.4h2.2v2.2h-2.2zM148.9 210.5h2.2v2.2h-2.2zM151.2 188.7h2.2v2.2h-2.2zM153.6 196.2h2.2v2.2h-2.2zM156 197.6h2.2v2.2h-2.2zM158.3 202.3h2.2v2.2h-2.2zM160.7 205.8h2.2v2.2h-2.2zM163.1 210.9h2.2v2.2h-2.2zM165.4 242.3h2.2v2.2h-2.2zM167.8 221.4h2.2v2.2h-2.2zM170.2 223.8h2.2v2.2h-2.2zM172.5 230.5h2.2v2.2h-2.2zM174.9 231h2.2v2.2h-2.2zM177.3 257.1h2.2v2.2h-2.2zM179.6 247.6h2.2v2.2h-2.2zM182 251.4h2.2v2.2h-2.2zM184.4 271.3h2.2v2.2h-2.2zM186.7 262.1h2.2v2.2h-2.2zM189.1 267.9h2.2v2.2h-2.2zM191.5 269.9h2.2v2.2h-2.2zM193.8 274.9h2.2v2.2h-2.2zM196.2 277.9h2.2v2.2h-2.2zM198.6 280.9h2.2v2.2h-2.2zM200.9 282.2h2.2v2.2h-2.2zM203.3 282.2h2.2v2.2h-2.2zM205.7 282.2h2.2v2.2h-2.2zM208 282.2h2.2v2.2h-2.2zM210.4 282.2h2.2v2.2h-2.2zM212.8 282.2h2.2v2.2h-2.2zM215.1 282.2h2.2v2.2h-2.2zM217.5 282.2h2.2v2.2h-2.2zM219.9 282.2h2.2v2.2h-2.2zM222.2 282.2h2.2v2.2h-2.2zM224.6 282.2h2.2v2.2h-2.2zM227 282.2h2.2v2.2h-2.2zM229.3 282.2h2.2v2.2h-2.2zM231.7 282.2h2.2v2.2h-2.2zM234.1 282.2h2.2v2.2h-2.2zM236.4 282.2h2.2v2.2h-2.2zM238.8 282.2h2.2v2.2h-2.2zM241.2 282.2h2.2v2.2h-2.2zM243.5 282.2h2.2v2.2h-2.2zM245.9 282.2h2.2v2.2h-2.2zM248.3 282.2h2.2v2.2h-2.2zM250.6 282.2h2.2v2.2h-2.2z" fill="none" stroke="#00ee00" stroke-width="0.5"/>
<path d="M24.5 283.3 26.9 283.3 29.2 283.3 31.6 283.3 34 283.3 36.3 283.3 38.7 283.3 41.1 283.3 43.4 283.3 45.8 283.3 48.2 283.3 50.5 283.3 52.9 283.3 55.3 283.3 57.6 283.3 60 283.3 62.4 283.3 64.7 283.3 67.1 283.3 69.5 283.3 71.8 283.3 74.2 283.3 76.6 283.3 78.9 280.1 81.3 277.3 83.7 273.3 86 270.1 88.4 265.5 90.8 260.6 93.1 258.3 95.5 248.6 97.9 245.1 100.2 236.7 102.6 231.6 105 221.8 107.3 223.5 109.7 218.3 112.1 214 114.4 214.5 116.8 205.9 119.2 236.3 121.5 189.2 123.9 193.8 126.3 202.9 128.6 190.1 131 183.4 133.4 186.9 135.7 174.6 138.1 189.3 140.5 209.8 142.8 239.1 145.2 209.8 147.6 239.1 149.9 221.9 152.3 190.1 154.7 188.4 157 215.6 159.4 192 161.8 201.5 164.1 221.5 166.5 210 168.9 206 171.2 219.7 173.6 224.1 176 235.7 178.3 241.5 180.7 245.6 183.1 253 185.4 257.8 187.8 260.4 190.2 267.3 192.5 270.3 194.9 275.8 197.3 278.6 199.6 282 202 283.3 204.4 283.3 206.7 283.3 209.1 283.3 211.5 283.3 213.8 283.3 216.2 283.3 218.6 283.3 220.9 283.3 223.3 283.3 225.7 283.3 228 283.3 230.4 283.3 232.8 283.3 235.1 283.3 237.5 283.3 239.9 283.3 242.2 283.3 244.6 283.3 247 283.3 249.3 283.3 251.7 283.3" fill="none" stroke="#2222ff" stroke-width="0.35"/>
<path d="M23.1 283.3h2.7M24.5 281.9v2.7M25.5 283.3h2.7M26.9 281.9v2.7M27.9 283.3h2.7M29.2 281.9v2.7M30.2 283.3h2.7M31.6 281.9v2.7M32.6 283.3h2.7M34 281.9v2.7M35 283.3h2.7M36.3 281.9v2.7M37.4 283.3h2.7M38.7 281.9v2.7M39.7 283.3h2.7M41.1 281.9v2.7M42.1 283.3h2.7M43.4 281.9v2.7M44.4 283.3h2.7M45.8 281.9v2.7M46.8 283.3h2.7M48.2 281.9v2.7M49.2 283.3h2.7M50.5 281.9v2.7M51.5 283.3h2.7M52.9 281.9v2.7M53.9 283.3h2.7M55.3 281.9v2.7M56.3 283.3h2.7M57.6 281.9v2.7M58.6 283.3h2.7M60 281.9v2.7M61 283.3h2.7M62.4 281.9v2.7M63.4 283.3h2.7M64.7 281.9v2.7M65.8 283.3h2.7M67.1 281.9v2.7M68.1 283.3h2.7M69.5 281.9v2.7M70.5 283.3h2.7M71.8 281.9v2.7M72.9 283.3h2.7M74.2 281.9v2.7M75.2 283.3h2.7M76.6 281.9v2.7M77.6 280.1h2.7M78.9 278.8v2.7M80 277.3h2.7M81.3 276v2.7M82.3 273.3h2.7M83.7 271.9v2.7M84.7 270.1h2.7M86 268.8v2.7M87.1 265.5h2.7M88.4 264.1v2.7M89.4 260.6h2.7M90.8 259.3v2.7M91.8 258.3h2.7M93.1 256.9v2.7M94.2 248.6h2.7M95.5 247.2v2.7M96.5 245.1h2.7M97.9 243.8v2.7M98.9 236.7h2.7M100.2 235.3v2.7M101.2 231.6h2.7M102.6 230.3v2.7M103.6 221.8h2.7M105 220.4v2.7M106 223.5h2.7M107.3 222.1v2.7M108.4 218.3h2.7M109.7 216.9v2.7M110.7 214h2.7M112.1 212.6v2.7M113.1 214.5h2.7M114.4 213.2v2.7M115.5 205.9h2.7M116.8 204.5v2.7M117.8 236.3h2.7M119.2 235v2.7M120.2 189.2h2.7M121.5 187.8v2.7M122.6 193.8h2.7M123.9 192.5v2.7M124.9 202.9h2.7M126.3 201.6v2.7M127.3 190.1h2.7M128.6 188.7v2.7M129.7 183.4h2.7M131 182.1v2.7M132 186.9h2.7M133.4 185.5v2.7M134.4 174.6h2.7M135.7 173.2v2.7M136.8 189.3h2.7M138.1 188v2.7M139.1 209.8h2.7M140.5 208.5v2.7M141.5 239.1h2.7M142.8 237.8v2.7M143.8 209.8h2.7M145.2 208.5v2.7M146.2 239.1h2.7M147.6 237.8v2.7M148.6 221.9h2.7M149.9 220.5v2.7M151 190.1h2.7M152.3 188.7v2.7M153.3 188.4h2.7M154.7 187.1v2.7M155.7 215.6h2.7M157 214.3v2.7M158.1 192h2.7M159.4 190.7v2.7M160.4 201.5h2.7M161.8 200.1v2.7M162.8 221.5h2.7M164.1 220.1v2.7M165.2 210h2.7M166.5 208.6v2.7M167.5 206h2.7M168.9 204.7v2.7M169.9 219.7h2.7M171.2 218.3v2.7M172.2 224.1h2.7M173.6 222.7v2.7M174.6 235.7h2.7M176 234.4v2.7M177 241.5h2.7M178.3 240.2v2.7M179.3 245.6h2.7M180.7 244.3v2.7M181.7 253h2.7M183.1 251.6v2.7M184.1 257.8h2.7M185.4 256.4v2.7M186.5 260.4h2.7M187.8 259v2.7M188.8 267.3h2.7M190.2 266v2.7M191.2 270.3h2.7M192.5 269v2.7M193.6 275.8h2.7M194.9 274.4v2.7M195.9 278.6h2.7M197.3 277.3v2.7M198.3 282h2.7M199.6 280.7v2.7M200.7 283.3h2.7M202 281.9v2.7M203 283.3h2.7M204.4 281.9v2.7M205.4 283.3h2.7M206.7 281.9v2.7M207.8 283.3h2.7M209.1 281.9v2.7M210.1 283.3h2.7M211.5 281.9v2.7M212.5 283.3h2.7M213.8 281.9v2.7M214.8 283.3h2.7M216.2 281.9v2.7M217.2 283.3h2.7M218.6 281.9v2.7M219.6 283.3h2.7M220.9 281.9v2.7M222 283.3h2.7M223.3 281.9v2.7M224.3 283.3h2.7M225.7 281.9v2.7M226.7 283.3h2.7M228 281.9v2.7M229.1 283.3h2.7M230.4 281.9v2.7M231.4 283.3h2.7M232.8 281.9v2.7M233.8 283.3h2.7M235.1 281.9v2.7M236.2 283.3h2.7M237.5 281.9v2.7M238.5 283.3h2.7M239.9 281.9v2.7M240.9 283.3h2.7M242.2 281.9v2.7M243.2 283.3h2.7M244.6 281.9v2.7M245.6 283.3h2.7M247 281.9v2.7M248 283.3h2.7M249.3 281.9v2.7M250.3 283.3h2.7M251.7 281.9v2.7" fill="none" stroke="#2222ff" stroke-width="0.5"/>
<path d="M24.5 283.3 26.9 283.3 29.2 283.3 31.6 283.3 34 283.3 36.3 283.3 38.7 283.3 41.1 283.3 43.4 283.3 45.8 283.3 48.2 283.3 50.5 283.3 52.9 283.3 55.3 283.3 57.6 283.3 60 283.3 62.4 283.3 64.7 283.3 67.1 283.3 69.5 283.3 71.8 283.3 74.2 283.3 76.6 283.3 78.9 283.3 81.3 280 83.7 277.3 86 274 88.4 270.2 90.8 265 93.1 259 95.5 259.3 97.9 252.8 100.2 246.8 102.6 244.7 105 250.6 107.3 236.8 109.7 222.5 112.1 217.3 114.4 215.9 116.8 203.8 119.2 203.6 121.5 214.4 123.9 194.1 126.3 201.7 128.6 194.6 131 191.1 133.4 188.5 135.7 190.9 138.1 192 140.5 189.5 142.8 184.5 145.2 190.1 147.6 197.3 149.9 188.4 152.3 194.5 154.7 198.2 157 201.5 159.4 208.7 161.8 238.5 164.1 213 166.5 208.2 168.9 222.2 171.2 249 173.6 245.9 176 237 178.3 242.7 180.7 250.7 183.1 266.1 185.4 261.3 187.8 263.6 190.2 269.3 192.5 271.6 194.9 276.1 197.3 279.3 199.6 282.6 202 283.3 204.4 283.3 206.7 283.3 209.1 283.3 211.5 283.3 213.8 283.3 216.2 283.3 218.6 283.3 220.9 283.3 223.3 283.3 225.7 283.3 228 283.3 230.4 283.3 232.8 283.3 235.1 283.3 237.5 283.3 239.9 283.3 242.2 283.3 244.6 283.3 247 283.3 249.3 283.3 251.7 283.3" fill="none" stroke="#00e5e5" stroke-width="0.35"/>
<path d="M23.4 283.3a1.1 1.1 0 1 0 2.3 0a1.1 1.1 0 1 0 -2.3 0M25.7 283.3a1.1 1.1 0 1 0 2.3 0a1.1 1.1 0 1 0 -2.3 0M28.1 283.3a1.1 1.1 0 1 0 2.3 0a1.1 1.1 0 1 0 -2.3 0M30.5 283.3a1.1 1.1 0 1 0 2.3 0a1.1 1.1 0 1 0 -2.3 0M32.8 283.3a1.1 1.1 0 1 0 2.3 0a1.1 1.1 0 1 0 -2.3 0M35.2 283.3a1.1 1.1 0 1 0 2.3 0a1.1 1.1 0 1 0 -2.3 0M37.6 283.3a1.1 1.1 0 1 0 2.3 0a1.1 1.1 0 1 0 -2.3 0M39.9 283.3a1.1 1.1 0 1 0 2.3 0a1.1 1.1 0 1 0 -2.3 0M42.3 283.3a1.1 1.1 0 1 0 2.3 0a1.1 1.1 0 1 0 -2.3 0M44.7 283.3a1.1 1.1 0 1 0 2.3 0a1.1 1.1 0 1 0 -2.3 0M47 283.3a1.1 1.1 0 1 0 2.3 0a1.1 1.1 0 1 0 -2.3 0M49.4 283.3a1.1 1.1 0 1 0 2.3 0a1.1 1.1 0 1 0 -2.3 0M51.8 283.3a1.1 1.1 0 1 0 2.3 0a1.1 1.1 0 1 0 -2.3 0M54.1 283.3a1.1 1.1 0 1 0 2.3 0a1.1 1.1 0 1 0 -2.3 0M56.5 283.3a1.1 1.1 0 1 0 2.3 0a1.1 1.1 0 1 0 -2.3 0M58.9 283.3a1.1 1.1 0 1 0 2.3 0a1.1 1.1 0 1 0 -2.3 0M61.2 283.3a1.1 1.1 0 1 0 2.3 0a1.1 1.1 0 1 0 -2.3 0M63.6 283.3a1.1 1.1 0 1 0 2.3 0a1.1 1.1 0 1 0 -2.3 0M66 283.3a1.1 1.1 0 1 0 2.3 0a1.1 1.1 0 1 0 -2.3 0M68.3 283.3a1.1 1.1 0 1 0 2.3 0a1.1 1.1 0 1 0 -2.3 0M70.7 283.3a1.1 1.1 0 1 0 2.3 0a1.1 1.1 0 1 0 -2.3 0M73.1 283.3a1.1 1.1 0 1 0 2.3 0a1.1 1.1 0 1 0 -2.3 0M75.4 283.3a1.1 1.1 0 1 0 2.3 0a1.1 1.1 0 1 0 -2.3 0M77.8 283.3a1.1 1.1 0 1 0 2.3 0a1.1 1.1 0 1 0 -2.3 0M80.2 280a1.1 1.1 0 1 0 2.3 0a1.1 1.1 0 1 0 -2.3 0M82.5 277.3a1.1 1.1 0 1 0 2.3 0a1.1 1.1 0 1 0 -2.3 0M84.9 274a1.1 1.1 0 1 0 2.3 0a1.1 1.1 0 1 0 -2.3 0M87.3 270.2a1.1 1.1 0 1 0 2.3 0a1.1 1.1 0 1 0 -2.3 0M89.6 265a1.1 1.1 0 1 0 2.3 0a1.1 1.1 0 1 0 -2.3 0M92 259a1.1 1.1 0 1 0 2.3 0a1.1 1.1 0 1 0 -2.3 0M94.4 259.3a1.1 1.1 0 1 0 2.3 0a1.1 1.1 0 1 0 -2.3 0M96.7 252.8a1.1 1.1 0 1 0 2.3 0a1.1 1.1 0 1 0 -2.3 0M99.1 246.8a1.1 1.1 0 1 0 2.3 0a1.1 1.1 0 1 0 -2.3 0M101.5 244.7a1.1 1.1 0 1 0 2.3 0a1.1 1.1 0 1 0 -2.3 0M103.8 250.6a1.1 1.1 0 1 0 2.3 0a1.1 1.1 0 1 0 -2.3 0M106.2 236.8a1.1 1.1 0 1 0 2.3 0a1.1 1.1 0 1 0 -2.3 0M108.6 222.5a1.1 1.1 0 1 0 2.3 0a1.1 1.1 0 1 0 -2.3 0M110.9 217.3a1.1 1.1 0 1 0 2.3 0a1.1 1.1 0 1 0 -2.3 0M113.3 215.9a1.1 1.1 0 1 0 2.3 0a1.1 1.1 0 1 0 -2.3 0M115.7 203.8a1.1 1.1 0 1 0 2.3 0a1.1 1.1 0 1 0 -2.3 0M118 203.6a1.1 1.1 0 1 0 2.3 0a1.1 1.1 0 1 0 -2.3 0M120.4 214.4a1.1 1.1 0 1 0 2.3 0a1.1 1.1 0 1 0 -2.3 0M122.8 194.1a1.1 1.1 0 1 0 2.3 0a1.1 1.1 0 1 0 -2.3 0M125.1 201.7a1.1 1.1 0 1 0 2.3 0a1.1 1.1 0 1 0 -2.3 0M127.5 194.6a1.1 1.1 0 1 0 2.3 0a1.1 1.1 0 1 0 -2.3 0M129.9 191.1a1.1 1.1 0 1 0 2.3 0a1.1 1.1 0 1 0 -2.3 0M132.2 188.5a1.1 1.1 0 1 0 2.3 0a1.1 1.1 0 1 0 -2.3 0M134.6 190.9a1.1 1.1 0 1 0 2.3 0a1.1 1.1 0 1 0 -2.3 0M137 192a1.1 1.1 0 1 0 2.3 0a1.1 1.1 0 1 0 -2.3 0M139.3 189.5a1.1 1.1 0 1 0 2.3 0a1.1 1.1 0 1 0 -2.3 0M141.7 184.5a1.1 1.1 0 1 0 2.3 0a1.1 1.1 0 1 0 -2.3 0M144.1 190.1a1.1 1.1 0 1 0 2.3 0a1.1 1.1 0 1 0 -2.3 0M146.4 197.3a1.1 1.1 0 1 0 2.3 0a1.1 1.1 0 1 0 -2.3 0M148.8 188.4a1.1 1.1 0 1 0 2.3 0a1.1 1.1 0 1 0 -2.3 0M151.2 194.5a1.1 1.1 0 1 0 2.3 0a1.1 1.1 0 1 0 -2.3 0M153.5 198.2a1.1 1.1 0 1 0 2.3 0a1.1 1.1 0 1 0 -2.3 0M155.9 201.5a1.1 1.1 0 1 0 2.3 0a1.1 1.1 0 1 0 -2.3 0M158.3 208.7a1.1 1.1 0 1 0 2.3 0a1.1 1.1 0 1 0 -2.3 0M160.6 238.5a1.1 1.1 0 1 0 2.3 0a1.1 1.1 0 1 0 -2.3 0M163 213a1.1 1.1 0 1 0 2.3 0a1.1 1.1 0 1 0 -2.3 0M165.4 208.2a1.1 1.1 0 1 0 2.3 0a1.1 1.1 0 1 0 -2.3 0M167.7 222.2a1.1 1.1 0 1 0 2.3 0a1.1 1.1 0 1 0 -2.3 0M170.1 249a1.1 1.1 0 1 0 2.3 0a1.1 1.1 0 1 0 -2.3 0M172.5 245.9a1.1 1.1 0 1 0 2.3 0a1.1 1.1 0 1 0 -2.3 0M174.8 237a1.1 1.1 0 1 0 2.3 0a1.1 1.1 0 1 0 -2.3 0M177.2 242.7a1.1 1.1 0 1 0 2.3 0a1.1 1.1 0 1 0 -2.3 0M179.6 250.7a1.1 1.1 0 1 0 2.3 0a1.1 1.1 0 1 0 -2.3 0M181.9 266.1a1.1 1.1 0 1 0 2.3 0a1.1 1.1 0 1 0 -2.3 0M184.3 261.3a1.1 1.1 0 1 0 2.3 0a1.1 1.1 0 1 0 -2.3 0M186.7 263.6a1.1 1.1 0 1 0 2.3 0a1.1 1.1 0 1 0 -2.3 0M189 269.3a1.1 1.1 0 1 0 2.3 0a1.1 1.1 0 1 0 -2.3 0M191.4 271.6a1.1 1.1 0 1 0 2.3 0a1.1 1.1 0 1 0 -2.3 0M193.8 276.1a1.1 1.1 0 1 0 2.3 0a1.1 1.1 0 1 0 -2.3 0M196.1 279.3a1.1 1.1 0 1 0 2.3 0a1.1 1.1 0 1 0 -2.3 0M198.5 282.6a1.1 1.1 0 1 0 2.3 0a1.1 1.1 0 1 0 -2.3 0M200.9 283.3a1.1 1.1 0 1 0 2.3 0a1.1 1.1 0 1 0 -2.3 0M203.2 283.3a1.1 1.1 0 1 0 2.3 0a1.1 1.1 0 1 0 -2.3 0M205.6 283.3a1.1 1.1 0 1 0 2.3 0a1.1 1.1 0 1 0 -2.3 0M208 283.3a1.1 1.1 0 1 0 2.3 0a1.1 1.1 0 1 0 -2.3 0M210.3 283.3a1.1 1.1 0 1 0 2.3 0a1.1 1.1 0 1 0 -2.3 0M212.7 283.3a1.1 1.1 0 1 0 2.3 0a1.1 1.1 0 1 0 -2.3 0M215.1 283.3a1.1 1.1 0 1 0 2.3 0a1.1 1.1 0 1 0 -2.3 0M217.4 283.3a1.1 1.1 0 1 0 2.3 0a1.1 1.1 0 1 0 -2.3 0M219.8 283.3a1.1 1.1 0 1 0 2.3 0a1.1 1.1 0 1 0 -2.3 0M222.2 283.3a1.1 1.1 0 1 0 2.3 0a1.1 1.1 0 1 0 -2.3 0M224.5 283.3a1.1 1.1 0 1 0 2.3 0a1.1 1.1 0 1 0 -2.3 0M226.9 283.3a1.1 1.1 0 1 0 2.3 0a1.1 1.1 0 1 0 -2.3 0M229.3 283.3a1.1 1.1 0 1 0 2.3 0a1.1 1.1 0 1 0 -2.3 0M231.6 283.3a1.1 1.1 0 1 0 2.3 0a1.1 1.1 0 1 0 -2.3 0M234 283.3a1.1 1.1 0 1 0 2.3 0a1.1 1.1 0 1 0 -2.3 0M236.4 283.3a1.1 1.1 0 1 0 2.3 0a1.1 1.1 0 1 0 -2.3 0M238.7 283.3a1.1 1.1 0 1 0 2.3 0a1.1 1.1 0 1 0 -2.3 0M241.1 283.3a1.1 1.1 0 1 0 2.3 0a1.1 1.1 0 1 0 -2.3 0M243.5 283.3a1.1 1.1 0 1 0 2.3 0a1.1 1.1 0 1 0 -2.3 0M245.8 283.3a1.1 1.1 0 1 0 2.3 0a1.1 1.1 0 1 0 -2.3 0M248.2 283.3a1.1 1.1 0 1 0 2.3 0a1.1 1.1 0 1 0 -2.3 0M250.6 283.3a1.1 1.1 0 1 0 2.3 0a1.1 1.1 0 1 0 -2.3 0" fill="none" stroke="#00e5e5" stroke-width="0.5"/>
<path d="M24.5 283.3 26.9 283.3 29.2 283.3 31.6 283.3 34 283.3 36.3 283.3 38.7 283.3 41.1 283.3 43.4 283.3 45.8 283.3 48.2 283.3 50.5 283.3 52.9 283.3 55.3 283.3 57.6 283.3 60 283.3 62.4 283.3 64.7 283.3 67.1 283.3 69.5 283.3 71.8 283.3 74.2 283.3 76.6 283.3 78.9 283.3 81.3 280.5 83.7 276.8 86 273.3 88.4 268.7 90.8 264.2 93.1 258.7 95.5 253.7 97.9 247.3 100.2 241.8 102.6 234.8 105 227.8 107.3 220.2 109.7 213.9 112.1 208.2 114.4 202.5 116.8 197.8 119.2 191.6 121.5 187.7 123.9 184.1 126.3 181.3 128.6 178.9 131 176.7 133.4 174.1 135.7 173.6 138.1 172.9 140.5 170.7 142.8 170.5 145.2 172.1 147.6 172.6 149.9 174.4 152.3 175.3 154.7 178.8 157 181.5 159.4 184.3 161.8 187.8 164.1 193.4 166.5 233.9 168.9 204 171.2 209.8 173.6 216.6 176 223.4 178.3 230.1 180.7 238.2 183.1 245.2 185.4 251.2 187.8 256.6 190.2 262.2 192.5 267.3 194.9 271.6 197.3 275.9 199.6 279.5 202 283.3 204.4 283.3 206.7 283.3 209.1 283.3 211.5 283.3 213.8 283.3 216.2 283.3 218.6 283.3 220.9 283.3 223.3 283.3 225.7 283.3 228 283.3 230.4 283.3 232.8 283.3 235.1 283.3 237.5 283.3 239.9 283.3 242.2 283.3 244.6 283.3 247 283.3 249.3 283.3 251.7 283.3" fill="none" stroke="#ff00ff" stroke-width="0.35"/>
<path d="M24.5 281.9l1.4 2.3h-2.7zM26.9 281.9l1.4 2.3h-2.7zM29.2 281.9l1.4 2.3h-2.7zM31.6 281.9l1.4 2.3h-2.7zM34 281.9l1.4 2.3h-2.7zM36.3 281.9l1.4 2.3h-2.7zM38.7 281.9l1.4 2.3h-2.7zM41.1 281.9l1.4 2.3h-2.7zM43.4 281.9l1.4 2.3h-2.7zM45.8 281.9l1.4 2.3h-2.7zM48.2 281.9l1.4 2.3h-2.7zM50.5 281.9l1.4 2.3h-2.7zM52.9 281.9l1.4 2.3h-2.7zM55.3 281.9l1.4 2.3h-2.7zM57.6 281.9l1.4 2.3h-2.7zM60 281.9l1.4 2.3h-2.7zM62.4 281.9l1.4 2.3h-2.7zM64.7 281.9l1.4 2.3h-2.7zM67.1 281.9l1.4 2.3h-2.7zM69.5 281.9l1.4 2.3h-2.7zM71.8 281.9l1.4 2.3h-2.7zM74.2 281.9l1.4 2.3h-2.7zM76.6 281.9l1.4 2.3h-2.7zM78.9 281.9l1.4 2.3h-2.7zM81.3 279.2l1.4 2.3h-2.7zM83.7 275.5l1.4 2.3h-2.7zM86 271.9l1.4 2.3h-2.7zM88.4 267.4l1.4 2.3h-2.7zM90.8 262.9l1.4 2.3h-2.7zM93.1 257.4l1.4 2.3h-2.7zM95.5 252.3l1.4 2.3h-2.7zM97.9 245.9l1.4 2.3h-2.7zM100.2 240.5l1.4 2.3h-2.7zM102.6 233.4l1.4 2.3h-2.7zM105 226.5l1.4 2.3h-2.7zM107.3 218.9l1.4 2.3h-2.7zM109.7 212.6l1.4 2.3h-2.7zM112.1 206.9l1.4 2.3h-2.7zM114.4 201.2l1.4 2.3h-2.7zM116.8 196.4l1.4 2.3h-2.7zM119.2 190.3l1.4 2.3h-2.7zM121.5 186.4l1.4 2.3h-2.7zM123.9 182.8l1.4 2.3h-2.7zM126.3 179.9l1.4 2.3h-2.7zM128.6 177.5l1.4 2.3h-2.7zM131 175.3l1.4 2.3h-2.7zM133.4 172.8l1.4 2.3h-2.7zM135.7 172.2l1.4 2.3h-2.7zM138.1 171.6l1.4 2.3h-2.7zM140.5 169.3l1.4 2.3h-2.7zM142.8 169.2l1.4 2.3h-2.7zM145.2 170.7l1.4 2.3h-2.7zM147.6 171.2l1.4 2.3h-2.7zM149.9 173.1l1.4 2.3h-2.7zM152.3 174l1.4 2.3h-2.7zM154.7 177.5l1.4 2.3h-2.7zM157 180.2l1.4 2.3h-2.7zM159.4 183l1.4 2.3h-2.7zM161.8 186.4l1.4 2.3h-2.7zM164.1 192l1.4 2.3h-2.7zM166.5 232.6l1.4 2.3h-2.7zM168.9 202.6l1.4 2.3h-2.7zM171.2 208.5l1.4 2.3h-2.7zM173.6 215.3l1.4 2.3h-2.7zM176 222.1l1.4 2.3h-2.7zM178.3 228.7l1.4 2.3h-2.7zM180.7 236.9l1.4 2.3h-2.7zM183.1 243.8l1.4 2.3h-2.7zM185.4 249.9l1.4 2.3h-2.7zM187.8 255.3l1.4 2.3h-2.7zM190.2 260.8l1.4 2.3h-2.7zM192.5 266l1.4 2.3h-2.7zM194.9 270.2l1.4 2.3h-2.7zM197.3 274.6l1.4 2.3h-2.7zM199.6 278.2l1.4 2.3h-2.7zM202 281.9l1.4 2.3h-2.7zM204.4 281.9l1.4 2.3h-2.7zM206.7 281.9l1.4 2.3h-2.7zM209.1 281.9l1.4 2.3h-2.7zM211.5 281.9l1.4 2.3h-2.7zM213.8 281.9l1.4 2.3h-2.7zM216.2 281.9l1.4 2.3h-2.7zM218.6 281.9l1.4 2.3h-2.7zM220.9 281.9l1.4 2.3h-2.7zM223.3 281.9l1.4 2.3h-2.7zM225.7 281.9l1.4 2.3h-2.7zM228 281.9l1.4 2.3h-2.7zM230.4 281.9l1.4 2.3h-2.7zM232.8 281.9l1.4 2.3h-2.7zM235.1 281.9l1.4 2.3h-2.7zM237.5 281.9l1.4 2.3h-2.7zM239.9 281.9l1.4 2.3h-2.7zM242.2 281.9l1.4 2.3h-2.7zM244.6 281.9l1.4 2.3h-2.7zM247 281.9l1.4 2.3h-2.7zM249.3 281.9l1.4 2.3h-2.7zM251.7 281.9l1.4 2.3h-2.7z" fill="none" stroke="#ff00ff" stroke-width="0.5"/>
<path d="M24.5 283.3 26.9 283.3 29.2 283.3 31.6 283.3 34 283.3 36.3 283.3 38.7 283.3 41.1 283.3 43.4 283.3 45.8 283.3 48.2 283.3 50.5 283.3 52.9 283.3 55.3 283.3 57.6 283.3 60 283.3 62.4 283.3 64.7 283.3 67.1 283.3 69.5 283.3 71.8 283.3 74.2 283.3 76.6 283.3 78.9 283.3 81.3 282.1 83.7 279.2 86 276.1 88.4 272 90.8 269.1 93.1 263.6 95.5 258.8 97.9 254.1 100.2 248.1 102.6 258.4 105 236.2 107.3 233.4 109.7 263.8 112.1 216.8 114.4 211 116.8 207.4 119.2 251.2 121.5 201.5 123.9 207.6 126.3 208.1 128.6 185.9 131 197.8 133.4 186.6 135.7 182.8 138.1 182.2 140.5 186.5 142.8 179.6 145.2 185.4 147.6 187.8 149.9 186.6 152.3 218 154.7 186.7 157 193.2 159.4 245.4 161.8 193.2 164.1 202.2 166.5 201.3 168.9 247.2 171.2 243.1 173.6 223.1 176 228.1 178.3 257.5 180.7 241.8 183.1 253.9 185.4 253.3 187.8 257.3 190.2 263.4 192.5 266.9 194.9 271.8 197.3 275.6 199.6 279.2 202 282.7 204.4 283.3 206.7 283.3 209.1 283.3 211.5 283.3 213.8 283.3 216.2 283.3 218.6 283.3 220.9 283.3 223.3 283.3 225.7 283.3 228 283.3 230.4 283.3 232.8 283.3 235.1 283.3 237.5 283.3 239.9 283.3 242.2 283.3 244.6 283.3 247 283.3 249.3 283.3 251.7 283.3" fill="none" stroke="#22dd22" stroke-width="0.35"/>
<path d="M23.4 283.3a1.1 1.1 0 1 0 2.3 0a1.1 1.1 0 1 0 -2.3 0M25.7 283.3a1.1 1.1 0 1 0 2.3 0a1.1 1.1 0 1 0 -2.3 0M28.1 283.3a1.1 1.1 0 1 0 2.3 0a1.1 1.1 0 1 0 -2.3 0M30.5 283.3a1.1 1.1 0 1 0 2.3 0a1.1 1.1 0 1 0 -2.3 0M32.8 283.3a1.1 1.1 0 1 0 2.3 0a1.1 1.1 0 1 0 -2.3 0M35.2 283.3a1.1 1.1 0 1 0 2.3 0a1.1 1.1 0 1 0 -2.3 0M37.6 283.3a1.1 1.1 0 1 0 2.3 0a1.1 1.1 0 1 0 -2.3 0M39.9 283.3a1.1 1.1 0 1 0 2.3 0a1.1 1.1 0 1 0 -2.3 0M42.3 283.3a1.1 1.1 0 1 0 2.3 0a1.1 1.1 0 1 0 -2.3 0M44.7 283.3a1.1 1.1 0 1 0 2.3 0a1.1 1.1 0 1 0 -2.3 0M47 283.3a1.1 1.1 0 1 0 2.3 0a1.1 1.1 0 1 0 -2.3 0M49.4 283.3a1.1 1.1 0 1 0 2.3 0a1.1 1.1 0 1 0 -2.3 0M51.8 283.3a1.1 1.1 0 1 0 2.3 0a1.1 1.1 0 1 0 -2.3 0M54.1 283.3a1.1 1.1 0 1 0 2.3 0a1.1 1.1 0 1 0 -2.3 0M56.5 283.3a1.1 1.1 0 1 0 2.3 0a1.1 1.1 0 1 0 -2.3 0M58.9 283.3a1.1 1.1 0 1 0 2.3 0a1.1 1.1 0 1 0 -2.3 0M61.2 283.3a1.1 1.1 0 1 0 2.3 0a1.1 1.1 0 1 0 -2.3 0M63.6 283.3a1.1 1.1 0 1 0 2.3 0a1.1 1.1 0 1 0 -2.3 0M66 283.3a1.1 1.1 0 1 0 2.3 0a1.1 1.1 0 1 0 -2.3 0M68.3 283.3a1.1 1.1 0 1 0 2.3 0a1.1 1.1 0 1 0 -2.3 0M70.7 283.3a1.1 1.1 0 1 0 2.3 0a1.1 1.1 0 1 0 -2.3 0M73.1 283.3a1.1 1.1 0 1 0 2.3 0a1.1 1.1 0 1 0 -2.3 0M75.4 283.3a1.1 1.1 0 1 0 2.3 0a1.1 1.1 0 1 0 -2.3 0M77.8 283.3a1.1 1.1 0 1 0 2.3 0a1.1 1.1 0 1 0 -2.3 0M80.2 282.1a1.1 1.1 0 1 0 2.3 0a1.1 1.1 0 1 0 -2.3 0M82.5 279.2a1.1 1.1 0 1 0 2.3 0a1.1 1.1 0 1 0 -2.3 0M84.9 276.1a1.1 1.1 0 1 0 2.3 0a1.1 1.1 0 1 0 -2.3 0M87.3 272a1.1 1.1 0 1 0 2.3 0a1.1 1.1 0 1 0 -2.3 0M89.6 269.1a1.1 1.1 0 1 0 2.3 0a1.1 1.1 0 1 0 -2.3 0M92 263.6a1.1 1.1 0 1 0 2.3 0a1.1 1.1 0 1 0 -2.3 0M94.4 258.8a1.1 1.1 0 1 0 2.3 0a1.1 1.1 0 1 0 -2.3 0M96.7 254.1a1.1 1.1 0 1 0 2.3 0a1.1 1.1 0 1 0 -2.3 0M99.1 248.1a1.1 1.1 0 1 0 2.3 0a1.1 1.1 0 1 0 -2.3 0M101.5 258.4a1.1 1.1 0 1 0 2.3 0a1.1 1.1 0 1 0 -2.3 0M103.8 236.2a1.1 1.1 0 1 0 2.3 0a1.1 1.1 0 1 0 -2.3 0M106.2 233.4a1.1 1.1 0 1 0 2.3 0a1.1 1.1 0 1 0 -2.3 0M108.6 263.8a1.1 1.1 0 1 0 2.3 0a1.1 1.1 0 1 0 -2.3 0M110.9 216.8a1.1 1.1 0 1 0 2.3 0a1.1 1.1 0 1 0 -2.3 0M113.3 211a1.1 1.1 0 1 0 2.3 0a1.1 1.1 0 1 0 -2.3 0M115.7 207.4a1.1 1.1 0 1 0 2.3 0a1.1 1.1 0 1 0 -2.3 0M118 251.2a1.1 1.1 0 1 0 2.3 0a1.1 1.1 0 1 0 -2.3 0M120.4 201.5a1.1 1.1 0 1 0 2.3 0a1.1 1.1 0 1 0 -2.3 0M122.8 207.6a1.1 1.1 0 1 0 2.3 0a1.1 1.1 0 1 0 -2.3 0M125.1 208.1a1.1 1.1 0 1 0 2.3 0a1.1 1.1 0 1 0 -2.3 0M127.5 185.9a1.1 1.1 0 1 0 2.3 0a1.1 1.1 0 1 0 -2.3 0M129.9 197.8a1.1 1.1 0 1 0 2.3 0a1.1 1.1 0 1 0 -2.3 0M132.2 186.6a1.1 1.1 0 1 0 2.3 0a1.1 1.1 0 1 0 -2.3 0M134.6 182.8a1.1 1.1 0 1 0 2.3 0a1.1 1.1 0 1 0 -2.3 0M137 182.2a1.1 1.1 0 1 0 2.3 0a1.1 1.1 0 1 0 -2.3 0M139.3 186.5a1.1 1.1 0 1 0 2.3 0a1.1 1.1 0 1 0 -2.3 0M141.7 179.6a1.1 1.1 0 1 0 2.3 0a1.1 1.1 0 1 0 -2.3 0M144.1 185.4a1.1 1.1 0 1 0 2.3 0a1.1 1.1 0 1 0 -2.3 0M146.4 187.8a1.1 1.1 0 1 0 2.3 0a1.1 1.1 0 1 0 -2.3 0M148.8 186.6a1.1 1.1 0 1 0 2.3 0a1.1 1.1 0 1 0 -2.3 0M151.2 218a1.1 1.1 0 1 0 2.3 0a1.1 1.1 0 1 0 -2.3 0M153.5 186.7a1.1 1.1 0 1 0 2.3 0a1.1 1.1 0 1 0 -2.3 0M155.9 193.2a1.1 1.1 0 1 0 2.3 0a1.1 1.1 0 1 0 -2.3 0M158.3 245.4a1.1 1.1 0 1 0 2.3 0a1.1 1.1 0 1 0 -2.3 0M160.6 193.2a1.1 1.1 0 1 0 2.3 0a1.1 1.1 0 1 0 -2.3 0M163 202.2a1.1 1.1 0 1 0 2.3 0a1.1 1.1 0 1 0 -2.3 0M165.4 201.3a1.1 1.1 0 1 0 2.3 0a1.1 1.1 0 1 0 -2.3 0M167.7 247.2a1.1 1.1 0 1 0 2.3 0a1.1 1.1 0 1 0 -2.3 0M170.1 243.1a1.1 1.1 0 1 0 2.3 0a1.1 1.1 0 1 0 -2.3 0M172.5 223.1a1.1 1.1 0 1 0 2.3 0a1.1 1.1 0 1 0 -2.3 0M174.8 228.1a1.1 1.1 0 1 0 2.3 0a1.1 1.1 0 1 0 -2.3 0M177.2 257.5a1.1 1.1 0 1 0 2.3 0a1.1 1.1 0 1 0 -2.3 0M179.6 241.8a1.1 1.1 0 1 0 2.3 0a1.1 1.1 0 1 0 -2.3 0M181.9 253.9a1.1 1.1 0 1 0 2.3 0a1.1 1.1 0 1 0 -2.3 0M184.3 253.3a1.1 1.1 0 1 0 2.3 0a1.1 1.1 0 1 0 -2.3 0M186.7 257.3a1.1 1.1 0 1 0 2.3 0a1.1 1.1 0 1 0 -2.3 0M189 263.4a1.1 1.1 0 1 0 2.3 0a1.1 1.1 0 1 0 -2.3 0M191.4 266.9a1.1 1.1 0 1 0 2.3 0a1.1 1.1 0 1 0 -2.3 0M193.8 271.8a1.1 1.1 0 1 0 2.3 0a1.1 1.1 0 1 0 -2.3 0M196.1 275.6a1.1 1.1 0 1 0 2.3 0a1.1 1.1 0 1 0 -2.3 0M198.5 279.2a1.1 1.1 0 1 0 2.3 0a1.1 1.1 0 1 0 -2.3 0M200.9 282.7a1.1 1.1 0 1 0 2.3 0a1.1 1.1 0 1 0 -2.3 0M203.2 283.3a1.1 1.1 0 1 0 2.3 0a1.1 1.1 0 1 0 -2.3 0M205.6 283.3a1.1 1.1 0 1 0 2.3 0a1.1 1.1 0 1 0 -2.3 0M208 283.3a1.1 1.1 0 1 0 2.3 0a1.1 1.1 0 1 0 -2.3 0M210.3 283.3a1.1 1.1 0 1 0 2.3 0a1.1 1.1 0 1 0 -2.3 0M212.7 283.3a1.1 1.1 0 1 0 2.3 0a1.1 1.1 0 1 0 -2.3 0M215.1 283.3a1.1 1.1 0 1 0 2.3 0a1.1 1.1 0 1 0 -2.3 0M217.4 283.3a1.1 1.1 0 1 0 2.3 0a1.1 1.1 0 1 0 -2.3 0M219.8 283.3a1.1 1.1 0 1 0 2.3 0a1.1 1.1 0 1 0 -2.3 0M222.2 283.3a1.1 1.1 0 1 0 2.3 0a1.1 1.1 0 1 0 -2.3 0M224.5 283.3a1.1 1.1 0 1 0 2.3 0a1.1 1.1 0 1 0 -2.3 0M226.9 283.3a1.1 1.1 0 1 0 2.3 0a1.1 1.1 0 1 0 -2.3 0M229.3 283.3a1.1 1.1 0 1 0 2.3 0a1.1 1.1 0 1 0 -2.3 0M231.6 283.3a1.1 1.1 0 1 0 2.3 0a1.1 1.1 0 1 0 -2.3 0M234 283.3a1.1 1.1 0 1 0 2.3 0a1.1 1.1 0 1 0 -2.3 0M236.4 283.3a1.1 1.1 0 1 0 2.3 0a1.1 1.1 0 1 0 -2.3 0M238.7 283.3a1.1 1.1 0 1 0 2.3 0a1.1 1.1 0 1 0 -2.3 0M241.1 283.3a1.1 1.1 0 1 0 2.3 0a1.1 1.1 0 1 0 -2.3 0M243.5 283.3a1.1 1.1 0 1 0 2.3 0a1.1 1.1 0 1 0 -2.3 0M245.8 283.3a1.1 1.1 0 1 0 2.3 0a1.1 1.1 0 1 0 -2.3 0M248.2 283.3a1.1 1.1 0 1 0 2.3 0a1.1 1.1 0 1 0 -2.3 0M250.6 283.3a1.1 1.1 0 1 0 2.3 0a1.1 1.1 0 1 0 -2.3 0" fill="none" stroke="#22dd22" stroke-width="0.5"/>
<path d="M24.5 283.3 26.9 283.3 29.2 283.3 31.6 283.3 34 283.3 36.3 283.3 38.7 283.3 41.1 283.3 43.4 283.3 45.8 283.3 48.2 283.3 50.5 283.3 52.9 283.3 55.3 283.3 57.6 283.3 60 283.3 62.4 283.3 64.7 283.3 67.1 283.3 69.5 283.3 71.8 283.3 74.2 283.3 76.6 283.3 78.9 283.3 81.3 282 83.7 278.8 86 275.7 88.4 271.5 90.8 268.2 93.1 265.5 95.5 259.3 97.9 255.3 100.2 249.1 102.6 240 105 234.3 107.3 248.9 109.7 226.6 112.1 222.2 114.4 264.4 116.8 207 119.2 207.1 121.5 201.6 123.9 213.6 126.3 232.1 128.6 195.9 131 188.1 133.4 211.6 135.7 190.6 138.1 189 140.5 182.2 142.8 185.1 145.2 185.5 147.6 187.6 149.9 219.3 152.3 188 154.7 193.2 157 200.3 159.4 232.2 161.8 206.9 164.1 211 166.5 217.7 168.9 246 171.2 214.3 173.6 224.9 176 232.3 178.3 239.7 180.7 244.7 183.1 251.1 185.4 256.8 187.8 260.9 190.2 265.7 192.5 269.2 194.9 275.9 197.3 278.3 199.6 281.4 202 283.3 204.4 283.3 206.7 283.3 209.1 283.3 211.5 283.3 213.8 283.3 216.2 283.3 218.6 283.3 220.9 283.3 223.3 283.3 225.7 283.3 228 283.3 230.4 283.3 232.8 283.3 235.1 283.3 237.5 283.3 239.9 283.3 242.2 283.3 244.6 283.3 247 283.3 249.3 283.3 251.7 283.3" fill="none" stroke="#f5f500" stroke-width="0.35"/>
<path d="M23.1 283.3l2.3 -1.4v2.7zM25.5 283.3l2.3 -1.4v2.7zM27.9 283.3l2.3 -1.4v2.7zM30.2 283.3l2.3 -1.4v2.7zM32.6 283.3l2.3 -1.4v2.7zM35 283.3l2.3 -1.4v2.7zM37.4 283.3l2.3 -1.4v2.7zM39.7 283.3l2.3 -1.4v2.7zM42.1 283.3l2.3 -1.4v2.7zM44.4 283.3l2.3 -1.4v2.7zM46.8 283.3l2.3 -1.4v2.7zM49.2 283.3l2.3 -1.4v2.7zM51.5 283.3l2.3 -1.4v2.7zM53.9 283.3l2.3 -1.4v2.7zM56.3 283.3l2.3 -1.4v2.7zM58.6 283.3l2.3 -1.4v2.7zM61 283.3l2.3 -1.4v2.7zM63.4 283.3l2.3 -1.4v2.7zM65.8 283.3l2.3 -1.4v2.7zM68.1 283.3l2.3 -1.4v2.7zM70.5 283.3l2.3 -1.4v2.7zM72.9 283.3l2.3 -1.4v2.7zM75.2 283.3l2.3 -1.4v2.7zM77.6 283.3l2.3 -1.4v2.7zM80 282l2.3 -1.4v2.7zM82.3 278.8l2.3 -1.4v2.7zM84.7 275.7l2.3 -1.4v2.7zM87.1 271.5l2.3 -1.4v2.7zM89.4 268.2l2.3 -1.4v2.7zM91.8 265.5l2.3 -1.4v2.7zM94.2 259.3l2.3 -1.4v2.7zM96.5 255.3l2.3 -1.4v2.7zM98.9 249.1l2.3 -1.4v2.7zM101.2 240l2.3 -1.4v2.7zM103.6 234.3l2.3 -1.4v2.7zM106 248.9l2.3 -1.4v2.7zM108.4 226.6l2.3 -1.4v2.7zM110.7 222.2l2.3 -1.4v2.7zM113.1 264.4l2.3 -1.4v2.7zM115.5 207l2.3 -1.4v2.7zM117.8 207.1l2.3 -1.4v2.7zM120.2 201.6l2.3 -1.4v2.7zM122.6 213.6l2.3 -1.4v2.7zM124.9 232.1l2.3 -1.4v2.7zM127.3 195.9l2.3 -1.4v2.7zM129.7 188.1l2.3 -1.4v2.7zM132 211.6l2.3 -1.4v2.7zM134.4 190.6l2.3 -1.4v2.7zM136.8 189l2.3 -1.4v2.7zM139.1 182.2l2.3 -1.4v2.7zM141.5 185.1l2.3 -1.4v2.7zM143.8 185.5l2.3 -1.4v2.7zM146.2 187.6l2.3 -1.4v2.7zM148.6 219.3l2.3 -1.4v2.7zM151 188l2.3 -1.4v2.7zM153.3 193.2l2.3 -1.4v2.7zM155.7 200.3l2.3 -1.4v2.7zM158.1 232.2l2.3 -1.4v2.7zM160.4 206.9l2.3 -1.4v2.7zM162.8 211l2.3 -1.4v2.7zM165.2 217.7l2.3 -1.4v2.7zM167.5 246l2.3 -1.4v2.7zM169.9 214.3l2.3 -1.4v2.7zM172.2 224.9l2.3 -1.4v2.7zM174.6 232.3l2.3 -1.4v2.7zM177 239.7l2.3 -1.4v2.7zM179.3 244.7l2.3 -1.4v2.7zM181.7 251.1l2.3 -1.4v2.7zM184.1 256.8l2.3 -1.4v2.7zM186.5 260.9l2.3 -1.4v2.7zM188.8 265.7l2.3 -1.4v2.7zM191.2 269.2l2.3 -1.4v2.7zM193.6 275.9l2.3 -1.4v2.7zM195.9 278.3l2.3 -1.4v2.7zM198.3 281.4l2.3 -1.4v2.7zM200.7 283.3l2.3 -1.4v2.7zM203 283.3l2.3 -1.4v2.7zM205.4 283.3l2.3 -1.4v2.7zM207.8 283.3l2.3 -1.4v2.7zM210.1 283.3l2.3 -1.4v2.7zM212.5 283.3l2.3 -1.4v2.7zM214.8 283.3l2.3 -1.4v2.7zM217.2 283.3l2.3 -1.4v2.7zM219.6 283.3l2.3 -1.4v2.7zM222 283.3l2.3 -1.4v2.7zM224.3 283.3l2.3 -1.4v2.7zM226.7 283.3l2.3 -1.4v2.7zM229.1 283.3l2.3 -1.4v2.7zM231.4 283.3l2.3 -1.4v2.7zM233.8 283.3l2.3 -1.4v2.7zM236.2 283.3l2.3 -1.4v2.7zM238.5 283.3l2.3 -1.4v2.7zM240.9 283.3l2.3 -1.4v2.7zM243.2 283.3l2.3 -1.4v2.7zM245.6 283.3l2.3 -1.4v2.7zM248 283.3l2.3 -1.4v2.7zM250.3 283.3l2.3 -1.4v2.7z" fill="none" stroke="#f5f500" stroke-width="0.5"/>
<path d="M24.5 283.3 26.9 283.3 29.2 283.3 31.6 283.3 34 283.3 36.3 283.3 38.7 283.3 41.1 283.3 43.4 283.3 45.8 283.3 48.2 283.3 50.5 283.3 52.9 283.3 55.3 283.3 57.6 283.3 60 283.3 62.4 283.3 64.7 283.3 67.1 283.3 69.5 283.3 71.8 283.3 74.2 283.3 76.6 283.3 78.9 283.3 81.3 282.1 83.7 278.6 86 275.6 88.4 271.5 90.8 269.5 93.1 264.9 95.5 258.6 97.9 269.5 100.2 249.5 102.6 242.1 105 248.4 107.3 231.6 109.7 226.6 112.1 250.6 114.4 208.4 116.8 209 119.2 198.3 121.5 206.8 123.9 191.5 126.3 192.3 128.6 192.4 131 187 133.4 185.7 135.7 181.3 138.1 188.5 140.5 179.8 142.8 184.1 145.2 181.6 147.6 185.3 149.9 177.1 152.3 185.7 154.7 194.4 157 220.2 159.4 217.5 161.8 198.1 164.1 205.3 166.5 211.2 168.9 219.8 171.2 219.1 173.6 224.8 176 230.3 178.3 251.8 180.7 260.3 183.1 249 185.4 260.8 187.8 258.6 190.2 264.9 192.5 272.3 194.9 274.8 197.3 278.5 199.6 281.5 202 283.3 204.4 283.3 206.7 283.3 209.1 283.3 211.5 283.3 213.8 283.3 216.2 283.3 218.6 283.3 220.9 283.3 223.3 283.3 225.7 283.3 228 283.3 230.4 283.3 232.8 283.3 235.1 283.3 237.5 283.3 239.9 283.3 242.2 283.3 244.6 283.3 247 283.3 249.3 283.3 251.7 283.3" fill="none" stroke="#222222" stroke-width="0.55" stroke-dasharray="2,1.2"/>
<path d="M24.5 283.3 26.9 283.3 29.2 283.3 31.6 283.3 34 283.3 36.3 283.3 38.7 283.3 41.1 283.3 43.4 283.3 45.8 283.3 48.2 283.3 50.5 283.3 52.9 283.3 55.3 283.3 57.6 283.3 60 283.3 62.4 283.3 64.7 283.3 67.1 283.3 69.5 283.3 71.8 283.3 74.2 283.3 76.6 283.3 78.9 281.5 81.3 278.7 83.7 274.6 86 272 88.4 269 90.8 263.8 93.1 258.2 95.5 252.4 97.9 247.5 100.2 247.5 102.6 240 105 228.7 107.3 237.8 109.7 223.6 112.1 222.2 114.4 207 116.8 210.6 119.2 209.4 121.5 199.3 123.9 226.1 126.3 194.2 128.6 195.1 131 208.7 133.4 190.5 135.7 189.1 138.1 182.3 140.5 182.5 142.8 191.3 145.2 188.6 147.6 192.7 149.9 184.1 152.3 191.6 154.7 190.6 157 193.4 159.4 194.6 161.8 198.6 164.1 204.9 166.5 211.8 168.9 219.9 171.2 219.2 173.6 251.7 176 253.3 178.3 241.1 180.7 248.3 183.1 253.8 185.4 260.2 187.8 264.2 190.2 268.1 192.5 272.8 194.9 274.8 197.3 278.5 199.6 281.9 202 283.3 204.4 283.3 206.7 283.3 209.1 283.3 211.5 283.3 213.8 283.3 216.2 283.3 218.6 283.3 220.9 283.3 223.3 283.3 225.7 283.3 228 283.3 230.4 283.3 232.8 283.3 235.1 283.3 237.5 283.3 239.9 283.3 242.2 283.3 244.6 283.3 247 283.3 249.3 283.3 251.7 283.3" fill="none" stroke="#00ffff" stroke-width="0.35"/>
<path d="M23.7 283.3a0.8 0.8 0 1 0 1.6 0a0.8 0.8 0 1 0 -1.6 0M26.1 283.3a0.8 0.8 0 1 0 1.6 0a0.8 0.8 0 1 0 -1.6 0M28.4 283.3a0.8 0.8 0 1 0 1.6 0a0.8 0.8 0 1 0 -1.6 0M30.8 283.3a0.8 0.8 0 1 0 1.6 0a0.8 0.8 0 1 0 -1.6 0M33.2 283.3a0.8 0.8 0 1 0 1.6 0a0.8 0.8 0 1 0 -1.6 0M35.5 283.3a0.8 0.8 0 1 0 1.6 0a0.8 0.8 0 1 0 -1.6 0M37.9 283.3a0.8 0.8 0 1 0 1.6 0a0.8 0.8 0 1 0 -1.6 0M40.3 283.3a0.8 0.8 0 1 0 1.6 0a0.8 0.8 0 1 0 -1.6 0M42.6 283.3a0.8 0.8 0 1 0 1.6 0a0.8 0.8 0 1 0 -1.6 0M45 283.3a0.8 0.8 0 1 0 1.6 0a0.8 0.8 0 1 0 -1.6 0M47.4 283.3a0.8 0.8 0 1 0 1.6 0a0.8 0.8 0 1 0 -1.6 0M49.7 283.3a0.8 0.8 0 1 0 1.6 0a0.8 0.8 0 1 0 -1.6 0M52.1 283.3a0.8 0.8 0 1 0 1.6 0a0.8 0.8 0 1 0 -1.6 0M54.5 283.3a0.8 0.8 0 1 0 1.6 0a0.8 0.8 0 1 0 -1.6 0M56.8 283.3a0.8 0.8 0 1 0 1.6 0a0.8 0.8 0 1 0 -1.6 0M59.2 283.3a0.8 0.8 0 1 0 1.6 0a0.8 0.8 0 1 0 -1.6 0M61.6 283.3a0.8 0.8 0 1 0 1.6 0a0.8 0.8 0 1 0 -1.6 0M63.9 283.3a0.8 0.8 0 1 0 1.6 0a0.8 0.8 0 1 0 -1.6 0M66.3 283.3a0.8 0.8 0 1 0 1.6 0a0.8 0.8 0 1 0 -1.6 0M68.7 283.3a0.8 0.8 0 1 0 1.6 0a0.8 0.8 0 1 0 -1.6 0M71 283.3a0.8 0.8 0 1 0 1.6 0a0.8 0.8 0 1 0 -1.6 0M73.4 283.3a0.8 0.8 0 1 0 1.6 0a0.8 0.8 0 1 0 -1.6 0M75.8 283.3a0.8 0.8 0 1 0 1.6 0a0.8 0.8 0 1 0 -1.6 0M78.1 281.5a0.8 0.8 0 1 0 1.6 0a0.8 0.8 0 1 0 -1.6 0M80.5 278.7a0.8 0.8 0 1 0 1.6 0a0.8 0.8 0 1 0 -1.6 0M82.9 274.6a0.8 0.8 0 1 0 1.6 0a0.8 0.8 0 1 0 -1.6 0M85.2 272a0.8 0.8 0 1 0 1.6 0a0.8 0.8 0 1 0 -1.6 0M87.6 269a0.8 0.8 0 1 0 1.6 0a0.8 0.8 0 1 0 -1.6 0M90 263.8a0.8 0.8 0 1 0 1.6 0a0.8 0.8 0 1 0 -1.6 0M92.3 258.2a0.8 0.8 0 1 0 1.6 0a0.8 0.8 0 1 0 -1.6 0M94.7 252.4a0.8 0.8 0 1 0 1.6 0a0.8 0.8 0 1 0 -1.6 0M97.1 247.5a0.8 0.8 0 1 0 1.6 0a0.8 0.8 0 1 0 -1.6 0M99.4 247.5a0.8 0.8 0 1 0 1.6 0a0.8 0.8 0 1 0 -1.6 0M101.8 240a0.8 0.8 0 1 0 1.6 0a0.8 0.8 0 1 0 -1.6 0M104.2 228.7a0.8 0.8 0 1 0 1.6 0a0.8 0.8 0 1 0 -1.6 0M106.5 237.8a0.8 0.8 0 1 0 1.6 0a0.8 0.8 0 1 0 -1.6 0M108.9 223.6a0.8 0.8 0 1 0 1.6 0a0.8 0.8 0 1 0 -1.6 0M111.3 222.2a0.8 0.8 0 1 0 1.6 0a0.8 0.8 0 1 0 -1.6 0M113.6 207a0.8 0.8 0 1 0 1.6 0a0.8 0.8 0 1 0 -1.6 0M116 210.6a0.8 0.8 0 1 0 1.6 0a0.8 0.8 0 1 0 -1.6 0M118.4 209.4a0.8 0.8 0 1 0 1.6 0a0.8 0.8 0 1 0 -1.6 0M120.7 199.3a0.8 0.8 0 1 0 1.6 0a0.8 0.8 0 1 0 -1.6 0M123.1 226.1a0.8 0.8 0 1 0 1.6 0a0.8 0.8 0 1 0 -1.6 0M125.5 194.2a0.8 0.8 0 1 0 1.6 0a0.8 0.8 0 1 0 -1.6 0M127.8 195.1a0.8 0.8 0 1 0 1.6 0a0.8 0.8 0 1 0 -1.6 0M130.2 208.7a0.8 0.8 0 1 0 1.6 0a0.8 0.8 0 1 0 -1.6 0M132.6 190.5a0.8 0.8 0 1 0 1.6 0a0.8 0.8 0 1 0 -1.6 0M134.9 189.1a0.8 0.8 0 1 0 1.6 0a0.8 0.8 0 1 0 -1.6 0M137.3 182.3a0.8 0.8 0 1 0 1.6 0a0.8 0.8 0 1 0 -1.6 0M139.7 182.5a0.8 0.8 0 1 0 1.6 0a0.8 0.8 0 1 0 -1.6 0M142 191.3a0.8 0.8 0 1 0 1.6 0a0.8 0.8 0 1 0 -1.6 0M144.4 188.6a0.8 0.8 0 1 0 1.6 0a0.8 0.8 0 1 0 -1.6 0M146.8 192.7a0.8 0.8 0 1 0 1.6 0a0.8 0.8 0 1 0 -1.6 0M149.1 184.1a0.8 0.8 0 1 0 1.6 0a0.8 0.8 0 1 0 -1.6 0M151.5 191.6a0.8 0.8 0 1 0 1.6 0a0.8 0.8 0 1 0 -1.6 0M153.9 190.6a0.8 0.8 0 1 0 1.6 0a0.8 0.8 0 1 0 -1.6 0M156.2 193.4a0.8 0.8 0 1 0 1.6 0a0.8 0.8 0 1 0 -1.6 0M158.6 194.6a0.8 0.8 0 1 0 1.6 0a0.8 0.8 0 1 0 -1.6 0M161 198.6a0.8 0.8 0 1 0 1.6 0a0.8 0.8 0 1 0 -1.6 0M163.3 204.9a0.8 0.8 0 1 0 1.6 0a0.8 0.8 0 1 0 -1.6 0M165.7 211.8a0.8 0.8 0 1 0 1.6 0a0.8 0.8 0 1 0 -1.6 0M168.1 219.9a0.8 0.8 0 1 0 1.6 0a0.8 0.8 0 1 0 -1.6 0M170.4 219.2a0.8 0.8 0 1 0 1.6 0a0.8 0.8 0 1 0 -1.6 0M172.8 251.7a0.8 0.8 0 1 0 1.6 0a0.8 0.8 0 1 0 -1.6 0M175.2 253.3a0.8 0.8 0 1 0 1.6 0a0.8 0.8 0 1 0 -1.6 0M177.5 241.1a0.8 0.8 0 1 0 1.6 0a0.8 0.8 0 1 0 -1.6 0M179.9 248.3a0.8 0.8 0 1 0 1.6 0a0.8 0.8 0 1 0 -1.6 0M182.3 253.8a0.8 0.8 0 1 0 1.6 0a0.8 0.8 0 1 0 -1.6 0M184.6 260.2a0.8 0.8 0 1 0 1.6 0a0.8 0.8 0 1 0 -1.6 0M187 264.2a0.8 0.8 0 1 0 1.6 0a0.8 0.8 0 1 0 -1.6 0M189.4 268.1a0.8 0.8 0 1 0 1.6 0a0.8 0.8 0 1 0 -1.6 0M191.7 272.8a0.8 0.8 0 1 0 1.6 0a0.8 0.8 0 1 0 -1.6 0M194.1 274.8a0.8 0.8 0 1 0 1.6 0a0.8 0.8 0 1 0 -1.6 0M196.5 278.5a0.8 0.8 0 1 0 1.6 0a0.8 0.8 0 1 0 -1.6 0M198.8 281.9a0.8 0.8 0 1 0 1.6 0a0.8 0.8 0 1 0 -1.6 0M201.2 283.3a0.8 0.8 0 1 0 1.6 0a0.8 0.8 0 1 0 -1.6 0M203.6 283.3a0.8 0.8 0 1 0 1.6 0a0.8 0.8 0 1 0 -1.6 0M205.9 283.3a0.8 0.8 0 1 0 1.6 0a0.8 0.8 0 1 0 -1.6 0M208.3 283.3a0.8 0.8 0 1 0 1.6 0a0.8 0.8 0 1 0 -1.6 0M210.7 283.3a0.8 0.8 0 1 0 1.6 0a0.8 0.8 0 1 0 -1.6 0M213 283.3a0.8 0.8 0 1 0 1.6 0a0.8 0.8 0 1 0 -1.6 0M215.4 283.3a0.8 0.8 0 1 0 1.6 0a0.8 0.8 0 1 0 -1.6 0M217.8 283.3a0.8 0.8 0 1 0 1.6 0a0.8 0.8 0 1 0 -1.6 0M220.1 283.3a0.8 0.8 0 1 0 1.6 0a0.8 0.8 0 1 0 -1.6 0M222.5 283.3a0.8 0.8 0 1 0 1.6 0a0.8 0.8 0 1 0 -1.6 0M224.9 283.3a0.8 0.8 0 1 0 1.6 0a0.8 0.8 0 1 0 -1.6 0M227.2 283.3a0.8 0.8 0 1 0 1.6 0a0.8 0.8 0 1 0 -1.6 0M229.6 283.3a0.8 0.8 0 1 0 1.6 0a0.8 0.8 0 1 0 -1.6 0M232 283.3a0.8 0.8 0 1 0 1.6 0a0.8 0.8 0 1 0 -1.6 0M234.3 283.3a0.8 0.8 0 1 0 1.6 0a0.8 0.8 0 1 0 -1.6 0M236.7 283.3a0.8 0.8 0 1 0 1.6 0a0.8 0.8 0 1 0 -1.6 0M239.1 283.3a0.8 0.8 0 1 0 1.6 0a0.8 0.8 0 1 0 -1.6 0M241.4 283.3a0.8 0.8 0 1 0 1.6 0a0.8 0.8 0 1 0 -1.6 0M243.8 283.3a0.8 0.8 0 1 0 1.6 0a0.8 0.8 0 1 0 -1.6 0M246.2 283.3a0.8 0.8 0 1 0 1.6 0a0.8 0.8 0 1 0 -1.6 0M248.5 283.3a0.8 0.8 0 1 0 1.6 0a0.8 0.8 0 1 0 -1.6 0M250.9 283.3a0.8 0.8 0 1 0 1.6 0a0.8 0.8 0 1 0 -1.6 0" fill="#00ffff"/>
<path d="M24.5 283.3 26.9 283.3 29.2 283.3 31.6 283.3 34 283.3 36.3 283.3 38.7 283.3 41.1 283.3 43.4 283.3 45.8 283.3 48.2 283.3 50.5 283.3 52.9 283.3 55.3 283.3 57.6 283.3 60 283.3 62.4 283.3 64.7 283.3 67.1 283.3 69.5 283.3 71.8 283.3 74.2 283.3 76.6 283.3 78.9 283.3 81.3 276.4 83.7 277 86 272.8 88.4 269.1 90.8 264.9 93.1 259.2 95.5 253 97.9 248 100.2 242.5 102.6 234.5 105 227.8 107.3 221 109.7 214 112.1 207.7 114.4 201.9 116.8 196.4 119.2 192.5 121.5 189.3 123.9 187.1 126.3 182.1 128.6 180.9 131 175.8 133.4 177 135.7 176.2 138.1 175.6 140.5 173 142.8 173.2 145.2 173.6 147.6 174.6 149.9 177.3 152.3 177.6 154.7 181.3 157 185.1 159.4 186.1 161.8 190.7 164.1 196.3 166.5 200.6 168.9 205.2 171.2 210.9 173.6 219.6 176 224.9 178.3 248.9 180.7 239.8 183.1 246.5 185.4 252.7 187.8 258.3 190.2 264.2 192.5 268.2 194.9 272.7 197.3 276.8 199.6 280.3 202 283.3 204.4 283.3 206.7 283.3 209.1 283.3 211.5 283.3 213.8 283.3 216.2 283.3 218.6 283.3 220.9 283.3 223.3 283.3 225.7 283.3 228 283.3 230.4 283.3 232.8 283.3 235.1 283.3 237.5 283.3 239.9 283.3 242.2 283.3 244.6 283.3 247 283.3 249.3 283.3 251.7 283.3" fill="none" stroke="#9050d0" stroke-width="0.35"/>
<path d="M23.8 282.6l1.5 1.5M23.8 284l1.5 -1.5M26.1 282.6l1.5 1.5M26.1 284l1.5 -1.5M28.5 282.6l1.5 1.5M28.5 284l1.5 -1.5M30.9 282.6l1.5 1.5M30.9 284l1.5 -1.5M33.2 282.6l1.5 1.5M33.2 284l1.5 -1.5M35.6 282.6l1.5 1.5M35.6 284l1.5 -1.5M38 282.6l1.5 1.5M38 284l1.5 -1.5M40.3 282.6l1.5 1.5M40.3 284l1.5 -1.5M42.7 282.6l1.5 1.5M42.7 284l1.5 -1.5M45.1 282.6l1.5 1.5M45.1 284l1.5 -1.5M47.4 282.6l1.5 1.5M47.4 284l1.5 -1.5M49.8 282.6l1.5 1.5M49.8 284l1.5 -1.5M52.2 282.6l1.5 1.5M52.2 284l1.5 -1.5M54.5 282.6l1.5 1.5M54.5 284l1.5 -1.5M56.9 282.6l1.5 1.5M56.9 284l1.5 -1.5M59.3 282.6l1.5 1.5M59.3 284l1.5 -1.5M61.6 282.6l1.5 1.5M61.6 284l1.5 -1.5M64 282.6l1.5 1.5M64 284l1.5 -1.5M66.4 282.6l1.5 1.5M66.4 284l1.5 -1.5M68.7 282.6l1.5 1.5M68.7 284l1.5 -1.5M71.1 282.6l1.5 1.5M71.1 284l1.5 -1.5M73.5 282.6l1.5 1.5M73.5 284l1.5 -1.5M75.8 282.6l1.5 1.5M75.8 284l1.5 -1.5M78.2 282.6l1.5 1.5M78.2 284l1.5 -1.5M80.6 275.7l1.5 1.5M80.6 277.2l1.5 -1.5M82.9 276.2l1.5 1.5M82.9 277.7l1.5 -1.5M85.3 272.1l1.5 1.5M85.3 273.5l1.5 -1.5M87.7 268.4l1.5 1.5M87.7 269.8l1.5 -1.5M90 264.2l1.5 1.5M90 265.7l1.5 -1.5M92.4 258.5l1.5 1.5M92.4 259.9l1.5 -1.5M94.8 252.2l1.5 1.5M94.8 253.7l1.5 -1.5M97.1 247.2l1.5 1.5M97.1 248.7l1.5 -1.5M99.5 241.7l1.5 1.5M99.5 243.2l1.5 -1.5M101.9 233.8l1.5 1.5M101.9 235.3l1.5 -1.5M104.2 227.1l1.5 1.5M104.2 228.6l1.5 -1.5M106.6 220.3l1.5 1.5M106.6 221.8l1.5 -1.5M109 213.2l1.5 1.5M109 214.7l1.5 -1.5M111.3 207l1.5 1.5M111.3 208.4l1.5 -1.5M113.7 201.2l1.5 1.5M113.7 202.7l1.5 -1.5M116.1 195.7l1.5 1.5M116.1 197.1l1.5 -1.5M118.4 191.7l1.5 1.5M118.4 193.2l1.5 -1.5M120.8 188.5l1.5 1.5M120.8 190l1.5 -1.5M123.2 186.4l1.5 1.5M123.2 187.8l1.5 -1.5M125.5 181.4l1.5 1.5M125.5 182.9l1.5 -1.5M127.9 180.2l1.5 1.5M127.9 181.7l1.5 -1.5M130.3 175.1l1.5 1.5M130.3 176.6l1.5 -1.5M132.6 176.3l1.5 1.5M132.6 177.8l1.5 -1.5M135 175.4l1.5 1.5M135 176.9l1.5 -1.5M137.4 174.8l1.5 1.5M137.4 176.3l1.5 -1.5M139.7 172.3l1.5 1.5M139.7 173.8l1.5 -1.5M142.1 172.5l1.5 1.5M142.1 174l1.5 -1.5M144.5 172.9l1.5 1.5M144.5 174.3l1.5 -1.5M146.8 173.9l1.5 1.5M146.8 175.4l1.5 -1.5M149.2 176.5l1.5 1.5M149.2 178l1.5 -1.5M151.6 176.9l1.5 1.5M151.6 178.4l1.5 -1.5M153.9 180.6l1.5 1.5M153.9 182.1l1.5 -1.5M156.3 184.3l1.5 1.5M156.3 185.8l1.5 -1.5M158.7 185.3l1.5 1.5M158.7 186.8l1.5 -1.5M161 189.9l1.5 1.5M161 191.4l1.5 -1.5M163.4 195.5l1.5 1.5M163.4 197l1.5 -1.5M165.8 199.9l1.5 1.5M165.8 201.3l1.5 -1.5M168.1 204.4l1.5 1.5M168.1 205.9l1.5 -1.5M170.5 210.1l1.5 1.5M170.5 211.6l1.5 -1.5M172.9 218.8l1.5 1.5M172.9 220.3l1.5 -1.5M175.2 224.1l1.5 1.5M175.2 225.6l1.5 -1.5M177.6 248.1l1.5 1.5M177.6 249.6l1.5 -1.5M180 239l1.5 1.5M180 240.5l1.5 -1.5M182.3 245.8l1.5 1.5M182.3 247.3l1.5 -1.5M184.7 252l1.5 1.5M184.7 253.5l1.5 -1.5M187.1 257.5l1.5 1.5M187.1 259l1.5 -1.5M189.4 263.5l1.5 1.5M189.4 265l1.5 -1.5M191.8 267.5l1.5 1.5M191.8 269l1.5 -1.5M194.2 271.9l1.5 1.5M194.2 273.4l1.5 -1.5M196.5 276l1.5 1.5M196.5 277.5l1.5 -1.5M198.9 279.6l1.5 1.5M198.9 281.1l1.5 -1.5M201.3 282.6l1.5 1.5M201.3 284l1.5 -1.5M203.6 282.6l1.5 1.5M203.6 284l1.5 -1.5M206 282.6l1.5 1.5M206 284l1.5 -1.5M208.4 282.6l1.5 1.5M208.4 284l1.5 -1.5M210.7 282.6l1.5 1.5M210.7 284l1.5 -1.5M213.1 282.6l1.5 1.5M213.1 284l1.5 -1.5M215.5 282.6l1.5 1.5M215.5 284l1.5 -1.5M217.8 282.6l1.5 1.5M217.8 284l1.5 -1.5M220.2 282.6l1.5 1.5M220.2 284l1.5 -1.5M222.6 282.6l1.5 1.5M222.6 284l1.5 -1.5M224.9 282.6l1.5 1.5M224.9 284l1.5 -1.5M227.3 282.6l1.5 1.5M227.3 284l1.5 -1.5M229.7 282.6l1.5 1.5M229.7 284l1.5 -1.5M232 282.6l1.5 1.5M232 284l1.5 -1.5M234.4 282.6l1.5 1.5M234.4 284l1.5 -1.5M236.8 282.6l1.5 1.5M236.8 284l1.5 -1.5M239.1 282.6l1.5 1.5M239.1 284l1.5 -1.5M241.5 282.6l1.5 1.5M241.5 284l1.5 -1.5M243.9 282.6l1.5 1.5M243.9 284l1.5 -1.5M246.2 282.6l1.5 1.5M246.2 284l1.5 -1.5M248.6 282.6l1.5 1.5M248.6 284l1.5 -1.5M251 282.6l1.5 1.5M251 284l1.5 -1.5" fill="none" stroke="#5a30b0" stroke-width="0.75"/>
<text x="81.3" y="294.3" text-anchor="middle">06:00</text>
<text x="138.1" y="294.3" text-anchor="middle">12:00</text>
<text x="194.9" y="294.3" text-anchor="middle">18:00</text>
<text x="251.7" y="294.3" text-anchor="middle">00:00</text>
<text x="21.9" y="286.9" text-anchor="end">0</text>
<text x="21.9" y="258.2" text-anchor="end">5</text>
<text x="21.9" y="229.5" text-anchor="end">10</text>
<text x="21.9" y="200.8" text-anchor="end">15</text>
<text x="21.9" y="172.1" text-anchor="end">20</text>
<text x="138.1" y="165.2" text-anchor="middle" font-size="9.05">Similar-time curves for May 29, 2019</text>
<text transform="translate(10 225.9) rotate(-90)" text-anchor="middle" font-size="8.7">Power/GW</text>
<rect x="194.5" y="169.1" width="64.2" height="95.4" fill="#fff" stroke="#999" stroke-width="0.8"/>
<line x1="196.1" y1="174.3" x2="210.7" y2="174.3" stroke="#ff0000" stroke-width="0.4" stroke-opacity="0.7"/>
<path d="M201.9 174.3h3M203.4 172.8v3M202.3 173.2l2.1 2.1M202.3 175.4l2.1 -2.1" fill="#ff0000" stroke="#ff0000" stroke-width="0.6"/>
<text x="212.7" y="177.2" font-size="7.3">Real value</text>
<line x1="196.1" y1="182.9" x2="210.7" y2="182.9" stroke="#e8641e" stroke-width="0.4" stroke-opacity="0.7"/>
<path d="M203.4 181.1l1.4 1.8l-1.4 1.8l-1.4 -1.8z" fill="none" stroke="#e8641e" stroke-width="0.75"/>
<text x="212.7" y="185.7" font-size="7.3">similar-time 1</text>
<line x1="196.1" y1="191.4" x2="210.7" y2="191.4" stroke="#00ee00" stroke-width="0.4" stroke-opacity="0.7"/>
<path d="M202 190h2.9v2.9h-2.9z" fill="none" stroke="#00ee00" stroke-width="0.75"/>
<text x="212.7" y="194.2" font-size="7.3">similar-time 2</text>
<line x1="196.1" y1="200" x2="210.7" y2="200" stroke="#2222ff" stroke-width="0.4" stroke-opacity="0.7"/>
<path d="M201.6 200h3.6M203.4 198.2v3.6" fill="none" stroke="#2222ff" stroke-width="0.75"/>
<text x="212.7" y="202.8" font-size="7.3">similar-time 3</text>
<line x1="196.1" y1="208.5" x2="210.7" y2="208.5" stroke="#00e5e5" stroke-width="0.4" stroke-opacity="0.7"/>
<path d="M201.9 208.5a1.5 1.5 0 1 0 3.1 0a1.5 1.5 0 1 0 -3.1 0" fill="none" stroke="#00e5e5" stroke-width="0.75"/>
<text x="212.7" y="211.3" font-size="7.3">similar-time 4</text>
<line x1="196.1" y1="217.1" x2="210.7" y2="217.1" stroke="#ff00ff" stroke-width="0.4" stroke-opacity="0.7"/>
<path d="M203.4 215.2l1.8 3.1h-3.6z" fill="none" stroke="#ff00ff" stroke-width="0.75"/>
<text x="212.7" y="219.9" font-size="7.3">similar-time 5</text>
<line x1="196.1" y1="225.6" x2="210.7" y2="225.6" stroke="#22dd22" stroke-width="0.4" stroke-opacity="0.7"/>
<path d="M201.9 225.6a1.5 1.5 0 1 0 3.1 0a1.5 1.5 0 1 0 -3.1 0" fill="none" stroke="#22dd22" stroke-width="0.75"/>
<text x="212.7" y="228.5" font-size="7.3">similar-time 6</text>
<line x1="196.1" y1="234.2" x2="210.7" y2="234.2" stroke="#f5f500" stroke-width="0.4" stroke-opacity="0.7"/>
<path d="M201.6 234.2l3.1 -1.8v3.6z" fill="none" stroke="#f5f500" stroke-width="0.75"/>
<text x="212.7" y="237" font-size="7.3">similar-time 7</text>
<line x1="196.1" y1="242.7" x2="210.7" y2="242.7" stroke="#666" stroke-width="0.9" stroke-dasharray="2.7,1.3"/>
<text x="212.7" y="245.6" font-size="7.3">similar-time 8</text>
<line x1="196.1" y1="251.2" x2="210.7" y2="251.2" stroke="#00ffff" stroke-width="0.4" stroke-opacity="0.7"/>
<path d="M202.2 251.2a1.2 1.2 0 1 0 2.4 0a1.2 1.2 0 1 0 -2.4 0" fill="#00ffff" stroke="#00ffff" stroke-width="0.6"/>
<text x="212.7" y="254.1" font-size="7.3">similar-time 9</text>
<line x1="196.1" y1="259.8" x2="210.7" y2="259.8" stroke="#9050d0" stroke-width="0.4" stroke-opacity="0.7"/>
<path d="M202.5 258.9h1.8v1.8h-1.8z" fill="#6a2ca0" stroke="#6a2ca0" stroke-width="0.6"/>
<text x="212.7" y="262.7" font-size="7.3">similar-time 10</text>
<rect x="308.8" y="168.5" width="227.7" height="114.8" fill="none" stroke="#999" stroke-width="1"/>
<path d="M337.3 283.3v-2.3M337.3 168.5v2.3M365.7 283.3v-2.3M365.7 168.5v2.3M394.2 283.3v-2.3M394.2 168.5v2.3M422.6 283.3v-2.3M422.6 168.5v2.3M451.1 283.3v-2.3M451.1 168.5v2.3M479.6 283.3v-2.3M479.6 168.5v2.3M508 283.3v-2.3M508 168.5v2.3M308.8 264.2h2.3M536.5 264.2h-2.3M308.8 245h2.3M536.5 245h-2.3M308.8 225.9h2.3M536.5 225.9h-2.3M308.8 206.8h2.3M536.5 206.8h-2.3M308.8 187.6h2.3M536.5 187.6h-2.3" stroke="#999" stroke-width="0.8" fill="none"/>
<path d="M327.3 283.3 330.1 281.7 333.7 277.3 337.3 272.5 340.8 273.2 344.4 272.1 347.9 266.7 351.5 263 355.1 259.1 358.6 262.3 362.2 260.1 365.7 252.9 369.3 251.1 372.8 246.1 376.4 245.1 380 245.3 383.5 242.1 387.1 231.7 390.6 235 394.2 232.6 397.7 232.2 401.3 228.1 404.9 226.7 408.4 226.7 412 226.5 415.5 226.2 419.1 225.7 422.6 225.2 426.2 229.7 429.8 236.9 433.3 233.3 436.9 240.8 440.4 239.7 444 244.7 447.6 243.1 451.1 246.9 454.7 246.9 458.2 241.9 461.8 252.3 465.3 252.6 468.9 259.7 472.5 259.1 476 258.8 479.6 262.5 483.1 261.8 486.7 263 490.2 266.1 493.8 262.8 497.4 267.3 500.9 262.1 504.5 269 508 267.3 511.6 272.1 515.2 272.9 518.7 279.7 522.3 279" fill="none" stroke="#00ffff" stroke-width="0.5"/>
<path d="M325.8 283.3l2.5 -1.5v3zM328.6 281.7l2.5 -1.5v3zM332.2 277.3l2.5 -1.5v3zM335.8 272.5l2.5 -1.5v3zM339.3 273.2l2.5 -1.5v3zM342.9 272.1l2.5 -1.5v3zM346.4 266.7l2.5 -1.5v3zM350 263l2.5 -1.5v3zM353.6 259.1l2.5 -1.5v3zM357.1 262.3l2.5 -1.5v3zM360.7 260.1l2.5 -1.5v3zM364.2 252.9l2.5 -1.5v3zM367.8 251.1l2.5 -1.5v3zM371.3 246.1l2.5 -1.5v3zM374.9 245.1l2.5 -1.5v3zM378.5 245.3l2.5 -1.5v3zM382 242.1l2.5 -1.5v3zM385.6 231.7l2.5 -1.5v3zM389.1 235l2.5 -1.5v3zM392.7 232.6l2.5 -1.5v3zM396.2 232.2l2.5 -1.5v3zM399.8 228.1l2.5 -1.5v3zM403.4 226.7l2.5 -1.5v3zM406.9 226.7l2.5 -1.5v3zM410.5 226.5l2.5 -1.5v3zM414 226.2l2.5 -1.5v3zM417.6 225.7l2.5 -1.5v3zM421.1 225.2l2.5 -1.5v3zM424.7 229.7l2.5 -1.5v3zM428.3 236.9l2.5 -1.5v3zM431.8 233.3l2.5 -1.5v3zM435.4 240.8l2.5 -1.5v3zM438.9 239.7l2.5 -1.5v3zM442.5 244.7l2.5 -1.5v3zM446.1 243.1l2.5 -1.5v3zM449.6 246.9l2.5 -1.5v3zM453.2 246.9l2.5 -1.5v3zM456.7 241.9l2.5 -1.5v3zM460.3 252.3l2.5 -1.5v3zM463.8 252.6l2.5 -1.5v3zM467.4 259.7l2.5 -1.5v3zM471 259.1l2.5 -1.5v3zM474.5 258.8l2.5 -1.5v3zM478.1 262.5l2.5 -1.5v3zM481.6 261.8l2.5 -1.5v3zM485.2 263l2.5 -1.5v3zM488.7 266.1l2.5 -1.5v3zM492.3 262.8l2.5 -1.5v3zM495.9 267.3l2.5 -1.5v3zM499.4 262.1l2.5 -1.5v3zM503 269l2.5 -1.5v3zM506.5 267.3l2.5 -1.5v3zM510.1 272.1l2.5 -1.5v3zM513.7 272.9l2.5 -1.5v3zM517.2 279.7l2.5 -1.5v3zM520.8 279l2.5 -1.5v3z" fill="none" stroke="#00ffff" stroke-width="0.55"/>
<path d="M328.7 283.3 330.1 282.1 333.7 277.6 337.3 274.8 340.8 272.8 344.4 272 347.9 265.3 351.5 263 355.1 258.3 358.6 261.2 362.2 257.1 365.7 255.3 369.3 253.4 372.8 251.2 376.4 248.9 380 248.4 383.5 246.5 387.1 242.2 390.6 236.9 394.2 231.9 397.7 231.9 401.3 230.6 404.9 230 408.4 229 412 231 415.5 230.3 419.1 228.6 422.6 234.3 426.2 237.6 429.8 233.6 433.3 240.1 436.9 240.8 440.4 242.7 444 249.2 447.6 242.3 451.1 245.6 454.7 251.2 458.2 251.6 461.8 254.9 465.3 259.1 468.9 259.1 472.5 259.7 476 259.7 479.6 262.5 483.1 265.2 486.7 263.3 490.2 269.6 493.8 267.1 497.4 267.5 500.9 272 504.5 276.8 508 275.9 511.6 275.6 515.2 277.3 518.7 277.2 522.3 283.3" fill="none" stroke="#00ffff" stroke-width="0.5"/>
<path d="M327.2 283.3l2.5 -1.5v3zM328.6 282.1l2.5 -1.5v3zM332.2 277.6l2.5 -1.5v3zM335.8 274.8l2.5 -1.5v3zM339.3 272.8l2.5 -1.5v3zM342.9 272l2.5 -1.5v3zM346.4 265.3l2.5 -1.5v3zM350 263l2.5 -1.5v3zM353.6 258.3l2.5 -1.5v3zM357.1 261.2l2.5 -1.5v3zM360.7 257.1l2.5 -1.5v3zM364.2 255.3l2.5 -1.5v3zM367.8 253.4l2.5 -1.5v3zM371.3 251.2l2.5 -1.5v3zM374.9 248.9l2.5 -1.5v3zM378.5 248.4l2.5 -1.5v3zM382 246.5l2.5 -1.5v3zM385.6 242.2l2.5 -1.5v3zM389.1 236.9l2.5 -1.5v3zM392.7 231.9l2.5 -1.5v3zM396.2 231.9l2.5 -1.5v3zM399.8 230.6l2.5 -1.5v3zM403.4 230l2.5 -1.5v3zM406.9 229l2.5 -1.5v3zM410.5 231l2.5 -1.5v3zM414 230.3l2.5 -1.5v3zM417.6 228.6l2.5 -1.5v3zM421.1 234.3l2.5 -1.5v3zM424.7 237.6l2.5 -1.5v3zM428.3 233.6l2.5 -1.5v3zM431.8 240.1l2.5 -1.5v3zM435.4 240.8l2.5 -1.5v3zM438.9 242.7l2.5 -1.5v3zM442.5 249.2l2.5 -1.5v3zM446.1 242.3l2.5 -1.5v3zM449.6 245.6l2.5 -1.5v3zM453.2 251.2l2.5 -1.5v3zM456.7 251.6l2.5 -1.5v3zM460.3 254.9l2.5 -1.5v3zM463.8 259.1l2.5 -1.5v3zM467.4 259.1l2.5 -1.5v3zM471 259.7l2.5 -1.5v3zM474.5 259.7l2.5 -1.5v3zM478.1 262.5l2.5 -1.5v3zM481.6 265.2l2.5 -1.5v3zM485.2 263.3l2.5 -1.5v3zM488.7 269.6l2.5 -1.5v3zM492.3 267.1l2.5 -1.5v3zM495.9 267.5l2.5 -1.5v3zM499.4 272l2.5 -1.5v3zM503 276.8l2.5 -1.5v3zM506.5 275.9l2.5 -1.5v3zM510.1 275.6l2.5 -1.5v3zM513.7 277.3l2.5 -1.5v3zM517.2 277.2l2.5 -1.5v3zM520.8 283.3l2.5 -1.5v3z" fill="none" stroke="#00ffff" stroke-width="0.55"/>
<path d="M330.1 283.3 330.1 283.3 333.7 279.9 337.3 277.8 340.8 280.4 344.4 269.9 347.9 263.4 351.5 263.7 355.1 267.3 358.6 265.2 362.2 262.7 365.7 256.3 369.3 258.9 372.8 258.2 376.4 252.8 380 254.8 383.5 247.3 387.1 250.5 390.6 247.1 394.2 241.4 397.7 238.8 401.3 239.6 404.9 239.5 408.4 243.7 412 241.7 415.5 242.2 419.1 242.7 422.6 240.8 426.2 244.2 429.8 242.7 433.3 245.6 436.9 247.7 440.4 248.6 444 249.7 447.6 250.6 451.1 255.7 454.7 256.6 458.2 260.7 461.8 255.1 465.3 256.9 468.9 262.2 472.5 264.4 476 267.6 479.6 265.7 483.1 265.9 486.7 261.6 490.2 266.6 493.8 269.4 497.4 273.7 500.9 264.9 504.5 268.1 508 272.8 511.6 271.4 515.2 278.5 518.7 269.2 522.3 277.8" fill="none" stroke="#00ffff" stroke-width="0.5"/>
<path d="M328.6 283.3l2.5 -1.5v3zM328.6 283.3l2.5 -1.5v3zM332.2 279.9l2.5 -1.5v3zM335.8 277.8l2.5 -1.5v3zM339.3 280.4l2.5 -1.5v3zM342.9 269.9l2.5 -1.5v3zM346.4 263.4l2.5 -1.5v3zM350 263.7l2.5 -1.5v3zM353.6 267.3l2.5 -1.5v3zM357.1 265.2l2.5 -1.5v3zM360.7 262.7l2.5 -1.5v3zM364.2 256.3l2.5 -1.5v3zM367.8 258.9l2.5 -1.5v3zM371.3 258.2l2.5 -1.5v3zM374.9 252.8l2.5 -1.5v3zM378.5 254.8l2.5 -1.5v3zM382 247.3l2.5 -1.5v3zM385.6 250.5l2.5 -1.5v3zM389.1 247.1l2.5 -1.5v3zM392.7 241.4l2.5 -1.5v3zM396.2 238.8l2.5 -1.5v3zM399.8 239.6l2.5 -1.5v3zM403.4 239.5l2.5 -1.5v3zM406.9 243.7l2.5 -1.5v3zM410.5 241.7l2.5 -1.5v3zM414 242.2l2.5 -1.5v3zM417.6 242.7l2.5 -1.5v3zM421.1 240.8l2.5 -1.5v3zM424.7 244.2l2.5 -1.5v3zM428.3 242.7l2.5 -1.5v3zM431.8 245.6l2.5 -1.5v3zM435.4 247.7l2.5 -1.5v3zM438.9 248.6l2.5 -1.5v3zM442.5 249.7l2.5 -1.5v3zM446.1 250.6l2.5 -1.5v3zM449.6 255.7l2.5 -1.5v3zM453.2 256.6l2.5 -1.5v3zM456.7 260.7l2.5 -1.5v3zM460.3 255.1l2.5 -1.5v3zM463.8 256.9l2.5 -1.5v3zM467.4 262.2l2.5 -1.5v3zM471 264.4l2.5 -1.5v3zM474.5 267.6l2.5 -1.5v3zM478.1 265.7l2.5 -1.5v3zM481.6 265.9l2.5 -1.5v3zM485.2 261.6l2.5 -1.5v3zM488.7 266.6l2.5 -1.5v3zM492.3 269.4l2.5 -1.5v3zM495.9 273.7l2.5 -1.5v3zM499.4 264.9l2.5 -1.5v3zM503 268.1l2.5 -1.5v3zM506.5 272.8l2.5 -1.5v3zM510.1 271.4l2.5 -1.5v3zM513.7 278.5l2.5 -1.5v3zM517.2 269.2l2.5 -1.5v3zM520.8 277.8l2.5 -1.5v3z" fill="none" stroke="#00ffff" stroke-width="0.55"/>
<path d="M325.9 283.3 326.6 282.3 330.1 278 333.7 277.2 337.3 268.9 340.8 267.7 344.4 258 347.9 262.1 351.5 256.8 355.1 249.3 358.6 245.9 362.2 251 365.7 250.3 369.3 242.9 372.8 241.4 376.4 244.2 380 241.9 383.5 238.8 387.1 236.9 390.6 232.5 394.2 224.8 397.7 226.6 401.3 223.9 404.9 229.5 408.4 230.1 412 232.6 415.5 231 419.1 235 422.6 237.3 426.2 232.6 429.8 232 433.3 234.7 436.9 234.8 440.4 238.7 444 242.3 447.6 241.6 451.1 244 454.7 247.9 458.2 251.5 461.8 253.1 465.3 251.7 468.9 253.3 472.5 256.7 476 254.1 479.6 259 483.1 259.7 486.7 259.8 490.2 266.4 493.8 270.8 497.4 266.2 500.9 271.6 504.5 268.7 508 272.9 511.6 273.7 515.2 276.7 518.7 283.3 522.3 281.6" fill="none" stroke="#00ffff" stroke-width="0.5"/>
<path d="M324.4 283.3l2.5 -1.5v3zM325.1 282.3l2.5 -1.5v3zM328.6 278l2.5 -1.5v3zM332.2 277.2l2.5 -1.5v3zM335.8 268.9l2.5 -1.5v3zM339.3 267.7l2.5 -1.5v3zM342.9 258l2.5 -1.5v3zM346.4 262.1l2.5 -1.5v3zM350 256.8l2.5 -1.5v3zM353.6 249.3l2.5 -1.5v3zM357.1 245.9l2.5 -1.5v3zM360.7 251l2.5 -1.5v3zM364.2 250.3l2.5 -1.5v3zM367.8 242.9l2.5 -1.5v3zM371.3 241.4l2.5 -1.5v3zM374.9 244.2l2.5 -1.5v3zM378.5 241.9l2.5 -1.5v3zM382 238.8l2.5 -1.5v3zM385.6 236.9l2.5 -1.5v3zM389.1 232.5l2.5 -1.5v3zM392.7 224.8l2.5 -1.5v3zM396.2 226.6l2.5 -1.5v3zM399.8 223.9l2.5 -1.5v3zM403.4 229.5l2.5 -1.5v3zM406.9 230.1l2.5 -1.5v3zM410.5 232.6l2.5 -1.5v3zM414 231l2.5 -1.5v3zM417.6 235l2.5 -1.5v3zM421.1 237.3l2.5 -1.5v3zM424.7 232.6l2.5 -1.5v3zM428.3 232l2.5 -1.5v3zM431.8 234.7l2.5 -1.5v3zM435.4 234.8l2.5 -1.5v3zM438.9 238.7l2.5 -1.5v3zM442.5 242.3l2.5 -1.5v3zM446.1 241.6l2.5 -1.5v3zM449.6 244l2.5 -1.5v3zM453.2 247.9l2.5 -1.5v3zM456.7 251.5l2.5 -1.5v3zM460.3 253.1l2.5 -1.5v3zM463.8 251.7l2.5 -1.5v3zM467.4 253.3l2.5 -1.5v3zM471 256.7l2.5 -1.5v3zM474.5 254.1l2.5 -1.5v3zM478.1 259l2.5 -1.5v3zM481.6 259.7l2.5 -1.5v3zM485.2 259.8l2.5 -1.5v3zM488.7 266.4l2.5 -1.5v3zM492.3 270.8l2.5 -1.5v3zM495.9 266.2l2.5 -1.5v3zM499.4 271.6l2.5 -1.5v3zM503 268.7l2.5 -1.5v3zM506.5 272.9l2.5 -1.5v3zM510.1 273.7l2.5 -1.5v3zM513.7 276.7l2.5 -1.5v3zM517.2 283.3l2.5 -1.5v3zM520.8 281.6l2.5 -1.5v3z" fill="none" stroke="#00ffff" stroke-width="0.55"/>
<path d="M331.6 283.3 333.7 282.4 337.3 280.9 340.8 278.7 344.4 273.8 347.9 271.9 351.5 269.9 355.1 274.6 358.6 270.4 362.2 276.1 365.7 272.2 369.3 272 372.8 273.4 376.4 268.2 380 265.5 383.5 261.5 387.1 263.7 390.6 261.6 394.2 259.3 397.7 253 401.3 254.4 404.9 257 408.4 256 412 257 415.5 257.5 419.1 259.2 422.6 260.2 426.2 264.3 429.8 264.7 433.3 261.2 436.9 265.8 440.4 268.6 444 270.9 447.6 271.9 451.1 272.9 454.7 275.8 458.2 274.2 461.8 274.6 465.3 277.4 468.9 277.9 472.5 278.8 476 279.3 479.6 275 483.1 283.1 486.7 278.4 490.2 279.6 493.8 280 497.4 277.1 500.9 273.4 504.5 274.7 508 274.1 511.6 277.6 515.2 278.8 518.7 278.7 522.3 283.3" fill="none" stroke="#00ffff" stroke-width="0.5"/>
<path d="M330.1 283.3l2.5 -1.5v3zM332.2 282.4l2.5 -1.5v3zM335.8 280.9l2.5 -1.5v3zM339.3 278.7l2.5 -1.5v3zM342.9 273.8l2.5 -1.5v3zM346.4 271.9l2.5 -1.5v3zM350 269.9l2.5 -1.5v3zM353.6 274.6l2.5 -1.5v3zM357.1 270.4l2.5 -1.5v3zM360.7 276.1l2.5 -1.5v3zM364.2 272.2l2.5 -1.5v3zM367.8 272l2.5 -1.5v3zM371.3 273.4l2.5 -1.5v3zM374.9 268.2l2.5 -1.5v3zM378.5 265.5l2.5 -1.5v3zM382 261.5l2.5 -1.5v3zM385.6 263.7l2.5 -1.5v3zM389.1 261.6l2.5 -1.5v3zM392.7 259.3l2.5 -1.5v3zM396.2 253l2.5 -1.5v3zM399.8 254.4l2.5 -1.5v3zM403.4 257l2.5 -1.5v3zM406.9 256l2.5 -1.5v3zM410.5 257l2.5 -1.5v3zM414 257.5l2.5 -1.5v3zM417.6 259.2l2.5 -1.5v3zM421.1 260.2l2.5 -1.5v3zM424.7 264.3l2.5 -1.5v3zM428.3 264.7l2.5 -1.5v3zM431.8 261.2l2.5 -1.5v3zM435.4 265.8l2.5 -1.5v3zM438.9 268.6l2.5 -1.5v3zM442.5 270.9l2.5 -1.5v3zM446.1 271.9l2.5 -1.5v3zM449.6 272.9l2.5 -1.5v3zM453.2 275.8l2.5 -1.5v3zM456.7 274.2l2.5 -1.5v3zM460.3 274.6l2.5 -1.5v3zM463.8 277.4l2.5 -1.5v3zM467.4 277.9l2.5 -1.5v3zM471 278.8l2.5 -1.5v3zM474.5 279.3l2.5 -1.5v3zM478.1 275l2.5 -1.5v3zM481.6 283.1l2.5 -1.5v3zM485.2 278.4l2.5 -1.5v3zM488.7 279.6l2.5 -1.5v3zM492.3 280l2.5 -1.5v3zM495.9 277.1l2.5 -1.5v3zM499.4 273.4l2.5 -1.5v3zM503 274.7l2.5 -1.5v3zM506.5 274.1l2.5 -1.5v3zM510.1 277.6l2.5 -1.5v3zM513.7 278.8l2.5 -1.5v3zM517.2 278.7l2.5 -1.5v3zM520.8 283.3l2.5 -1.5v3z" fill="none" stroke="#00ffff" stroke-width="0.55"/>
<path d="M327.3 283.3 330.1 281.4 333.7 279.1 337.3 276.4 340.8 273.6 344.4 264.3 347.9 263 351.5 263 355.1 257.4 358.6 261 362.2 256.2 365.7 254.6 369.3 259.6 372.8 259 376.4 256.8 380 251.8 383.5 250.2 387.1 255.6 390.6 248.7 394.2 250.7 397.7 249.3 401.3 248.3 404.9 247.4 408.4 250.7 412 248.4 415.5 248.6 419.1 244.2 422.6 240 426.2 239.7 429.8 248.2 433.3 252.7 436.9 250.8 440.4 253.7 444 248.4 447.6 253.5 451.1 258.3 454.7 255.5 458.2 257.6 461.8 264 465.3 262.6 468.9 263.1 472.5 263.6 476 264.6 479.6 266.9 483.1 266.3 486.7 268.9 490.2 270.4 493.8 265.3 497.4 268.8 500.9 269.3 504.5 274.9 508 272.2 511.6 272.3 515.2 279.7 518.7 276.4 522.3 282.3" fill="none" stroke="#00ffff" stroke-width="0.5"/>
<path d="M325.8 283.3l2.5 -1.5v3zM328.6 281.4l2.5 -1.5v3zM332.2 279.1l2.5 -1.5v3zM335.8 276.4l2.5 -1.5v3zM339.3 273.6l2.5 -1.5v3zM342.9 264.3l2.5 -1.5v3zM346.4 263l2.5 -1.5v3zM350 263l2.5 -1.5v3zM353.6 257.4l2.5 -1.5v3zM357.1 261l2.5 -1.5v3zM360.7 256.2l2.5 -1.5v3zM364.2 254.6l2.5 -1.5v3zM367.8 259.6l2.5 -1.5v3zM371.3 259l2.5 -1.5v3zM374.9 256.8l2.5 -1.5v3zM378.5 251.8l2.5 -1.5v3zM382 250.2l2.5 -1.5v3zM385.6 255.6l2.5 -1.5v3zM389.1 248.7l2.5 -1.5v3zM392.7 250.7l2.5 -1.5v3zM396.2 249.3l2.5 -1.5v3zM399.8 248.3l2.5 -1.5v3zM403.4 247.4l2.5 -1.5v3zM406.9 250.7l2.5 -1.5v3zM410.5 248.4l2.5 -1.5v3zM414 248.6l2.5 -1.5v3zM417.6 244.2l2.5 -1.5v3zM421.1 240l2.5 -1.5v3zM424.7 239.7l2.5 -1.5v3zM428.3 248.2l2.5 -1.5v3zM431.8 252.7l2.5 -1.5v3zM435.4 250.8l2.5 -1.5v3zM438.9 253.7l2.5 -1.5v3zM442.5 248.4l2.5 -1.5v3zM446.1 253.5l2.5 -1.5v3zM449.6 258.3l2.5 -1.5v3zM453.2 255.5l2.5 -1.5v3zM456.7 257.6l2.5 -1.5v3zM460.3 264l2.5 -1.5v3zM463.8 262.6l2.5 -1.5v3zM467.4 263.1l2.5 -1.5v3zM471 263.6l2.5 -1.5v3zM474.5 264.6l2.5 -1.5v3zM478.1 266.9l2.5 -1.5v3zM481.6 266.3l2.5 -1.5v3zM485.2 268.9l2.5 -1.5v3zM488.7 270.4l2.5 -1.5v3zM492.3 265.3l2.5 -1.5v3zM495.9 268.8l2.5 -1.5v3zM499.4 269.3l2.5 -1.5v3zM503 274.9l2.5 -1.5v3zM506.5 272.2l2.5 -1.5v3zM510.1 272.3l2.5 -1.5v3zM513.7 279.7l2.5 -1.5v3zM517.2 276.4l2.5 -1.5v3zM520.8 282.3l2.5 -1.5v3z" fill="none" stroke="#00ffff" stroke-width="0.55"/>
<path d="M328.7 283.3 330.1 281.7 333.7 278.2 337.3 273.9 340.8 267.7 344.4 267.8 347.9 259.4 351.5 261.3 355.1 259.9 358.6 254.3 362.2 256.9 365.7 253.6 369.3 249.1 372.8 246.9 376.4 252.6 380 245.7 383.5 240.8 387.1 240.7 390.6 242.5 394.2 241.7 397.7 239.3 401.3 239.7 404.9 235.9 408.4 234 412 234.4 415.5 231.7 419.1 235.5 422.6 239 426.2 234.1 429.8 240.4 433.3 240.1 436.9 240.6 440.4 242.7 444 246 447.6 245.9 451.1 241.7 454.7 250.3 458.2 251.1 461.8 250 465.3 252.8 468.9 254.2 472.5 255.4 476 263.6 479.6 262.4 483.1 261.5 486.7 262 490.2 261.5 493.8 265 497.4 267.4 500.9 267.4 504.5 268.7 508 268.4 511.6 270.2 515.2 275.5 518.7 279.5 522.3 282.5" fill="none" stroke="#00ffff" stroke-width="0.5"/>
<path d="M327.2 283.3l2.5 -1.5v3zM328.6 281.7l2.5 -1.5v3zM332.2 278.2l2.5 -1.5v3zM335.8 273.9l2.5 -1.5v3zM339.3 267.7l2.5 -1.5v3zM342.9 267.8l2.5 -1.5v3zM346.4 259.4l2.5 -1.5v3zM350 261.3l2.5 -1.5v3zM353.6 259.9l2.5 -1.5v3zM357.1 254.3l2.5 -1.5v3zM360.7 256.9l2.5 -1.5v3zM364.2 253.6l2.5 -1.5v3zM367.8 249.1l2.5 -1.5v3zM371.3 246.9l2.5 -1.5v3zM374.9 252.6l2.5 -1.5v3zM378.5 245.7l2.5 -1.5v3zM382 240.8l2.5 -1.5v3zM385.6 240.7l2.5 -1.5v3zM389.1 242.5l2.5 -1.5v3zM392.7 241.7l2.5 -1.5v3zM396.2 239.3l2.5 -1.5v3zM399.8 239.7l2.5 -1.5v3zM403.4 235.9l2.5 -1.5v3zM406.9 234l2.5 -1.5v3zM410.5 234.4l2.5 -1.5v3zM414 231.7l2.5 -1.5v3zM417.6 235.5l2.5 -1.5v3zM421.1 239l2.5 -1.5v3zM424.7 234.1l2.5 -1.5v3zM428.3 240.4l2.5 -1.5v3zM431.8 240.1l2.5 -1.5v3zM435.4 240.6l2.5 -1.5v3zM438.9 242.7l2.5 -1.5v3zM442.5 246l2.5 -1.5v3zM446.1 245.9l2.5 -1.5v3zM449.6 241.7l2.5 -1.5v3zM453.2 250.3l2.5 -1.5v3zM456.7 251.1l2.5 -1.5v3zM460.3 250l2.5 -1.5v3zM463.8 252.8l2.5 -1.5v3zM467.4 254.2l2.5 -1.5v3zM471 255.4l2.5 -1.5v3zM474.5 263.6l2.5 -1.5v3zM478.1 262.4l2.5 -1.5v3zM481.6 261.5l2.5 -1.5v3zM485.2 262l2.5 -1.5v3zM488.7 261.5l2.5 -1.5v3zM492.3 265l2.5 -1.5v3zM495.9 267.4l2.5 -1.5v3zM499.4 267.4l2.5 -1.5v3zM503 268.7l2.5 -1.5v3zM506.5 268.4l2.5 -1.5v3zM510.1 270.2l2.5 -1.5v3zM513.7 275.5l2.5 -1.5v3zM517.2 279.5l2.5 -1.5v3zM520.8 282.5l2.5 -1.5v3z" fill="none" stroke="#00ffff" stroke-width="0.55"/>
<path d="M330.1 283.3 330.1 283.3 333.7 279.6 337.3 276.5 340.8 273.5 344.4 271 347.9 270.4 351.5 265.3 355.1 265.7 358.6 259.9 362.2 263.2 365.7 261.8 369.3 267 372.8 264.4 376.4 260.8 380 256.1 383.5 259.6 387.1 258.3 390.6 252.4 394.2 255.3 397.7 250.6 401.3 252.1 404.9 250.1 408.4 253.2 412 247.9 415.5 251.5 419.1 253.2 422.6 246.8 426.2 251.9 429.8 247.2 433.3 256.5 436.9 260.2 440.4 260.8 444 258.9 447.6 264.5 451.1 265 454.7 265.8 458.2 270.2 461.8 268.6 465.3 271.1 468.9 273.8 472.5 269.7 476 271.2 479.6 273.6 483.1 276.4 486.7 279.5 490.2 274 493.8 275.9 497.4 279.2 500.9 274.8 504.5 277.8 508 273.8 511.6 275.8 515.2 277.7 518.7 280.4 522.3 282.9" fill="none" stroke="#00ffff" stroke-width="0.5"/>
<path d="M328.6 283.3l2.5 -1.5v3zM328.6 283.3l2.5 -1.5v3zM332.2 279.6l2.5 -1.5v3zM335.8 276.5l2.5 -1.5v3zM339.3 273.5l2.5 -1.5v3zM342.9 271l2.5 -1.5v3zM346.4 270.4l2.5 -1.5v3zM350 265.3l2.5 -1.5v3zM353.6 265.7l2.5 -1.5v3zM357.1 259.9l2.5 -1.5v3zM360.7 263.2l2.5 -1.5v3zM364.2 261.8l2.5 -1.5v3zM367.8 267l2.5 -1.5v3zM371.3 264.4l2.5 -1.5v3zM374.9 260.8l2.5 -1.5v3zM378.5 256.1l2.5 -1.5v3zM382 259.6l2.5 -1.5v3zM385.6 258.3l2.5 -1.5v3zM389.1 252.4l2.5 -1.5v3zM392.7 255.3l2.5 -1.5v3zM396.2 250.6l2.5 -1.5v3zM399.8 252.1l2.5 -1.5v3zM403.4 250.1l2.5 -1.5v3zM406.9 253.2l2.5 -1.5v3zM410.5 247.9l2.5 -1.5v3zM414 251.5l2.5 -1.5v3zM417.6 253.2l2.5 -1.5v3zM421.1 246.8l2.5 -1.5v3zM424.7 251.9l2.5 -1.5v3zM428.3 247.2l2.5 -1.5v3zM431.8 256.5l2.5 -1.5v3zM435.4 260.2l2.5 -1.5v3zM438.9 260.8l2.5 -1.5v3zM442.5 258.9l2.5 -1.5v3zM446.1 264.5l2.5 -1.5v3zM449.6 265l2.5 -1.5v3zM453.2 265.8l2.5 -1.5v3zM456.7 270.2l2.5 -1.5v3zM460.3 268.6l2.5 -1.5v3zM463.8 271.1l2.5 -1.5v3zM467.4 273.8l2.5 -1.5v3zM471 269.7l2.5 -1.5v3zM474.5 271.2l2.5 -1.5v3zM478.1 273.6l2.5 -1.5v3zM481.6 276.4l2.5 -1.5v3zM485.2 279.5l2.5 -1.5v3zM488.7 274l2.5 -1.5v3zM492.3 275.9l2.5 -1.5v3zM495.9 279.2l2.5 -1.5v3zM499.4 274.8l2.5 -1.5v3zM503 277.8l2.5 -1.5v3zM506.5 273.8l2.5 -1.5v3zM510.1 275.8l2.5 -1.5v3zM513.7 277.7l2.5 -1.5v3zM517.2 280.4l2.5 -1.5v3zM520.8 282.9l2.5 -1.5v3z" fill="none" stroke="#00ffff" stroke-width="0.55"/>
<path d="M325.9 283.3 326.6 282.5 330.1 277.5 333.7 273 337.3 267.5 340.8 261.1 344.4 255.2 347.9 249.7 351.5 258 355.1 249.2 358.6 248.9 362.2 241.3 365.7 242.8 369.3 246.6 372.8 239.3 376.4 239.1 380 233.1 383.5 235.1 387.1 230 390.6 227.2 394.2 224.2 397.7 224.9 401.3 227.4 404.9 221.5 408.4 219.7 412 223.2 415.5 226.4 419.1 224.5 422.6 224.5 426.2 228.2 429.8 229.8 433.3 228.3 436.9 236.2 440.4 236.6 444 241.5 447.6 240.2 451.1 242 454.7 244.9 458.2 246.7 461.8 243.1 465.3 250.3 468.9 251.8 472.5 247.9 476 255 479.6 260.7 483.1 257 486.7 261.6 490.2 256.9 493.8 265.2 497.4 265.3 500.9 269.4 504.5 267 508 271.4 511.6 271.5 515.2 274.6 518.7 277.6 522.3 276.3" fill="none" stroke="#00ffff" stroke-width="0.5"/>
<path d="M324.4 283.3l2.5 -1.5v3zM325.1 282.5l2.5 -1.5v3zM328.6 277.5l2.5 -1.5v3zM332.2 273l2.5 -1.5v3zM335.8 267.5l2.5 -1.5v3zM339.3 261.1l2.5 -1.5v3zM342.9 255.2l2.5 -1.5v3zM346.4 249.7l2.5 -1.5v3zM350 258l2.5 -1.5v3zM353.6 249.2l2.5 -1.5v3zM357.1 248.9l2.5 -1.5v3zM360.7 241.3l2.5 -1.5v3zM364.2 242.8l2.5 -1.5v3zM367.8 246.6l2.5 -1.5v3zM371.3 239.3l2.5 -1.5v3zM374.9 239.1l2.5 -1.5v3zM378.5 233.1l2.5 -1.5v3zM382 235.1l2.5 -1.5v3zM385.6 230l2.5 -1.5v3zM389.1 227.2l2.5 -1.5v3zM392.7 224.2l2.5 -1.5v3zM396.2 224.9l2.5 -1.5v3zM399.8 227.4l2.5 -1.5v3zM403.4 221.5l2.5 -1.5v3zM406.9 219.7l2.5 -1.5v3zM410.5 223.2l2.5 -1.5v3zM414 226.4l2.5 -1.5v3zM417.6 224.5l2.5 -1.5v3zM421.1 224.5l2.5 -1.5v3zM424.7 228.2l2.5 -1.5v3zM428.3 229.8l2.5 -1.5v3zM431.8 228.3l2.5 -1.5v3zM435.4 236.2l2.5 -1.5v3zM438.9 236.6l2.5 -1.5v3zM442.5 241.5l2.5 -1.5v3zM446.1 240.2l2.5 -1.5v3zM449.6 242l2.5 -1.5v3zM453.2 244.9l2.5 -1.5v3zM456.7 246.7l2.5 -1.5v3zM460.3 243.1l2.5 -1.5v3zM463.8 250.3l2.5 -1.5v3zM467.4 251.8l2.5 -1.5v3zM471 247.9l2.5 -1.5v3zM474.5 255l2.5 -1.5v3zM478.1 260.7l2.5 -1.5v3zM481.6 257l2.5 -1.5v3zM485.2 261.6l2.5 -1.5v3zM488.7 256.9l2.5 -1.5v3zM492.3 265.2l2.5 -1.5v3zM495.9 265.3l2.5 -1.5v3zM499.4 269.4l2.5 -1.5v3zM503 267l2.5 -1.5v3zM506.5 271.4l2.5 -1.5v3zM510.1 271.5l2.5 -1.5v3zM513.7 274.6l2.5 -1.5v3zM517.2 277.6l2.5 -1.5v3zM520.8 276.3l2.5 -1.5v3z" fill="none" stroke="#00ffff" stroke-width="0.55"/>
<path d="M330.1 283.3 330.1 283.3 333.7 279.2 337.3 276.7 340.8 273.7 344.4 266.5 347.9 257.3 351.5 266.1 355.1 270.3 358.6 273.5 362.2 269.7 365.7 264.6 369.3 258 372.8 252.5 376.4 255.3 380 255.8 383.5 257.3 387.1 251.7 390.6 251.1 394.2 252.7 397.7 251.2 401.3 247.5 404.9 243.8 408.4 243.5 412 245 415.5 246.8 419.1 245.7 422.6 247 426.2 243.7 429.8 253.5 433.3 253.6 436.9 251.6 440.4 256.4 444 253.6 447.6 258.3 451.1 259 454.7 261.5 458.2 265.1 461.8 265.3 465.3 258.9 468.9 263.8 472.5 265.1 476 265.5 479.6 267.6 483.1 267.3 486.7 271.3 490.2 272 493.8 269.9 497.4 274 500.9 277.2 504.5 275.3 508 276.9 511.6 276.1 515.2 281.2 518.7 283.3 522.3 283.3" fill="none" stroke="#00ffff" stroke-width="0.5"/>
<path d="M328.6 283.3l2.5 -1.5v3zM328.6 283.3l2.5 -1.5v3zM332.2 279.2l2.5 -1.5v3zM335.8 276.7l2.5 -1.5v3zM339.3 273.7l2.5 -1.5v3zM342.9 266.5l2.5 -1.5v3zM346.4 257.3l2.5 -1.5v3zM350 266.1l2.5 -1.5v3zM353.6 270.3l2.5 -1.5v3zM357.1 273.5l2.5 -1.5v3zM360.7 269.7l2.5 -1.5v3zM364.2 264.6l2.5 -1.5v3zM367.8 258l2.5 -1.5v3zM371.3 252.5l2.5 -1.5v3zM374.9 255.3l2.5 -1.5v3zM378.5 255.8l2.5 -1.5v3zM382 257.3l2.5 -1.5v3zM385.6 251.7l2.5 -1.5v3zM389.1 251.1l2.5 -1.5v3zM392.7 252.7l2.5 -1.5v3zM396.2 251.2l2.5 -1.5v3zM399.8 247.5l2.5 -1.5v3zM403.4 243.8l2.5 -1.5v3zM406.9 243.5l2.5 -1.5v3zM410.5 245l2.5 -1.5v3zM414 246.8l2.5 -1.5v3zM417.6 245.7l2.5 -1.5v3zM421.1 247l2.5 -1.5v3zM424.7 243.7l2.5 -1.5v3zM428.3 253.5l2.5 -1.5v3zM431.8 253.6l2.5 -1.5v3zM435.4 251.6l2.5 -1.5v3zM438.9 256.4l2.5 -1.5v3zM442.5 253.6l2.5 -1.5v3zM446.1 258.3l2.5 -1.5v3zM449.6 259l2.5 -1.5v3zM453.2 261.5l2.5 -1.5v3zM456.7 265.1l2.5 -1.5v3zM460.3 265.3l2.5 -1.5v3zM463.8 258.9l2.5 -1.5v3zM467.4 263.8l2.5 -1.5v3zM471 265.1l2.5 -1.5v3zM474.5 265.5l2.5 -1.5v3zM478.1 267.6l2.5 -1.5v3zM481.6 267.3l2.5 -1.5v3zM485.2 271.3l2.5 -1.5v3zM488.7 272l2.5 -1.5v3zM492.3 269.9l2.5 -1.5v3zM495.9 274l2.5 -1.5v3zM499.4 277.2l2.5 -1.5v3zM503 275.3l2.5 -1.5v3zM506.5 276.9l2.5 -1.5v3zM510.1 276.1l2.5 -1.5v3zM513.7 281.2l2.5 -1.5v3zM517.2 283.3l2.5 -1.5v3zM520.8 283.3l2.5 -1.5v3z" fill="none" stroke="#00ffff" stroke-width="0.55"/>
<path d="M323 283.3 323 283.3 326.6 275.9 330.1 269.4 333.7 262.9 337.3 252.3 340.8 248.5 344.4 243.3 347.9 232.4 351.5 231.9 355.1 229.4 358.6 225.4 362.2 223.8 365.7 221.5 369.3 221.7 372.8 221.7 376.4 220.8 380 221.8 383.5 223.3 387.1 220.7 390.6 221.4 394.2 223.3 397.7 220.2 401.3 222.3 404.9 223.2 408.4 218.1 412 221.8 415.5 225.5 419.1 225.2 422.6 220.1 426.2 228.8 429.8 228.8 433.3 231.4 436.9 234.1 440.4 237 444 242.7 447.6 245.8 451.1 248.2 454.7 250.3 458.2 249.2 461.8 249.1 465.3 256.6 468.9 254.3 472.5 259.2 476 259.7 479.6 259.8 483.1 260.2 486.7 262.7 490.2 269.2 493.8 260.7 497.4 265.9 500.9 268 504.5 266 508 270.3 511.6 275.1 515.2 273.4 518.7 276.4 522.3 282.3" fill="none" stroke="#ff00ff" stroke-width="0.5"/>
<path d="M321.6 283.3a1.4 1.4 0 1 0 2.9 0a1.4 1.4 0 1 0 -2.9 0M321.6 283.3a1.4 1.4 0 1 0 2.9 0a1.4 1.4 0 1 0 -2.9 0M325.1 275.9a1.4 1.4 0 1 0 2.9 0a1.4 1.4 0 1 0 -2.9 0M328.7 269.4a1.4 1.4 0 1 0 2.9 0a1.4 1.4 0 1 0 -2.9 0M332.3 262.9a1.4 1.4 0 1 0 2.9 0a1.4 1.4 0 1 0 -2.9 0M335.8 252.3a1.4 1.4 0 1 0 2.9 0a1.4 1.4 0 1 0 -2.9 0M339.4 248.5a1.4 1.4 0 1 0 2.9 0a1.4 1.4 0 1 0 -2.9 0M342.9 243.3a1.4 1.4 0 1 0 2.9 0a1.4 1.4 0 1 0 -2.9 0M346.5 232.4a1.4 1.4 0 1 0 2.9 0a1.4 1.4 0 1 0 -2.9 0M350 231.9a1.4 1.4 0 1 0 2.9 0a1.4 1.4 0 1 0 -2.9 0M353.6 229.4a1.4 1.4 0 1 0 2.9 0a1.4 1.4 0 1 0 -2.9 0M357.2 225.4a1.4 1.4 0 1 0 2.9 0a1.4 1.4 0 1 0 -2.9 0M360.7 223.8a1.4 1.4 0 1 0 2.9 0a1.4 1.4 0 1 0 -2.9 0M364.3 221.5a1.4 1.4 0 1 0 2.9 0a1.4 1.4 0 1 0 -2.9 0M367.8 221.7a1.4 1.4 0 1 0 2.9 0a1.4 1.4 0 1 0 -2.9 0M371.4 221.7a1.4 1.4 0 1 0 2.9 0a1.4 1.4 0 1 0 -2.9 0M375 220.8a1.4 1.4 0 1 0 2.9 0a1.4 1.4 0 1 0 -2.9 0M378.5 221.8a1.4 1.4 0 1 0 2.9 0a1.4 1.4 0 1 0 -2.9 0M382.1 223.3a1.4 1.4 0 1 0 2.9 0a1.4 1.4 0 1 0 -2.9 0M385.6 220.7a1.4 1.4 0 1 0 2.9 0a1.4 1.4 0 1 0 -2.9 0M389.2 221.4a1.4 1.4 0 1 0 2.9 0a1.4 1.4 0 1 0 -2.9 0M392.7 223.3a1.4 1.4 0 1 0 2.9 0a1.4 1.4 0 1 0 -2.9 0M396.3 220.2a1.4 1.4 0 1 0 2.9 0a1.4 1.4 0 1 0 -2.9 0M399.9 222.3a1.4 1.4 0 1 0 2.9 0a1.4 1.4 0 1 0 -2.9 0M403.4 223.2a1.4 1.4 0 1 0 2.9 0a1.4 1.4 0 1 0 -2.9 0M407 218.1a1.4 1.4 0 1 0 2.9 0a1.4 1.4 0 1 0 -2.9 0M410.5 221.8a1.4 1.4 0 1 0 2.9 0a1.4 1.4 0 1 0 -2.9 0M414.1 225.5a1.4 1.4 0 1 0 2.9 0a1.4 1.4 0 1 0 -2.9 0M417.6 225.2a1.4 1.4 0 1 0 2.9 0a1.4 1.4 0 1 0 -2.9 0M421.2 220.1a1.4 1.4 0 1 0 2.9 0a1.4 1.4 0 1 0 -2.9 0M424.8 228.8a1.4 1.4 0 1 0 2.9 0a1.4 1.4 0 1 0 -2.9 0M428.3 228.8a1.4 1.4 0 1 0 2.9 0a1.4 1.4 0 1 0 -2.9 0M431.9 231.4a1.4 1.4 0 1 0 2.9 0a1.4 1.4 0 1 0 -2.9 0M435.4 234.1a1.4 1.4 0 1 0 2.9 0a1.4 1.4 0 1 0 -2.9 0M439 237a1.4 1.4 0 1 0 2.9 0a1.4 1.4 0 1 0 -2.9 0M442.6 242.7a1.4 1.4 0 1 0 2.9 0a1.4 1.4 0 1 0 -2.9 0M446.1 245.8a1.4 1.4 0 1 0 2.9 0a1.4 1.4 0 1 0 -2.9 0M449.7 248.2a1.4 1.4 0 1 0 2.9 0a1.4 1.4 0 1 0 -2.9 0M453.2 250.3a1.4 1.4 0 1 0 2.9 0a1.4 1.4 0 1 0 -2.9 0M456.8 249.2a1.4 1.4 0 1 0 2.9 0a1.4 1.4 0 1 0 -2.9 0M460.3 249.1a1.4 1.4 0 1 0 2.9 0a1.4 1.4 0 1 0 -2.9 0M463.9 256.6a1.4 1.4 0 1 0 2.9 0a1.4 1.4 0 1 0 -2.9 0M467.5 254.3a1.4 1.4 0 1 0 2.9 0a1.4 1.4 0 1 0 -2.9 0M471 259.2a1.4 1.4 0 1 0 2.9 0a1.4 1.4 0 1 0 -2.9 0M474.6 259.7a1.4 1.4 0 1 0 2.9 0a1.4 1.4 0 1 0 -2.9 0M478.1 259.8a1.4 1.4 0 1 0 2.9 0a1.4 1.4 0 1 0 -2.9 0M481.7 260.2a1.4 1.4 0 1 0 2.9 0a1.4 1.4 0 1 0 -2.9 0M485.2 262.7a1.4 1.4 0 1 0 2.9 0a1.4 1.4 0 1 0 -2.9 0M488.8 269.2a1.4 1.4 0 1 0 2.9 0a1.4 1.4 0 1 0 -2.9 0M492.4 260.7a1.4 1.4 0 1 0 2.9 0a1.4 1.4 0 1 0 -2.9 0M495.9 265.9a1.4 1.4 0 1 0 2.9 0a1.4 1.4 0 1 0 -2.9 0M499.5 268a1.4 1.4 0 1 0 2.9 0a1.4 1.4 0 1 0 -2.9 0M503 266a1.4 1.4 0 1 0 2.9 0a1.4 1.4 0 1 0 -2.9 0M506.6 270.3a1.4 1.4 0 1 0 2.9 0a1.4 1.4 0 1 0 -2.9 0M510.2 275.1a1.4 1.4 0 1 0 2.9 0a1.4 1.4 0 1 0 -2.9 0M513.7 273.4a1.4 1.4 0 1 0 2.9 0a1.4 1.4 0 1 0 -2.9 0M517.3 276.4a1.4 1.4 0 1 0 2.9 0a1.4 1.4 0 1 0 -2.9 0M520.8 282.3a1.4 1.4 0 1 0 2.9 0a1.4 1.4 0 1 0 -2.9 0" fill="none" stroke="#ff00ff" stroke-width="0.55"/>
<path d="M324.5 283.3 326.6 278.7 330.1 271.8 333.7 268 337.3 254.3 340.8 251.1 344.4 247.7 347.9 239.5 351.5 236 355.1 229.6 358.6 231 362.2 225.5 365.7 226 369.3 227 372.8 227.5 376.4 226.1 380 227.9 383.5 227.1 387.1 227.3 390.6 220.4 394.2 218.6 397.7 221 401.3 222.1 404.9 221.4 408.4 230 412 224 415.5 231.8 419.1 226.1 422.6 225.1 426.2 225.5 429.8 233.6 433.3 233.8 436.9 237.4 440.4 245.5 444 241.2 447.6 245.9 451.1 248.6 454.7 252.7 458.2 252.2 461.8 253.6 465.3 252.3 468.9 256.4 472.5 250.3 476 261.5 479.6 262.8 483.1 263.5 486.7 266.5 490.2 262.1 493.8 265.4 497.4 271.2 500.9 269.1 504.5 267.7 508 275.1 511.6 273.7 515.2 277.1 518.7 273.2 522.3 280.3" fill="none" stroke="#ff00ff" stroke-width="0.5"/>
<path d="M323 283.3a1.4 1.4 0 1 0 2.9 0a1.4 1.4 0 1 0 -2.9 0M325.1 278.7a1.4 1.4 0 1 0 2.9 0a1.4 1.4 0 1 0 -2.9 0M328.7 271.8a1.4 1.4 0 1 0 2.9 0a1.4 1.4 0 1 0 -2.9 0M332.3 268a1.4 1.4 0 1 0 2.9 0a1.4 1.4 0 1 0 -2.9 0M335.8 254.3a1.4 1.4 0 1 0 2.9 0a1.4 1.4 0 1 0 -2.9 0M339.4 251.1a1.4 1.4 0 1 0 2.9 0a1.4 1.4 0 1 0 -2.9 0M342.9 247.7a1.4 1.4 0 1 0 2.9 0a1.4 1.4 0 1 0 -2.9 0M346.5 239.5a1.4 1.4 0 1 0 2.9 0a1.4 1.4 0 1 0 -2.9 0M350 236a1.4 1.4 0 1 0 2.9 0a1.4 1.4 0 1 0 -2.9 0M353.6 229.6a1.4 1.4 0 1 0 2.9 0a1.4 1.4 0 1 0 -2.9 0M357.2 231a1.4 1.4 0 1 0 2.9 0a1.4 1.4 0 1 0 -2.9 0M360.7 225.5a1.4 1.4 0 1 0 2.9 0a1.4 1.4 0 1 0 -2.9 0M364.3 226a1.4 1.4 0 1 0 2.9 0a1.4 1.4 0 1 0 -2.9 0M367.8 227a1.4 1.4 0 1 0 2.9 0a1.4 1.4 0 1 0 -2.9 0M371.4 227.5a1.4 1.4 0 1 0 2.9 0a1.4 1.4 0 1 0 -2.9 0M375 226.1a1.4 1.4 0 1 0 2.9 0a1.4 1.4 0 1 0 -2.9 0M378.5 227.9a1.4 1.4 0 1 0 2.9 0a1.4 1.4 0 1 0 -2.9 0M382.1 227.1a1.4 1.4 0 1 0 2.9 0a1.4 1.4 0 1 0 -2.9 0M385.6 227.3a1.4 1.4 0 1 0 2.9 0a1.4 1.4 0 1 0 -2.9 0M389.2 220.4a1.4 1.4 0 1 0 2.9 0a1.4 1.4 0 1 0 -2.9 0M392.7 218.6a1.4 1.4 0 1 0 2.9 0a1.4 1.4 0 1 0 -2.9 0M396.3 221a1.4 1.4 0 1 0 2.9 0a1.4 1.4 0 1 0 -2.9 0M399.9 222.1a1.4 1.4 0 1 0 2.9 0a1.4 1.4 0 1 0 -2.9 0M403.4 221.4a1.4 1.4 0 1 0 2.9 0a1.4 1.4 0 1 0 -2.9 0M407 230a1.4 1.4 0 1 0 2.9 0a1.4 1.4 0 1 0 -2.9 0M410.5 224a1.4 1.4 0 1 0 2.9 0a1.4 1.4 0 1 0 -2.9 0M414.1 231.8a1.4 1.4 0 1 0 2.9 0a1.4 1.4 0 1 0 -2.9 0M417.6 226.1a1.4 1.4 0 1 0 2.9 0a1.4 1.4 0 1 0 -2.9 0M421.2 225.1a1.4 1.4 0 1 0 2.9 0a1.4 1.4 0 1 0 -2.9 0M424.8 225.5a1.4 1.4 0 1 0 2.9 0a1.4 1.4 0 1 0 -2.9 0M428.3 233.6a1.4 1.4 0 1 0 2.9 0a1.4 1.4 0 1 0 -2.9 0M431.9 233.8a1.4 1.4 0 1 0 2.9 0a1.4 1.4 0 1 0 -2.9 0M435.4 237.4a1.4 1.4 0 1 0 2.9 0a1.4 1.4 0 1 0 -2.9 0M439 245.5a1.4 1.4 0 1 0 2.9 0a1.4 1.4 0 1 0 -2.9 0M442.6 241.2a1.4 1.4 0 1 0 2.9 0a1.4 1.4 0 1 0 -2.9 0M446.1 245.9a1.4 1.4 0 1 0 2.9 0a1.4 1.4 0 1 0 -2.9 0M449.7 248.6a1.4 1.4 0 1 0 2.9 0a1.4 1.4 0 1 0 -2.9 0M453.2 252.7a1.4 1.4 0 1 0 2.9 0a1.4 1.4 0 1 0 -2.9 0M456.8 252.2a1.4 1.4 0 1 0 2.9 0a1.4 1.4 0 1 0 -2.9 0M460.3 253.6a1.4 1.4 0 1 0 2.9 0a1.4 1.4 0 1 0 -2.9 0M463.9 252.3a1.4 1.4 0 1 0 2.9 0a1.4 1.4 0 1 0 -2.9 0M467.5 256.4a1.4 1.4 0 1 0 2.9 0a1.4 1.4 0 1 0 -2.9 0M471 250.3a1.4 1.4 0 1 0 2.9 0a1.4 1.4 0 1 0 -2.9 0M474.6 261.5a1.4 1.4 0 1 0 2.9 0a1.4 1.4 0 1 0 -2.9 0M478.1 262.8a1.4 1.4 0 1 0 2.9 0a1.4 1.4 0 1 0 -2.9 0M481.7 263.5a1.4 1.4 0 1 0 2.9 0a1.4 1.4 0 1 0 -2.9 0M485.2 266.5a1.4 1.4 0 1 0 2.9 0a1.4 1.4 0 1 0 -2.9 0M488.8 262.1a1.4 1.4 0 1 0 2.9 0a1.4 1.4 0 1 0 -2.9 0M492.4 265.4a1.4 1.4 0 1 0 2.9 0a1.4 1.4 0 1 0 -2.9 0M495.9 271.2a1.4 1.4 0 1 0 2.9 0a1.4 1.4 0 1 0 -2.9 0M499.5 269.1a1.4 1.4 0 1 0 2.9 0a1.4 1.4 0 1 0 -2.9 0M503 267.7a1.4 1.4 0 1 0 2.9 0a1.4 1.4 0 1 0 -2.9 0M506.6 275.1a1.4 1.4 0 1 0 2.9 0a1.4 1.4 0 1 0 -2.9 0M510.2 273.7a1.4 1.4 0 1 0 2.9 0a1.4 1.4 0 1 0 -2.9 0M513.7 277.1a1.4 1.4 0 1 0 2.9 0a1.4 1.4 0 1 0 -2.9 0M517.3 273.2a1.4 1.4 0 1 0 2.9 0a1.4 1.4 0 1 0 -2.9 0M520.8 280.3a1.4 1.4 0 1 0 2.9 0a1.4 1.4 0 1 0 -2.9 0" fill="none" stroke="#ff00ff" stroke-width="0.55"/>
<path d="M325.9 283.3 326.6 282.1 330.1 276.1 333.7 265.4 337.3 263.7 340.8 250.6 344.4 253.5 347.9 247.8 351.5 245.5 355.1 244.2 358.6 240.7 362.2 236.1 365.7 237 369.3 238.2 372.8 230.9 376.4 230 380 234.6 383.5 231.6 387.1 238 390.6 228.6 394.2 233.8 397.7 232.6 401.3 226.8 404.9 235.8 408.4 233.4 412 237 415.5 239.8 419.1 239.1 422.6 236.6 426.2 242.3 429.8 242.5 433.3 241.2 436.9 245.3 440.4 250 444 245.1 447.6 250.4 451.1 249.2 454.7 256.3 458.2 250.9 461.8 259.4 465.3 261.6 468.9 259.6 472.5 260.7 476 260.3 479.6 263.5 483.1 261.6 486.7 260.8 490.2 266.6 493.8 269.3 497.4 266.5 500.9 263 504.5 262.6 508 264.9 511.6 270 515.2 271.3 518.7 272.5 522.3 280.1" fill="none" stroke="#ff00ff" stroke-width="0.5"/>
<path d="M324.4 283.3a1.4 1.4 0 1 0 2.9 0a1.4 1.4 0 1 0 -2.9 0M325.1 282.1a1.4 1.4 0 1 0 2.9 0a1.4 1.4 0 1 0 -2.9 0M328.7 276.1a1.4 1.4 0 1 0 2.9 0a1.4 1.4 0 1 0 -2.9 0M332.3 265.4a1.4 1.4 0 1 0 2.9 0a1.4 1.4 0 1 0 -2.9 0M335.8 263.7a1.4 1.4 0 1 0 2.9 0a1.4 1.4 0 1 0 -2.9 0M339.4 250.6a1.4 1.4 0 1 0 2.9 0a1.4 1.4 0 1 0 -2.9 0M342.9 253.5a1.4 1.4 0 1 0 2.9 0a1.4 1.4 0 1 0 -2.9 0M346.5 247.8a1.4 1.4 0 1 0 2.9 0a1.4 1.4 0 1 0 -2.9 0M350 245.5a1.4 1.4 0 1 0 2.9 0a1.4 1.4 0 1 0 -2.9 0M353.6 244.2a1.4 1.4 0 1 0 2.9 0a1.4 1.4 0 1 0 -2.9 0M357.2 240.7a1.4 1.4 0 1 0 2.9 0a1.4 1.4 0 1 0 -2.9 0M360.7 236.1a1.4 1.4 0 1 0 2.9 0a1.4 1.4 0 1 0 -2.9 0M364.3 237a1.4 1.4 0 1 0 2.9 0a1.4 1.4 0 1 0 -2.9 0M367.8 238.2a1.4 1.4 0 1 0 2.9 0a1.4 1.4 0 1 0 -2.9 0M371.4 230.9a1.4 1.4 0 1 0 2.9 0a1.4 1.4 0 1 0 -2.9 0M375 230a1.4 1.4 0 1 0 2.9 0a1.4 1.4 0 1 0 -2.9 0M378.5 234.6a1.4 1.4 0 1 0 2.9 0a1.4 1.4 0 1 0 -2.9 0M382.1 231.6a1.4 1.4 0 1 0 2.9 0a1.4 1.4 0 1 0 -2.9 0M385.6 238a1.4 1.4 0 1 0 2.9 0a1.4 1.4 0 1 0 -2.9 0M389.2 228.6a1.4 1.4 0 1 0 2.9 0a1.4 1.4 0 1 0 -2.9 0M392.7 233.8a1.4 1.4 0 1 0 2.9 0a1.4 1.4 0 1 0 -2.9 0M396.3 232.6a1.4 1.4 0 1 0 2.9 0a1.4 1.4 0 1 0 -2.9 0M399.9 226.8a1.4 1.4 0 1 0 2.9 0a1.4 1.4 0 1 0 -2.9 0M403.4 235.8a1.4 1.4 0 1 0 2.9 0a1.4 1.4 0 1 0 -2.9 0M407 233.4a1.4 1.4 0 1 0 2.9 0a1.4 1.4 0 1 0 -2.9 0M410.5 237a1.4 1.4 0 1 0 2.9 0a1.4 1.4 0 1 0 -2.9 0M414.1 239.8a1.4 1.4 0 1 0 2.9 0a1.4 1.4 0 1 0 -2.9 0M417.6 239.1a1.4 1.4 0 1 0 2.9 0a1.4 1.4 0 1 0 -2.9 0M421.2 236.6a1.4 1.4 0 1 0 2.9 0a1.4 1.4 0 1 0 -2.9 0M424.8 242.3a1.4 1.4 0 1 0 2.9 0a1.4 1.4 0 1 0 -2.9 0M428.3 242.5a1.4 1.4 0 1 0 2.9 0a1.4 1.4 0 1 0 -2.9 0M431.9 241.2a1.4 1.4 0 1 0 2.9 0a1.4 1.4 0 1 0 -2.9 0M435.4 245.3a1.4 1.4 0 1 0 2.9 0a1.4 1.4 0 1 0 -2.9 0M439 250a1.4 1.4 0 1 0 2.9 0a1.4 1.4 0 1 0 -2.9 0M442.6 245.1a1.4 1.4 0 1 0 2.9 0a1.4 1.4 0 1 0 -2.9 0M446.1 250.4a1.4 1.4 0 1 0 2.9 0a1.4 1.4 0 1 0 -2.9 0M449.7 249.2a1.4 1.4 0 1 0 2.9 0a1.4 1.4 0 1 0 -2.9 0M453.2 256.3a1.4 1.4 0 1 0 2.9 0a1.4 1.4 0 1 0 -2.9 0M456.8 250.9a1.4 1.4 0 1 0 2.9 0a1.4 1.4 0 1 0 -2.9 0M460.3 259.4a1.4 1.4 0 1 0 2.9 0a1.4 1.4 0 1 0 -2.9 0M463.9 261.6a1.4 1.4 0 1 0 2.9 0a1.4 1.4 0 1 0 -2.9 0M467.5 259.6a1.4 1.4 0 1 0 2.9 0a1.4 1.4 0 1 0 -2.9 0M471 260.7a1.4 1.4 0 1 0 2.9 0a1.4 1.4 0 1 0 -2.9 0M474.6 260.3a1.4 1.4 0 1 0 2.9 0a1.4 1.4 0 1 0 -2.9 0M478.1 263.5a1.4 1.4 0 1 0 2.9 0a1.4 1.4 0 1 0 -2.9 0M481.7 261.6a1.4 1.4 0 1 0 2.9 0a1.4 1.4 0 1 0 -2.9 0M485.2 260.8a1.4 1.4 0 1 0 2.9 0a1.4 1.4 0 1 0 -2.9 0M488.8 266.6a1.4 1.4 0 1 0 2.9 0a1.4 1.4 0 1 0 -2.9 0M492.4 269.3a1.4 1.4 0 1 0 2.9 0a1.4 1.4 0 1 0 -2.9 0M495.9 266.5a1.4 1.4 0 1 0 2.9 0a1.4 1.4 0 1 0 -2.9 0M499.5 263a1.4 1.4 0 1 0 2.9 0a1.4 1.4 0 1 0 -2.9 0M503 262.6a1.4 1.4 0 1 0 2.9 0a1.4 1.4 0 1 0 -2.9 0M506.6 264.9a1.4 1.4 0 1 0 2.9 0a1.4 1.4 0 1 0 -2.9 0M510.2 270a1.4 1.4 0 1 0 2.9 0a1.4 1.4 0 1 0 -2.9 0M513.7 271.3a1.4 1.4 0 1 0 2.9 0a1.4 1.4 0 1 0 -2.9 0M517.3 272.5a1.4 1.4 0 1 0 2.9 0a1.4 1.4 0 1 0 -2.9 0M520.8 280.1a1.4 1.4 0 1 0 2.9 0a1.4 1.4 0 1 0 -2.9 0" fill="none" stroke="#ff00ff" stroke-width="0.55"/>
<path d="M327.3 283.3 330.1 277.6 333.7 272.1 337.3 265.7 340.8 262 344.4 251.2 347.9 252.5 351.5 254.3 355.1 246.8 358.6 247.9 362.2 242.3 365.7 242.6 369.3 245 372.8 243.6 376.4 245.6 380 246.9 383.5 243.7 387.1 240.5 390.6 241.2 394.2 240.4 397.7 241.8 401.3 239.5 404.9 240.6 408.4 239.3 412 241.1 415.5 237.1 419.1 246.5 422.6 243.1 426.2 243.4 429.8 244.2 433.3 251.8 436.9 252.7 440.4 251.5 444 250.5 447.6 252.1 451.1 260.1 454.7 257.3 458.2 256 461.8 259.9 465.3 263.7 468.9 264.1 472.5 266.8 476 261.9 479.6 266.6 483.1 267.7 486.7 269.5 490.2 268.5 493.8 271 497.4 271.9 500.9 270.4 504.5 271.6 508 270.6 511.6 273.8 515.2 273.6 518.7 279 522.3 280.7" fill="none" stroke="#ff00ff" stroke-width="0.5"/>
<path d="M325.9 283.3a1.4 1.4 0 1 0 2.9 0a1.4 1.4 0 1 0 -2.9 0M328.7 277.6a1.4 1.4 0 1 0 2.9 0a1.4 1.4 0 1 0 -2.9 0M332.3 272.1a1.4 1.4 0 1 0 2.9 0a1.4 1.4 0 1 0 -2.9 0M335.8 265.7a1.4 1.4 0 1 0 2.9 0a1.4 1.4 0 1 0 -2.9 0M339.4 262a1.4 1.4 0 1 0 2.9 0a1.4 1.4 0 1 0 -2.9 0M342.9 251.2a1.4 1.4 0 1 0 2.9 0a1.4 1.4 0 1 0 -2.9 0M346.5 252.5a1.4 1.4 0 1 0 2.9 0a1.4 1.4 0 1 0 -2.9 0M350 254.3a1.4 1.4 0 1 0 2.9 0a1.4 1.4 0 1 0 -2.9 0M353.6 246.8a1.4 1.4 0 1 0 2.9 0a1.4 1.4 0 1 0 -2.9 0M357.2 247.9a1.4 1.4 0 1 0 2.9 0a1.4 1.4 0 1 0 -2.9 0M360.7 242.3a1.4 1.4 0 1 0 2.9 0a1.4 1.4 0 1 0 -2.9 0M364.3 242.6a1.4 1.4 0 1 0 2.9 0a1.4 1.4 0 1 0 -2.9 0M367.8 245a1.4 1.4 0 1 0 2.9 0a1.4 1.4 0 1 0 -2.9 0M371.4 243.6a1.4 1.4 0 1 0 2.9 0a1.4 1.4 0 1 0 -2.9 0M375 245.6a1.4 1.4 0 1 0 2.9 0a1.4 1.4 0 1 0 -2.9 0M378.5 246.9a1.4 1.4 0 1 0 2.9 0a1.4 1.4 0 1 0 -2.9 0M382.1 243.7a1.4 1.4 0 1 0 2.9 0a1.4 1.4 0 1 0 -2.9 0M385.6 240.5a1.4 1.4 0 1 0 2.9 0a1.4 1.4 0 1 0 -2.9 0M389.2 241.2a1.4 1.4 0 1 0 2.9 0a1.4 1.4 0 1 0 -2.9 0M392.7 240.4a1.4 1.4 0 1 0 2.9 0a1.4 1.4 0 1 0 -2.9 0M396.3 241.8a1.4 1.4 0 1 0 2.9 0a1.4 1.4 0 1 0 -2.9 0M399.9 239.5a1.4 1.4 0 1 0 2.9 0a1.4 1.4 0 1 0 -2.9 0M403.4 240.6a1.4 1.4 0 1 0 2.9 0a1.4 1.4 0 1 0 -2.9 0M407 239.3a1.4 1.4 0 1 0 2.9 0a1.4 1.4 0 1 0 -2.9 0M410.5 241.1a1.4 1.4 0 1 0 2.9 0a1.4 1.4 0 1 0 -2.9 0M414.1 237.1a1.4 1.4 0 1 0 2.9 0a1.4 1.4 0 1 0 -2.9 0M417.6 246.5a1.4 1.4 0 1 0 2.9 0a1.4 1.4 0 1 0 -2.9 0M421.2 243.1a1.4 1.4 0 1 0 2.9 0a1.4 1.4 0 1 0 -2.9 0M424.8 243.4a1.4 1.4 0 1 0 2.9 0a1.4 1.4 0 1 0 -2.9 0M428.3 244.2a1.4 1.4 0 1 0 2.9 0a1.4 1.4 0 1 0 -2.9 0M431.9 251.8a1.4 1.4 0 1 0 2.9 0a1.4 1.4 0 1 0 -2.9 0M435.4 252.7a1.4 1.4 0 1 0 2.9 0a1.4 1.4 0 1 0 -2.9 0M439 251.5a1.4 1.4 0 1 0 2.9 0a1.4 1.4 0 1 0 -2.9 0M442.6 250.5a1.4 1.4 0 1 0 2.9 0a1.4 1.4 0 1 0 -2.9 0M446.1 252.1a1.4 1.4 0 1 0 2.9 0a1.4 1.4 0 1 0 -2.9 0M449.7 260.1a1.4 1.4 0 1 0 2.9 0a1.4 1.4 0 1 0 -2.9 0M453.2 257.3a1.4 1.4 0 1 0 2.9 0a1.4 1.4 0 1 0 -2.9 0M456.8 256a1.4 1.4 0 1 0 2.9 0a1.4 1.4 0 1 0 -2.9 0M460.3 259.9a1.4 1.4 0 1 0 2.9 0a1.4 1.4 0 1 0 -2.9 0M463.9 263.7a1.4 1.4 0 1 0 2.9 0a1.4 1.4 0 1 0 -2.9 0M467.5 264.1a1.4 1.4 0 1 0 2.9 0a1.4 1.4 0 1 0 -2.9 0M471 266.8a1.4 1.4 0 1 0 2.9 0a1.4 1.4 0 1 0 -2.9 0M474.6 261.9a1.4 1.4 0 1 0 2.9 0a1.4 1.4 0 1 0 -2.9 0M478.1 266.6a1.4 1.4 0 1 0 2.9 0a1.4 1.4 0 1 0 -2.9 0M481.7 267.7a1.4 1.4 0 1 0 2.9 0a1.4 1.4 0 1 0 -2.9 0M485.2 269.5a1.4 1.4 0 1 0 2.9 0a1.4 1.4 0 1 0 -2.9 0M488.8 268.5a1.4 1.4 0 1 0 2.9 0a1.4 1.4 0 1 0 -2.9 0M492.4 271a1.4 1.4 0 1 0 2.9 0a1.4 1.4 0 1 0 -2.9 0M495.9 271.9a1.4 1.4 0 1 0 2.9 0a1.4 1.4 0 1 0 -2.9 0M499.5 270.4a1.4 1.4 0 1 0 2.9 0a1.4 1.4 0 1 0 -2.9 0M503 271.6a1.4 1.4 0 1 0 2.9 0a1.4 1.4 0 1 0 -2.9 0M506.6 270.6a1.4 1.4 0 1 0 2.9 0a1.4 1.4 0 1 0 -2.9 0M510.2 273.8a1.4 1.4 0 1 0 2.9 0a1.4 1.4 0 1 0 -2.9 0M513.7 273.6a1.4 1.4 0 1 0 2.9 0a1.4 1.4 0 1 0 -2.9 0M517.3 279a1.4 1.4 0 1 0 2.9 0a1.4 1.4 0 1 0 -2.9 0M520.8 280.7a1.4 1.4 0 1 0 2.9 0a1.4 1.4 0 1 0 -2.9 0" fill="none" stroke="#ff00ff" stroke-width="0.55"/>
<path d="M323 283.3 323 283.3 326.6 275.9 330.1 265 333.7 260.3 337.3 264.5 340.8 261.7 344.4 267.3 347.9 273.9 351.5 274 355.1 277.7 358.6 275.6 362.2 276.8 365.7 270.2 369.3 272.1 372.8 270.8 376.4 270.4 380 269.5 383.5 262.6 387.1 262.1 390.6 257.3 394.2 257 397.7 258.6 401.3 257.1 404.9 256.3 408.4 255.6 412 259.9 415.5 256 419.1 259.8 422.6 259.1 426.2 267.6 429.8 269 433.3 265.7 436.9 271.3 440.4 271.6 444 271.7 447.6 280 451.1 277.3 454.7 273 458.2 275.1 461.8 276 465.3 274.2 468.9 276.2 472.5 275.1 476 274.6 479.6 279 483.1 275.8 486.7 275.3 490.2 273 493.8 271.6 497.4 277.2 500.9 272.7 504.5 274.4 508 280.1 511.6 279.6 515.2 283.3 518.7 282.5 522.3 282.4" fill="none" stroke="#ff00ff" stroke-width="0.5"/>
<path d="M321.6 283.3a1.4 1.4 0 1 0 2.9 0a1.4 1.4 0 1 0 -2.9 0M321.6 283.3a1.4 1.4 0 1 0 2.9 0a1.4 1.4 0 1 0 -2.9 0M325.1 275.9a1.4 1.4 0 1 0 2.9 0a1.4 1.4 0 1 0 -2.9 0M328.7 265a1.4 1.4 0 1 0 2.9 0a1.4 1.4 0 1 0 -2.9 0M332.3 260.3a1.4 1.4 0 1 0 2.9 0a1.4 1.4 0 1 0 -2.9 0M335.8 264.5a1.4 1.4 0 1 0 2.9 0a1.4 1.4 0 1 0 -2.9 0M339.4 261.7a1.4 1.4 0 1 0 2.9 0a1.4 1.4 0 1 0 -2.9 0M342.9 267.3a1.4 1.4 0 1 0 2.9 0a1.4 1.4 0 1 0 -2.9 0M346.5 273.9a1.4 1.4 0 1 0 2.9 0a1.4 1.4 0 1 0 -2.9 0M350 274a1.4 1.4 0 1 0 2.9 0a1.4 1.4 0 1 0 -2.9 0M353.6 277.7a1.4 1.4 0 1 0 2.9 0a1.4 1.4 0 1 0 -2.9 0M357.2 275.6a1.4 1.4 0 1 0 2.9 0a1.4 1.4 0 1 0 -2.9 0M360.7 276.8a1.4 1.4 0 1 0 2.9 0a1.4 1.4 0 1 0 -2.9 0M364.3 270.2a1.4 1.4 0 1 0 2.9 0a1.4 1.4 0 1 0 -2.9 0M367.8 272.1a1.4 1.4 0 1 0 2.9 0a1.4 1.4 0 1 0 -2.9 0M371.4 270.8a1.4 1.4 0 1 0 2.9 0a1.4 1.4 0 1 0 -2.9 0M375 270.4a1.4 1.4 0 1 0 2.9 0a1.4 1.4 0 1 0 -2.9 0M378.5 269.5a1.4 1.4 0 1 0 2.9 0a1.4 1.4 0 1 0 -2.9 0M382.1 262.6a1.4 1.4 0 1 0 2.9 0a1.4 1.4 0 1 0 -2.9 0M385.6 262.1a1.4 1.4 0 1 0 2.9 0a1.4 1.4 0 1 0 -2.9 0M389.2 257.3a1.4 1.4 0 1 0 2.9 0a1.4 1.4 0 1 0 -2.9 0M392.7 257a1.4 1.4 0 1 0 2.9 0a1.4 1.4 0 1 0 -2.9 0M396.3 258.6a1.4 1.4 0 1 0 2.9 0a1.4 1.4 0 1 0 -2.9 0M399.9 257.1a1.4 1.4 0 1 0 2.9 0a1.4 1.4 0 1 0 -2.9 0M403.4 256.3a1.4 1.4 0 1 0 2.9 0a1.4 1.4 0 1 0 -2.9 0M407 255.6a1.4 1.4 0 1 0 2.9 0a1.4 1.4 0 1 0 -2.9 0M410.5 259.9a1.4 1.4 0 1 0 2.9 0a1.4 1.4 0 1 0 -2.9 0M414.1 256a1.4 1.4 0 1 0 2.9 0a1.4 1.4 0 1 0 -2.9 0M417.6 259.8a1.4 1.4 0 1 0 2.9 0a1.4 1.4 0 1 0 -2.9 0M421.2 259.1a1.4 1.4 0 1 0 2.9 0a1.4 1.4 0 1 0 -2.9 0M424.8 267.6a1.4 1.4 0 1 0 2.9 0a1.4 1.4 0 1 0 -2.9 0M428.3 269a1.4 1.4 0 1 0 2.9 0a1.4 1.4 0 1 0 -2.9 0M431.9 265.7a1.4 1.4 0 1 0 2.9 0a1.4 1.4 0 1 0 -2.9 0M435.4 271.3a1.4 1.4 0 1 0 2.9 0a1.4 1.4 0 1 0 -2.9 0M439 271.6a1.4 1.4 0 1 0 2.9 0a1.4 1.4 0 1 0 -2.9 0M442.6 271.7a1.4 1.4 0 1 0 2.9 0a1.4 1.4 0 1 0 -2.9 0M446.1 280a1.4 1.4 0 1 0 2.9 0a1.4 1.4 0 1 0 -2.9 0M449.7 277.3a1.4 1.4 0 1 0 2.9 0a1.4 1.4 0 1 0 -2.9 0M453.2 273a1.4 1.4 0 1 0 2.9 0a1.4 1.4 0 1 0 -2.9 0M456.8 275.1a1.4 1.4 0 1 0 2.9 0a1.4 1.4 0 1 0 -2.9 0M460.3 276a1.4 1.4 0 1 0 2.9 0a1.4 1.4 0 1 0 -2.9 0M463.9 274.2a1.4 1.4 0 1 0 2.9 0a1.4 1.4 0 1 0 -2.9 0M467.5 276.2a1.4 1.4 0 1 0 2.9 0a1.4 1.4 0 1 0 -2.9 0M471 275.1a1.4 1.4 0 1 0 2.9 0a1.4 1.4 0 1 0 -2.9 0M474.6 274.6a1.4 1.4 0 1 0 2.9 0a1.4 1.4 0 1 0 -2.9 0M478.1 279a1.4 1.4 0 1 0 2.9 0a1.4 1.4 0 1 0 -2.9 0M481.7 275.8a1.4 1.4 0 1 0 2.9 0a1.4 1.4 0 1 0 -2.9 0M485.2 275.3a1.4 1.4 0 1 0 2.9 0a1.4 1.4 0 1 0 -2.9 0M488.8 273a1.4 1.4 0 1 0 2.9 0a1.4 1.4 0 1 0 -2.9 0M492.4 271.6a1.4 1.4 0 1 0 2.9 0a1.4 1.4 0 1 0 -2.9 0M495.9 277.2a1.4 1.4 0 1 0 2.9 0a1.4 1.4 0 1 0 -2.9 0M499.5 272.7a1.4 1.4 0 1 0 2.9 0a1.4 1.4 0 1 0 -2.9 0M503 274.4a1.4 1.4 0 1 0 2.9 0a1.4 1.4 0 1 0 -2.9 0M506.6 280.1a1.4 1.4 0 1 0 2.9 0a1.4 1.4 0 1 0 -2.9 0M510.2 279.6a1.4 1.4 0 1 0 2.9 0a1.4 1.4 0 1 0 -2.9 0M513.7 283.3a1.4 1.4 0 1 0 2.9 0a1.4 1.4 0 1 0 -2.9 0M517.3 282.5a1.4 1.4 0 1 0 2.9 0a1.4 1.4 0 1 0 -2.9 0M520.8 282.4a1.4 1.4 0 1 0 2.9 0a1.4 1.4 0 1 0 -2.9 0" fill="none" stroke="#ff00ff" stroke-width="0.55"/>
<path d="M323 283.3 323 283.3 326.6 279.1 330.1 275.2 333.7 270.5 337.3 265.9 340.8 261.9 344.4 253.1 347.9 250.2 351.5 246.9 355.1 240.2 358.6 241.5 362.2 235.6 365.7 238.4 369.3 232.5 372.8 237.4 376.4 239.1 380 236.3 383.5 238.8 387.1 236.5 390.6 231.7 394.2 231.8 397.7 228.9 401.3 228.8 404.9 227.8 408.4 227.4 412 227.4 415.5 230.6 419.1 229.4 422.6 231.2 426.2 241.1 429.8 243.4 433.3 238.3 436.9 246 440.4 246.2 444 248.6 447.6 249.3 451.1 246.3 454.7 254.8 458.2 254.4 461.8 255.9 465.3 260 468.9 260.7 472.5 260.4 476 261 479.6 261.2 483.1 267.8 486.7 267.8 490.2 261.1 493.8 266.4 497.4 265.4 500.9 269.9 504.5 272 508 266.6 511.6 276.6 515.2 277.7 518.7 275.8 522.3 279.3" fill="none" stroke="#ff00ff" stroke-width="0.5"/>
<path d="M321.6 283.3a1.4 1.4 0 1 0 2.9 0a1.4 1.4 0 1 0 -2.9 0M321.6 283.3a1.4 1.4 0 1 0 2.9 0a1.4 1.4 0 1 0 -2.9 0M325.1 279.1a1.4 1.4 0 1 0 2.9 0a1.4 1.4 0 1 0 -2.9 0M328.7 275.2a1.4 1.4 0 1 0 2.9 0a1.4 1.4 0 1 0 -2.9 0M332.3 270.5a1.4 1.4 0 1 0 2.9 0a1.4 1.4 0 1 0 -2.9 0M335.8 265.9a1.4 1.4 0 1 0 2.9 0a1.4 1.4 0 1 0 -2.9 0M339.4 261.9a1.4 1.4 0 1 0 2.9 0a1.4 1.4 0 1 0 -2.9 0M342.9 253.1a1.4 1.4 0 1 0 2.9 0a1.4 1.4 0 1 0 -2.9 0M346.5 250.2a1.4 1.4 0 1 0 2.9 0a1.4 1.4 0 1 0 -2.9 0M350 246.9a1.4 1.4 0 1 0 2.9 0a1.4 1.4 0 1 0 -2.9 0M353.6 240.2a1.4 1.4 0 1 0 2.9 0a1.4 1.4 0 1 0 -2.9 0M357.2 241.5a1.4 1.4 0 1 0 2.9 0a1.4 1.4 0 1 0 -2.9 0M360.7 235.6a1.4 1.4 0 1 0 2.9 0a1.4 1.4 0 1 0 -2.9 0M364.3 238.4a1.4 1.4 0 1 0 2.9 0a1.4 1.4 0 1 0 -2.9 0M367.8 232.5a1.4 1.4 0 1 0 2.9 0a1.4 1.4 0 1 0 -2.9 0M371.4 237.4a1.4 1.4 0 1 0 2.9 0a1.4 1.4 0 1 0 -2.9 0M375 239.1a1.4 1.4 0 1 0 2.9 0a1.4 1.4 0 1 0 -2.9 0M378.5 236.3a1.4 1.4 0 1 0 2.9 0a1.4 1.4 0 1 0 -2.9 0M382.1 238.8a1.4 1.4 0 1 0 2.9 0a1.4 1.4 0 1 0 -2.9 0M385.6 236.5a1.4 1.4 0 1 0 2.9 0a1.4 1.4 0 1 0 -2.9 0M389.2 231.7a1.4 1.4 0 1 0 2.9 0a1.4 1.4 0 1 0 -2.9 0M392.7 231.8a1.4 1.4 0 1 0 2.9 0a1.4 1.4 0 1 0 -2.9 0M396.3 228.9a1.4 1.4 0 1 0 2.9 0a1.4 1.4 0 1 0 -2.9 0M399.9 228.8a1.4 1.4 0 1 0 2.9 0a1.4 1.4 0 1 0 -2.9 0M403.4 227.8a1.4 1.4 0 1 0 2.9 0a1.4 1.4 0 1 0 -2.9 0M407 227.4a1.4 1.4 0 1 0 2.9 0a1.4 1.4 0 1 0 -2.9 0M410.5 227.4a1.4 1.4 0 1 0 2.9 0a1.4 1.4 0 1 0 -2.9 0M414.1 230.6a1.4 1.4 0 1 0 2.9 0a1.4 1.4 0 1 0 -2.9 0M417.6 229.4a1.4 1.4 0 1 0 2.9 0a1.4 1.4 0 1 0 -2.9 0M421.2 231.2a1.4 1.4 0 1 0 2.9 0a1.4 1.4 0 1 0 -2.9 0M424.8 241.1a1.4 1.4 0 1 0 2.9 0a1.4 1.4 0 1 0 -2.9 0M428.3 243.4a1.4 1.4 0 1 0 2.9 0a1.4 1.4 0 1 0 -2.9 0M431.9 238.3a1.4 1.4 0 1 0 2.9 0a1.4 1.4 0 1 0 -2.9 0M435.4 246a1.4 1.4 0 1 0 2.9 0a1.4 1.4 0 1 0 -2.9 0M439 246.2a1.4 1.4 0 1 0 2.9 0a1.4 1.4 0 1 0 -2.9 0M442.6 248.6a1.4 1.4 0 1 0 2.9 0a1.4 1.4 0 1 0 -2.9 0M446.1 249.3a1.4 1.4 0 1 0 2.9 0a1.4 1.4 0 1 0 -2.9 0M449.7 246.3a1.4 1.4 0 1 0 2.9 0a1.4 1.4 0 1 0 -2.9 0M453.2 254.8a1.4 1.4 0 1 0 2.9 0a1.4 1.4 0 1 0 -2.9 0M456.8 254.4a1.4 1.4 0 1 0 2.9 0a1.4 1.4 0 1 0 -2.9 0M460.3 255.9a1.4 1.4 0 1 0 2.9 0a1.4 1.4 0 1 0 -2.9 0M463.9 260a1.4 1.4 0 1 0 2.9 0a1.4 1.4 0 1 0 -2.9 0M467.5 260.7a1.4 1.4 0 1 0 2.9 0a1.4 1.4 0 1 0 -2.9 0M471 260.4a1.4 1.4 0 1 0 2.9 0a1.4 1.4 0 1 0 -2.9 0M474.6 261a1.4 1.4 0 1 0 2.9 0a1.4 1.4 0 1 0 -2.9 0M478.1 261.2a1.4 1.4 0 1 0 2.9 0a1.4 1.4 0 1 0 -2.9 0M481.7 267.8a1.4 1.4 0 1 0 2.9 0a1.4 1.4 0 1 0 -2.9 0M485.2 267.8a1.4 1.4 0 1 0 2.9 0a1.4 1.4 0 1 0 -2.9 0M488.8 261.1a1.4 1.4 0 1 0 2.9 0a1.4 1.4 0 1 0 -2.9 0M492.4 266.4a1.4 1.4 0 1 0 2.9 0a1.4 1.4 0 1 0 -2.9 0M495.9 265.4a1.4 1.4 0 1 0 2.9 0a1.4 1.4 0 1 0 -2.9 0M499.5 269.9a1.4 1.4 0 1 0 2.9 0a1.4 1.4 0 1 0 -2.9 0M503 272a1.4 1.4 0 1 0 2.9 0a1.4 1.4 0 1 0 -2.9 0M506.6 266.6a1.4 1.4 0 1 0 2.9 0a1.4 1.4 0 1 0 -2.9 0M510.2 276.6a1.4 1.4 0 1 0 2.9 0a1.4 1.4 0 1 0 -2.9 0M513.7 277.7a1.4 1.4 0 1 0 2.9 0a1.4 1.4 0 1 0 -2.9 0M517.3 275.8a1.4 1.4 0 1 0 2.9 0a1.4 1.4 0 1 0 -2.9 0M520.8 279.3a1.4 1.4 0 1 0 2.9 0a1.4 1.4 0 1 0 -2.9 0" fill="none" stroke="#ff00ff" stroke-width="0.55"/>
<path d="M325.9 283.3 326.6 282.8 330.1 278.3 333.7 272.9 337.3 273.9 340.8 267.6 344.4 260.3 347.9 260 351.5 272.5 355.1 271 358.6 271.7 362.2 270.1 365.7 266.3 369.3 263.4 372.8 259 376.4 260.9 380 254.3 383.5 252.8 387.1 251 390.6 247.7 394.2 251 397.7 249.1 401.3 245.9 404.9 244.5 408.4 244.6 412 248.9 415.5 249.9 419.1 252.9 422.6 251.7 426.2 255 429.8 256.2 433.3 258.1 436.9 257.3 440.4 259.6 444 264.2 447.6 269.2 451.1 269 454.7 269 458.2 269.2 461.8 271.9 465.3 271.7 468.9 274.7 472.5 271.1 476 270.4 479.6 272.6 483.1 272.1 486.7 265.9 490.2 269.8 493.8 264.3 497.4 267.4 500.9 268.3 504.5 268.8 508 269.9 511.6 271.3 515.2 269.4 518.7 272.6 522.3 278.8" fill="none" stroke="#ff00ff" stroke-width="0.5"/>
<path d="M324.4 283.3a1.4 1.4 0 1 0 2.9 0a1.4 1.4 0 1 0 -2.9 0M325.1 282.8a1.4 1.4 0 1 0 2.9 0a1.4 1.4 0 1 0 -2.9 0M328.7 278.3a1.4 1.4 0 1 0 2.9 0a1.4 1.4 0 1 0 -2.9 0M332.3 272.9a1.4 1.4 0 1 0 2.9 0a1.4 1.4 0 1 0 -2.9 0M335.8 273.9a1.4 1.4 0 1 0 2.9 0a1.4 1.4 0 1 0 -2.9 0M339.4 267.6a1.4 1.4 0 1 0 2.9 0a1.4 1.4 0 1 0 -2.9 0M342.9 260.3a1.4 1.4 0 1 0 2.9 0a1.4 1.4 0 1 0 -2.9 0M346.5 260a1.4 1.4 0 1 0 2.9 0a1.4 1.4 0 1 0 -2.9 0M350 272.5a1.4 1.4 0 1 0 2.9 0a1.4 1.4 0 1 0 -2.9 0M353.6 271a1.4 1.4 0 1 0 2.9 0a1.4 1.4 0 1 0 -2.9 0M357.2 271.7a1.4 1.4 0 1 0 2.9 0a1.4 1.4 0 1 0 -2.9 0M360.7 270.1a1.4 1.4 0 1 0 2.9 0a1.4 1.4 0 1 0 -2.9 0M364.3 266.3a1.4 1.4 0 1 0 2.9 0a1.4 1.4 0 1 0 -2.9 0M367.8 263.4a1.4 1.4 0 1 0 2.9 0a1.4 1.4 0 1 0 -2.9 0M371.4 259a1.4 1.4 0 1 0 2.9 0a1.4 1.4 0 1 0 -2.9 0M375 260.9a1.4 1.4 0 1 0 2.9 0a1.4 1.4 0 1 0 -2.9 0M378.5 254.3a1.4 1.4 0 1 0 2.9 0a1.4 1.4 0 1 0 -2.9 0M382.1 252.8a1.4 1.4 0 1 0 2.9 0a1.4 1.4 0 1 0 -2.9 0M385.6 251a1.4 1.4 0 1 0 2.9 0a1.4 1.4 0 1 0 -2.9 0M389.2 247.7a1.4 1.4 0 1 0 2.9 0a1.4 1.4 0 1 0 -2.9 0M392.7 251a1.4 1.4 0 1 0 2.9 0a1.4 1.4 0 1 0 -2.9 0M396.3 249.1a1.4 1.4 0 1 0 2.9 0a1.4 1.4 0 1 0 -2.9 0M399.9 245.9a1.4 1.4 0 1 0 2.9 0a1.4 1.4 0 1 0 -2.9 0M403.4 244.5a1.4 1.4 0 1 0 2.9 0a1.4 1.4 0 1 0 -2.9 0M407 244.6a1.4 1.4 0 1 0 2.9 0a1.4 1.4 0 1 0 -2.9 0M410.5 248.9a1.4 1.4 0 1 0 2.9 0a1.4 1.4 0 1 0 -2.9 0M414.1 249.9a1.4 1.4 0 1 0 2.9 0a1.4 1.4 0 1 0 -2.9 0M417.6 252.9a1.4 1.4 0 1 0 2.9 0a1.4 1.4 0 1 0 -2.9 0M421.2 251.7a1.4 1.4 0 1 0 2.9 0a1.4 1.4 0 1 0 -2.9 0M424.8 255a1.4 1.4 0 1 0 2.9 0a1.4 1.4 0 1 0 -2.9 0M428.3 256.2a1.4 1.4 0 1 0 2.9 0a1.4 1.4 0 1 0 -2.9 0M431.9 258.1a1.4 1.4 0 1 0 2.9 0a1.4 1.4 0 1 0 -2.9 0M435.4 257.3a1.4 1.4 0 1 0 2.9 0a1.4 1.4 0 1 0 -2.9 0M439 259.6a1.4 1.4 0 1 0 2.9 0a1.4 1.4 0 1 0 -2.9 0M442.6 264.2a1.4 1.4 0 1 0 2.9 0a1.4 1.4 0 1 0 -2.9 0M446.1 269.2a1.4 1.4 0 1 0 2.9 0a1.4 1.4 0 1 0 -2.9 0M449.7 269a1.4 1.4 0 1 0 2.9 0a1.4 1.4 0 1 0 -2.9 0M453.2 269a1.4 1.4 0 1 0 2.9 0a1.4 1.4 0 1 0 -2.9 0M456.8 269.2a1.4 1.4 0 1 0 2.9 0a1.4 1.4 0 1 0 -2.9 0M460.3 271.9a1.4 1.4 0 1 0 2.9 0a1.4 1.4 0 1 0 -2.9 0M463.9 271.7a1.4 1.4 0 1 0 2.9 0a1.4 1.4 0 1 0 -2.9 0M467.5 274.7a1.4 1.4 0 1 0 2.9 0a1.4 1.4 0 1 0 -2.9 0M471 271.1a1.4 1.4 0 1 0 2.9 0a1.4 1.4 0 1 0 -2.9 0M474.6 270.4a1.4 1.4 0 1 0 2.9 0a1.4 1.4 0 1 0 -2.9 0M478.1 272.6a1.4 1.4 0 1 0 2.9 0a1.4 1.4 0 1 0 -2.9 0M481.7 272.1a1.4 1.4 0 1 0 2.9 0a1.4 1.4 0 1 0 -2.9 0M485.2 265.9a1.4 1.4 0 1 0 2.9 0a1.4 1.4 0 1 0 -2.9 0M488.8 269.8a1.4 1.4 0 1 0 2.9 0a1.4 1.4 0 1 0 -2.9 0M492.4 264.3a1.4 1.4 0 1 0 2.9 0a1.4 1.4 0 1 0 -2.9 0M495.9 267.4a1.4 1.4 0 1 0 2.9 0a1.4 1.4 0 1 0 -2.9 0M499.5 268.3a1.4 1.4 0 1 0 2.9 0a1.4 1.4 0 1 0 -2.9 0M503 268.8a1.4 1.4 0 1 0 2.9 0a1.4 1.4 0 1 0 -2.9 0M506.6 269.9a1.4 1.4 0 1 0 2.9 0a1.4 1.4 0 1 0 -2.9 0M510.2 271.3a1.4 1.4 0 1 0 2.9 0a1.4 1.4 0 1 0 -2.9 0M513.7 269.4a1.4 1.4 0 1 0 2.9 0a1.4 1.4 0 1 0 -2.9 0M517.3 272.6a1.4 1.4 0 1 0 2.9 0a1.4 1.4 0 1 0 -2.9 0M520.8 278.8a1.4 1.4 0 1 0 2.9 0a1.4 1.4 0 1 0 -2.9 0" fill="none" stroke="#ff00ff" stroke-width="0.55"/>
<path d="M324.5 283.3 326.6 279.1 330.1 271.4 333.7 266.9 337.3 254.9 340.8 255.5 344.4 250.5 347.9 250.6 351.5 247.3 355.1 243.4 358.6 238.8 362.2 234.2 365.7 236.8 369.3 233.3 372.8 235.7 376.4 236.4 380 233.1 383.5 235.2 387.1 239 390.6 235.7 394.2 233.8 397.7 238 401.3 241.1 404.9 240.9 408.4 242.8 412 241.2 415.5 243.7 419.1 242.5 422.6 242.6 426.2 241.8 429.8 249.6 433.3 253.7 436.9 246.8 440.4 251.6 444 255.4 447.6 254.6 451.1 259.3 454.7 259.2 458.2 258 461.8 261.6 465.3 261.9 468.9 260.6 472.5 260.9 476 261.3 479.6 259 483.1 256.6 486.7 256.3 490.2 262.5 493.8 259.7 497.4 267.2 500.9 267.2 504.5 263.9 508 264.7 511.6 265.8 515.2 276.3 518.7 272.7 522.3 279.7" fill="none" stroke="#ff00ff" stroke-width="0.5"/>
<path d="M323 283.3a1.4 1.4 0 1 0 2.9 0a1.4 1.4 0 1 0 -2.9 0M325.1 279.1a1.4 1.4 0 1 0 2.9 0a1.4 1.4 0 1 0 -2.9 0M328.7 271.4a1.4 1.4 0 1 0 2.9 0a1.4 1.4 0 1 0 -2.9 0M332.3 266.9a1.4 1.4 0 1 0 2.9 0a1.4 1.4 0 1 0 -2.9 0M335.8 254.9a1.4 1.4 0 1 0 2.9 0a1.4 1.4 0 1 0 -2.9 0M339.4 255.5a1.4 1.4 0 1 0 2.9 0a1.4 1.4 0 1 0 -2.9 0M342.9 250.5a1.4 1.4 0 1 0 2.9 0a1.4 1.4 0 1 0 -2.9 0M346.5 250.6a1.4 1.4 0 1 0 2.9 0a1.4 1.4 0 1 0 -2.9 0M350 247.3a1.4 1.4 0 1 0 2.9 0a1.4 1.4 0 1 0 -2.9 0M353.6 243.4a1.4 1.4 0 1 0 2.9 0a1.4 1.4 0 1 0 -2.9 0M357.2 238.8a1.4 1.4 0 1 0 2.9 0a1.4 1.4 0 1 0 -2.9 0M360.7 234.2a1.4 1.4 0 1 0 2.9 0a1.4 1.4 0 1 0 -2.9 0M364.3 236.8a1.4 1.4 0 1 0 2.9 0a1.4 1.4 0 1 0 -2.9 0M367.8 233.3a1.4 1.4 0 1 0 2.9 0a1.4 1.4 0 1 0 -2.9 0M371.4 235.7a1.4 1.4 0 1 0 2.9 0a1.4 1.4 0 1 0 -2.9 0M375 236.4a1.4 1.4 0 1 0 2.9 0a1.4 1.4 0 1 0 -2.9 0M378.5 233.1a1.4 1.4 0 1 0 2.9 0a1.4 1.4 0 1 0 -2.9 0M382.1 235.2a1.4 1.4 0 1 0 2.9 0a1.4 1.4 0 1 0 -2.9 0M385.6 239a1.4 1.4 0 1 0 2.9 0a1.4 1.4 0 1 0 -2.9 0M389.2 235.7a1.4 1.4 0 1 0 2.9 0a1.4 1.4 0 1 0 -2.9 0M392.7 233.8a1.4 1.4 0 1 0 2.9 0a1.4 1.4 0 1 0 -2.9 0M396.3 238a1.4 1.4 0 1 0 2.9 0a1.4 1.4 0 1 0 -2.9 0M399.9 241.1a1.4 1.4 0 1 0 2.9 0a1.4 1.4 0 1 0 -2.9 0M403.4 240.9a1.4 1.4 0 1 0 2.9 0a1.4 1.4 0 1 0 -2.9 0M407 242.8a1.4 1.4 0 1 0 2.9 0a1.4 1.4 0 1 0 -2.9 0M410.5 241.2a1.4 1.4 0 1 0 2.9 0a1.4 1.4 0 1 0 -2.9 0M414.1 243.7a1.4 1.4 0 1 0 2.9 0a1.4 1.4 0 1 0 -2.9 0M417.6 242.5a1.4 1.4 0 1 0 2.9 0a1.4 1.4 0 1 0 -2.9 0M421.2 242.6a1.4 1.4 0 1 0 2.9 0a1.4 1.4 0 1 0 -2.9 0M424.8 241.8a1.4 1.4 0 1 0 2.9 0a1.4 1.4 0 1 0 -2.9 0M428.3 249.6a1.4 1.4 0 1 0 2.9 0a1.4 1.4 0 1 0 -2.9 0M431.9 253.7a1.4 1.4 0 1 0 2.9 0a1.4 1.4 0 1 0 -2.9 0M435.4 246.8a1.4 1.4 0 1 0 2.9 0a1.4 1.4 0 1 0 -2.9 0M439 251.6a1.4 1.4 0 1 0 2.9 0a1.4 1.4 0 1 0 -2.9 0M442.6 255.4a1.4 1.4 0 1 0 2.9 0a1.4 1.4 0 1 0 -2.9 0M446.1 254.6a1.4 1.4 0 1 0 2.9 0a1.4 1.4 0 1 0 -2.9 0M449.7 259.3a1.4 1.4 0 1 0 2.9 0a1.4 1.4 0 1 0 -2.9 0M453.2 259.2a1.4 1.4 0 1 0 2.9 0a1.4 1.4 0 1 0 -2.9 0M456.8 258a1.4 1.4 0 1 0 2.9 0a1.4 1.4 0 1 0 -2.9 0M460.3 261.6a1.4 1.4 0 1 0 2.9 0a1.4 1.4 0 1 0 -2.9 0M463.9 261.9a1.4 1.4 0 1 0 2.9 0a1.4 1.4 0 1 0 -2.9 0M467.5 260.6a1.4 1.4 0 1 0 2.9 0a1.4 1.4 0 1 0 -2.9 0M471 260.9a1.4 1.4 0 1 0 2.9 0a1.4 1.4 0 1 0 -2.9 0M474.6 261.3a1.4 1.4 0 1 0 2.9 0a1.4 1.4 0 1 0 -2.9 0M478.1 259a1.4 1.4 0 1 0 2.9 0a1.4 1.4 0 1 0 -2.9 0M481.7 256.6a1.4 1.4 0 1 0 2.9 0a1.4 1.4 0 1 0 -2.9 0M485.2 256.3a1.4 1.4 0 1 0 2.9 0a1.4 1.4 0 1 0 -2.9 0M488.8 262.5a1.4 1.4 0 1 0 2.9 0a1.4 1.4 0 1 0 -2.9 0M492.4 259.7a1.4 1.4 0 1 0 2.9 0a1.4 1.4 0 1 0 -2.9 0M495.9 267.2a1.4 1.4 0 1 0 2.9 0a1.4 1.4 0 1 0 -2.9 0M499.5 267.2a1.4 1.4 0 1 0 2.9 0a1.4 1.4 0 1 0 -2.9 0M503 263.9a1.4 1.4 0 1 0 2.9 0a1.4 1.4 0 1 0 -2.9 0M506.6 264.7a1.4 1.4 0 1 0 2.9 0a1.4 1.4 0 1 0 -2.9 0M510.2 265.8a1.4 1.4 0 1 0 2.9 0a1.4 1.4 0 1 0 -2.9 0M513.7 276.3a1.4 1.4 0 1 0 2.9 0a1.4 1.4 0 1 0 -2.9 0M517.3 272.7a1.4 1.4 0 1 0 2.9 0a1.4 1.4 0 1 0 -2.9 0M520.8 279.7a1.4 1.4 0 1 0 2.9 0a1.4 1.4 0 1 0 -2.9 0" fill="none" stroke="#ff00ff" stroke-width="0.55"/>
<path d="M328.7 283.3 330.1 282.3 333.7 278.5 337.3 273.2 340.8 276.2 344.4 279.5 347.9 278.4 351.5 278.7 355.1 278 358.6 282.3 362.2 280.1 365.7 276.8 369.3 276.3 372.8 272.6 376.4 278.3 380 271.9 383.5 268.3 387.1 259.5 390.6 259.1 394.2 258.2 397.7 253.8 401.3 251.2 404.9 253.7 408.4 259.6 412 257.9 415.5 255.6 419.1 263.6 422.6 263.2 426.2 263.4 429.8 263.3 433.3 268.7 436.9 268.5 440.4 271.2 444 271.9 447.6 277.5 451.1 281.8 454.7 280 458.2 272.8 461.8 269.2 465.3 268.7 468.9 274.6 472.5 275.9 476 273.4 479.6 275.9 483.1 276.9 486.7 272.7 490.2 272 493.8 269.2 497.4 268.7 500.9 269.9 504.5 270.6 508 270.5 511.6 274.2 515.2 277.1 518.7 279.1 522.3 277.5" fill="none" stroke="#ff00ff" stroke-width="0.5"/>
<path d="M327.3 283.3a1.4 1.4 0 1 0 2.9 0a1.4 1.4 0 1 0 -2.9 0M328.7 282.3a1.4 1.4 0 1 0 2.9 0a1.4 1.4 0 1 0 -2.9 0M332.3 278.5a1.4 1.4 0 1 0 2.9 0a1.4 1.4 0 1 0 -2.9 0M335.8 273.2a1.4 1.4 0 1 0 2.9 0a1.4 1.4 0 1 0 -2.9 0M339.4 276.2a1.4 1.4 0 1 0 2.9 0a1.4 1.4 0 1 0 -2.9 0M342.9 279.5a1.4 1.4 0 1 0 2.9 0a1.4 1.4 0 1 0 -2.9 0M346.5 278.4a1.4 1.4 0 1 0 2.9 0a1.4 1.4 0 1 0 -2.9 0M350 278.7a1.4 1.4 0 1 0 2.9 0a1.4 1.4 0 1 0 -2.9 0M353.6 278a1.4 1.4 0 1 0 2.9 0a1.4 1.4 0 1 0 -2.9 0M357.2 282.3a1.4 1.4 0 1 0 2.9 0a1.4 1.4 0 1 0 -2.9 0M360.7 280.1a1.4 1.4 0 1 0 2.9 0a1.4 1.4 0 1 0 -2.9 0M364.3 276.8a1.4 1.4 0 1 0 2.9 0a1.4 1.4 0 1 0 -2.9 0M367.8 276.3a1.4 1.4 0 1 0 2.9 0a1.4 1.4 0 1 0 -2.9 0M371.4 272.6a1.4 1.4 0 1 0 2.9 0a1.4 1.4 0 1 0 -2.9 0M375 278.3a1.4 1.4 0 1 0 2.9 0a1.4 1.4 0 1 0 -2.9 0M378.5 271.9a1.4 1.4 0 1 0 2.9 0a1.4 1.4 0 1 0 -2.9 0M382.1 268.3a1.4 1.4 0 1 0 2.9 0a1.4 1.4 0 1 0 -2.9 0M385.6 259.5a1.4 1.4 0 1 0 2.9 0a1.4 1.4 0 1 0 -2.9 0M389.2 259.1a1.4 1.4 0 1 0 2.9 0a1.4 1.4 0 1 0 -2.9 0M392.7 258.2a1.4 1.4 0 1 0 2.9 0a1.4 1.4 0 1 0 -2.9 0M396.3 253.8a1.4 1.4 0 1 0 2.9 0a1.4 1.4 0 1 0 -2.9 0M399.9 251.2a1.4 1.4 0 1 0 2.9 0a1.4 1.4 0 1 0 -2.9 0M403.4 253.7a1.4 1.4 0 1 0 2.9 0a1.4 1.4 0 1 0 -2.9 0M407 259.6a1.4 1.4 0 1 0 2.9 0a1.4 1.4 0 1 0 -2.9 0M410.5 257.9a1.4 1.4 0 1 0 2.9 0a1.4 1.4 0 1 0 -2.9 0M414.1 255.6a1.4 1.4 0 1 0 2.9 0a1.4 1.4 0 1 0 -2.9 0M417.6 263.6a1.4 1.4 0 1 0 2.9 0a1.4 1.4 0 1 0 -2.9 0M421.2 263.2a1.4 1.4 0 1 0 2.9 0a1.4 1.4 0 1 0 -2.9 0M424.8 263.4a1.4 1.4 0 1 0 2.9 0a1.4 1.4 0 1 0 -2.9 0M428.3 263.3a1.4 1.4 0 1 0 2.9 0a1.4 1.4 0 1 0 -2.9 0M431.9 268.7a1.4 1.4 0 1 0 2.9 0a1.4 1.4 0 1 0 -2.9 0M435.4 268.5a1.4 1.4 0 1 0 2.9 0a1.4 1.4 0 1 0 -2.9 0M439 271.2a1.4 1.4 0 1 0 2.9 0a1.4 1.4 0 1 0 -2.9 0M442.6 271.9a1.4 1.4 0 1 0 2.9 0a1.4 1.4 0 1 0 -2.9 0M446.1 277.5a1.4 1.4 0 1 0 2.9 0a1.4 1.4 0 1 0 -2.9 0M449.7 281.8a1.4 1.4 0 1 0 2.9 0a1.4 1.4 0 1 0 -2.9 0M453.2 280a1.4 1.4 0 1 0 2.9 0a1.4 1.4 0 1 0 -2.9 0M456.8 272.8a1.4 1.4 0 1 0 2.9 0a1.4 1.4 0 1 0 -2.9 0M460.3 269.2a1.4 1.4 0 1 0 2.9 0a1.4 1.4 0 1 0 -2.9 0M463.9 268.7a1.4 1.4 0 1 0 2.9 0a1.4 1.4 0 1 0 -2.9 0M467.5 274.6a1.4 1.4 0 1 0 2.9 0a1.4 1.4 0 1 0 -2.9 0M471 275.9a1.4 1.4 0 1 0 2.9 0a1.4 1.4 0 1 0 -2.9 0M474.6 273.4a1.4 1.4 0 1 0 2.9 0a1.4 1.4 0 1 0 -2.9 0M478.1 275.9a1.4 1.4 0 1 0 2.9 0a1.4 1.4 0 1 0 -2.9 0M481.7 276.9a1.4 1.4 0 1 0 2.9 0a1.4 1.4 0 1 0 -2.9 0M485.2 272.7a1.4 1.4 0 1 0 2.9 0a1.4 1.4 0 1 0 -2.9 0M488.8 272a1.4 1.4 0 1 0 2.9 0a1.4 1.4 0 1 0 -2.9 0M492.4 269.2a1.4 1.4 0 1 0 2.9 0a1.4 1.4 0 1 0 -2.9 0M495.9 268.7a1.4 1.4 0 1 0 2.9 0a1.4 1.4 0 1 0 -2.9 0M499.5 269.9a1.4 1.4 0 1 0 2.9 0a1.4 1.4 0 1 0 -2.9 0M503 270.6a1.4 1.4 0 1 0 2.9 0a1.4 1.4 0 1 0 -2.9 0M506.6 270.5a1.4 1.4 0 1 0 2.9 0a1.4 1.4 0 1 0 -2.9 0M510.2 274.2a1.4 1.4 0 1 0 2.9 0a1.4 1.4 0 1 0 -2.9 0M513.7 277.1a1.4 1.4 0 1 0 2.9 0a1.4 1.4 0 1 0 -2.9 0M517.3 279.1a1.4 1.4 0 1 0 2.9 0a1.4 1.4 0 1 0 -2.9 0M520.8 277.5a1.4 1.4 0 1 0 2.9 0a1.4 1.4 0 1 0 -2.9 0" fill="none" stroke="#ff00ff" stroke-width="0.55"/>
<path d="M323 283.3 323 283.3 326.6 275.4 330.1 266.1 333.7 257.6 337.3 259.7 340.8 247 344.4 237.9 347.9 238.9 351.5 237.1 355.1 236.4 358.6 232.3 362.2 228.2 365.7 230.4 369.3 226.2 372.8 228.5 376.4 226.8 380 229.7 383.5 227.3 387.1 227.4 390.6 229.9 394.2 230.3 397.7 226.9 401.3 228.2 404.9 232 408.4 229.6 412 234.6 415.5 234.3 419.1 241.2 422.6 236.8 426.2 235.7 429.8 240.4 433.3 239.8 436.9 244.6 440.4 244.8 444 248.2 447.6 252.6 451.1 247.6 454.7 256.3 458.2 259.2 461.8 257.4 465.3 258.2 468.9 259.7 472.5 262 476 261.8 479.6 261.9 483.1 263.8 486.7 269.8 490.2 263.6 493.8 269 497.4 275 500.9 269.3 504.5 272.9 508 273 511.6 271.3 515.2 279.8 518.7 282.4 522.3 283.3" fill="none" stroke="#ff00ff" stroke-width="0.5"/>
<path d="M321.6 283.3a1.4 1.4 0 1 0 2.9 0a1.4 1.4 0 1 0 -2.9 0M321.6 283.3a1.4 1.4 0 1 0 2.9 0a1.4 1.4 0 1 0 -2.9 0M325.1 275.4a1.4 1.4 0 1 0 2.9 0a1.4 1.4 0 1 0 -2.9 0M328.7 266.1a1.4 1.4 0 1 0 2.9 0a1.4 1.4 0 1 0 -2.9 0M332.3 257.6a1.4 1.4 0 1 0 2.9 0a1.4 1.4 0 1 0 -2.9 0M335.8 259.7a1.4 1.4 0 1 0 2.9 0a1.4 1.4 0 1 0 -2.9 0M339.4 247a1.4 1.4 0 1 0 2.9 0a1.4 1.4 0 1 0 -2.9 0M342.9 237.9a1.4 1.4 0 1 0 2.9 0a1.4 1.4 0 1 0 -2.9 0M346.5 238.9a1.4 1.4 0 1 0 2.9 0a1.4 1.4 0 1 0 -2.9 0M350 237.1a1.4 1.4 0 1 0 2.9 0a1.4 1.4 0 1 0 -2.9 0M353.6 236.4a1.4 1.4 0 1 0 2.9 0a1.4 1.4 0 1 0 -2.9 0M357.2 232.3a1.4 1.4 0 1 0 2.9 0a1.4 1.4 0 1 0 -2.9 0M360.7 228.2a1.4 1.4 0 1 0 2.9 0a1.4 1.4 0 1 0 -2.9 0M364.3 230.4a1.4 1.4 0 1 0 2.9 0a1.4 1.4 0 1 0 -2.9 0M367.8 226.2a1.4 1.4 0 1 0 2.9 0a1.4 1.4 0 1 0 -2.9 0M371.4 228.5a1.4 1.4 0 1 0 2.9 0a1.4 1.4 0 1 0 -2.9 0M375 226.8a1.4 1.4 0 1 0 2.9 0a1.4 1.4 0 1 0 -2.9 0M378.5 229.7a1.4 1.4 0 1 0 2.9 0a1.4 1.4 0 1 0 -2.9 0M382.1 227.3a1.4 1.4 0 1 0 2.9 0a1.4 1.4 0 1 0 -2.9 0M385.6 227.4a1.4 1.4 0 1 0 2.9 0a1.4 1.4 0 1 0 -2.9 0M389.2 229.9a1.4 1.4 0 1 0 2.9 0a1.4 1.4 0 1 0 -2.9 0M392.7 230.3a1.4 1.4 0 1 0 2.9 0a1.4 1.4 0 1 0 -2.9 0M396.3 226.9a1.4 1.4 0 1 0 2.9 0a1.4 1.4 0 1 0 -2.9 0M399.9 228.2a1.4 1.4 0 1 0 2.9 0a1.4 1.4 0 1 0 -2.9 0M403.4 232a1.4 1.4 0 1 0 2.9 0a1.4 1.4 0 1 0 -2.9 0M407 229.6a1.4 1.4 0 1 0 2.9 0a1.4 1.4 0 1 0 -2.9 0M410.5 234.6a1.4 1.4 0 1 0 2.9 0a1.4 1.4 0 1 0 -2.9 0M414.1 234.3a1.4 1.4 0 1 0 2.9 0a1.4 1.4 0 1 0 -2.9 0M417.6 241.2a1.4 1.4 0 1 0 2.9 0a1.4 1.4 0 1 0 -2.9 0M421.2 236.8a1.4 1.4 0 1 0 2.9 0a1.4 1.4 0 1 0 -2.9 0M424.8 235.7a1.4 1.4 0 1 0 2.9 0a1.4 1.4 0 1 0 -2.9 0M428.3 240.4a1.4 1.4 0 1 0 2.9 0a1.4 1.4 0 1 0 -2.9 0M431.9 239.8a1.4 1.4 0 1 0 2.9 0a1.4 1.4 0 1 0 -2.9 0M435.4 244.6a1.4 1.4 0 1 0 2.9 0a1.4 1.4 0 1 0 -2.9 0M439 244.8a1.4 1.4 0 1 0 2.9 0a1.4 1.4 0 1 0 -2.9 0M442.6 248.2a1.4 1.4 0 1 0 2.9 0a1.4 1.4 0 1 0 -2.9 0M446.1 252.6a1.4 1.4 0 1 0 2.9 0a1.4 1.4 0 1 0 -2.9 0M449.7 247.6a1.4 1.4 0 1 0 2.9 0a1.4 1.4 0 1 0 -2.9 0M453.2 256.3a1.4 1.4 0 1 0 2.9 0a1.4 1.4 0 1 0 -2.9 0M456.8 259.2a1.4 1.4 0 1 0 2.9 0a1.4 1.4 0 1 0 -2.9 0M460.3 257.4a1.4 1.4 0 1 0 2.9 0a1.4 1.4 0 1 0 -2.9 0M463.9 258.2a1.4 1.4 0 1 0 2.9 0a1.4 1.4 0 1 0 -2.9 0M467.5 259.7a1.4 1.4 0 1 0 2.9 0a1.4 1.4 0 1 0 -2.9 0M471 262a1.4 1.4 0 1 0 2.9 0a1.4 1.4 0 1 0 -2.9 0M474.6 261.8a1.4 1.4 0 1 0 2.9 0a1.4 1.4 0 1 0 -2.9 0M478.1 261.9a1.4 1.4 0 1 0 2.9 0a1.4 1.4 0 1 0 -2.9 0M481.7 263.8a1.4 1.4 0 1 0 2.9 0a1.4 1.4 0 1 0 -2.9 0M485.2 269.8a1.4 1.4 0 1 0 2.9 0a1.4 1.4 0 1 0 -2.9 0M488.8 263.6a1.4 1.4 0 1 0 2.9 0a1.4 1.4 0 1 0 -2.9 0M492.4 269a1.4 1.4 0 1 0 2.9 0a1.4 1.4 0 1 0 -2.9 0M495.9 275a1.4 1.4 0 1 0 2.9 0a1.4 1.4 0 1 0 -2.9 0M499.5 269.3a1.4 1.4 0 1 0 2.9 0a1.4 1.4 0 1 0 -2.9 0M503 272.9a1.4 1.4 0 1 0 2.9 0a1.4 1.4 0 1 0 -2.9 0M506.6 273a1.4 1.4 0 1 0 2.9 0a1.4 1.4 0 1 0 -2.9 0M510.2 271.3a1.4 1.4 0 1 0 2.9 0a1.4 1.4 0 1 0 -2.9 0M513.7 279.8a1.4 1.4 0 1 0 2.9 0a1.4 1.4 0 1 0 -2.9 0M517.3 282.4a1.4 1.4 0 1 0 2.9 0a1.4 1.4 0 1 0 -2.9 0M520.8 283.3a1.4 1.4 0 1 0 2.9 0a1.4 1.4 0 1 0 -2.9 0" fill="none" stroke="#ff00ff" stroke-width="0.55"/>
<path d="M323 283.3 323 283.3 326.6 261.9 330.1 243.1 333.7 226 337.3 213.8 340.8 209.3 344.4 205.3 347.9 200.8 351.5 194.9 355.1 188.7 358.6 189.9 362.2 191.1 365.7 193.4 369.3 195.3 372.8 196.5 376.4 198.3 380 196.4 383.5 197.3 387.1 197.9 390.6 197.6 394.2 198.8 397.7 203.4 401.3 202.4 404.9 205.9 408.4 204.1 412 207.6 415.5 208.6 419.1 208 422.6 212.9 426.2 212 429.8 213.8 433.3 214 436.9 215.6 440.4 215.5 444 217.9 447.6 218.6 451.1 226.2 454.7 237 458.2 233.6 461.8 234.9 465.3 236 468.9 235 472.5 233.6 476 233.4 479.6 235.1 483.1 235 486.7 237.3 490.2 238.9 493.8 248.8 497.4 253.7 500.9 259.9 504.5 263.5 508 264.4 511.6 266.6 515.2 269.9 518.7 272.6 522.3 276.3" fill="none" stroke="#00ee00" stroke-width="0.5"/>
<path d="M322.5 283.3a0.5 0.5 0 1 0 1.1 0a0.5 0.5 0 1 0 -1.1 0M322.5 283.3a0.5 0.5 0 1 0 1.1 0a0.5 0.5 0 1 0 -1.1 0M326 261.9a0.5 0.5 0 1 0 1.1 0a0.5 0.5 0 1 0 -1.1 0M329.6 243.1a0.5 0.5 0 1 0 1.1 0a0.5 0.5 0 1 0 -1.1 0M333.2 226a0.5 0.5 0 1 0 1.1 0a0.5 0.5 0 1 0 -1.1 0M336.7 213.8a0.5 0.5 0 1 0 1.1 0a0.5 0.5 0 1 0 -1.1 0M340.3 209.3a0.5 0.5 0 1 0 1.1 0a0.5 0.5 0 1 0 -1.1 0M343.8 205.3a0.5 0.5 0 1 0 1.1 0a0.5 0.5 0 1 0 -1.1 0M347.4 200.8a0.5 0.5 0 1 0 1.1 0a0.5 0.5 0 1 0 -1.1 0M351 194.9a0.5 0.5 0 1 0 1.1 0a0.5 0.5 0 1 0 -1.1 0M354.5 188.7a0.5 0.5 0 1 0 1.1 0a0.5 0.5 0 1 0 -1.1 0M358.1 189.9a0.5 0.5 0 1 0 1.1 0a0.5 0.5 0 1 0 -1.1 0M361.6 191.1a0.5 0.5 0 1 0 1.1 0a0.5 0.5 0 1 0 -1.1 0M365.2 193.4a0.5 0.5 0 1 0 1.1 0a0.5 0.5 0 1 0 -1.1 0M368.7 195.3a0.5 0.5 0 1 0 1.1 0a0.5 0.5 0 1 0 -1.1 0M372.3 196.5a0.5 0.5 0 1 0 1.1 0a0.5 0.5 0 1 0 -1.1 0M375.9 198.3a0.5 0.5 0 1 0 1.1 0a0.5 0.5 0 1 0 -1.1 0M379.4 196.4a0.5 0.5 0 1 0 1.1 0a0.5 0.5 0 1 0 -1.1 0M383 197.3a0.5 0.5 0 1 0 1.1 0a0.5 0.5 0 1 0 -1.1 0M386.5 197.9a0.5 0.5 0 1 0 1.1 0a0.5 0.5 0 1 0 -1.1 0M390.1 197.6a0.5 0.5 0 1 0 1.1 0a0.5 0.5 0 1 0 -1.1 0M393.6 198.8a0.5 0.5 0 1 0 1.1 0a0.5 0.5 0 1 0 -1.1 0M397.2 203.4a0.5 0.5 0 1 0 1.1 0a0.5 0.5 0 1 0 -1.1 0M400.8 202.4a0.5 0.5 0 1 0 1.1 0a0.5 0.5 0 1 0 -1.1 0M404.3 205.9a0.5 0.5 0 1 0 1.1 0a0.5 0.5 0 1 0 -1.1 0M407.9 204.1a0.5 0.5 0 1 0 1.1 0a0.5 0.5 0 1 0 -1.1 0M411.4 207.6a0.5 0.5 0 1 0 1.1 0a0.5 0.5 0 1 0 -1.1 0M415 208.6a0.5 0.5 0 1 0 1.1 0a0.5 0.5 0 1 0 -1.1 0M418.6 208a0.5 0.5 0 1 0 1.1 0a0.5 0.5 0 1 0 -1.1 0M422.1 212.9a0.5 0.5 0 1 0 1.1 0a0.5 0.5 0 1 0 -1.1 0M425.7 212a0.5 0.5 0 1 0 1.1 0a0.5 0.5 0 1 0 -1.1 0M429.2 213.8a0.5 0.5 0 1 0 1.1 0a0.5 0.5 0 1 0 -1.1 0M432.8 214a0.5 0.5 0 1 0 1.1 0a0.5 0.5 0 1 0 -1.1 0M436.3 215.6a0.5 0.5 0 1 0 1.1 0a0.5 0.5 0 1 0 -1.1 0M439.9 215.5a0.5 0.5 0 1 0 1.1 0a0.5 0.5 0 1 0 -1.1 0M443.5 217.9a0.5 0.5 0 1 0 1.1 0a0.5 0.5 0 1 0 -1.1 0M447 218.6a0.5 0.5 0 1 0 1.1 0a0.5 0.5 0 1 0 -1.1 0M450.6 226.2a0.5 0.5 0 1 0 1.1 0a0.5 0.5 0 1 0 -1.1 0M454.1 237a0.5 0.5 0 1 0 1.1 0a0.5 0.5 0 1 0 -1.1 0M457.7 233.6a0.5 0.5 0 1 0 1.1 0a0.5 0.5 0 1 0 -1.1 0M461.2 234.9a0.5 0.5 0 1 0 1.1 0a0.5 0.5 0 1 0 -1.1 0M464.8 236a0.5 0.5 0 1 0 1.1 0a0.5 0.5 0 1 0 -1.1 0M468.4 235a0.5 0.5 0 1 0 1.1 0a0.5 0.5 0 1 0 -1.1 0M471.9 233.6a0.5 0.5 0 1 0 1.1 0a0.5 0.5 0 1 0 -1.1 0M475.5 233.4a0.5 0.5 0 1 0 1.1 0a0.5 0.5 0 1 0 -1.1 0M479 235.1a0.5 0.5 0 1 0 1.1 0a0.5 0.5 0 1 0 -1.1 0M482.6 235a0.5 0.5 0 1 0 1.1 0a0.5 0.5 0 1 0 -1.1 0M486.2 237.3a0.5 0.5 0 1 0 1.1 0a0.5 0.5 0 1 0 -1.1 0M489.7 238.9a0.5 0.5 0 1 0 1.1 0a0.5 0.5 0 1 0 -1.1 0M493.3 248.8a0.5 0.5 0 1 0 1.1 0a0.5 0.5 0 1 0 -1.1 0M496.8 253.7a0.5 0.5 0 1 0 1.1 0a0.5 0.5 0 1 0 -1.1 0M500.4 259.9a0.5 0.5 0 1 0 1.1 0a0.5 0.5 0 1 0 -1.1 0M503.9 263.5a0.5 0.5 0 1 0 1.1 0a0.5 0.5 0 1 0 -1.1 0M507.5 264.4a0.5 0.5 0 1 0 1.1 0a0.5 0.5 0 1 0 -1.1 0M511.1 266.6a0.5 0.5 0 1 0 1.1 0a0.5 0.5 0 1 0 -1.1 0M514.6 269.9a0.5 0.5 0 1 0 1.1 0a0.5 0.5 0 1 0 -1.1 0M518.2 272.6a0.5 0.5 0 1 0 1.1 0a0.5 0.5 0 1 0 -1.1 0M521.7 276.3a0.5 0.5 0 1 0 1.1 0a0.5 0.5 0 1 0 -1.1 0" fill="#00ee00"/>
<path d="M323 283.3 323 283.3 326.6 263.7 330.1 244.6 333.7 233.6 337.3 224.3 340.8 215.8 344.4 208.9 347.9 202 351.5 198.7 355.1 196.7 358.6 198 362.2 195.5 365.7 193.3 369.3 199.3 372.8 201.4 376.4 205.4 380 211.1 383.5 214.1 387.1 209.8 390.6 206.9 394.2 199 397.7 200.8 401.3 202.9 404.9 208 408.4 209.6 412 209.6 415.5 209.8 419.1 213.4 422.6 214.1 426.2 215.2 429.8 213.7 433.3 216.1 436.9 215.7 440.4 216.8 444 217.5 447.6 219.4 451.1 226.4 454.7 232.4 458.2 233.7 461.8 236 465.3 235.9 468.9 234.9 472.5 236.2 476 237.1 479.6 237 483.1 235.9 486.7 241.1 490.2 242.5 493.8 244.5 497.4 249.5 500.9 252.4 504.5 257 508 261.7 511.6 267.5 515.2 269 518.7 273.6 522.3 278.5" fill="none" stroke="#00ee00" stroke-width="0.5"/>
<path d="M322.5 283.3a0.5 0.5 0 1 0 1.1 0a0.5 0.5 0 1 0 -1.1 0M322.5 283.3a0.5 0.5 0 1 0 1.1 0a0.5 0.5 0 1 0 -1.1 0M326 263.7a0.5 0.5 0 1 0 1.1 0a0.5 0.5 0 1 0 -1.1 0M329.6 244.6a0.5 0.5 0 1 0 1.1 0a0.5 0.5 0 1 0 -1.1 0M333.2 233.6a0.5 0.5 0 1 0 1.1 0a0.5 0.5 0 1 0 -1.1 0M336.7 224.3a0.5 0.5 0 1 0 1.1 0a0.5 0.5 0 1 0 -1.1 0M340.3 215.8a0.5 0.5 0 1 0 1.1 0a0.5 0.5 0 1 0 -1.1 0M343.8 208.9a0.5 0.5 0 1 0 1.1 0a0.5 0.5 0 1 0 -1.1 0M347.4 202a0.5 0.5 0 1 0 1.1 0a0.5 0.5 0 1 0 -1.1 0M351 198.7a0.5 0.5 0 1 0 1.1 0a0.5 0.5 0 1 0 -1.1 0M354.5 196.7a0.5 0.5 0 1 0 1.1 0a0.5 0.5 0 1 0 -1.1 0M358.1 198a0.5 0.5 0 1 0 1.1 0a0.5 0.5 0 1 0 -1.1 0M361.6 195.5a0.5 0.5 0 1 0 1.1 0a0.5 0.5 0 1 0 -1.1 0M365.2 193.3a0.5 0.5 0 1 0 1.1 0a0.5 0.5 0 1 0 -1.1 0M368.7 199.3a0.5 0.5 0 1 0 1.1 0a0.5 0.5 0 1 0 -1.1 0M372.3 201.4a0.5 0.5 0 1 0 1.1 0a0.5 0.5 0 1 0 -1.1 0M375.9 205.4a0.5 0.5 0 1 0 1.1 0a0.5 0.5 0 1 0 -1.1 0M379.4 211.1a0.5 0.5 0 1 0 1.1 0a0.5 0.5 0 1 0 -1.1 0M383 214.1a0.5 0.5 0 1 0 1.1 0a0.5 0.5 0 1 0 -1.1 0M386.5 209.8a0.5 0.5 0 1 0 1.1 0a0.5 0.5 0 1 0 -1.1 0M390.1 206.9a0.5 0.5 0 1 0 1.1 0a0.5 0.5 0 1 0 -1.1 0M393.6 199a0.5 0.5 0 1 0 1.1 0a0.5 0.5 0 1 0 -1.1 0M397.2 200.8a0.5 0.5 0 1 0 1.1 0a0.5 0.5 0 1 0 -1.1 0M400.8 202.9a0.5 0.5 0 1 0 1.1 0a0.5 0.5 0 1 0 -1.1 0M404.3 208a0.5 0.5 0 1 0 1.1 0a0.5 0.5 0 1 0 -1.1 0M407.9 209.6a0.5 0.5 0 1 0 1.1 0a0.5 0.5 0 1 0 -1.1 0M411.4 209.6a0.5 0.5 0 1 0 1.1 0a0.5 0.5 0 1 0 -1.1 0M415 209.8a0.5 0.5 0 1 0 1.1 0a0.5 0.5 0 1 0 -1.1 0M418.6 213.4a0.5 0.5 0 1 0 1.1 0a0.5 0.5 0 1 0 -1.1 0M422.1 214.1a0.5 0.5 0 1 0 1.1 0a0.5 0.5 0 1 0 -1.1 0M425.7 215.2a0.5 0.5 0 1 0 1.1 0a0.5 0.5 0 1 0 -1.1 0M429.2 213.7a0.5 0.5 0 1 0 1.1 0a0.5 0.5 0 1 0 -1.1 0M432.8 216.1a0.5 0.5 0 1 0 1.1 0a0.5 0.5 0 1 0 -1.1 0M436.3 215.7a0.5 0.5 0 1 0 1.1 0a0.5 0.5 0 1 0 -1.1 0M439.9 216.8a0.5 0.5 0 1 0 1.1 0a0.5 0.5 0 1 0 -1.1 0M443.5 217.5a0.5 0.5 0 1 0 1.1 0a0.5 0.5 0 1 0 -1.1 0M447 219.4a0.5 0.5 0 1 0 1.1 0a0.5 0.5 0 1 0 -1.1 0M450.6 226.4a0.5 0.5 0 1 0 1.1 0a0.5 0.5 0 1 0 -1.1 0M454.1 232.4a0.5 0.5 0 1 0 1.1 0a0.5 0.5 0 1 0 -1.1 0M457.7 233.7a0.5 0.5 0 1 0 1.1 0a0.5 0.5 0 1 0 -1.1 0M461.2 236a0.5 0.5 0 1 0 1.1 0a0.5 0.5 0 1 0 -1.1 0M464.8 235.9a0.5 0.5 0 1 0 1.1 0a0.5 0.5 0 1 0 -1.1 0M468.4 234.9a0.5 0.5 0 1 0 1.1 0a0.5 0.5 0 1 0 -1.1 0M471.9 236.2a0.5 0.5 0 1 0 1.1 0a0.5 0.5 0 1 0 -1.1 0M475.5 237.1a0.5 0.5 0 1 0 1.1 0a0.5 0.5 0 1 0 -1.1 0M479 237a0.5 0.5 0 1 0 1.1 0a0.5 0.5 0 1 0 -1.1 0M482.6 235.9a0.5 0.5 0 1 0 1.1 0a0.5 0.5 0 1 0 -1.1 0M486.2 241.1a0.5 0.5 0 1 0 1.1 0a0.5 0.5 0 1 0 -1.1 0M489.7 242.5a0.5 0.5 0 1 0 1.1 0a0.5 0.5 0 1 0 -1.1 0M493.3 244.5a0.5 0.5 0 1 0 1.1 0a0.5 0.5 0 1 0 -1.1 0M496.8 249.5a0.5 0.5 0 1 0 1.1 0a0.5 0.5 0 1 0 -1.1 0M500.4 252.4a0.5 0.5 0 1 0 1.1 0a0.5 0.5 0 1 0 -1.1 0M503.9 257a0.5 0.5 0 1 0 1.1 0a0.5 0.5 0 1 0 -1.1 0M507.5 261.7a0.5 0.5 0 1 0 1.1 0a0.5 0.5 0 1 0 -1.1 0M511.1 267.5a0.5 0.5 0 1 0 1.1 0a0.5 0.5 0 1 0 -1.1 0M514.6 269a0.5 0.5 0 1 0 1.1 0a0.5 0.5 0 1 0 -1.1 0M518.2 273.6a0.5 0.5 0 1 0 1.1 0a0.5 0.5 0 1 0 -1.1 0M521.7 278.5a0.5 0.5 0 1 0 1.1 0a0.5 0.5 0 1 0 -1.1 0" fill="#00ee00"/>
<path d="M323.7 283.3 326.6 271.3 330.1 254.6 333.7 239.7 337.3 229.6 340.8 222.3 344.4 215.1 347.9 207.1 351.5 201.8 355.1 197.3 358.6 196.1 362.2 205.1 365.7 208.2 369.3 213.1 372.8 214.9 376.4 214.8 380 211.6 383.5 207.1 387.1 201.2 390.6 199.8 394.2 198.8 397.7 199.9 401.3 202.4 404.9 203.3 408.4 205.9 412 208.8 415.5 210.6 419.1 212.4 422.6 215 426.2 217.1 429.8 217.1 433.3 219.1 436.9 219.5 440.4 223.3 444 225.2 447.6 227.7 451.1 231 454.7 232.8 458.2 236.1 461.8 236.3 465.3 235.5 468.9 236.4 472.5 237.3 476 239.5 479.6 239.5 483.1 239.6 486.7 245.2 490.2 245.3 493.8 249.5 497.4 252 500.9 255.3 504.5 260.5 508 260.9 511.6 266.3 515.2 269.1 518.7 273.5 522.3 279.5" fill="none" stroke="#00ee00" stroke-width="0.5"/>
<path d="M323.2 283.3a0.5 0.5 0 1 0 1.1 0a0.5 0.5 0 1 0 -1.1 0M326 271.3a0.5 0.5 0 1 0 1.1 0a0.5 0.5 0 1 0 -1.1 0M329.6 254.6a0.5 0.5 0 1 0 1.1 0a0.5 0.5 0 1 0 -1.1 0M333.2 239.7a0.5 0.5 0 1 0 1.1 0a0.5 0.5 0 1 0 -1.1 0M336.7 229.6a0.5 0.5 0 1 0 1.1 0a0.5 0.5 0 1 0 -1.1 0M340.3 222.3a0.5 0.5 0 1 0 1.1 0a0.5 0.5 0 1 0 -1.1 0M343.8 215.1a0.5 0.5 0 1 0 1.1 0a0.5 0.5 0 1 0 -1.1 0M347.4 207.1a0.5 0.5 0 1 0 1.1 0a0.5 0.5 0 1 0 -1.1 0M351 201.8a0.5 0.5 0 1 0 1.1 0a0.5 0.5 0 1 0 -1.1 0M354.5 197.3a0.5 0.5 0 1 0 1.1 0a0.5 0.5 0 1 0 -1.1 0M358.1 196.1a0.5 0.5 0 1 0 1.1 0a0.5 0.5 0 1 0 -1.1 0M361.6 205.1a0.5 0.5 0 1 0 1.1 0a0.5 0.5 0 1 0 -1.1 0M365.2 208.2a0.5 0.5 0 1 0 1.1 0a0.5 0.5 0 1 0 -1.1 0M368.7 213.1a0.5 0.5 0 1 0 1.1 0a0.5 0.5 0 1 0 -1.1 0M372.3 214.9a0.5 0.5 0 1 0 1.1 0a0.5 0.5 0 1 0 -1.1 0M375.9 214.8a0.5 0.5 0 1 0 1.1 0a0.5 0.5 0 1 0 -1.1 0M379.4 211.6a0.5 0.5 0 1 0 1.1 0a0.5 0.5 0 1 0 -1.1 0M383 207.1a0.5 0.5 0 1 0 1.1 0a0.5 0.5 0 1 0 -1.1 0M386.5 201.2a0.5 0.5 0 1 0 1.1 0a0.5 0.5 0 1 0 -1.1 0M390.1 199.8a0.5 0.5 0 1 0 1.1 0a0.5 0.5 0 1 0 -1.1 0M393.6 198.8a0.5 0.5 0 1 0 1.1 0a0.5 0.5 0 1 0 -1.1 0M397.2 199.9a0.5 0.5 0 1 0 1.1 0a0.5 0.5 0 1 0 -1.1 0M400.8 202.4a0.5 0.5 0 1 0 1.1 0a0.5 0.5 0 1 0 -1.1 0M404.3 203.3a0.5 0.5 0 1 0 1.1 0a0.5 0.5 0 1 0 -1.1 0M407.9 205.9a0.5 0.5 0 1 0 1.1 0a0.5 0.5 0 1 0 -1.1 0M411.4 208.8a0.5 0.5 0 1 0 1.1 0a0.5 0.5 0 1 0 -1.1 0M415 210.6a0.5 0.5 0 1 0 1.1 0a0.5 0.5 0 1 0 -1.1 0M418.6 212.4a0.5 0.5 0 1 0 1.1 0a0.5 0.5 0 1 0 -1.1 0M422.1 215a0.5 0.5 0 1 0 1.1 0a0.5 0.5 0 1 0 -1.1 0M425.7 217.1a0.5 0.5 0 1 0 1.1 0a0.5 0.5 0 1 0 -1.1 0M429.2 217.1a0.5 0.5 0 1 0 1.1 0a0.5 0.5 0 1 0 -1.1 0M432.8 219.1a0.5 0.5 0 1 0 1.1 0a0.5 0.5 0 1 0 -1.1 0M436.3 219.5a0.5 0.5 0 1 0 1.1 0a0.5 0.5 0 1 0 -1.1 0M439.9 223.3a0.5 0.5 0 1 0 1.1 0a0.5 0.5 0 1 0 -1.1 0M443.5 225.2a0.5 0.5 0 1 0 1.1 0a0.5 0.5 0 1 0 -1.1 0M447 227.7a0.5 0.5 0 1 0 1.1 0a0.5 0.5 0 1 0 -1.1 0M450.6 231a0.5 0.5 0 1 0 1.1 0a0.5 0.5 0 1 0 -1.1 0M454.1 232.8a0.5 0.5 0 1 0 1.1 0a0.5 0.5 0 1 0 -1.1 0M457.7 236.1a0.5 0.5 0 1 0 1.1 0a0.5 0.5 0 1 0 -1.1 0M461.2 236.3a0.5 0.5 0 1 0 1.1 0a0.5 0.5 0 1 0 -1.1 0M464.8 235.5a0.5 0.5 0 1 0 1.1 0a0.5 0.5 0 1 0 -1.1 0M468.4 236.4a0.5 0.5 0 1 0 1.1 0a0.5 0.5 0 1 0 -1.1 0M471.9 237.3a0.5 0.5 0 1 0 1.1 0a0.5 0.5 0 1 0 -1.1 0M475.5 239.5a0.5 0.5 0 1 0 1.1 0a0.5 0.5 0 1 0 -1.1 0M479 239.5a0.5 0.5 0 1 0 1.1 0a0.5 0.5 0 1 0 -1.1 0M482.6 239.6a0.5 0.5 0 1 0 1.1 0a0.5 0.5 0 1 0 -1.1 0M486.2 245.2a0.5 0.5 0 1 0 1.1 0a0.5 0.5 0 1 0 -1.1 0M489.7 245.3a0.5 0.5 0 1 0 1.1 0a0.5 0.5 0 1 0 -1.1 0M493.3 249.5a0.5 0.5 0 1 0 1.1 0a0.5 0.5 0 1 0 -1.1 0M496.8 252a0.5 0.5 0 1 0 1.1 0a0.5 0.5 0 1 0 -1.1 0M500.4 255.3a0.5 0.5 0 1 0 1.1 0a0.5 0.5 0 1 0 -1.1 0M503.9 260.5a0.5 0.5 0 1 0 1.1 0a0.5 0.5 0 1 0 -1.1 0M507.5 260.9a0.5 0.5 0 1 0 1.1 0a0.5 0.5 0 1 0 -1.1 0M511.1 266.3a0.5 0.5 0 1 0 1.1 0a0.5 0.5 0 1 0 -1.1 0M514.6 269.1a0.5 0.5 0 1 0 1.1 0a0.5 0.5 0 1 0 -1.1 0M518.2 273.5a0.5 0.5 0 1 0 1.1 0a0.5 0.5 0 1 0 -1.1 0M521.7 279.5a0.5 0.5 0 1 0 1.1 0a0.5 0.5 0 1 0 -1.1 0" fill="#00ee00"/>
<path d="M324.5 283.3 326.6 274.5 330.1 260.1 333.7 246.1 337.3 230.6 340.8 224.8 344.4 215.6 347.9 209.8 351.5 208.6 355.1 211.6 358.6 213 362.2 213.9 365.7 212.8 369.3 213.9 372.8 212.5 376.4 214.6 380 214.7 383.5 222.5 387.1 216.1 390.6 203.6 394.2 205.9 397.7 207.8 401.3 210.7 404.9 211.8 408.4 210.2 412 214.1 415.5 215 419.1 216.6 422.6 218.2 426.2 220.2 429.8 222.5 433.3 224.4 436.9 227.8 440.4 225.8 444 229.3 447.6 232.1 451.1 232 454.7 232.6 458.2 235.3 461.8 235.2 465.3 233.9 468.9 235.5 472.5 236.4 476 236.5 479.6 238.4 483.1 240.7 486.7 241 490.2 244.9 493.8 246.9 497.4 250 500.9 254.5 504.5 259.5 508 260.3 511.6 265.6 515.2 267.1 518.7 271.7 522.3 276.4" fill="none" stroke="#00ee00" stroke-width="0.5"/>
<path d="M323.9 283.3a0.5 0.5 0 1 0 1.1 0a0.5 0.5 0 1 0 -1.1 0M326 274.5a0.5 0.5 0 1 0 1.1 0a0.5 0.5 0 1 0 -1.1 0M329.6 260.1a0.5 0.5 0 1 0 1.1 0a0.5 0.5 0 1 0 -1.1 0M333.2 246.1a0.5 0.5 0 1 0 1.1 0a0.5 0.5 0 1 0 -1.1 0M336.7 230.6a0.5 0.5 0 1 0 1.1 0a0.5 0.5 0 1 0 -1.1 0M340.3 224.8a0.5 0.5 0 1 0 1.1 0a0.5 0.5 0 1 0 -1.1 0M343.8 215.6a0.5 0.5 0 1 0 1.1 0a0.5 0.5 0 1 0 -1.1 0M347.4 209.8a0.5 0.5 0 1 0 1.1 0a0.5 0.5 0 1 0 -1.1 0M351 208.6a0.5 0.5 0 1 0 1.1 0a0.5 0.5 0 1 0 -1.1 0M354.5 211.6a0.5 0.5 0 1 0 1.1 0a0.5 0.5 0 1 0 -1.1 0M358.1 213a0.5 0.5 0 1 0 1.1 0a0.5 0.5 0 1 0 -1.1 0M361.6 213.9a0.5 0.5 0 1 0 1.1 0a0.5 0.5 0 1 0 -1.1 0M365.2 212.8a0.5 0.5 0 1 0 1.1 0a0.5 0.5 0 1 0 -1.1 0M368.7 213.9a0.5 0.5 0 1 0 1.1 0a0.5 0.5 0 1 0 -1.1 0M372.3 212.5a0.5 0.5 0 1 0 1.1 0a0.5 0.5 0 1 0 -1.1 0M375.9 214.6a0.5 0.5 0 1 0 1.1 0a0.5 0.5 0 1 0 -1.1 0M379.4 214.7a0.5 0.5 0 1 0 1.1 0a0.5 0.5 0 1 0 -1.1 0M383 222.5a0.5 0.5 0 1 0 1.1 0a0.5 0.5 0 1 0 -1.1 0M386.5 216.1a0.5 0.5 0 1 0 1.1 0a0.5 0.5 0 1 0 -1.1 0M390.1 203.6a0.5 0.5 0 1 0 1.1 0a0.5 0.5 0 1 0 -1.1 0M393.6 205.9a0.5 0.5 0 1 0 1.1 0a0.5 0.5 0 1 0 -1.1 0M397.2 207.8a0.5 0.5 0 1 0 1.1 0a0.5 0.5 0 1 0 -1.1 0M400.8 210.7a0.5 0.5 0 1 0 1.1 0a0.5 0.5 0 1 0 -1.1 0M404.3 211.8a0.5 0.5 0 1 0 1.1 0a0.5 0.5 0 1 0 -1.1 0M407.9 210.2a0.5 0.5 0 1 0 1.1 0a0.5 0.5 0 1 0 -1.1 0M411.4 214.1a0.5 0.5 0 1 0 1.1 0a0.5 0.5 0 1 0 -1.1 0M415 215a0.5 0.5 0 1 0 1.1 0a0.5 0.5 0 1 0 -1.1 0M418.6 216.6a0.5 0.5 0 1 0 1.1 0a0.5 0.5 0 1 0 -1.1 0M422.1 218.2a0.5 0.5 0 1 0 1.1 0a0.5 0.5 0 1 0 -1.1 0M425.7 220.2a0.5 0.5 0 1 0 1.1 0a0.5 0.5 0 1 0 -1.1 0M429.2 222.5a0.5 0.5 0 1 0 1.1 0a0.5 0.5 0 1 0 -1.1 0M432.8 224.4a0.5 0.5 0 1 0 1.1 0a0.5 0.5 0 1 0 -1.1 0M436.3 227.8a0.5 0.5 0 1 0 1.1 0a0.5 0.5 0 1 0 -1.1 0M439.9 225.8a0.5 0.5 0 1 0 1.1 0a0.5 0.5 0 1 0 -1.1 0M443.5 229.3a0.5 0.5 0 1 0 1.1 0a0.5 0.5 0 1 0 -1.1 0M447 232.1a0.5 0.5 0 1 0 1.1 0a0.5 0.5 0 1 0 -1.1 0M450.6 232a0.5 0.5 0 1 0 1.1 0a0.5 0.5 0 1 0 -1.1 0M454.1 232.6a0.5 0.5 0 1 0 1.1 0a0.5 0.5 0 1 0 -1.1 0M457.7 235.3a0.5 0.5 0 1 0 1.1 0a0.5 0.5 0 1 0 -1.1 0M461.2 235.2a0.5 0.5 0 1 0 1.1 0a0.5 0.5 0 1 0 -1.1 0M464.8 233.9a0.5 0.5 0 1 0 1.1 0a0.5 0.5 0 1 0 -1.1 0M468.4 235.5a0.5 0.5 0 1 0 1.1 0a0.5 0.5 0 1 0 -1.1 0M471.9 236.4a0.5 0.5 0 1 0 1.1 0a0.5 0.5 0 1 0 -1.1 0M475.5 236.5a0.5 0.5 0 1 0 1.1 0a0.5 0.5 0 1 0 -1.1 0M479 238.4a0.5 0.5 0 1 0 1.1 0a0.5 0.5 0 1 0 -1.1 0M482.6 240.7a0.5 0.5 0 1 0 1.1 0a0.5 0.5 0 1 0 -1.1 0M486.2 241a0.5 0.5 0 1 0 1.1 0a0.5 0.5 0 1 0 -1.1 0M489.7 244.9a0.5 0.5 0 1 0 1.1 0a0.5 0.5 0 1 0 -1.1 0M493.3 246.9a0.5 0.5 0 1 0 1.1 0a0.5 0.5 0 1 0 -1.1 0M496.8 250a0.5 0.5 0 1 0 1.1 0a0.5 0.5 0 1 0 -1.1 0M500.4 254.5a0.5 0.5 0 1 0 1.1 0a0.5 0.5 0 1 0 -1.1 0M503.9 259.5a0.5 0.5 0 1 0 1.1 0a0.5 0.5 0 1 0 -1.1 0M507.5 260.3a0.5 0.5 0 1 0 1.1 0a0.5 0.5 0 1 0 -1.1 0M511.1 265.6a0.5 0.5 0 1 0 1.1 0a0.5 0.5 0 1 0 -1.1 0M514.6 267.1a0.5 0.5 0 1 0 1.1 0a0.5 0.5 0 1 0 -1.1 0M518.2 271.7a0.5 0.5 0 1 0 1.1 0a0.5 0.5 0 1 0 -1.1 0M521.7 276.4a0.5 0.5 0 1 0 1.1 0a0.5 0.5 0 1 0 -1.1 0" fill="#00ee00"/>
<path d="M324.5 283.3 326.6 275 330.1 262.1 333.7 249.4 337.3 235.4 340.8 230.3 344.4 220.7 347.9 214.6 351.5 215.5 355.1 218.2 358.6 218.7 362.2 221 365.7 222.3 369.3 223.7 372.8 226.9 376.4 229 380 230.7 383.5 233.6 387.1 234.3 390.6 233.4 394.2 235.4 397.7 236.9 401.3 235.7 404.9 235.5 408.4 234.6 412 237.1 415.5 237.7 419.1 237.1 422.6 237.7 426.2 237.6 429.8 238.7 433.3 238.8 436.9 240.4 440.4 239.7 444 241.2 447.6 241.7 451.1 243.5 454.7 245.4 458.2 244.9 461.8 245.9 465.3 245.8 468.9 246.6 472.5 248.3 476 249 479.6 250.7 483.1 251.4 486.7 252.9 490.2 255.1 493.8 257.5 497.4 257.6 500.9 262.1 504.5 262 508 264.8 511.6 267.6 515.2 273 518.7 274.7 522.3 279.8" fill="none" stroke="#00ee00" stroke-width="0.5"/>
<path d="M323.9 283.3a0.5 0.5 0 1 0 1.1 0a0.5 0.5 0 1 0 -1.1 0M326 275a0.5 0.5 0 1 0 1.1 0a0.5 0.5 0 1 0 -1.1 0M329.6 262.1a0.5 0.5 0 1 0 1.1 0a0.5 0.5 0 1 0 -1.1 0M333.2 249.4a0.5 0.5 0 1 0 1.1 0a0.5 0.5 0 1 0 -1.1 0M336.7 235.4a0.5 0.5 0 1 0 1.1 0a0.5 0.5 0 1 0 -1.1 0M340.3 230.3a0.5 0.5 0 1 0 1.1 0a0.5 0.5 0 1 0 -1.1 0M343.8 220.7a0.5 0.5 0 1 0 1.1 0a0.5 0.5 0 1 0 -1.1 0M347.4 214.6a0.5 0.5 0 1 0 1.1 0a0.5 0.5 0 1 0 -1.1 0M351 215.5a0.5 0.5 0 1 0 1.1 0a0.5 0.5 0 1 0 -1.1 0M354.5 218.2a0.5 0.5 0 1 0 1.1 0a0.5 0.5 0 1 0 -1.1 0M358.1 218.7a0.5 0.5 0 1 0 1.1 0a0.5 0.5 0 1 0 -1.1 0M361.6 221a0.5 0.5 0 1 0 1.1 0a0.5 0.5 0 1 0 -1.1 0M365.2 222.3a0.5 0.5 0 1 0 1.1 0a0.5 0.5 0 1 0 -1.1 0M368.7 223.7a0.5 0.5 0 1 0 1.1 0a0.5 0.5 0 1 0 -1.1 0M372.3 226.9a0.5 0.5 0 1 0 1.1 0a0.5 0.5 0 1 0 -1.1 0M375.9 229a0.5 0.5 0 1 0 1.1 0a0.5 0.5 0 1 0 -1.1 0M379.4 230.7a0.5 0.5 0 1 0 1.1 0a0.5 0.5 0 1 0 -1.1 0M383 233.6a0.5 0.5 0 1 0 1.1 0a0.5 0.5 0 1 0 -1.1 0M386.5 234.3a0.5 0.5 0 1 0 1.1 0a0.5 0.5 0 1 0 -1.1 0M390.1 233.4a0.5 0.5 0 1 0 1.1 0a0.5 0.5 0 1 0 -1.1 0M393.6 235.4a0.5 0.5 0 1 0 1.1 0a0.5 0.5 0 1 0 -1.1 0M397.2 236.9a0.5 0.5 0 1 0 1.1 0a0.5 0.5 0 1 0 -1.1 0M400.8 235.7a0.5 0.5 0 1 0 1.1 0a0.5 0.5 0 1 0 -1.1 0M404.3 235.5a0.5 0.5 0 1 0 1.1 0a0.5 0.5 0 1 0 -1.1 0M407.9 234.6a0.5 0.5 0 1 0 1.1 0a0.5 0.5 0 1 0 -1.1 0M411.4 237.1a0.5 0.5 0 1 0 1.1 0a0.5 0.5 0 1 0 -1.1 0M415 237.7a0.5 0.5 0 1 0 1.1 0a0.5 0.5 0 1 0 -1.1 0M418.6 237.1a0.5 0.5 0 1 0 1.1 0a0.5 0.5 0 1 0 -1.1 0M422.1 237.7a0.5 0.5 0 1 0 1.1 0a0.5 0.5 0 1 0 -1.1 0M425.7 237.6a0.5 0.5 0 1 0 1.1 0a0.5 0.5 0 1 0 -1.1 0M429.2 238.7a0.5 0.5 0 1 0 1.1 0a0.5 0.5 0 1 0 -1.1 0M432.8 238.8a0.5 0.5 0 1 0 1.1 0a0.5 0.5 0 1 0 -1.1 0M436.3 240.4a0.5 0.5 0 1 0 1.1 0a0.5 0.5 0 1 0 -1.1 0M439.9 239.7a0.5 0.5 0 1 0 1.1 0a0.5 0.5 0 1 0 -1.1 0M443.5 241.2a0.5 0.5 0 1 0 1.1 0a0.5 0.5 0 1 0 -1.1 0M447 241.7a0.5 0.5 0 1 0 1.1 0a0.5 0.5 0 1 0 -1.1 0M450.6 243.5a0.5 0.5 0 1 0 1.1 0a0.5 0.5 0 1 0 -1.1 0M454.1 245.4a0.5 0.5 0 1 0 1.1 0a0.5 0.5 0 1 0 -1.1 0M457.7 244.9a0.5 0.5 0 1 0 1.1 0a0.5 0.5 0 1 0 -1.1 0M461.2 245.9a0.5 0.5 0 1 0 1.1 0a0.5 0.5 0 1 0 -1.1 0M464.8 245.8a0.5 0.5 0 1 0 1.1 0a0.5 0.5 0 1 0 -1.1 0M468.4 246.6a0.5 0.5 0 1 0 1.1 0a0.5 0.5 0 1 0 -1.1 0M471.9 248.3a0.5 0.5 0 1 0 1.1 0a0.5 0.5 0 1 0 -1.1 0M475.5 249a0.5 0.5 0 1 0 1.1 0a0.5 0.5 0 1 0 -1.1 0M479 250.7a0.5 0.5 0 1 0 1.1 0a0.5 0.5 0 1 0 -1.1 0M482.6 251.4a0.5 0.5 0 1 0 1.1 0a0.5 0.5 0 1 0 -1.1 0M486.2 252.9a0.5 0.5 0 1 0 1.1 0a0.5 0.5 0 1 0 -1.1 0M489.7 255.1a0.5 0.5 0 1 0 1.1 0a0.5 0.5 0 1 0 -1.1 0M493.3 257.5a0.5 0.5 0 1 0 1.1 0a0.5 0.5 0 1 0 -1.1 0M496.8 257.6a0.5 0.5 0 1 0 1.1 0a0.5 0.5 0 1 0 -1.1 0M500.4 262.1a0.5 0.5 0 1 0 1.1 0a0.5 0.5 0 1 0 -1.1 0M503.9 262a0.5 0.5 0 1 0 1.1 0a0.5 0.5 0 1 0 -1.1 0M507.5 264.8a0.5 0.5 0 1 0 1.1 0a0.5 0.5 0 1 0 -1.1 0M511.1 267.6a0.5 0.5 0 1 0 1.1 0a0.5 0.5 0 1 0 -1.1 0M514.6 273a0.5 0.5 0 1 0 1.1 0a0.5 0.5 0 1 0 -1.1 0M518.2 274.7a0.5 0.5 0 1 0 1.1 0a0.5 0.5 0 1 0 -1.1 0M521.7 279.8a0.5 0.5 0 1 0 1.1 0a0.5 0.5 0 1 0 -1.1 0" fill="#00ee00"/>
<path d="M325.9 283.3 326.6 281.8 330.1 274.9 333.7 267.3 337.3 259.8 340.8 256 344.4 253.5 347.9 252.5 351.5 250 355.1 248.8 358.6 247.2 362.2 246.1 365.7 243.4 369.3 241.6 372.8 241.9 376.4 239.8 380 240.3 383.5 239.5 387.1 238.3 390.6 236.2 394.2 236.8 397.7 234.9 401.3 235.2 404.9 235.3 408.4 235.4 412 233.8 415.5 234.1 419.1 232.1 422.6 232.4 426.2 234.3 429.8 231.7 433.3 233.2 436.9 237.7 440.4 237.1 444 237.1 447.6 240.3 451.1 240.9 454.7 240.9 458.2 242.3 461.8 243.3 465.3 244.4 468.9 247.7 472.5 246.5 476 250.2 479.6 250.5 483.1 254.5 486.7 255.4 490.2 257.3 493.8 259.4 497.4 261.4 500.9 263.8 504.5 265.7 508 268.6 511.6 271.7 515.2 274.1 518.7 276.1 522.3 280.3" fill="none" stroke="#00ee00" stroke-width="0.5"/>
<path d="M325.3 283.3a0.5 0.5 0 1 0 1.1 0a0.5 0.5 0 1 0 -1.1 0M326 281.8a0.5 0.5 0 1 0 1.1 0a0.5 0.5 0 1 0 -1.1 0M329.6 274.9a0.5 0.5 0 1 0 1.1 0a0.5 0.5 0 1 0 -1.1 0M333.2 267.3a0.5 0.5 0 1 0 1.1 0a0.5 0.5 0 1 0 -1.1 0M336.7 259.8a0.5 0.5 0 1 0 1.1 0a0.5 0.5 0 1 0 -1.1 0M340.3 256a0.5 0.5 0 1 0 1.1 0a0.5 0.5 0 1 0 -1.1 0M343.8 253.5a0.5 0.5 0 1 0 1.1 0a0.5 0.5 0 1 0 -1.1 0M347.4 252.5a0.5 0.5 0 1 0 1.1 0a0.5 0.5 0 1 0 -1.1 0M351 250a0.5 0.5 0 1 0 1.1 0a0.5 0.5 0 1 0 -1.1 0M354.5 248.8a0.5 0.5 0 1 0 1.1 0a0.5 0.5 0 1 0 -1.1 0M358.1 247.2a0.5 0.5 0 1 0 1.1 0a0.5 0.5 0 1 0 -1.1 0M361.6 246.1a0.5 0.5 0 1 0 1.1 0a0.5 0.5 0 1 0 -1.1 0M365.2 243.4a0.5 0.5 0 1 0 1.1 0a0.5 0.5 0 1 0 -1.1 0M368.7 241.6a0.5 0.5 0 1 0 1.1 0a0.5 0.5 0 1 0 -1.1 0M372.3 241.9a0.5 0.5 0 1 0 1.1 0a0.5 0.5 0 1 0 -1.1 0M375.9 239.8a0.5 0.5 0 1 0 1.1 0a0.5 0.5 0 1 0 -1.1 0M379.4 240.3a0.5 0.5 0 1 0 1.1 0a0.5 0.5 0 1 0 -1.1 0M383 239.5a0.5 0.5 0 1 0 1.1 0a0.5 0.5 0 1 0 -1.1 0M386.5 238.3a0.5 0.5 0 1 0 1.1 0a0.5 0.5 0 1 0 -1.1 0M390.1 236.2a0.5 0.5 0 1 0 1.1 0a0.5 0.5 0 1 0 -1.1 0M393.6 236.8a0.5 0.5 0 1 0 1.1 0a0.5 0.5 0 1 0 -1.1 0M397.2 234.9a0.5 0.5 0 1 0 1.1 0a0.5 0.5 0 1 0 -1.1 0M400.8 235.2a0.5 0.5 0 1 0 1.1 0a0.5 0.5 0 1 0 -1.1 0M404.3 235.3a0.5 0.5 0 1 0 1.1 0a0.5 0.5 0 1 0 -1.1 0M407.9 235.4a0.5 0.5 0 1 0 1.1 0a0.5 0.5 0 1 0 -1.1 0M411.4 233.8a0.5 0.5 0 1 0 1.1 0a0.5 0.5 0 1 0 -1.1 0M415 234.1a0.5 0.5 0 1 0 1.1 0a0.5 0.5 0 1 0 -1.1 0M418.6 232.1a0.5 0.5 0 1 0 1.1 0a0.5 0.5 0 1 0 -1.1 0M422.1 232.4a0.5 0.5 0 1 0 1.1 0a0.5 0.5 0 1 0 -1.1 0M425.7 234.3a0.5 0.5 0 1 0 1.1 0a0.5 0.5 0 1 0 -1.1 0M429.2 231.7a0.5 0.5 0 1 0 1.1 0a0.5 0.5 0 1 0 -1.1 0M432.8 233.2a0.5 0.5 0 1 0 1.1 0a0.5 0.5 0 1 0 -1.1 0M436.3 237.7a0.5 0.5 0 1 0 1.1 0a0.5 0.5 0 1 0 -1.1 0M439.9 237.1a0.5 0.5 0 1 0 1.1 0a0.5 0.5 0 1 0 -1.1 0M443.5 237.1a0.5 0.5 0 1 0 1.1 0a0.5 0.5 0 1 0 -1.1 0M447 240.3a0.5 0.5 0 1 0 1.1 0a0.5 0.5 0 1 0 -1.1 0M450.6 240.9a0.5 0.5 0 1 0 1.1 0a0.5 0.5 0 1 0 -1.1 0M454.1 240.9a0.5 0.5 0 1 0 1.1 0a0.5 0.5 0 1 0 -1.1 0M457.7 242.3a0.5 0.5 0 1 0 1.1 0a0.5 0.5 0 1 0 -1.1 0M461.2 243.3a0.5 0.5 0 1 0 1.1 0a0.5 0.5 0 1 0 -1.1 0M464.8 244.4a0.5 0.5 0 1 0 1.1 0a0.5 0.5 0 1 0 -1.1 0M468.4 247.7a0.5 0.5 0 1 0 1.1 0a0.5 0.5 0 1 0 -1.1 0M471.9 246.5a0.5 0.5 0 1 0 1.1 0a0.5 0.5 0 1 0 -1.1 0M475.5 250.2a0.5 0.5 0 1 0 1.1 0a0.5 0.5 0 1 0 -1.1 0M479 250.5a0.5 0.5 0 1 0 1.1 0a0.5 0.5 0 1 0 -1.1 0M482.6 254.5a0.5 0.5 0 1 0 1.1 0a0.5 0.5 0 1 0 -1.1 0M486.2 255.4a0.5 0.5 0 1 0 1.1 0a0.5 0.5 0 1 0 -1.1 0M489.7 257.3a0.5 0.5 0 1 0 1.1 0a0.5 0.5 0 1 0 -1.1 0M493.3 259.4a0.5 0.5 0 1 0 1.1 0a0.5 0.5 0 1 0 -1.1 0M496.8 261.4a0.5 0.5 0 1 0 1.1 0a0.5 0.5 0 1 0 -1.1 0M500.4 263.8a0.5 0.5 0 1 0 1.1 0a0.5 0.5 0 1 0 -1.1 0M503.9 265.7a0.5 0.5 0 1 0 1.1 0a0.5 0.5 0 1 0 -1.1 0M507.5 268.6a0.5 0.5 0 1 0 1.1 0a0.5 0.5 0 1 0 -1.1 0M511.1 271.7a0.5 0.5 0 1 0 1.1 0a0.5 0.5 0 1 0 -1.1 0M514.6 274.1a0.5 0.5 0 1 0 1.1 0a0.5 0.5 0 1 0 -1.1 0M518.2 276.1a0.5 0.5 0 1 0 1.1 0a0.5 0.5 0 1 0 -1.1 0M521.7 280.3a0.5 0.5 0 1 0 1.1 0a0.5 0.5 0 1 0 -1.1 0" fill="#00ee00"/>
<path d="M325.9 283.3 326.6 281.9 330.1 275.4 333.7 270.4 337.3 263.2 340.8 256.7 344.4 254.7 347.9 252.6 351.5 252.3 355.1 249 358.6 248.3 362.2 245.4 365.7 245 369.3 245.3 372.8 243.1 376.4 241.6 380 240.7 383.5 238.6 387.1 237.5 390.6 235.3 394.2 232.5 397.7 231.3 401.3 231.4 404.9 237 408.4 238.1 412 238.8 415.5 238.2 419.1 239.7 422.6 241.5 426.2 242.9 429.8 244 433.3 246.5 436.9 249 440.4 249.8 444 251.8 447.6 252.5 451.1 253.1 454.7 255.2 458.2 255.8 461.8 257.4 465.3 259.8 468.9 261.5 472.5 261.1 476 263.4 479.6 264.2 483.1 266.8 486.7 267.8 490.2 268.5 493.8 270.1 497.4 269.4 500.9 270.8 504.5 273 508 276 511.6 277.1 515.2 277.9 518.7 278.6 522.3 281.4" fill="none" stroke="#00ee00" stroke-width="0.5"/>
<path d="M325.3 283.3a0.5 0.5 0 1 0 1.1 0a0.5 0.5 0 1 0 -1.1 0M326 281.9a0.5 0.5 0 1 0 1.1 0a0.5 0.5 0 1 0 -1.1 0M329.6 275.4a0.5 0.5 0 1 0 1.1 0a0.5 0.5 0 1 0 -1.1 0M333.2 270.4a0.5 0.5 0 1 0 1.1 0a0.5 0.5 0 1 0 -1.1 0M336.7 263.2a0.5 0.5 0 1 0 1.1 0a0.5 0.5 0 1 0 -1.1 0M340.3 256.7a0.5 0.5 0 1 0 1.1 0a0.5 0.5 0 1 0 -1.1 0M343.8 254.7a0.5 0.5 0 1 0 1.1 0a0.5 0.5 0 1 0 -1.1 0M347.4 252.6a0.5 0.5 0 1 0 1.1 0a0.5 0.5 0 1 0 -1.1 0M351 252.3a0.5 0.5 0 1 0 1.1 0a0.5 0.5 0 1 0 -1.1 0M354.5 249a0.5 0.5 0 1 0 1.1 0a0.5 0.5 0 1 0 -1.1 0M358.1 248.3a0.5 0.5 0 1 0 1.1 0a0.5 0.5 0 1 0 -1.1 0M361.6 245.4a0.5 0.5 0 1 0 1.1 0a0.5 0.5 0 1 0 -1.1 0M365.2 245a0.5 0.5 0 1 0 1.1 0a0.5 0.5 0 1 0 -1.1 0M368.7 245.3a0.5 0.5 0 1 0 1.1 0a0.5 0.5 0 1 0 -1.1 0M372.3 243.1a0.5 0.5 0 1 0 1.1 0a0.5 0.5 0 1 0 -1.1 0M375.9 241.6a0.5 0.5 0 1 0 1.1 0a0.5 0.5 0 1 0 -1.1 0M379.4 240.7a0.5 0.5 0 1 0 1.1 0a0.5 0.5 0 1 0 -1.1 0M383 238.6a0.5 0.5 0 1 0 1.1 0a0.5 0.5 0 1 0 -1.1 0M386.5 237.5a0.5 0.5 0 1 0 1.1 0a0.5 0.5 0 1 0 -1.1 0M390.1 235.3a0.5 0.5 0 1 0 1.1 0a0.5 0.5 0 1 0 -1.1 0M393.6 232.5a0.5 0.5 0 1 0 1.1 0a0.5 0.5 0 1 0 -1.1 0M397.2 231.3a0.5 0.5 0 1 0 1.1 0a0.5 0.5 0 1 0 -1.1 0M400.8 231.4a0.5 0.5 0 1 0 1.1 0a0.5 0.5 0 1 0 -1.1 0M404.3 237a0.5 0.5 0 1 0 1.1 0a0.5 0.5 0 1 0 -1.1 0M407.9 238.1a0.5 0.5 0 1 0 1.1 0a0.5 0.5 0 1 0 -1.1 0M411.4 238.8a0.5 0.5 0 1 0 1.1 0a0.5 0.5 0 1 0 -1.1 0M415 238.2a0.5 0.5 0 1 0 1.1 0a0.5 0.5 0 1 0 -1.1 0M418.6 239.7a0.5 0.5 0 1 0 1.1 0a0.5 0.5 0 1 0 -1.1 0M422.1 241.5a0.5 0.5 0 1 0 1.1 0a0.5 0.5 0 1 0 -1.1 0M425.7 242.9a0.5 0.5 0 1 0 1.1 0a0.5 0.5 0 1 0 -1.1 0M429.2 244a0.5 0.5 0 1 0 1.1 0a0.5 0.5 0 1 0 -1.1 0M432.8 246.5a0.5 0.5 0 1 0 1.1 0a0.5 0.5 0 1 0 -1.1 0M436.3 249a0.5 0.5 0 1 0 1.1 0a0.5 0.5 0 1 0 -1.1 0M439.9 249.8a0.5 0.5 0 1 0 1.1 0a0.5 0.5 0 1 0 -1.1 0M443.5 251.8a0.5 0.5 0 1 0 1.1 0a0.5 0.5 0 1 0 -1.1 0M447 252.5a0.5 0.5 0 1 0 1.1 0a0.5 0.5 0 1 0 -1.1 0M450.6 253.1a0.5 0.5 0 1 0 1.1 0a0.5 0.5 0 1 0 -1.1 0M454.1 255.2a0.5 0.5 0 1 0 1.1 0a0.5 0.5 0 1 0 -1.1 0M457.7 255.8a0.5 0.5 0 1 0 1.1 0a0.5 0.5 0 1 0 -1.1 0M461.2 257.4a0.5 0.5 0 1 0 1.1 0a0.5 0.5 0 1 0 -1.1 0M464.8 259.8a0.5 0.5 0 1 0 1.1 0a0.5 0.5 0 1 0 -1.1 0M468.4 261.5a0.5 0.5 0 1 0 1.1 0a0.5 0.5 0 1 0 -1.1 0M471.9 261.1a0.5 0.5 0 1 0 1.1 0a0.5 0.5 0 1 0 -1.1 0M475.5 263.4a0.5 0.5 0 1 0 1.1 0a0.5 0.5 0 1 0 -1.1 0M479 264.2a0.5 0.5 0 1 0 1.1 0a0.5 0.5 0 1 0 -1.1 0M482.6 266.8a0.5 0.5 0 1 0 1.1 0a0.5 0.5 0 1 0 -1.1 0M486.2 267.8a0.5 0.5 0 1 0 1.1 0a0.5 0.5 0 1 0 -1.1 0M489.7 268.5a0.5 0.5 0 1 0 1.1 0a0.5 0.5 0 1 0 -1.1 0M493.3 270.1a0.5 0.5 0 1 0 1.1 0a0.5 0.5 0 1 0 -1.1 0M496.8 269.4a0.5 0.5 0 1 0 1.1 0a0.5 0.5 0 1 0 -1.1 0M500.4 270.8a0.5 0.5 0 1 0 1.1 0a0.5 0.5 0 1 0 -1.1 0M503.9 273a0.5 0.5 0 1 0 1.1 0a0.5 0.5 0 1 0 -1.1 0M507.5 276a0.5 0.5 0 1 0 1.1 0a0.5 0.5 0 1 0 -1.1 0M511.1 277.1a0.5 0.5 0 1 0 1.1 0a0.5 0.5 0 1 0 -1.1 0M514.6 277.9a0.5 0.5 0 1 0 1.1 0a0.5 0.5 0 1 0 -1.1 0M518.2 278.6a0.5 0.5 0 1 0 1.1 0a0.5 0.5 0 1 0 -1.1 0M521.7 281.4a0.5 0.5 0 1 0 1.1 0a0.5 0.5 0 1 0 -1.1 0" fill="#00ee00"/>
<path d="M323.7 283.3 326.6 265.6 330.1 243.2 333.7 224.7 337.3 219.5 340.8 215.1 344.4 207.5 347.9 206.8 351.5 205.3 355.1 205.4 358.6 207 362.2 207.9 365.7 208.4 369.3 206.9 372.8 209 376.4 208.1 380 209.8 383.5 209.4 387.1 207.3 390.6 206.5 394.2 205.5 397.7 204.1 401.3 206.6 404.9 208.3 408.4 207.8 412 209.9 415.5 209.4 419.1 213 422.6 211.4 426.2 214.2 429.8 214.6 433.3 214.4 436.9 216.4 440.4 218.1 444 218.1 447.6 219.2 451.1 231.6 454.7 234.7 458.2 236.7 461.8 236.7 465.3 236.6 468.9 236.2 472.5 235 476 237.9 479.6 235.6 483.1 235.1 486.7 238.1 490.2 240.8 493.8 246.1 497.4 249.5 500.9 255.1 504.5 258.2 508 263 511.6 266.1 515.2 269.7 518.7 275 522.3 276.6" fill="none" stroke="#00ee00" stroke-width="0.5"/>
<path d="M323.2 283.3a0.5 0.5 0 1 0 1.1 0a0.5 0.5 0 1 0 -1.1 0M326 265.6a0.5 0.5 0 1 0 1.1 0a0.5 0.5 0 1 0 -1.1 0M329.6 243.2a0.5 0.5 0 1 0 1.1 0a0.5 0.5 0 1 0 -1.1 0M333.2 224.7a0.5 0.5 0 1 0 1.1 0a0.5 0.5 0 1 0 -1.1 0M336.7 219.5a0.5 0.5 0 1 0 1.1 0a0.5 0.5 0 1 0 -1.1 0M340.3 215.1a0.5 0.5 0 1 0 1.1 0a0.5 0.5 0 1 0 -1.1 0M343.8 207.5a0.5 0.5 0 1 0 1.1 0a0.5 0.5 0 1 0 -1.1 0M347.4 206.8a0.5 0.5 0 1 0 1.1 0a0.5 0.5 0 1 0 -1.1 0M351 205.3a0.5 0.5 0 1 0 1.1 0a0.5 0.5 0 1 0 -1.1 0M354.5 205.4a0.5 0.5 0 1 0 1.1 0a0.5 0.5 0 1 0 -1.1 0M358.1 207a0.5 0.5 0 1 0 1.1 0a0.5 0.5 0 1 0 -1.1 0M361.6 207.9a0.5 0.5 0 1 0 1.1 0a0.5 0.5 0 1 0 -1.1 0M365.2 208.4a0.5 0.5 0 1 0 1.1 0a0.5 0.5 0 1 0 -1.1 0M368.7 206.9a0.5 0.5 0 1 0 1.1 0a0.5 0.5 0 1 0 -1.1 0M372.3 209a0.5 0.5 0 1 0 1.1 0a0.5 0.5 0 1 0 -1.1 0M375.9 208.1a0.5 0.5 0 1 0 1.1 0a0.5 0.5 0 1 0 -1.1 0M379.4 209.8a0.5 0.5 0 1 0 1.1 0a0.5 0.5 0 1 0 -1.1 0M383 209.4a0.5 0.5 0 1 0 1.1 0a0.5 0.5 0 1 0 -1.1 0M386.5 207.3a0.5 0.5 0 1 0 1.1 0a0.5 0.5 0 1 0 -1.1 0M390.1 206.5a0.5 0.5 0 1 0 1.1 0a0.5 0.5 0 1 0 -1.1 0M393.6 205.5a0.5 0.5 0 1 0 1.1 0a0.5 0.5 0 1 0 -1.1 0M397.2 204.1a0.5 0.5 0 1 0 1.1 0a0.5 0.5 0 1 0 -1.1 0M400.8 206.6a0.5 0.5 0 1 0 1.1 0a0.5 0.5 0 1 0 -1.1 0M404.3 208.3a0.5 0.5 0 1 0 1.1 0a0.5 0.5 0 1 0 -1.1 0M407.9 207.8a0.5 0.5 0 1 0 1.1 0a0.5 0.5 0 1 0 -1.1 0M411.4 209.9a0.5 0.5 0 1 0 1.1 0a0.5 0.5 0 1 0 -1.1 0M415 209.4a0.5 0.5 0 1 0 1.1 0a0.5 0.5 0 1 0 -1.1 0M418.6 213a0.5 0.5 0 1 0 1.1 0a0.5 0.5 0 1 0 -1.1 0M422.1 211.4a0.5 0.5 0 1 0 1.1 0a0.5 0.5 0 1 0 -1.1 0M425.7 214.2a0.5 0.5 0 1 0 1.1 0a0.5 0.5 0 1 0 -1.1 0M429.2 214.6a0.5 0.5 0 1 0 1.1 0a0.5 0.5 0 1 0 -1.1 0M432.8 214.4a0.5 0.5 0 1 0 1.1 0a0.5 0.5 0 1 0 -1.1 0M436.3 216.4a0.5 0.5 0 1 0 1.1 0a0.5 0.5 0 1 0 -1.1 0M439.9 218.1a0.5 0.5 0 1 0 1.1 0a0.5 0.5 0 1 0 -1.1 0M443.5 218.1a0.5 0.5 0 1 0 1.1 0a0.5 0.5 0 1 0 -1.1 0M447 219.2a0.5 0.5 0 1 0 1.1 0a0.5 0.5 0 1 0 -1.1 0M450.6 231.6a0.5 0.5 0 1 0 1.1 0a0.5 0.5 0 1 0 -1.1 0M454.1 234.7a0.5 0.5 0 1 0 1.1 0a0.5 0.5 0 1 0 -1.1 0M457.7 236.7a0.5 0.5 0 1 0 1.1 0a0.5 0.5 0 1 0 -1.1 0M461.2 236.7a0.5 0.5 0 1 0 1.1 0a0.5 0.5 0 1 0 -1.1 0M464.8 236.6a0.5 0.5 0 1 0 1.1 0a0.5 0.5 0 1 0 -1.1 0M468.4 236.2a0.5 0.5 0 1 0 1.1 0a0.5 0.5 0 1 0 -1.1 0M471.9 235a0.5 0.5 0 1 0 1.1 0a0.5 0.5 0 1 0 -1.1 0M475.5 237.9a0.5 0.5 0 1 0 1.1 0a0.5 0.5 0 1 0 -1.1 0M479 235.6a0.5 0.5 0 1 0 1.1 0a0.5 0.5 0 1 0 -1.1 0M482.6 235.1a0.5 0.5 0 1 0 1.1 0a0.5 0.5 0 1 0 -1.1 0M486.2 238.1a0.5 0.5 0 1 0 1.1 0a0.5 0.5 0 1 0 -1.1 0M489.7 240.8a0.5 0.5 0 1 0 1.1 0a0.5 0.5 0 1 0 -1.1 0M493.3 246.1a0.5 0.5 0 1 0 1.1 0a0.5 0.5 0 1 0 -1.1 0M496.8 249.5a0.5 0.5 0 1 0 1.1 0a0.5 0.5 0 1 0 -1.1 0M500.4 255.1a0.5 0.5 0 1 0 1.1 0a0.5 0.5 0 1 0 -1.1 0M503.9 258.2a0.5 0.5 0 1 0 1.1 0a0.5 0.5 0 1 0 -1.1 0M507.5 263a0.5 0.5 0 1 0 1.1 0a0.5 0.5 0 1 0 -1.1 0M511.1 266.1a0.5 0.5 0 1 0 1.1 0a0.5 0.5 0 1 0 -1.1 0M514.6 269.7a0.5 0.5 0 1 0 1.1 0a0.5 0.5 0 1 0 -1.1 0M518.2 275a0.5 0.5 0 1 0 1.1 0a0.5 0.5 0 1 0 -1.1 0M521.7 276.6a0.5 0.5 0 1 0 1.1 0a0.5 0.5 0 1 0 -1.1 0" fill="#00ee00"/>
<path d="M325.2 283.3 326.6 279.7 330.1 271.2 333.7 261.6 337.3 252.2 340.8 244.5 344.4 240.6 347.9 235.4 351.5 232 355.1 231.1 358.6 227.2 362.2 225.5 365.7 224.1 369.3 224.2 372.8 225.6 376.4 228.2 380 228.4 383.5 225.8 387.1 226.4 390.6 225.3 394.2 224 397.7 224.1 401.3 226.2 404.9 225.4 408.4 225.4 412 229.1 415.5 227.2 419.1 228.8 422.6 231.5 426.2 230.1 429.8 232.7 433.3 233.8 436.9 234 440.4 238.9 444 237.4 447.6 237.3 451.1 237.9 454.7 239.8 458.2 240.4 461.8 241.5 465.3 241.5 468.9 243 472.5 245.4 476 244.6 479.6 246 483.1 248 486.7 250.3 490.2 252.7 493.8 254.5 497.4 257.5 500.9 260.7 504.5 263.8 508 266.2 511.6 269.5 515.2 272.4 518.7 274.1 522.3 278.3" fill="none" stroke="#00ee00" stroke-width="0.5"/>
<path d="M324.6 283.3a0.5 0.5 0 1 0 1.1 0a0.5 0.5 0 1 0 -1.1 0M326 279.7a0.5 0.5 0 1 0 1.1 0a0.5 0.5 0 1 0 -1.1 0M329.6 271.2a0.5 0.5 0 1 0 1.1 0a0.5 0.5 0 1 0 -1.1 0M333.2 261.6a0.5 0.5 0 1 0 1.1 0a0.5 0.5 0 1 0 -1.1 0M336.7 252.2a0.5 0.5 0 1 0 1.1 0a0.5 0.5 0 1 0 -1.1 0M340.3 244.5a0.5 0.5 0 1 0 1.1 0a0.5 0.5 0 1 0 -1.1 0M343.8 240.6a0.5 0.5 0 1 0 1.1 0a0.5 0.5 0 1 0 -1.1 0M347.4 235.4a0.5 0.5 0 1 0 1.1 0a0.5 0.5 0 1 0 -1.1 0M351 232a0.5 0.5 0 1 0 1.1 0a0.5 0.5 0 1 0 -1.1 0M354.5 231.1a0.5 0.5 0 1 0 1.1 0a0.5 0.5 0 1 0 -1.1 0M358.1 227.2a0.5 0.5 0 1 0 1.1 0a0.5 0.5 0 1 0 -1.1 0M361.6 225.5a0.5 0.5 0 1 0 1.1 0a0.5 0.5 0 1 0 -1.1 0M365.2 224.1a0.5 0.5 0 1 0 1.1 0a0.5 0.5 0 1 0 -1.1 0M368.7 224.2a0.5 0.5 0 1 0 1.1 0a0.5 0.5 0 1 0 -1.1 0M372.3 225.6a0.5 0.5 0 1 0 1.1 0a0.5 0.5 0 1 0 -1.1 0M375.9 228.2a0.5 0.5 0 1 0 1.1 0a0.5 0.5 0 1 0 -1.1 0M379.4 228.4a0.5 0.5 0 1 0 1.1 0a0.5 0.5 0 1 0 -1.1 0M383 225.8a0.5 0.5 0 1 0 1.1 0a0.5 0.5 0 1 0 -1.1 0M386.5 226.4a0.5 0.5 0 1 0 1.1 0a0.5 0.5 0 1 0 -1.1 0M390.1 225.3a0.5 0.5 0 1 0 1.1 0a0.5 0.5 0 1 0 -1.1 0M393.6 224a0.5 0.5 0 1 0 1.1 0a0.5 0.5 0 1 0 -1.1 0M397.2 224.1a0.5 0.5 0 1 0 1.1 0a0.5 0.5 0 1 0 -1.1 0M400.8 226.2a0.5 0.5 0 1 0 1.1 0a0.5 0.5 0 1 0 -1.1 0M404.3 225.4a0.5 0.5 0 1 0 1.1 0a0.5 0.5 0 1 0 -1.1 0M407.9 225.4a0.5 0.5 0 1 0 1.1 0a0.5 0.5 0 1 0 -1.1 0M411.4 229.1a0.5 0.5 0 1 0 1.1 0a0.5 0.5 0 1 0 -1.1 0M415 227.2a0.5 0.5 0 1 0 1.1 0a0.5 0.5 0 1 0 -1.1 0M418.6 228.8a0.5 0.5 0 1 0 1.1 0a0.5 0.5 0 1 0 -1.1 0M422.1 231.5a0.5 0.5 0 1 0 1.1 0a0.5 0.5 0 1 0 -1.1 0M425.7 230.1a0.5 0.5 0 1 0 1.1 0a0.5 0.5 0 1 0 -1.1 0M429.2 232.7a0.5 0.5 0 1 0 1.1 0a0.5 0.5 0 1 0 -1.1 0M432.8 233.8a0.5 0.5 0 1 0 1.1 0a0.5 0.5 0 1 0 -1.1 0M436.3 234a0.5 0.5 0 1 0 1.1 0a0.5 0.5 0 1 0 -1.1 0M439.9 238.9a0.5 0.5 0 1 0 1.1 0a0.5 0.5 0 1 0 -1.1 0M443.5 237.4a0.5 0.5 0 1 0 1.1 0a0.5 0.5 0 1 0 -1.1 0M447 237.3a0.5 0.5 0 1 0 1.1 0a0.5 0.5 0 1 0 -1.1 0M450.6 237.9a0.5 0.5 0 1 0 1.1 0a0.5 0.5 0 1 0 -1.1 0M454.1 239.8a0.5 0.5 0 1 0 1.1 0a0.5 0.5 0 1 0 -1.1 0M457.7 240.4a0.5 0.5 0 1 0 1.1 0a0.5 0.5 0 1 0 -1.1 0M461.2 241.5a0.5 0.5 0 1 0 1.1 0a0.5 0.5 0 1 0 -1.1 0M464.8 241.5a0.5 0.5 0 1 0 1.1 0a0.5 0.5 0 1 0 -1.1 0M468.4 243a0.5 0.5 0 1 0 1.1 0a0.5 0.5 0 1 0 -1.1 0M471.9 245.4a0.5 0.5 0 1 0 1.1 0a0.5 0.5 0 1 0 -1.1 0M475.5 244.6a0.5 0.5 0 1 0 1.1 0a0.5 0.5 0 1 0 -1.1 0M479 246a0.5 0.5 0 1 0 1.1 0a0.5 0.5 0 1 0 -1.1 0M482.6 248a0.5 0.5 0 1 0 1.1 0a0.5 0.5 0 1 0 -1.1 0M486.2 250.3a0.5 0.5 0 1 0 1.1 0a0.5 0.5 0 1 0 -1.1 0M489.7 252.7a0.5 0.5 0 1 0 1.1 0a0.5 0.5 0 1 0 -1.1 0M493.3 254.5a0.5 0.5 0 1 0 1.1 0a0.5 0.5 0 1 0 -1.1 0M496.8 257.5a0.5 0.5 0 1 0 1.1 0a0.5 0.5 0 1 0 -1.1 0M500.4 260.7a0.5 0.5 0 1 0 1.1 0a0.5 0.5 0 1 0 -1.1 0M503.9 263.8a0.5 0.5 0 1 0 1.1 0a0.5 0.5 0 1 0 -1.1 0M507.5 266.2a0.5 0.5 0 1 0 1.1 0a0.5 0.5 0 1 0 -1.1 0M511.1 269.5a0.5 0.5 0 1 0 1.1 0a0.5 0.5 0 1 0 -1.1 0M514.6 272.4a0.5 0.5 0 1 0 1.1 0a0.5 0.5 0 1 0 -1.1 0M518.2 274.1a0.5 0.5 0 1 0 1.1 0a0.5 0.5 0 1 0 -1.1 0M521.7 278.3a0.5 0.5 0 1 0 1.1 0a0.5 0.5 0 1 0 -1.1 0" fill="#00ee00"/>
<path d="M324.5 283.3 326.6 278.8 330.1 272.1 333.7 264.6 337.3 258.5 340.8 247.1 344.4 239.2 347.9 236.6 351.5 232.6 355.1 227.6 358.6 223.4 362.2 224.2 365.7 221.4 369.3 220 372.8 219.5 376.4 216.4 380 216.6 383.5 217.4 387.1 216.4 390.6 216.4 394.2 215.9 397.7 215.3 401.3 213.4 404.9 215.4 408.4 216.8 412 217.9 415.5 218 419.1 220.5 422.6 222.7 426.2 222.7 429.8 222.5 433.3 226.3 436.9 227.2 440.4 229.2 444 229.5 447.6 231.4 451.1 234.3 454.7 232.6 458.2 235.5 461.8 236.8 465.3 236.9 468.9 236.8 472.5 236.4 476 238.6 479.6 240 483.1 239 486.7 239.7 490.2 244.9 493.8 247.8 497.4 250.9 500.9 254.9 504.5 259.3 508 261.3 511.6 267.1 515.2 271.7 518.7 274.6 522.3 279.3" fill="none" stroke="#00ee00" stroke-width="0.5"/>
<path d="M323.9 283.3a0.5 0.5 0 1 0 1.1 0a0.5 0.5 0 1 0 -1.1 0M326 278.8a0.5 0.5 0 1 0 1.1 0a0.5 0.5 0 1 0 -1.1 0M329.6 272.1a0.5 0.5 0 1 0 1.1 0a0.5 0.5 0 1 0 -1.1 0M333.2 264.6a0.5 0.5 0 1 0 1.1 0a0.5 0.5 0 1 0 -1.1 0M336.7 258.5a0.5 0.5 0 1 0 1.1 0a0.5 0.5 0 1 0 -1.1 0M340.3 247.1a0.5 0.5 0 1 0 1.1 0a0.5 0.5 0 1 0 -1.1 0M343.8 239.2a0.5 0.5 0 1 0 1.1 0a0.5 0.5 0 1 0 -1.1 0M347.4 236.6a0.5 0.5 0 1 0 1.1 0a0.5 0.5 0 1 0 -1.1 0M351 232.6a0.5 0.5 0 1 0 1.1 0a0.5 0.5 0 1 0 -1.1 0M354.5 227.6a0.5 0.5 0 1 0 1.1 0a0.5 0.5 0 1 0 -1.1 0M358.1 223.4a0.5 0.5 0 1 0 1.1 0a0.5 0.5 0 1 0 -1.1 0M361.6 224.2a0.5 0.5 0 1 0 1.1 0a0.5 0.5 0 1 0 -1.1 0M365.2 221.4a0.5 0.5 0 1 0 1.1 0a0.5 0.5 0 1 0 -1.1 0M368.7 220a0.5 0.5 0 1 0 1.1 0a0.5 0.5 0 1 0 -1.1 0M372.3 219.5a0.5 0.5 0 1 0 1.1 0a0.5 0.5 0 1 0 -1.1 0M375.9 216.4a0.5 0.5 0 1 0 1.1 0a0.5 0.5 0 1 0 -1.1 0M379.4 216.6a0.5 0.5 0 1 0 1.1 0a0.5 0.5 0 1 0 -1.1 0M383 217.4a0.5 0.5 0 1 0 1.1 0a0.5 0.5 0 1 0 -1.1 0M386.5 216.4a0.5 0.5 0 1 0 1.1 0a0.5 0.5 0 1 0 -1.1 0M390.1 216.4a0.5 0.5 0 1 0 1.1 0a0.5 0.5 0 1 0 -1.1 0M393.6 215.9a0.5 0.5 0 1 0 1.1 0a0.5 0.5 0 1 0 -1.1 0M397.2 215.3a0.5 0.5 0 1 0 1.1 0a0.5 0.5 0 1 0 -1.1 0M400.8 213.4a0.5 0.5 0 1 0 1.1 0a0.5 0.5 0 1 0 -1.1 0M404.3 215.4a0.5 0.5 0 1 0 1.1 0a0.5 0.5 0 1 0 -1.1 0M407.9 216.8a0.5 0.5 0 1 0 1.1 0a0.5 0.5 0 1 0 -1.1 0M411.4 217.9a0.5 0.5 0 1 0 1.1 0a0.5 0.5 0 1 0 -1.1 0M415 218a0.5 0.5 0 1 0 1.1 0a0.5 0.5 0 1 0 -1.1 0M418.6 220.5a0.5 0.5 0 1 0 1.1 0a0.5 0.5 0 1 0 -1.1 0M422.1 222.7a0.5 0.5 0 1 0 1.1 0a0.5 0.5 0 1 0 -1.1 0M425.7 222.7a0.5 0.5 0 1 0 1.1 0a0.5 0.5 0 1 0 -1.1 0M429.2 222.5a0.5 0.5 0 1 0 1.1 0a0.5 0.5 0 1 0 -1.1 0M432.8 226.3a0.5 0.5 0 1 0 1.1 0a0.5 0.5 0 1 0 -1.1 0M436.3 227.2a0.5 0.5 0 1 0 1.1 0a0.5 0.5 0 1 0 -1.1 0M439.9 229.2a0.5 0.5 0 1 0 1.1 0a0.5 0.5 0 1 0 -1.1 0M443.5 229.5a0.5 0.5 0 1 0 1.1 0a0.5 0.5 0 1 0 -1.1 0M447 231.4a0.5 0.5 0 1 0 1.1 0a0.5 0.5 0 1 0 -1.1 0M450.6 234.3a0.5 0.5 0 1 0 1.1 0a0.5 0.5 0 1 0 -1.1 0M454.1 232.6a0.5 0.5 0 1 0 1.1 0a0.5 0.5 0 1 0 -1.1 0M457.7 235.5a0.5 0.5 0 1 0 1.1 0a0.5 0.5 0 1 0 -1.1 0M461.2 236.8a0.5 0.5 0 1 0 1.1 0a0.5 0.5 0 1 0 -1.1 0M464.8 236.9a0.5 0.5 0 1 0 1.1 0a0.5 0.5 0 1 0 -1.1 0M468.4 236.8a0.5 0.5 0 1 0 1.1 0a0.5 0.5 0 1 0 -1.1 0M471.9 236.4a0.5 0.5 0 1 0 1.1 0a0.5 0.5 0 1 0 -1.1 0M475.5 238.6a0.5 0.5 0 1 0 1.1 0a0.5 0.5 0 1 0 -1.1 0M479 240a0.5 0.5 0 1 0 1.1 0a0.5 0.5 0 1 0 -1.1 0M482.6 239a0.5 0.5 0 1 0 1.1 0a0.5 0.5 0 1 0 -1.1 0M486.2 239.7a0.5 0.5 0 1 0 1.1 0a0.5 0.5 0 1 0 -1.1 0M489.7 244.9a0.5 0.5 0 1 0 1.1 0a0.5 0.5 0 1 0 -1.1 0M493.3 247.8a0.5 0.5 0 1 0 1.1 0a0.5 0.5 0 1 0 -1.1 0M496.8 250.9a0.5 0.5 0 1 0 1.1 0a0.5 0.5 0 1 0 -1.1 0M500.4 254.9a0.5 0.5 0 1 0 1.1 0a0.5 0.5 0 1 0 -1.1 0M503.9 259.3a0.5 0.5 0 1 0 1.1 0a0.5 0.5 0 1 0 -1.1 0M507.5 261.3a0.5 0.5 0 1 0 1.1 0a0.5 0.5 0 1 0 -1.1 0M511.1 267.1a0.5 0.5 0 1 0 1.1 0a0.5 0.5 0 1 0 -1.1 0M514.6 271.7a0.5 0.5 0 1 0 1.1 0a0.5 0.5 0 1 0 -1.1 0M518.2 274.6a0.5 0.5 0 1 0 1.1 0a0.5 0.5 0 1 0 -1.1 0M521.7 279.3a0.5 0.5 0 1 0 1.1 0a0.5 0.5 0 1 0 -1.1 0" fill="#00ee00"/>
<text x="308.8" y="294.3" text-anchor="middle">04:00</text>
<text x="337.3" y="294.3" text-anchor="middle">06:00</text>
<text x="365.7" y="294.3" text-anchor="middle">08:00</text>
<text x="394.2" y="294.3" text-anchor="middle">10:00</text>
<text x="422.6" y="294.3" text-anchor="middle">12:00</text>
<text x="451.1" y="294.3" text-anchor="middle">14:00</text>
<text x="479.6" y="294.3" text-anchor="middle">16:00</text>
<text x="508" y="294.3" text-anchor="middle">18:00</text>
<text x="536.5" y="294.3" text-anchor="middle">20:00</text>
<text x="306.2" y="286.9" text-anchor="end">0</text>
<text x="306.2" y="267.8" text-anchor="end">20</text>
<text x="306.2" y="248.6" text-anchor="end">40</text>
<text x="306.2" y="229.5" text-anchor="end">60</text>
<text x="306.2" y="210.4" text-anchor="end">80</text>
<text x="306.2" y="191.2" text-anchor="end">100</text>
<text x="306.2" y="172.1" text-anchor="end">120</text>
<text x="422.6" y="165.2" text-anchor="middle" font-size="9.05">Euclidean distance at similar-time for sunny target days</text>
<text x="422.6" y="304.8" text-anchor="middle" font-size="8.8">similar-time</text>
<text transform="translate(290.9 225.9) rotate(-90)" text-anchor="middle" font-size="9.2">Distance</text>
<rect x="490.2" y="172.8" width="42" height="26.6" fill="#fff" stroke="#999" stroke-width="0.8"/>
<line x1="492.4" y1="177.8" x2="507" y2="177.8" stroke="#00ffff" stroke-width="0.4" stroke-opacity="0.7"/>
<path d="M497.9 177.8l3.1 -1.8v3.6z" fill="none" stroke="#00ffff" stroke-width="0.75"/>
<text x="508.2" y="180.7" font-size="7.3">1 May</text>
<line x1="492.4" y1="186.2" x2="507" y2="186.2" stroke="#ff00ff" stroke-width="0.4" stroke-opacity="0.7"/>
<path d="M498.2 186.2a1.5 1.5 0 1 0 3.1 0a1.5 1.5 0 1 0 -3.1 0" fill="none" stroke="#ff00ff" stroke-width="0.75"/>
<text x="508.2" y="189.1" font-size="7.3">9 May</text>
<line x1="492.4" y1="194.7" x2="507" y2="194.7" stroke="#00ee00" stroke-width="0.4" stroke-opacity="0.7"/>
<path d="M498.8 194.7a0.9 0.9 0 1 0 1.8 0a0.9 0.9 0 1 0 -1.8 0" fill="#00ee00" stroke="#00ee00" stroke-width="0.6"/>
<text x="508.2" y="197.6" font-size="7.3">29 May</text>
</svg></body></html>
